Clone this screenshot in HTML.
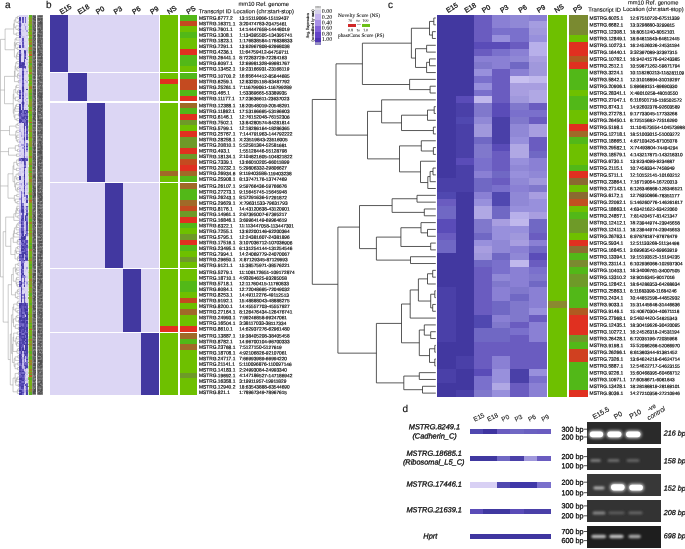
<!DOCTYPE html>
<html><head><meta charset="utf-8"><title>Figure</title>
<style>html,body{margin:0;padding:0;background:#fff;}svg{display:block;}</style></head>
<body><svg width="685" height="549" viewBox="0 0 685 549"><rect width="685" height="549" fill="#ffffff"/><text x="5.00" y="7.90" transform="rotate(0.1,5.00,7.90)" font-size="10.0" font-family="Liberation Sans, Arial, sans-serif" text-anchor="start" fill="#111111" stroke="#111111" stroke-width="0.15" >a</text>
<text x="46.10" y="7.90" transform="rotate(0.1,46.10,7.90)" font-size="10.0" font-family="Liberation Sans, Arial, sans-serif" text-anchor="start" fill="#111111" stroke="#111111" stroke-width="0.15" >b</text>
<text x="387.90" y="8.00" transform="rotate(0.1,387.90,8.00)" font-size="10.0" font-family="Liberation Sans, Arial, sans-serif" text-anchor="start" fill="#111111" stroke="#111111" stroke-width="0.15" >c</text>
<text x="402.40" y="411.90" transform="rotate(0.1,402.40,411.90)" font-size="10.0" font-family="Liberation Sans, Arial, sans-serif" text-anchor="start" fill="#111111" stroke="#111111" stroke-width="0.15" >d</text>
<rect x="50.30" y="15.10" width="108.60" height="56.52" fill="#dcd6f4" shape-rendering="crispEdges" />
<rect x="50.30" y="15.10" width="18.10" height="56.52" fill="#4238a0" shape-rendering="crispEdges" />
<rect x="160.30" y="15.10" width="17.70" height="5.70" fill="#6ec000" shape-rendering="crispEdges" />
<rect x="179.90" y="15.10" width="17.40" height="5.70" fill="#52b818" shape-rendering="crispEdges" />
<text x="199.00" y="19.68" transform="rotate(0.1,199.00,19.68)" font-size="4.85" font-family="Liberation Sans, Arial, sans-serif" text-anchor="start" fill="#111111" stroke="#111111" stroke-width="0.2" >MSTRG.6777.2</text>
<text x="239.20" y="19.68" transform="rotate(0.1,239.20,19.68)" font-size="4.75" font-family="Liberation Sans, Arial, sans-serif" text-anchor="start" fill="#111111" stroke="#111111" stroke-width="0.2" >13:15119066-15119437</text>
<rect x="160.30" y="20.75" width="17.70" height="5.70" fill="#6ec000" shape-rendering="crispEdges" />
<rect x="179.90" y="20.75" width="17.40" height="5.70" fill="#c44a20" shape-rendering="crispEdges" />
<text x="199.00" y="25.33" transform="rotate(0.1,199.00,25.33)" font-size="4.85" font-family="Liberation Sans, Arial, sans-serif" text-anchor="start" fill="#111111" stroke="#111111" stroke-width="0.2" >MSTRG.16371.1</text>
<text x="239.20" y="25.33" transform="rotate(0.1,239.20,25.33)" font-size="4.75" font-family="Liberation Sans, Arial, sans-serif" text-anchor="start" fill="#111111" stroke="#111111" stroke-width="0.2" >3:20474783-20475461</text>
<rect x="160.30" y="26.40" width="17.70" height="5.70" fill="#6ec000" shape-rendering="crispEdges" />
<rect x="179.90" y="26.40" width="17.40" height="5.70" fill="#6ec000" shape-rendering="crispEdges" />
<text x="199.00" y="30.98" transform="rotate(0.1,199.00,30.98)" font-size="4.85" font-family="Liberation Sans, Arial, sans-serif" text-anchor="start" fill="#111111" stroke="#111111" stroke-width="0.2" >MSTRG.7601.1</text>
<text x="239.20" y="30.98" transform="rotate(0.1,239.20,30.98)" font-size="4.75" font-family="Liberation Sans, Arial, sans-serif" text-anchor="start" fill="#111111" stroke="#111111" stroke-width="0.2" >14:14447658-14448019</text>
<rect x="160.30" y="32.06" width="17.70" height="5.70" fill="#6ec000" shape-rendering="crispEdges" />
<rect x="179.90" y="32.06" width="17.40" height="5.70" fill="#52b818" shape-rendering="crispEdges" />
<text x="199.00" y="36.63" transform="rotate(0.1,199.00,36.63)" font-size="4.85" font-family="Liberation Sans, Arial, sans-serif" text-anchor="start" fill="#111111" stroke="#111111" stroke-width="0.2" >MSTRG.1308.1</text>
<text x="239.20" y="36.63" transform="rotate(0.1,239.20,36.63)" font-size="4.75" font-family="Liberation Sans, Arial, sans-serif" text-anchor="start" fill="#111111" stroke="#111111" stroke-width="0.2" >1:134395505-134395741</text>
<rect x="160.30" y="37.71" width="17.70" height="5.70" fill="#6ec000" shape-rendering="crispEdges" />
<rect x="179.90" y="37.71" width="17.40" height="5.70" fill="#6ec000" shape-rendering="crispEdges" />
<text x="199.00" y="42.28" transform="rotate(0.1,199.00,42.28)" font-size="4.85" font-family="Liberation Sans, Arial, sans-serif" text-anchor="start" fill="#111111" stroke="#111111" stroke-width="0.2" >MSTRG.1823.1</text>
<text x="239.20" y="42.28" transform="rotate(0.1,239.20,42.28)" font-size="4.75" font-family="Liberation Sans, Arial, sans-serif" text-anchor="start" fill="#111111" stroke="#111111" stroke-width="0.2" >1:176838584-176838833</text>
<rect x="160.30" y="43.36" width="17.70" height="5.70" fill="#6ec000" shape-rendering="crispEdges" />
<rect x="179.90" y="43.36" width="17.40" height="5.70" fill="#6ec000" shape-rendering="crispEdges" />
<text x="199.00" y="47.94" transform="rotate(0.1,199.00,47.94)" font-size="4.85" font-family="Liberation Sans, Arial, sans-serif" text-anchor="start" fill="#111111" stroke="#111111" stroke-width="0.2" >MSTRG.7291.1</text>
<text x="239.20" y="47.94" transform="rotate(0.1,239.20,47.94)" font-size="4.75" font-family="Liberation Sans, Arial, sans-serif" text-anchor="start" fill="#111111" stroke="#111111" stroke-width="0.2" >13:62967808-62968038</text>
<rect x="160.30" y="49.01" width="17.70" height="5.70" fill="#6ec000" shape-rendering="crispEdges" />
<rect x="179.90" y="49.01" width="17.40" height="5.70" fill="#e03020" shape-rendering="crispEdges" />
<text x="199.00" y="53.59" transform="rotate(0.1,199.00,53.59)" font-size="4.85" font-family="Liberation Sans, Arial, sans-serif" text-anchor="start" fill="#111111" stroke="#111111" stroke-width="0.2" >MSTRG.4236.1</text>
<text x="239.20" y="53.59" transform="rotate(0.1,239.20,53.59)" font-size="4.75" font-family="Liberation Sans, Arial, sans-serif" text-anchor="start" fill="#111111" stroke="#111111" stroke-width="0.2" >11:64759412-64759711</text>
<rect x="160.30" y="54.66" width="17.70" height="5.70" fill="#6ec000" shape-rendering="crispEdges" />
<rect x="179.90" y="54.66" width="17.40" height="5.70" fill="#52b818" shape-rendering="crispEdges" />
<text x="199.00" y="59.24" transform="rotate(0.1,199.00,59.24)" font-size="4.85" font-family="Liberation Sans, Arial, sans-serif" text-anchor="start" fill="#111111" stroke="#111111" stroke-width="0.2" >MSTRG.26441.1</text>
<text x="239.20" y="59.24" transform="rotate(0.1,239.20,59.24)" font-size="4.75" font-family="Liberation Sans, Arial, sans-serif" text-anchor="start" fill="#111111" stroke="#111111" stroke-width="0.2" >8:72283729-72284163</text>
<rect x="160.30" y="60.32" width="17.70" height="5.70" fill="#6ec000" shape-rendering="crispEdges" />
<rect x="179.90" y="60.32" width="17.40" height="5.70" fill="#52b818" shape-rendering="crispEdges" />
<text x="199.00" y="64.89" transform="rotate(0.1,199.00,64.89)" font-size="4.85" font-family="Liberation Sans, Arial, sans-serif" text-anchor="start" fill="#111111" stroke="#111111" stroke-width="0.2" >MSTRG.6097.1</text>
<text x="239.20" y="64.89" transform="rotate(0.1,239.20,64.89)" font-size="4.75" font-family="Liberation Sans, Arial, sans-serif" text-anchor="start" fill="#111111" stroke="#111111" stroke-width="0.2" >12:69981328-69981767</text>
<rect x="160.30" y="65.97" width="17.70" height="5.70" fill="#6ec000" shape-rendering="crispEdges" />
<rect x="179.90" y="65.97" width="17.40" height="5.70" fill="#6ec000" shape-rendering="crispEdges" />
<text x="199.00" y="70.54" transform="rotate(0.1,199.00,70.54)" font-size="4.85" font-family="Liberation Sans, Arial, sans-serif" text-anchor="start" fill="#111111" stroke="#111111" stroke-width="0.2" >MSTRG.13452.1</text>
<text x="239.20" y="70.54" transform="rotate(0.1,239.20,70.54)" font-size="4.75" font-family="Liberation Sans, Arial, sans-serif" text-anchor="start" fill="#111111" stroke="#111111" stroke-width="0.2" >19:23166931-23168119</text>
<rect x="50.30" y="73.02" width="108.60" height="28.26" fill="#dcd6f4" shape-rendering="crispEdges" />
<rect x="68.40" y="73.02" width="18.10" height="28.26" fill="#4238a0" shape-rendering="crispEdges" />
<rect x="160.30" y="73.02" width="17.70" height="5.70" fill="#6ec000" shape-rendering="crispEdges" />
<rect x="179.90" y="73.02" width="17.40" height="5.70" fill="#52b818" shape-rendering="crispEdges" />
<text x="199.00" y="77.60" transform="rotate(0.1,199.00,77.60)" font-size="4.85" font-family="Liberation Sans, Arial, sans-serif" text-anchor="start" fill="#111111" stroke="#111111" stroke-width="0.2" >MSTRG.10700.2</text>
<text x="239.20" y="77.60" transform="rotate(0.1,239.20,77.60)" font-size="4.75" font-family="Liberation Sans, Arial, sans-serif" text-anchor="start" fill="#111111" stroke="#111111" stroke-width="0.2" >16:85644412-85644685</text>
<rect x="160.30" y="78.67" width="17.70" height="5.70" fill="#e03020" shape-rendering="crispEdges" />
<rect x="179.90" y="78.67" width="17.40" height="5.70" fill="#c44a20" shape-rendering="crispEdges" />
<text x="199.00" y="83.25" transform="rotate(0.1,199.00,83.25)" font-size="4.85" font-family="Liberation Sans, Arial, sans-serif" text-anchor="start" fill="#111111" stroke="#111111" stroke-width="0.2" >MSTRG.6259.1</text>
<text x="239.20" y="83.25" transform="rotate(0.1,239.20,83.25)" font-size="4.75" font-family="Liberation Sans, Arial, sans-serif" text-anchor="start" fill="#111111" stroke="#111111" stroke-width="0.2" >12:83205158-83487792</text>
<rect x="160.30" y="84.32" width="17.70" height="5.70" fill="#6ec000" shape-rendering="crispEdges" />
<rect x="179.90" y="84.32" width="17.40" height="5.70" fill="#c44a20" shape-rendering="crispEdges" />
<text x="199.00" y="88.90" transform="rotate(0.1,199.00,88.90)" font-size="4.85" font-family="Liberation Sans, Arial, sans-serif" text-anchor="start" fill="#111111" stroke="#111111" stroke-width="0.2" >MSTRG.25261.1</text>
<text x="239.20" y="88.90" transform="rotate(0.1,239.20,88.90)" font-size="4.75" font-family="Liberation Sans, Arial, sans-serif" text-anchor="start" fill="#111111" stroke="#111111" stroke-width="0.2" >7:116799061-116799289</text>
<rect x="160.30" y="89.98" width="17.70" height="5.70" fill="#6ec000" shape-rendering="crispEdges" />
<rect x="179.90" y="89.98" width="17.40" height="5.70" fill="#52b818" shape-rendering="crispEdges" />
<text x="199.00" y="94.55" transform="rotate(0.1,199.00,94.55)" font-size="4.85" font-family="Liberation Sans, Arial, sans-serif" text-anchor="start" fill="#111111" stroke="#111111" stroke-width="0.2" >MSTRG.465.1</text>
<text x="239.20" y="94.55" transform="rotate(0.1,239.20,94.55)" font-size="4.75" font-family="Liberation Sans, Arial, sans-serif" text-anchor="start" fill="#111111" stroke="#111111" stroke-width="0.2" >1:53389665-53389935</text>
<rect x="160.30" y="95.63" width="17.70" height="5.70" fill="#6ec000" shape-rendering="crispEdges" />
<rect x="179.90" y="95.63" width="17.40" height="5.70" fill="#e03020" shape-rendering="crispEdges" />
<text x="199.00" y="100.20" transform="rotate(0.1,199.00,100.20)" font-size="4.85" font-family="Liberation Sans, Arial, sans-serif" text-anchor="start" fill="#111111" stroke="#111111" stroke-width="0.2" >MSTRG.11177.1</text>
<text x="239.20" y="100.20" transform="rotate(0.1,239.20,100.20)" font-size="4.75" font-family="Liberation Sans, Arial, sans-serif" text-anchor="start" fill="#111111" stroke="#111111" stroke-width="0.2" >17:23636611-23637023</text>
<rect x="50.30" y="102.68" width="108.60" height="79.13" fill="#dcd6f4" shape-rendering="crispEdges" />
<rect x="86.50" y="102.68" width="18.10" height="79.13" fill="#4238a0" shape-rendering="crispEdges" />
<rect x="160.30" y="102.68" width="17.70" height="5.70" fill="#6ec000" shape-rendering="crispEdges" />
<rect x="179.90" y="102.68" width="17.40" height="5.70" fill="#a06a28" shape-rendering="crispEdges" />
<text x="199.00" y="107.26" transform="rotate(0.1,199.00,107.26)" font-size="4.85" font-family="Liberation Sans, Arial, sans-serif" text-anchor="start" fill="#111111" stroke="#111111" stroke-width="0.2" >MSTRG.12388.1</text>
<text x="239.20" y="107.26" transform="rotate(0.1,239.20,107.26)" font-size="4.75" font-family="Liberation Sans, Arial, sans-serif" text-anchor="start" fill="#111111" stroke="#111111" stroke-width="0.2" >18:20548019-20548291</text>
<rect x="160.30" y="108.33" width="17.70" height="5.70" fill="#6ec000" shape-rendering="crispEdges" />
<rect x="179.90" y="108.33" width="17.40" height="5.70" fill="#52b818" shape-rendering="crispEdges" />
<text x="199.00" y="112.91" transform="rotate(0.1,199.00,112.91)" font-size="4.85" font-family="Liberation Sans, Arial, sans-serif" text-anchor="start" fill="#111111" stroke="#111111" stroke-width="0.2" >MSTRG.11862.1</text>
<text x="239.20" y="112.91" transform="rotate(0.1,239.20,112.91)" font-size="4.75" font-family="Liberation Sans, Arial, sans-serif" text-anchor="start" fill="#111111" stroke="#111111" stroke-width="0.2" >17:53196695-53196903</text>
<rect x="160.30" y="113.98" width="17.70" height="5.70" fill="#6ec000" shape-rendering="crispEdges" />
<rect x="179.90" y="113.98" width="17.40" height="5.70" fill="#e03020" shape-rendering="crispEdges" />
<text x="199.00" y="118.56" transform="rotate(0.1,199.00,118.56)" font-size="4.85" font-family="Liberation Sans, Arial, sans-serif" text-anchor="start" fill="#111111" stroke="#111111" stroke-width="0.2" >MSTRG.6146.1</text>
<text x="239.20" y="118.56" transform="rotate(0.1,239.20,118.56)" font-size="4.75" font-family="Liberation Sans, Arial, sans-serif" text-anchor="start" fill="#111111" stroke="#111111" stroke-width="0.2" >12:76152048-76152306</text>
<rect x="160.30" y="119.64" width="17.70" height="5.70" fill="#6ec000" shape-rendering="crispEdges" />
<rect x="179.90" y="119.64" width="17.40" height="5.70" fill="#6e9a28" shape-rendering="crispEdges" />
<text x="199.00" y="124.21" transform="rotate(0.1,199.00,124.21)" font-size="4.85" font-family="Liberation Sans, Arial, sans-serif" text-anchor="start" fill="#111111" stroke="#111111" stroke-width="0.2" >MSTRG.7502.1</text>
<text x="239.20" y="124.21" transform="rotate(0.1,239.20,124.21)" font-size="4.75" font-family="Liberation Sans, Arial, sans-serif" text-anchor="start" fill="#111111" stroke="#111111" stroke-width="0.2" >13:84280574-84281814</text>
<rect x="160.30" y="125.29" width="17.70" height="5.70" fill="#6ec000" shape-rendering="crispEdges" />
<rect x="179.90" y="125.29" width="17.40" height="5.70" fill="#6ec000" shape-rendering="crispEdges" />
<text x="199.00" y="129.86" transform="rotate(0.1,199.00,129.86)" font-size="4.85" font-family="Liberation Sans, Arial, sans-serif" text-anchor="start" fill="#111111" stroke="#111111" stroke-width="0.2" >MSTRG.5799.1</text>
<text x="239.20" y="129.86" transform="rotate(0.1,239.20,129.86)" font-size="4.75" font-family="Liberation Sans, Arial, sans-serif" text-anchor="start" fill="#111111" stroke="#111111" stroke-width="0.2" >12:18286164-18286365</text>
<rect x="160.30" y="130.94" width="17.70" height="5.70" fill="#6ec000" shape-rendering="crispEdges" />
<rect x="179.90" y="130.94" width="17.40" height="5.70" fill="#e03020" shape-rendering="crispEdges" />
<text x="199.00" y="135.52" transform="rotate(0.1,199.00,135.52)" font-size="4.85" font-family="Liberation Sans, Arial, sans-serif" text-anchor="start" fill="#111111" stroke="#111111" stroke-width="0.2" >MSTRG.25767.1</text>
<text x="239.20" y="135.52" transform="rotate(0.1,239.20,135.52)" font-size="4.75" font-family="Liberation Sans, Arial, sans-serif" text-anchor="start" fill="#111111" stroke="#111111" stroke-width="0.2" >7:144791963-144792222</text>
<rect x="160.30" y="136.59" width="17.70" height="5.70" fill="#6ec000" shape-rendering="crispEdges" />
<rect x="179.90" y="136.59" width="17.40" height="5.70" fill="#6e9a28" shape-rendering="crispEdges" />
<text x="199.00" y="141.17" transform="rotate(0.1,199.00,141.17)" font-size="4.85" font-family="Liberation Sans, Arial, sans-serif" text-anchor="start" fill="#111111" stroke="#111111" stroke-width="0.2" >MSTRG.28258.1</text>
<text x="239.20" y="141.17" transform="rotate(0.1,239.20,141.17)" font-size="4.75" font-family="Liberation Sans, Arial, sans-serif" text-anchor="start" fill="#111111" stroke="#111111" stroke-width="0.2" >X:23519843-23516005</text>
<rect x="160.30" y="142.24" width="17.70" height="5.70" fill="#6ec000" shape-rendering="crispEdges" />
<rect x="179.90" y="142.24" width="17.40" height="5.70" fill="#6e9a28" shape-rendering="crispEdges" />
<text x="199.00" y="146.82" transform="rotate(0.1,199.00,146.82)" font-size="4.85" font-family="Liberation Sans, Arial, sans-serif" text-anchor="start" fill="#111111" stroke="#111111" stroke-width="0.2" >MSTRG.20810.1</text>
<text x="239.20" y="146.82" transform="rotate(0.1,239.20,146.82)" font-size="4.75" font-family="Liberation Sans, Arial, sans-serif" text-anchor="start" fill="#111111" stroke="#111111" stroke-width="0.2" >5:52581384-52581681</text>
<rect x="160.30" y="147.90" width="17.70" height="5.70" fill="#6ec000" shape-rendering="crispEdges" />
<rect x="179.90" y="147.90" width="17.40" height="5.70" fill="#e03020" shape-rendering="crispEdges" />
<text x="199.00" y="152.47" transform="rotate(0.1,199.00,152.47)" font-size="4.85" font-family="Liberation Sans, Arial, sans-serif" text-anchor="start" fill="#111111" stroke="#111111" stroke-width="0.2" >MSTRG.493.1</text>
<text x="239.20" y="152.47" transform="rotate(0.1,239.20,152.47)" font-size="4.75" font-family="Liberation Sans, Arial, sans-serif" text-anchor="start" fill="#111111" stroke="#111111" stroke-width="0.2" >1:55128446-55128798</text>
<rect x="160.30" y="153.55" width="17.70" height="5.70" fill="#6ec000" shape-rendering="crispEdges" />
<rect x="179.90" y="153.55" width="17.40" height="5.70" fill="#6e9a28" shape-rendering="crispEdges" />
<text x="199.00" y="158.12" transform="rotate(0.1,199.00,158.12)" font-size="4.85" font-family="Liberation Sans, Arial, sans-serif" text-anchor="start" fill="#111111" stroke="#111111" stroke-width="0.2" >MSTRG.18134.1</text>
<text x="239.20" y="158.12" transform="rotate(0.1,239.20,158.12)" font-size="4.75" font-family="Liberation Sans, Arial, sans-serif" text-anchor="start" fill="#111111" stroke="#111111" stroke-width="0.2" >2:104821605-104821822</text>
<rect x="160.30" y="159.20" width="17.70" height="5.70" fill="#6ec000" shape-rendering="crispEdges" />
<rect x="179.90" y="159.20" width="17.40" height="5.70" fill="#c44a20" shape-rendering="crispEdges" />
<text x="199.00" y="163.78" transform="rotate(0.1,199.00,163.78)" font-size="4.85" font-family="Liberation Sans, Arial, sans-serif" text-anchor="start" fill="#111111" stroke="#111111" stroke-width="0.2" >MSTRG.7339.1</text>
<text x="239.20" y="163.78" transform="rotate(0.1,239.20,163.78)" font-size="4.75" font-family="Liberation Sans, Arial, sans-serif" text-anchor="start" fill="#111111" stroke="#111111" stroke-width="0.2" >13:66010205-66011899</text>
<rect x="160.30" y="164.85" width="17.70" height="5.70" fill="#6ec000" shape-rendering="crispEdges" />
<rect x="179.90" y="164.85" width="17.40" height="5.70" fill="#e03020" shape-rendering="crispEdges" />
<text x="199.00" y="169.43" transform="rotate(0.1,199.00,169.43)" font-size="4.85" font-family="Liberation Sans, Arial, sans-serif" text-anchor="start" fill="#111111" stroke="#111111" stroke-width="0.2" >MSTRG.20232.1</text>
<text x="239.20" y="169.43" transform="rotate(0.1,239.20,169.43)" font-size="4.75" font-family="Liberation Sans, Arial, sans-serif" text-anchor="start" fill="#111111" stroke="#111111" stroke-width="0.2" >5:29806332-29806627</text>
<rect x="160.30" y="170.50" width="17.70" height="5.70" fill="#a06a28" shape-rendering="crispEdges" />
<rect x="179.90" y="170.50" width="17.40" height="5.70" fill="#a06a28" shape-rendering="crispEdges" />
<text x="199.00" y="175.08" transform="rotate(0.1,199.00,175.08)" font-size="4.85" font-family="Liberation Sans, Arial, sans-serif" text-anchor="start" fill="#111111" stroke="#111111" stroke-width="0.2" >MSTRG.26934.6</text>
<text x="239.20" y="175.08" transform="rotate(0.1,239.20,175.08)" font-size="4.75" font-family="Liberation Sans, Arial, sans-serif" text-anchor="start" fill="#111111" stroke="#111111" stroke-width="0.2" >9:119403588-119403238</text>
<rect x="160.30" y="176.16" width="17.70" height="5.70" fill="#6ec000" shape-rendering="crispEdges" />
<rect x="179.90" y="176.16" width="17.40" height="5.70" fill="#52b818" shape-rendering="crispEdges" />
<text x="199.00" y="180.73" transform="rotate(0.1,199.00,180.73)" font-size="4.85" font-family="Liberation Sans, Arial, sans-serif" text-anchor="start" fill="#111111" stroke="#111111" stroke-width="0.2" >MSTRG.25908.1</text>
<text x="239.20" y="180.73" transform="rotate(0.1,239.20,180.73)" font-size="4.75" font-family="Liberation Sans, Arial, sans-serif" text-anchor="start" fill="#111111" stroke="#111111" stroke-width="0.2" >8:13747176-13747469</text>
<rect x="50.30" y="183.21" width="108.60" height="84.78" fill="#dcd6f4" shape-rendering="crispEdges" />
<rect x="104.60" y="183.21" width="18.10" height="84.78" fill="#4238a0" shape-rendering="crispEdges" />
<rect x="160.30" y="183.21" width="17.70" height="5.70" fill="#6ec000" shape-rendering="crispEdges" />
<rect x="179.90" y="183.21" width="17.40" height="5.70" fill="#a06a28" shape-rendering="crispEdges" />
<text x="199.00" y="187.78" transform="rotate(0.1,199.00,187.78)" font-size="4.85" font-family="Liberation Sans, Arial, sans-serif" text-anchor="start" fill="#111111" stroke="#111111" stroke-width="0.2" >MSTRG.26107.1</text>
<text x="239.20" y="187.78" transform="rotate(0.1,239.20,187.78)" font-size="4.75" font-family="Liberation Sans, Arial, sans-serif" text-anchor="start" fill="#111111" stroke="#111111" stroke-width="0.2" >9:59766436-59766676</text>
<rect x="160.30" y="188.86" width="17.70" height="5.70" fill="#6ec000" shape-rendering="crispEdges" />
<rect x="179.90" y="188.86" width="17.40" height="5.70" fill="#52b818" shape-rendering="crispEdges" />
<text x="199.00" y="193.44" transform="rotate(0.1,199.00,193.44)" font-size="4.85" font-family="Liberation Sans, Arial, sans-serif" text-anchor="start" fill="#111111" stroke="#111111" stroke-width="0.2" >MSTRG.27273.1</text>
<text x="239.20" y="193.44" transform="rotate(0.1,239.20,193.44)" font-size="4.75" font-family="Liberation Sans, Arial, sans-serif" text-anchor="start" fill="#111111" stroke="#111111" stroke-width="0.2" >9:15645745-15645948</text>
<rect x="160.30" y="194.51" width="17.70" height="5.70" fill="#6ec000" shape-rendering="crispEdges" />
<rect x="179.90" y="194.51" width="17.40" height="5.70" fill="#52b818" shape-rendering="crispEdges" />
<text x="199.00" y="199.09" transform="rotate(0.1,199.00,199.09)" font-size="4.85" font-family="Liberation Sans, Arial, sans-serif" text-anchor="start" fill="#111111" stroke="#111111" stroke-width="0.2" >MSTRG.26243.1</text>
<text x="239.20" y="199.09" transform="rotate(0.1,239.20,199.09)" font-size="4.75" font-family="Liberation Sans, Arial, sans-serif" text-anchor="start" fill="#111111" stroke="#111111" stroke-width="0.2" >8:57291636-57291872</text>
<rect x="160.30" y="200.16" width="17.70" height="5.70" fill="#6ec000" shape-rendering="crispEdges" />
<rect x="179.90" y="200.16" width="17.40" height="5.70" fill="#a06a28" shape-rendering="crispEdges" />
<text x="199.00" y="204.74" transform="rotate(0.1,199.00,204.74)" font-size="4.85" font-family="Liberation Sans, Arial, sans-serif" text-anchor="start" fill="#111111" stroke="#111111" stroke-width="0.2" >MSTRG.29629.1</text>
<text x="239.20" y="204.74" transform="rotate(0.1,239.20,204.74)" font-size="4.75" font-family="Liberation Sans, Arial, sans-serif" text-anchor="start" fill="#111111" stroke="#111111" stroke-width="0.2" >X:79631533-79631793</text>
<rect x="160.30" y="205.82" width="17.70" height="5.70" fill="#6ec000" shape-rendering="crispEdges" />
<rect x="179.90" y="205.82" width="17.40" height="5.70" fill="#c44a20" shape-rendering="crispEdges" />
<text x="199.00" y="210.39" transform="rotate(0.1,199.00,210.39)" font-size="4.85" font-family="Liberation Sans, Arial, sans-serif" text-anchor="start" fill="#111111" stroke="#111111" stroke-width="0.2" >MSTRG.8176.1</text>
<text x="239.20" y="210.39" transform="rotate(0.1,239.20,210.39)" font-size="4.75" font-family="Liberation Sans, Arial, sans-serif" text-anchor="start" fill="#111111" stroke="#111111" stroke-width="0.2" >14:43120638-43120901</text>
<rect x="160.30" y="211.47" width="17.70" height="5.70" fill="#6ec000" shape-rendering="crispEdges" />
<rect x="179.90" y="211.47" width="17.40" height="5.70" fill="#6e9a28" shape-rendering="crispEdges" />
<text x="199.00" y="216.04" transform="rotate(0.1,199.00,216.04)" font-size="4.85" font-family="Liberation Sans, Arial, sans-serif" text-anchor="start" fill="#111111" stroke="#111111" stroke-width="0.2" >MSTRG.14961.1</text>
<text x="239.20" y="216.04" transform="rotate(0.1,239.20,216.04)" font-size="4.75" font-family="Liberation Sans, Arial, sans-serif" text-anchor="start" fill="#111111" stroke="#111111" stroke-width="0.2" >2:67395007-67395217</text>
<rect x="160.30" y="217.12" width="17.70" height="5.70" fill="#6ec000" shape-rendering="crispEdges" />
<rect x="179.90" y="217.12" width="17.40" height="5.70" fill="#e03020" shape-rendering="crispEdges" />
<text x="199.00" y="221.70" transform="rotate(0.1,199.00,221.70)" font-size="4.85" font-family="Liberation Sans, Arial, sans-serif" text-anchor="start" fill="#111111" stroke="#111111" stroke-width="0.2" >MSTRG.16846.1</text>
<text x="239.20" y="221.70" transform="rotate(0.1,239.20,221.70)" font-size="4.75" font-family="Liberation Sans, Arial, sans-serif" text-anchor="start" fill="#111111" stroke="#111111" stroke-width="0.2" >3:69964149-69964619</text>
<rect x="160.30" y="222.77" width="17.70" height="5.70" fill="#6ec000" shape-rendering="crispEdges" />
<rect x="179.90" y="222.77" width="17.40" height="5.70" fill="#52b818" shape-rendering="crispEdges" />
<text x="199.00" y="227.35" transform="rotate(0.1,199.00,227.35)" font-size="4.85" font-family="Liberation Sans, Arial, sans-serif" text-anchor="start" fill="#111111" stroke="#111111" stroke-width="0.2" >MSTRG.6322.1</text>
<text x="239.20" y="227.35" transform="rotate(0.1,239.20,227.35)" font-size="4.75" font-family="Liberation Sans, Arial, sans-serif" text-anchor="start" fill="#111111" stroke="#111111" stroke-width="0.2" >11:113447058-113447301</text>
<rect x="160.30" y="228.42" width="17.70" height="5.70" fill="#6ec000" shape-rendering="crispEdges" />
<rect x="179.90" y="228.42" width="17.40" height="5.70" fill="#6ec000" shape-rendering="crispEdges" />
<text x="199.00" y="233.00" transform="rotate(0.1,199.00,233.00)" font-size="4.85" font-family="Liberation Sans, Arial, sans-serif" text-anchor="start" fill="#111111" stroke="#111111" stroke-width="0.2" >MSTRG.7255.1</text>
<text x="239.20" y="233.00" transform="rotate(0.1,239.20,233.00)" font-size="4.75" font-family="Liberation Sans, Arial, sans-serif" text-anchor="start" fill="#111111" stroke="#111111" stroke-width="0.2" >13:62200146-62200364</text>
<rect x="160.30" y="234.08" width="17.70" height="5.70" fill="#6ec000" shape-rendering="crispEdges" />
<rect x="179.90" y="234.08" width="17.40" height="5.70" fill="#6e9a28" shape-rendering="crispEdges" />
<text x="199.00" y="238.65" transform="rotate(0.1,199.00,238.65)" font-size="4.85" font-family="Liberation Sans, Arial, sans-serif" text-anchor="start" fill="#111111" stroke="#111111" stroke-width="0.2" >MSTRG.5795.1</text>
<text x="239.20" y="238.65" transform="rotate(0.1,239.20,238.65)" font-size="4.75" font-family="Liberation Sans, Arial, sans-serif" text-anchor="start" fill="#111111" stroke="#111111" stroke-width="0.2" >12:24381607-24381896</text>
<rect x="160.30" y="239.73" width="17.70" height="5.70" fill="#6ec000" shape-rendering="crispEdges" />
<rect x="179.90" y="239.73" width="17.40" height="5.70" fill="#e03020" shape-rendering="crispEdges" />
<text x="199.00" y="244.30" transform="rotate(0.1,199.00,244.30)" font-size="4.85" font-family="Liberation Sans, Arial, sans-serif" text-anchor="start" fill="#111111" stroke="#111111" stroke-width="0.2" >MSTRG.17516.1</text>
<text x="239.20" y="244.30" transform="rotate(0.1,239.20,244.30)" font-size="4.75" font-family="Liberation Sans, Arial, sans-serif" text-anchor="start" fill="#111111" stroke="#111111" stroke-width="0.2" >3:107036712-107036906</text>
<rect x="160.30" y="245.38" width="17.70" height="5.70" fill="#6ec000" shape-rendering="crispEdges" />
<rect x="179.90" y="245.38" width="17.40" height="5.70" fill="#52b818" shape-rendering="crispEdges" />
<text x="199.00" y="249.96" transform="rotate(0.1,199.00,249.96)" font-size="4.85" font-family="Liberation Sans, Arial, sans-serif" text-anchor="start" fill="#111111" stroke="#111111" stroke-width="0.2" >MSTRG.23495.1</text>
<text x="239.20" y="249.96" transform="rotate(0.1,239.20,249.96)" font-size="4.75" font-family="Liberation Sans, Arial, sans-serif" text-anchor="start" fill="#111111" stroke="#111111" stroke-width="0.2" >6:131254144-131254546</text>
<rect x="160.30" y="251.03" width="17.70" height="5.70" fill="#6ec000" shape-rendering="crispEdges" />
<rect x="179.90" y="251.03" width="17.40" height="5.70" fill="#6ec000" shape-rendering="crispEdges" />
<text x="199.00" y="255.61" transform="rotate(0.1,199.00,255.61)" font-size="4.85" font-family="Liberation Sans, Arial, sans-serif" text-anchor="start" fill="#111111" stroke="#111111" stroke-width="0.2" >MSTRG.7994.1</text>
<text x="239.20" y="255.61" transform="rotate(0.1,239.20,255.61)" font-size="4.75" font-family="Liberation Sans, Arial, sans-serif" text-anchor="start" fill="#111111" stroke="#111111" stroke-width="0.2" >14:24069779-24070067</text>
<rect x="160.30" y="256.68" width="17.70" height="5.70" fill="#6ec000" shape-rendering="crispEdges" />
<rect x="179.90" y="256.68" width="17.40" height="5.70" fill="#6e9a28" shape-rendering="crispEdges" />
<text x="199.00" y="261.26" transform="rotate(0.1,199.00,261.26)" font-size="4.85" font-family="Liberation Sans, Arial, sans-serif" text-anchor="start" fill="#111111" stroke="#111111" stroke-width="0.2" >MSTRG.29650.1</text>
<text x="239.20" y="261.26" transform="rotate(0.1,239.20,261.26)" font-size="4.75" font-family="Liberation Sans, Arial, sans-serif" text-anchor="start" fill="#111111" stroke="#111111" stroke-width="0.2" >X:87129345-87129693</text>
<rect x="160.30" y="262.34" width="17.70" height="5.70" fill="#6ec000" shape-rendering="crispEdges" />
<rect x="179.90" y="262.34" width="17.40" height="5.70" fill="#6ec000" shape-rendering="crispEdges" />
<text x="199.00" y="266.91" transform="rotate(0.1,199.00,266.91)" font-size="4.85" font-family="Liberation Sans, Arial, sans-serif" text-anchor="start" fill="#111111" stroke="#111111" stroke-width="0.2" >MSTRG.9121.1</text>
<text x="239.20" y="266.91" transform="rotate(0.1,239.20,266.91)" font-size="4.75" font-family="Liberation Sans, Arial, sans-serif" text-anchor="start" fill="#111111" stroke="#111111" stroke-width="0.2" >15:38575971-38576221</text>
<rect x="50.30" y="269.39" width="108.60" height="62.17" fill="#dcd6f4" shape-rendering="crispEdges" />
<rect x="122.70" y="269.39" width="18.10" height="62.17" fill="#4238a0" shape-rendering="crispEdges" />
<rect x="160.30" y="269.39" width="17.70" height="5.70" fill="#6ec000" shape-rendering="crispEdges" />
<rect x="179.90" y="269.39" width="17.40" height="5.70" fill="#6ec000" shape-rendering="crispEdges" />
<text x="199.00" y="273.96" transform="rotate(0.1,199.00,273.96)" font-size="4.85" font-family="Liberation Sans, Arial, sans-serif" text-anchor="start" fill="#111111" stroke="#111111" stroke-width="0.2" >MSTRG.5279.1</text>
<text x="239.20" y="273.96" transform="rotate(0.1,239.20,273.96)" font-size="4.75" font-family="Liberation Sans, Arial, sans-serif" text-anchor="start" fill="#111111" stroke="#111111" stroke-width="0.2" >11:109172651-109172874</text>
<rect x="160.30" y="275.04" width="17.70" height="5.70" fill="#6ec000" shape-rendering="crispEdges" />
<rect x="179.90" y="275.04" width="17.40" height="5.70" fill="#6ec000" shape-rendering="crispEdges" />
<text x="199.00" y="279.62" transform="rotate(0.1,199.00,279.62)" font-size="4.85" font-family="Liberation Sans, Arial, sans-serif" text-anchor="start" fill="#111111" stroke="#111111" stroke-width="0.2" >MSTRG.18710.1</text>
<text x="239.20" y="279.62" transform="rotate(0.1,239.20,279.62)" font-size="4.75" font-family="Liberation Sans, Arial, sans-serif" text-anchor="start" fill="#111111" stroke="#111111" stroke-width="0.2" >4:93284625-93285058</text>
<rect x="160.30" y="280.69" width="17.70" height="5.70" fill="#6ec000" shape-rendering="crispEdges" />
<rect x="179.90" y="280.69" width="17.40" height="5.70" fill="#52b818" shape-rendering="crispEdges" />
<text x="199.00" y="285.27" transform="rotate(0.1,199.00,285.27)" font-size="4.85" font-family="Liberation Sans, Arial, sans-serif" text-anchor="start" fill="#111111" stroke="#111111" stroke-width="0.2" >MSTRG.5718.1</text>
<text x="239.20" y="285.27" transform="rotate(0.1,239.20,285.27)" font-size="4.75" font-family="Liberation Sans, Arial, sans-serif" text-anchor="start" fill="#111111" stroke="#111111" stroke-width="0.2" >12:11760415-11760833</text>
<rect x="160.30" y="286.34" width="17.70" height="5.70" fill="#6ec000" shape-rendering="crispEdges" />
<rect x="179.90" y="286.34" width="17.40" height="5.70" fill="#52b818" shape-rendering="crispEdges" />
<text x="199.00" y="290.92" transform="rotate(0.1,199.00,290.92)" font-size="4.85" font-family="Liberation Sans, Arial, sans-serif" text-anchor="start" fill="#111111" stroke="#111111" stroke-width="0.2" >MSTRG.6084.1</text>
<text x="239.20" y="290.92" transform="rotate(0.1,239.20,290.92)" font-size="4.75" font-family="Liberation Sans, Arial, sans-serif" text-anchor="start" fill="#111111" stroke="#111111" stroke-width="0.2" >12:72048695-72049032</text>
<rect x="160.30" y="292.00" width="17.70" height="5.70" fill="#6ec000" shape-rendering="crispEdges" />
<rect x="179.90" y="292.00" width="17.40" height="5.70" fill="#6ec000" shape-rendering="crispEdges" />
<text x="199.00" y="296.57" transform="rotate(0.1,199.00,296.57)" font-size="4.85" font-family="Liberation Sans, Arial, sans-serif" text-anchor="start" fill="#111111" stroke="#111111" stroke-width="0.2" >MSTRG.8253.1</text>
<text x="239.20" y="296.57" transform="rotate(0.1,239.20,296.57)" font-size="4.75" font-family="Liberation Sans, Arial, sans-serif" text-anchor="start" fill="#111111" stroke="#111111" stroke-width="0.2" >14:49112276-49112513</text>
<rect x="160.30" y="297.65" width="17.70" height="5.70" fill="#6ec000" shape-rendering="crispEdges" />
<rect x="179.90" y="297.65" width="17.40" height="5.70" fill="#c44a20" shape-rendering="crispEdges" />
<text x="199.00" y="302.22" transform="rotate(0.1,199.00,302.22)" font-size="4.85" font-family="Liberation Sans, Arial, sans-serif" text-anchor="start" fill="#111111" stroke="#111111" stroke-width="0.2" >MSTRG.9192.1</text>
<text x="239.20" y="302.22" transform="rotate(0.1,239.20,302.22)" font-size="4.75" font-family="Liberation Sans, Arial, sans-serif" text-anchor="start" fill="#111111" stroke="#111111" stroke-width="0.2" >15:48888043-48888275</text>
<rect x="160.30" y="303.30" width="17.70" height="5.70" fill="#6ec000" shape-rendering="crispEdges" />
<rect x="179.90" y="303.30" width="17.40" height="5.70" fill="#6ec000" shape-rendering="crispEdges" />
<text x="199.00" y="307.88" transform="rotate(0.1,199.00,307.88)" font-size="4.85" font-family="Liberation Sans, Arial, sans-serif" text-anchor="start" fill="#111111" stroke="#111111" stroke-width="0.2" >MSTRG.8200.1</text>
<text x="239.20" y="307.88" transform="rotate(0.1,239.20,307.88)" font-size="4.75" font-family="Liberation Sans, Arial, sans-serif" text-anchor="start" fill="#111111" stroke="#111111" stroke-width="0.2" >14:45557703-45557927</text>
<rect x="160.30" y="308.95" width="17.70" height="5.70" fill="#6ec000" shape-rendering="crispEdges" />
<rect x="179.90" y="308.95" width="17.40" height="5.70" fill="#a06a28" shape-rendering="crispEdges" />
<text x="199.00" y="313.53" transform="rotate(0.1,199.00,313.53)" font-size="4.85" font-family="Liberation Sans, Arial, sans-serif" text-anchor="start" fill="#111111" stroke="#111111" stroke-width="0.2" >MSTRG.27164.1</text>
<text x="239.20" y="313.53" transform="rotate(0.1,239.20,313.53)" font-size="4.75" font-family="Liberation Sans, Arial, sans-serif" text-anchor="start" fill="#111111" stroke="#111111" stroke-width="0.2" >8:126476434-126476741</text>
<rect x="160.30" y="314.60" width="17.70" height="5.70" fill="#6ec000" shape-rendering="crispEdges" />
<rect x="179.90" y="314.60" width="17.40" height="5.70" fill="#6ec000" shape-rendering="crispEdges" />
<text x="199.00" y="319.18" transform="rotate(0.1,199.00,319.18)" font-size="4.85" font-family="Liberation Sans, Arial, sans-serif" text-anchor="start" fill="#111111" stroke="#111111" stroke-width="0.2" >MSTRG.24993.1</text>
<text x="239.20" y="319.18" transform="rotate(0.1,239.20,319.18)" font-size="4.75" font-family="Liberation Sans, Arial, sans-serif" text-anchor="start" fill="#111111" stroke="#111111" stroke-width="0.2" >7:99246858-99247061</text>
<rect x="160.30" y="320.26" width="17.70" height="5.70" fill="#6ec000" shape-rendering="crispEdges" />
<rect x="179.90" y="320.26" width="17.40" height="5.70" fill="#6ec000" shape-rendering="crispEdges" />
<text x="199.00" y="324.83" transform="rotate(0.1,199.00,324.83)" font-size="4.85" font-family="Liberation Sans, Arial, sans-serif" text-anchor="start" fill="#111111" stroke="#111111" stroke-width="0.2" >MSTRG.16504.1</text>
<text x="239.20" y="324.83" transform="rotate(0.1,239.20,324.83)" font-size="4.75" font-family="Liberation Sans, Arial, sans-serif" text-anchor="start" fill="#111111" stroke="#111111" stroke-width="0.2" >3:38117033-38117334</text>
<rect x="160.30" y="325.91" width="17.70" height="5.70" fill="#e03020" shape-rendering="crispEdges" />
<rect x="179.90" y="325.91" width="17.40" height="5.70" fill="#e03020" shape-rendering="crispEdges" />
<text x="199.00" y="330.48" transform="rotate(0.1,199.00,330.48)" font-size="4.85" font-family="Liberation Sans, Arial, sans-serif" text-anchor="start" fill="#111111" stroke="#111111" stroke-width="0.2" >MSTRG.8610.1</text>
<text x="239.20" y="330.48" transform="rotate(0.1,239.20,330.48)" font-size="4.75" font-family="Liberation Sans, Arial, sans-serif" text-anchor="start" fill="#111111" stroke="#111111" stroke-width="0.2" >14:62937276-62961480</text>
<rect x="50.30" y="332.96" width="108.60" height="62.17" fill="#dcd6f4" shape-rendering="crispEdges" />
<rect x="140.80" y="332.96" width="18.10" height="62.17" fill="#4238a0" shape-rendering="crispEdges" />
<rect x="160.30" y="332.96" width="17.70" height="5.70" fill="#6ec000" shape-rendering="crispEdges" />
<rect x="179.90" y="332.96" width="17.40" height="5.70" fill="#a06a28" shape-rendering="crispEdges" />
<text x="199.00" y="337.54" transform="rotate(0.1,199.00,337.54)" font-size="4.85" font-family="Liberation Sans, Arial, sans-serif" text-anchor="start" fill="#111111" stroke="#111111" stroke-width="0.2" >MSTRG.13887.1</text>
<text x="239.20" y="337.54" transform="rotate(0.1,239.20,337.54)" font-size="4.75" font-family="Liberation Sans, Arial, sans-serif" text-anchor="start" fill="#111111" stroke="#111111" stroke-width="0.2" >19:38405208-38405458</text>
<rect x="160.30" y="338.61" width="17.70" height="5.70" fill="#6ec000" shape-rendering="crispEdges" />
<rect x="179.90" y="338.61" width="17.40" height="5.70" fill="#52b818" shape-rendering="crispEdges" />
<text x="199.00" y="343.19" transform="rotate(0.1,199.00,343.19)" font-size="4.85" font-family="Liberation Sans, Arial, sans-serif" text-anchor="start" fill="#111111" stroke="#111111" stroke-width="0.2" >MSTRG.8782.1</text>
<text x="239.20" y="343.19" transform="rotate(0.1,239.20,343.19)" font-size="4.75" font-family="Liberation Sans, Arial, sans-serif" text-anchor="start" fill="#111111" stroke="#111111" stroke-width="0.2" >14:96700104-96700333</text>
<rect x="160.30" y="344.26" width="17.70" height="5.70" fill="#6ec000" shape-rendering="crispEdges" />
<rect x="179.90" y="344.26" width="17.40" height="5.70" fill="#a06a28" shape-rendering="crispEdges" />
<text x="199.00" y="348.84" transform="rotate(0.1,199.00,348.84)" font-size="4.85" font-family="Liberation Sans, Arial, sans-serif" text-anchor="start" fill="#111111" stroke="#111111" stroke-width="0.2" >MSTRG.23768.1</text>
<text x="239.20" y="348.84" transform="rotate(0.1,239.20,348.84)" font-size="4.75" font-family="Liberation Sans, Arial, sans-serif" text-anchor="start" fill="#111111" stroke="#111111" stroke-width="0.2" >7:5127150-5127619</text>
<rect x="160.30" y="349.92" width="17.70" height="5.70" fill="#6ec000" shape-rendering="crispEdges" />
<rect x="179.90" y="349.92" width="17.40" height="5.70" fill="#6ec000" shape-rendering="crispEdges" />
<text x="199.00" y="354.49" transform="rotate(0.1,199.00,354.49)" font-size="4.85" font-family="Liberation Sans, Arial, sans-serif" text-anchor="start" fill="#111111" stroke="#111111" stroke-width="0.2" >MSTRG.18708.1</text>
<text x="239.20" y="354.49" transform="rotate(0.1,239.20,354.49)" font-size="4.75" font-family="Liberation Sans, Arial, sans-serif" text-anchor="start" fill="#111111" stroke="#111111" stroke-width="0.2" >4:92106826-92107061</text>
<rect x="160.30" y="355.57" width="17.70" height="5.70" fill="#6ec000" shape-rendering="crispEdges" />
<rect x="179.90" y="355.57" width="17.40" height="5.70" fill="#6ec000" shape-rendering="crispEdges" />
<text x="199.00" y="360.14" transform="rotate(0.1,199.00,360.14)" font-size="4.85" font-family="Liberation Sans, Arial, sans-serif" text-anchor="start" fill="#111111" stroke="#111111" stroke-width="0.2" >MSTRG.24717.1</text>
<text x="239.20" y="360.14" transform="rotate(0.1,239.20,360.14)" font-size="4.75" font-family="Liberation Sans, Arial, sans-serif" text-anchor="start" fill="#111111" stroke="#111111" stroke-width="0.2" >7:66993989-66994220</text>
<rect x="160.30" y="361.22" width="17.70" height="5.70" fill="#6ec000" shape-rendering="crispEdges" />
<rect x="179.90" y="361.22" width="17.40" height="5.70" fill="#6ec000" shape-rendering="crispEdges" />
<text x="199.00" y="365.80" transform="rotate(0.1,199.00,365.80)" font-size="4.85" font-family="Liberation Sans, Arial, sans-serif" text-anchor="start" fill="#111111" stroke="#111111" stroke-width="0.2" >MSTRG.21141.1</text>
<text x="239.20" y="365.80" transform="rotate(0.1,239.20,365.80)" font-size="4.75" font-family="Liberation Sans, Arial, sans-serif" text-anchor="start" fill="#111111" stroke="#111111" stroke-width="0.2" >5:110096876-110097146</text>
<rect x="160.30" y="366.87" width="17.70" height="5.70" fill="#6ec000" shape-rendering="crispEdges" />
<rect x="179.90" y="366.87" width="17.40" height="5.70" fill="#6ec000" shape-rendering="crispEdges" />
<text x="199.00" y="371.45" transform="rotate(0.1,199.00,371.45)" font-size="4.85" font-family="Liberation Sans, Arial, sans-serif" text-anchor="start" fill="#111111" stroke="#111111" stroke-width="0.2" >MSTRG.14183.1</text>
<text x="239.20" y="371.45" transform="rotate(0.1,239.20,371.45)" font-size="4.75" font-family="Liberation Sans, Arial, sans-serif" text-anchor="start" fill="#111111" stroke="#111111" stroke-width="0.2" >2:24993084-24993340</text>
<rect x="160.30" y="372.52" width="17.70" height="5.70" fill="#6ec000" shape-rendering="crispEdges" />
<rect x="179.90" y="372.52" width="17.40" height="5.70" fill="#6e9a28" shape-rendering="crispEdges" />
<text x="199.00" y="377.10" transform="rotate(0.1,199.00,377.10)" font-size="4.85" font-family="Liberation Sans, Arial, sans-serif" text-anchor="start" fill="#111111" stroke="#111111" stroke-width="0.2" >MSTRG.19692.1</text>
<text x="239.20" y="377.10" transform="rotate(0.1,239.20,377.10)" font-size="4.75" font-family="Liberation Sans, Arial, sans-serif" text-anchor="start" fill="#111111" stroke="#111111" stroke-width="0.2" >4:147186527-147186942</text>
<rect x="160.30" y="378.18" width="17.70" height="5.70" fill="#6ec000" shape-rendering="crispEdges" />
<rect x="179.90" y="378.18" width="17.40" height="5.70" fill="#6ec000" shape-rendering="crispEdges" />
<text x="199.00" y="382.75" transform="rotate(0.1,199.00,382.75)" font-size="4.85" font-family="Liberation Sans, Arial, sans-serif" text-anchor="start" fill="#111111" stroke="#111111" stroke-width="0.2" >MSTRG.16358.1</text>
<text x="239.20" y="382.75" transform="rotate(0.1,239.20,382.75)" font-size="4.75" font-family="Liberation Sans, Arial, sans-serif" text-anchor="start" fill="#111111" stroke="#111111" stroke-width="0.2" >3:19911957-19911829</text>
<rect x="160.30" y="383.83" width="17.70" height="5.70" fill="#6ec000" shape-rendering="crispEdges" />
<rect x="179.90" y="383.83" width="17.40" height="5.70" fill="#6ec000" shape-rendering="crispEdges" />
<text x="199.00" y="388.40" transform="rotate(0.1,199.00,388.40)" font-size="4.85" font-family="Liberation Sans, Arial, sans-serif" text-anchor="start" fill="#111111" stroke="#111111" stroke-width="0.2" >MSTRG.12940.2</text>
<text x="239.20" y="388.40" transform="rotate(0.1,239.20,388.40)" font-size="4.75" font-family="Liberation Sans, Arial, sans-serif" text-anchor="start" fill="#111111" stroke="#111111" stroke-width="0.2" >18:63543888-63544690</text>
<rect x="160.30" y="389.48" width="17.70" height="5.70" fill="#6ec000" shape-rendering="crispEdges" />
<rect x="179.90" y="389.48" width="17.40" height="5.70" fill="#6ec000" shape-rendering="crispEdges" />
<text x="199.00" y="394.06" transform="rotate(0.1,199.00,394.06)" font-size="4.85" font-family="Liberation Sans, Arial, sans-serif" text-anchor="start" fill="#111111" stroke="#111111" stroke-width="0.2" >MSTRG.821.1</text>
<text x="239.20" y="394.06" transform="rotate(0.1,239.20,394.06)" font-size="4.75" font-family="Liberation Sans, Arial, sans-serif" text-anchor="start" fill="#111111" stroke="#111111" stroke-width="0.2" >1:78967349-78967615</text>
<text transform="translate(61.51,14.50) rotate(-32)" font-size="7.0" font-family="Liberation Sans, Arial, sans-serif" fill="#1a1a1a" stroke="#1a1a1a" stroke-width="0.3" >E15</text>
<text transform="translate(79.41,14.50) rotate(-32)" font-size="7.0" font-family="Liberation Sans, Arial, sans-serif" fill="#1a1a1a" stroke="#1a1a1a" stroke-width="0.3" >E18</text>
<text transform="translate(97.81,14.50) rotate(-32)" font-size="7.0" font-family="Liberation Sans, Arial, sans-serif" fill="#1a1a1a" stroke="#1a1a1a" stroke-width="0.3" >P0</text>
<text transform="translate(115.61,14.50) rotate(-32)" font-size="7.0" font-family="Liberation Sans, Arial, sans-serif" fill="#1a1a1a" stroke="#1a1a1a" stroke-width="0.3" >P3</text>
<text transform="translate(134.01,14.50) rotate(-32)" font-size="7.0" font-family="Liberation Sans, Arial, sans-serif" fill="#1a1a1a" stroke="#1a1a1a" stroke-width="0.3" >P6</text>
<text transform="translate(152.11,14.50) rotate(-32)" font-size="7.0" font-family="Liberation Sans, Arial, sans-serif" fill="#1a1a1a" stroke="#1a1a1a" stroke-width="0.3" >P9</text>
<text transform="translate(169.01,14.50) rotate(-32)" font-size="7.0" font-family="Liberation Sans, Arial, sans-serif" fill="#1a1a1a" stroke="#1a1a1a" stroke-width="0.3" >NS</text>
<text transform="translate(188.31,14.50) rotate(-32)" font-size="7.0" font-family="Liberation Sans, Arial, sans-serif" fill="#1a1a1a" stroke="#1a1a1a" stroke-width="0.3" >PS</text>
<text x="198.80" y="13.20" transform="rotate(0.1,198.80,13.20)" font-size="5.75" font-family="Liberation Sans, Arial, sans-serif" text-anchor="start" fill="#111111" stroke="#111111" stroke-width="0.12" >Transcript ID</text>
<text x="263.80" y="5.90" transform="rotate(0.1,263.80,5.90)" font-size="5.75" font-family="Liberation Sans, Arial, sans-serif" text-anchor="middle" fill="#111111" stroke="#111111" stroke-width="0.12" >mm10 Ref. genome</text>
<text x="263.60" y="13.20" transform="rotate(0.1,263.60,13.20)" font-size="5.75" font-family="Liberation Sans, Arial, sans-serif" text-anchor="middle" fill="#111111" stroke="#111111" stroke-width="0.12" >Location (chr:start-stop)</text>
<rect x="315.30" y="8.10" width="5.20" height="2.35" fill="#e2e2e4" shape-rendering="crispEdges" />
<rect x="315.30" y="10.40" width="5.20" height="4.05" fill="#d6d2ea" shape-rendering="crispEdges" />
<rect x="315.30" y="14.40" width="5.20" height="5.35" fill="#c4b4ee" shape-rendering="crispEdges" />
<rect x="315.30" y="19.70" width="5.20" height="5.95" fill="#a890e6" shape-rendering="crispEdges" />
<rect x="315.30" y="25.60" width="5.20" height="6.65" fill="#8262d8" shape-rendering="crispEdges" />
<rect x="315.30" y="32.20" width="5.20" height="5.85" fill="#6444c8" shape-rendering="crispEdges" />
<rect x="315.30" y="38.00" width="5.20" height="4.25" fill="#4e34b2" shape-rendering="crispEdges" />
<rect x="315.30" y="5.80" width="5.20" height="2.30" fill="#c4c4c4" shape-rendering="crispEdges" />
<text x="317.90" y="7.60" transform="rotate(0.1,317.90,7.60)" font-size="1.8" font-family="Liberation Sans, Arial, sans-serif" text-anchor="middle" fill="#888" >min</text>
<rect x="315.30" y="42.20" width="5.20" height="2.50" fill="#8a82c0" shape-rendering="crispEdges" />
<text x="317.90" y="44.20" transform="rotate(0.1,317.90,44.20)" font-size="1.8" font-family="Liberation Sans, Arial, sans-serif" text-anchor="middle" fill="#ccc" >max</text>
<text x="321.70" y="13.10" transform="rotate(0.1,321.70,13.10)" font-size="6.0" font-family="Liberation Serif, Times New Roman, serif" text-anchor="start" fill="#111111" stroke="#111111" stroke-width="0.06" >0.00</text>
<text x="321.70" y="18.90" transform="rotate(0.1,321.70,18.90)" font-size="6.0" font-family="Liberation Serif, Times New Roman, serif" text-anchor="start" fill="#111111" stroke="#111111" stroke-width="0.06" >0.20</text>
<text x="321.70" y="24.40" transform="rotate(0.1,321.70,24.40)" font-size="6.0" font-family="Liberation Serif, Times New Roman, serif" text-anchor="start" fill="#111111" stroke="#111111" stroke-width="0.06" >0.40</text>
<text x="321.70" y="29.80" transform="rotate(0.1,321.70,29.80)" font-size="6.0" font-family="Liberation Serif, Times New Roman, serif" text-anchor="start" fill="#111111" stroke="#111111" stroke-width="0.06" >0.60</text>
<text x="321.70" y="35.70" transform="rotate(0.1,321.70,35.70)" font-size="6.0" font-family="Liberation Serif, Times New Roman, serif" text-anchor="start" fill="#111111" stroke="#111111" stroke-width="0.06" >0.80</text>
<text x="321.70" y="40.90" transform="rotate(0.1,321.70,40.90)" font-size="6.0" font-family="Liberation Serif, Times New Roman, serif" text-anchor="start" fill="#111111" stroke="#111111" stroke-width="0.06" >1.00</text>
<text transform="translate(309.4,38.2) rotate(-90)" font-size="3.8" font-family="Liberation Serif, Times New Roman, serif" fill="#222" stroke="#222" stroke-width="0.15">Avg. Expression</text>
<text transform="translate(313.6,41.4) rotate(-90)" font-size="3.8" font-family="Liberation Serif, Times New Roman, serif" fill="#222" stroke="#222" stroke-width="0.15">(normalized by max)</text>
<text x="338.00" y="16.90" transform="rotate(0.1,338.00,16.90)" font-size="5.3" font-family="Liberation Serif, Times New Roman, serif" text-anchor="start" fill="#111111" stroke="#111111" stroke-width="0.08" >Novelty Score (NS)</text>
<text x="348.20" y="21.80" transform="rotate(0.1,348.20,21.80)" font-size="3.9" font-family="Liberation Serif, Times New Roman, serif" text-anchor="start" fill="#111111" stroke="#111111" stroke-width="0.05" >70</text>
<text x="356.60" y="21.80" transform="rotate(0.1,356.60,21.80)" font-size="3.9" font-family="Liberation Serif, Times New Roman, serif" text-anchor="start" fill="#111111" stroke="#111111" stroke-width="0.05" >to</text>
<text x="362.60" y="21.80" transform="rotate(0.1,362.60,21.80)" font-size="3.9" font-family="Liberation Serif, Times New Roman, serif" text-anchor="start" fill="#111111" stroke="#111111" stroke-width="0.05" >100</text>
<rect x="348.00" y="23.80" width="8.00" height="2.80" fill="#d02828" shape-rendering="crispEdges" />
<rect x="357.20" y="24.30" width="4.20" height="0.50" fill="#bbb" shape-rendering="crispEdges" />
<rect x="357.20" y="25.60" width="4.20" height="0.50" fill="#bbb" shape-rendering="crispEdges" />
<rect x="362.00" y="23.80" width="7.80" height="2.80" fill="#6cc018" shape-rendering="crispEdges" />
<text x="348.00" y="31.20" transform="rotate(0.1,348.00,31.20)" font-size="3.9" font-family="Liberation Serif, Times New Roman, serif" text-anchor="start" fill="#111111" stroke="#111111" stroke-width="0.05" >0.8</text>
<text x="356.80" y="31.20" transform="rotate(0.1,356.80,31.20)" font-size="3.9" font-family="Liberation Serif, Times New Roman, serif" text-anchor="start" fill="#111111" stroke="#111111" stroke-width="0.05" >to</text>
<text x="363.20" y="31.20" transform="rotate(0.1,363.20,31.20)" font-size="3.9" font-family="Liberation Serif, Times New Roman, serif" text-anchor="start" fill="#111111" stroke="#111111" stroke-width="0.05" >1.0</text>
<text x="338.00" y="36.90" transform="rotate(0.1,338.00,36.90)" font-size="5.3" font-family="Liberation Serif, Times New Roman, serif" text-anchor="start" fill="#111111" stroke="#111111" stroke-width="0.08" >phastCons Score (PS)</text>
<rect x="437.20" y="14.60" width="18.37" height="6.87" fill="#4238a0" shape-rendering="crispEdges" />
<rect x="455.52" y="14.60" width="18.37" height="6.87" fill="#4238a0" shape-rendering="crispEdges" />
<rect x="473.84" y="14.60" width="18.37" height="6.87" fill="#6a5cc0" shape-rendering="crispEdges" />
<rect x="492.16" y="14.60" width="18.37" height="6.87" fill="#8a80d4" shape-rendering="crispEdges" />
<rect x="510.48" y="14.60" width="18.37" height="6.87" fill="#9088d6" shape-rendering="crispEdges" />
<rect x="528.80" y="14.60" width="18.37" height="6.87" fill="#8a80d4" shape-rendering="crispEdges" />
<rect x="548.00" y="14.60" width="19.40" height="6.87" fill="#6ec000" shape-rendering="crispEdges" />
<rect x="569.00" y="14.60" width="19.20" height="6.87" fill="#7a8a30" shape-rendering="crispEdges" />
<text x="589.60" y="19.76" transform="rotate(0.1,589.60,19.76)" font-size="4.85" font-family="Liberation Sans, Arial, sans-serif" text-anchor="start" fill="#111111" stroke="#111111" stroke-width="0.2" >MSTRG.6025.1</text>
<text x="630.00" y="19.76" transform="rotate(0.1,630.00,19.76)" font-size="4.72" font-family="Liberation Sans, Arial, sans-serif" text-anchor="start" fill="#111111" stroke="#111111" stroke-width="0.2" >12:67510720-67511339</text>
<rect x="437.20" y="21.42" width="18.37" height="6.87" fill="#4238a0" shape-rendering="crispEdges" />
<rect x="455.52" y="21.42" width="18.37" height="6.87" fill="#4238a0" shape-rendering="crispEdges" />
<rect x="473.84" y="21.42" width="18.37" height="6.87" fill="#6a5cc0" shape-rendering="crispEdges" />
<rect x="492.16" y="21.42" width="18.37" height="6.87" fill="#8a80d4" shape-rendering="crispEdges" />
<rect x="510.48" y="21.42" width="18.37" height="6.87" fill="#9088d6" shape-rendering="crispEdges" />
<rect x="528.80" y="21.42" width="18.37" height="6.87" fill="#a59de0" shape-rendering="crispEdges" />
<rect x="548.00" y="21.42" width="19.40" height="6.87" fill="#6ec000" shape-rendering="crispEdges" />
<rect x="569.00" y="21.42" width="19.20" height="6.87" fill="#7a8a30" shape-rendering="crispEdges" />
<text x="589.60" y="26.58" transform="rotate(0.1,589.60,26.58)" font-size="4.85" font-family="Liberation Sans, Arial, sans-serif" text-anchor="start" fill="#111111" stroke="#111111" stroke-width="0.2" >MSTRG.6682.1</text>
<text x="630.00" y="26.58" transform="rotate(0.1,630.00,26.58)" font-size="4.72" font-family="Liberation Sans, Arial, sans-serif" text-anchor="start" fill="#111111" stroke="#111111" stroke-width="0.2" >13:3298880-3299815</text>
<rect x="437.20" y="28.24" width="18.37" height="6.87" fill="#4238a0" shape-rendering="crispEdges" />
<rect x="455.52" y="28.24" width="18.37" height="6.87" fill="#4238a0" shape-rendering="crispEdges" />
<rect x="473.84" y="28.24" width="18.37" height="6.87" fill="#6a5cc0" shape-rendering="crispEdges" />
<rect x="492.16" y="28.24" width="18.37" height="6.87" fill="#7a70cc" shape-rendering="crispEdges" />
<rect x="510.48" y="28.24" width="18.37" height="6.87" fill="#7a70cc" shape-rendering="crispEdges" />
<rect x="528.80" y="28.24" width="18.37" height="6.87" fill="#a098dc" shape-rendering="crispEdges" />
<rect x="548.00" y="28.24" width="19.40" height="6.87" fill="#6ec000" shape-rendering="crispEdges" />
<rect x="569.00" y="28.24" width="19.20" height="6.87" fill="#7a8a30" shape-rendering="crispEdges" />
<text x="589.60" y="33.40" transform="rotate(0.1,589.60,33.40)" font-size="4.85" font-family="Liberation Sans, Arial, sans-serif" text-anchor="start" fill="#111111" stroke="#111111" stroke-width="0.2" >MSTRG.12308.1</text>
<text x="630.00" y="33.40" transform="rotate(0.1,630.00,33.40)" font-size="4.72" font-family="Liberation Sans, Arial, sans-serif" text-anchor="start" fill="#111111" stroke="#111111" stroke-width="0.2" >18:8051240-8052101</text>
<rect x="437.20" y="35.06" width="18.37" height="6.87" fill="#4238a0" shape-rendering="crispEdges" />
<rect x="455.52" y="35.06" width="18.37" height="6.87" fill="#4238a0" shape-rendering="crispEdges" />
<rect x="473.84" y="35.06" width="18.37" height="6.87" fill="#6a5cc0" shape-rendering="crispEdges" />
<rect x="492.16" y="35.06" width="18.37" height="6.87" fill="#9890dc" shape-rendering="crispEdges" />
<rect x="510.48" y="35.06" width="18.37" height="6.87" fill="#7a70cc" shape-rendering="crispEdges" />
<rect x="528.80" y="35.06" width="18.37" height="6.87" fill="#9890dc" shape-rendering="crispEdges" />
<rect x="548.00" y="35.06" width="19.40" height="6.87" fill="#6ec000" shape-rendering="crispEdges" />
<rect x="569.00" y="35.06" width="19.20" height="6.87" fill="#6ec000" shape-rendering="crispEdges" />
<text x="589.60" y="40.22" transform="rotate(0.1,589.60,40.22)" font-size="4.85" font-family="Liberation Sans, Arial, sans-serif" text-anchor="start" fill="#111111" stroke="#111111" stroke-width="0.2" >MSTRG.12849.1</text>
<text x="630.00" y="40.22" transform="rotate(0.1,630.00,40.22)" font-size="4.72" font-family="Liberation Sans, Arial, sans-serif" text-anchor="start" fill="#111111" stroke="#111111" stroke-width="0.2" >18:64811843-64812445</text>
<rect x="437.20" y="41.88" width="18.37" height="6.87" fill="#4238a0" shape-rendering="crispEdges" />
<rect x="455.52" y="41.88" width="18.37" height="6.87" fill="#4238a0" shape-rendering="crispEdges" />
<rect x="473.84" y="41.88" width="18.37" height="6.87" fill="#5a4cb8" shape-rendering="crispEdges" />
<rect x="492.16" y="41.88" width="18.37" height="6.87" fill="#5a4cb8" shape-rendering="crispEdges" />
<rect x="510.48" y="41.88" width="18.37" height="6.87" fill="#6a5cc0" shape-rendering="crispEdges" />
<rect x="528.80" y="41.88" width="18.37" height="6.87" fill="#b8b0ea" shape-rendering="crispEdges" />
<rect x="548.00" y="41.88" width="19.40" height="6.87" fill="#6ec000" shape-rendering="crispEdges" />
<rect x="569.00" y="41.88" width="19.20" height="6.87" fill="#e03020" shape-rendering="crispEdges" />
<text x="589.60" y="47.04" transform="rotate(0.1,589.60,47.04)" font-size="4.85" font-family="Liberation Sans, Arial, sans-serif" text-anchor="start" fill="#111111" stroke="#111111" stroke-width="0.2" >MSTRG.10273.1</text>
<text x="630.00" y="47.04" transform="rotate(0.1,630.00,47.04)" font-size="4.72" font-family="Liberation Sans, Arial, sans-serif" text-anchor="start" fill="#111111" stroke="#111111" stroke-width="0.2" >16:24526026-24531194</text>
<rect x="437.20" y="48.70" width="18.37" height="6.87" fill="#4238a0" shape-rendering="crispEdges" />
<rect x="455.52" y="48.70" width="18.37" height="6.87" fill="#4238a0" shape-rendering="crispEdges" />
<rect x="473.84" y="48.70" width="18.37" height="6.87" fill="#6a5cc0" shape-rendering="crispEdges" />
<rect x="492.16" y="48.70" width="18.37" height="6.87" fill="#7a70cc" shape-rendering="crispEdges" />
<rect x="510.48" y="48.70" width="18.37" height="6.87" fill="#8a80d4" shape-rendering="crispEdges" />
<rect x="528.80" y="48.70" width="18.37" height="6.87" fill="#b8b0ea" shape-rendering="crispEdges" />
<rect x="548.00" y="48.70" width="19.40" height="6.87" fill="#6ec000" shape-rendering="crispEdges" />
<rect x="569.00" y="48.70" width="19.20" height="6.87" fill="#e03020" shape-rendering="crispEdges" />
<text x="589.60" y="53.86" transform="rotate(0.1,589.60,53.86)" font-size="4.85" font-family="Liberation Sans, Arial, sans-serif" text-anchor="start" fill="#111111" stroke="#111111" stroke-width="0.2" >MSTRG.16440.1</text>
<text x="630.00" y="53.86" transform="rotate(0.1,630.00,53.86)" font-size="4.72" font-family="Liberation Sans, Arial, sans-serif" text-anchor="start" fill="#111111" stroke="#111111" stroke-width="0.2" >3:32397089-32397315</text>
<rect x="437.20" y="55.52" width="18.37" height="6.87" fill="#4238a0" shape-rendering="crispEdges" />
<rect x="455.52" y="55.52" width="18.37" height="6.87" fill="#4238a0" shape-rendering="crispEdges" />
<rect x="473.84" y="55.52" width="18.37" height="6.87" fill="#8a80d4" shape-rendering="crispEdges" />
<rect x="492.16" y="55.52" width="18.37" height="6.87" fill="#8a80d4" shape-rendering="crispEdges" />
<rect x="510.48" y="55.52" width="18.37" height="6.87" fill="#9088d6" shape-rendering="crispEdges" />
<rect x="528.80" y="55.52" width="18.37" height="6.87" fill="#a89ee0" shape-rendering="crispEdges" />
<rect x="548.00" y="55.52" width="19.40" height="6.87" fill="#6ec000" shape-rendering="crispEdges" />
<rect x="569.00" y="55.52" width="19.20" height="6.87" fill="#b05a20" shape-rendering="crispEdges" />
<text x="589.60" y="60.68" transform="rotate(0.1,589.60,60.68)" font-size="4.85" font-family="Liberation Sans, Arial, sans-serif" text-anchor="start" fill="#111111" stroke="#111111" stroke-width="0.2" >MSTRG.10762.1</text>
<text x="630.00" y="60.68" transform="rotate(0.1,630.00,60.68)" font-size="4.72" font-family="Liberation Sans, Arial, sans-serif" text-anchor="start" fill="#111111" stroke="#111111" stroke-width="0.2" >16:94241576-94243385</text>
<rect x="437.20" y="62.34" width="18.37" height="6.87" fill="#4238a0" shape-rendering="crispEdges" />
<rect x="455.52" y="62.34" width="18.37" height="6.87" fill="#4238a0" shape-rendering="crispEdges" />
<rect x="473.84" y="62.34" width="18.37" height="6.87" fill="#8078cc" shape-rendering="crispEdges" />
<rect x="492.16" y="62.34" width="18.37" height="6.87" fill="#8a80d4" shape-rendering="crispEdges" />
<rect x="510.48" y="62.34" width="18.37" height="6.87" fill="#7068c4" shape-rendering="crispEdges" />
<rect x="528.80" y="62.34" width="18.37" height="6.87" fill="#a098dc" shape-rendering="crispEdges" />
<rect x="548.00" y="62.34" width="19.40" height="6.87" fill="#6ec000" shape-rendering="crispEdges" />
<rect x="569.00" y="62.34" width="19.20" height="6.87" fill="#e03020" shape-rendering="crispEdges" />
<text x="589.60" y="67.50" transform="rotate(0.1,589.60,67.50)" font-size="4.85" font-family="Liberation Sans, Arial, sans-serif" text-anchor="start" fill="#111111" stroke="#111111" stroke-width="0.2" >MSTRG.2512.1</text>
<text x="630.00" y="67.50" transform="rotate(0.1,630.00,67.50)" font-size="4.72" font-family="Liberation Sans, Arial, sans-serif" text-anchor="start" fill="#111111" stroke="#111111" stroke-width="0.2" >10:59871262-59871794</text>
<rect x="437.20" y="69.16" width="18.37" height="6.87" fill="#4238a0" shape-rendering="crispEdges" />
<rect x="455.52" y="69.16" width="18.37" height="6.87" fill="#4238a0" shape-rendering="crispEdges" />
<rect x="473.84" y="69.16" width="18.37" height="6.87" fill="#9890dc" shape-rendering="crispEdges" />
<rect x="492.16" y="69.16" width="18.37" height="6.87" fill="#6a5cc0" shape-rendering="crispEdges" />
<rect x="510.48" y="69.16" width="18.37" height="6.87" fill="#8a80d4" shape-rendering="crispEdges" />
<rect x="528.80" y="69.16" width="18.37" height="6.87" fill="#a098dc" shape-rendering="crispEdges" />
<rect x="548.00" y="69.16" width="19.40" height="6.87" fill="#6ec000" shape-rendering="crispEdges" />
<rect x="569.00" y="69.16" width="19.20" height="6.87" fill="#52b818" shape-rendering="crispEdges" />
<text x="589.60" y="74.32" transform="rotate(0.1,589.60,74.32)" font-size="4.85" font-family="Liberation Sans, Arial, sans-serif" text-anchor="start" fill="#111111" stroke="#111111" stroke-width="0.2" >MSTRG.3224.1</text>
<text x="630.00" y="74.32" transform="rotate(0.1,630.00,74.32)" font-size="4.72" font-family="Liberation Sans, Arial, sans-serif" text-anchor="start" fill="#111111" stroke="#111111" stroke-width="0.2" >10:118280213-118281109</text>
<rect x="437.20" y="75.98" width="18.37" height="6.87" fill="#4238a0" shape-rendering="crispEdges" />
<rect x="455.52" y="75.98" width="18.37" height="6.87" fill="#4238a0" shape-rendering="crispEdges" />
<rect x="473.84" y="75.98" width="18.37" height="6.87" fill="#7a70cc" shape-rendering="crispEdges" />
<rect x="492.16" y="75.98" width="18.37" height="6.87" fill="#6a5cc0" shape-rendering="crispEdges" />
<rect x="510.48" y="75.98" width="18.37" height="6.87" fill="#c8c0f0" shape-rendering="crispEdges" />
<rect x="528.80" y="75.98" width="18.37" height="6.87" fill="#c0b8ec" shape-rendering="crispEdges" />
<rect x="548.00" y="75.98" width="19.40" height="6.87" fill="#6ec000" shape-rendering="crispEdges" />
<rect x="569.00" y="75.98" width="19.20" height="6.87" fill="#52b818" shape-rendering="crispEdges" />
<text x="589.60" y="81.14" transform="rotate(0.1,589.60,81.14)" font-size="4.85" font-family="Liberation Sans, Arial, sans-serif" text-anchor="start" fill="#111111" stroke="#111111" stroke-width="0.2" >MSTRG.5842.1</text>
<text x="630.00" y="81.14" transform="rotate(0.1,630.00,81.14)" font-size="4.72" font-family="Liberation Sans, Arial, sans-serif" text-anchor="start" fill="#111111" stroke="#111111" stroke-width="0.2" >12:31018894-31019297</text>
<rect x="437.20" y="82.80" width="18.37" height="6.87" fill="#4238a0" shape-rendering="crispEdges" />
<rect x="455.52" y="82.80" width="18.37" height="6.87" fill="#4238a0" shape-rendering="crispEdges" />
<rect x="473.84" y="82.80" width="18.37" height="6.87" fill="#9890dc" shape-rendering="crispEdges" />
<rect x="492.16" y="82.80" width="18.37" height="6.87" fill="#6a5cc0" shape-rendering="crispEdges" />
<rect x="510.48" y="82.80" width="18.37" height="6.87" fill="#a89ee0" shape-rendering="crispEdges" />
<rect x="528.80" y="82.80" width="18.37" height="6.87" fill="#a89ee0" shape-rendering="crispEdges" />
<rect x="548.00" y="82.80" width="19.40" height="6.87" fill="#6ec000" shape-rendering="crispEdges" />
<rect x="569.00" y="82.80" width="19.20" height="6.87" fill="#52b818" shape-rendering="crispEdges" />
<text x="589.60" y="87.96" transform="rotate(0.1,589.60,87.96)" font-size="4.85" font-family="Liberation Sans, Arial, sans-serif" text-anchor="start" fill="#111111" stroke="#111111" stroke-width="0.2" >MSTRG.20906.1</text>
<text x="630.00" y="87.96" transform="rotate(0.1,630.00,87.96)" font-size="4.72" font-family="Liberation Sans, Arial, sans-serif" text-anchor="start" fill="#111111" stroke="#111111" stroke-width="0.2" >5:89689151-89690330</text>
<rect x="437.20" y="89.62" width="18.37" height="6.87" fill="#4238a0" shape-rendering="crispEdges" />
<rect x="455.52" y="89.62" width="18.37" height="6.87" fill="#4238a0" shape-rendering="crispEdges" />
<rect x="473.84" y="89.62" width="18.37" height="6.87" fill="#7a70cc" shape-rendering="crispEdges" />
<rect x="492.16" y="89.62" width="18.37" height="6.87" fill="#6a5cc0" shape-rendering="crispEdges" />
<rect x="510.48" y="89.62" width="18.37" height="6.87" fill="#a89ee0" shape-rendering="crispEdges" />
<rect x="528.80" y="89.62" width="18.37" height="6.87" fill="#b0a8e4" shape-rendering="crispEdges" />
<rect x="548.00" y="89.62" width="19.40" height="6.87" fill="#6ec000" shape-rendering="crispEdges" />
<rect x="569.00" y="89.62" width="19.20" height="6.87" fill="#6ec000" shape-rendering="crispEdges" />
<text x="589.60" y="94.78" transform="rotate(0.1,589.60,94.78)" font-size="4.85" font-family="Liberation Sans, Arial, sans-serif" text-anchor="start" fill="#111111" stroke="#111111" stroke-width="0.2" >MSTRG.28341.1</text>
<text x="630.00" y="94.78" transform="rotate(0.1,630.00,94.78)" font-size="4.72" font-family="Liberation Sans, Arial, sans-serif" text-anchor="start" fill="#111111" stroke="#111111" stroke-width="0.2" >X:48010258-48010550</text>
<rect x="437.20" y="96.44" width="18.37" height="6.87" fill="#4238a0" shape-rendering="crispEdges" />
<rect x="455.52" y="96.44" width="18.37" height="6.87" fill="#5a4cb8" shape-rendering="crispEdges" />
<rect x="473.84" y="96.44" width="18.37" height="6.87" fill="#c0b8ec" shape-rendering="crispEdges" />
<rect x="492.16" y="96.44" width="18.37" height="6.87" fill="#6a5cc0" shape-rendering="crispEdges" />
<rect x="510.48" y="96.44" width="18.37" height="6.87" fill="#a098dc" shape-rendering="crispEdges" />
<rect x="528.80" y="96.44" width="18.37" height="6.87" fill="#b0a8e4" shape-rendering="crispEdges" />
<rect x="548.00" y="96.44" width="19.40" height="6.87" fill="#6ec000" shape-rendering="crispEdges" />
<rect x="569.00" y="96.44" width="19.20" height="6.87" fill="#52b818" shape-rendering="crispEdges" />
<text x="589.60" y="101.60" transform="rotate(0.1,589.60,101.60)" font-size="4.85" font-family="Liberation Sans, Arial, sans-serif" text-anchor="start" fill="#111111" stroke="#111111" stroke-width="0.2" >MSTRG.27047.1</text>
<text x="630.00" y="101.60" transform="rotate(0.1,630.00,101.60)" font-size="4.72" font-family="Liberation Sans, Arial, sans-serif" text-anchor="start" fill="#111111" stroke="#111111" stroke-width="0.2" >6:116501716-116502572</text>
<rect x="437.20" y="103.26" width="18.37" height="6.87" fill="#4238a0" shape-rendering="crispEdges" />
<rect x="455.52" y="103.26" width="18.37" height="6.87" fill="#4a40a8" shape-rendering="crispEdges" />
<rect x="473.84" y="103.26" width="18.37" height="6.87" fill="#8078cc" shape-rendering="crispEdges" />
<rect x="492.16" y="103.26" width="18.37" height="6.87" fill="#5a4cb8" shape-rendering="crispEdges" />
<rect x="510.48" y="103.26" width="18.37" height="6.87" fill="#8078cc" shape-rendering="crispEdges" />
<rect x="528.80" y="103.26" width="18.37" height="6.87" fill="#6a5cc0" shape-rendering="crispEdges" />
<rect x="548.00" y="103.26" width="19.40" height="6.87" fill="#6ec000" shape-rendering="crispEdges" />
<rect x="569.00" y="103.26" width="19.20" height="6.87" fill="#52b818" shape-rendering="crispEdges" />
<text x="589.60" y="108.42" transform="rotate(0.1,589.60,108.42)" font-size="4.85" font-family="Liberation Sans, Arial, sans-serif" text-anchor="start" fill="#111111" stroke="#111111" stroke-width="0.2" >MSTRG.8743.1</text>
<text x="630.00" y="108.42" transform="rotate(0.1,630.00,108.42)" font-size="4.72" font-family="Liberation Sans, Arial, sans-serif" text-anchor="start" fill="#111111" stroke="#111111" stroke-width="0.2" >14:92602378-92603589</text>
<rect x="437.20" y="110.08" width="18.37" height="6.87" fill="#4238a0" shape-rendering="crispEdges" />
<rect x="455.52" y="110.08" width="18.37" height="6.87" fill="#4a40a8" shape-rendering="crispEdges" />
<rect x="473.84" y="110.08" width="18.37" height="6.87" fill="#8078cc" shape-rendering="crispEdges" />
<rect x="492.16" y="110.08" width="18.37" height="6.87" fill="#5a4cb8" shape-rendering="crispEdges" />
<rect x="510.48" y="110.08" width="18.37" height="6.87" fill="#7a70cc" shape-rendering="crispEdges" />
<rect x="528.80" y="110.08" width="18.37" height="6.87" fill="#7a70cc" shape-rendering="crispEdges" />
<rect x="548.00" y="110.08" width="19.40" height="6.87" fill="#6ec000" shape-rendering="crispEdges" />
<rect x="569.00" y="110.08" width="19.20" height="6.87" fill="#6ec000" shape-rendering="crispEdges" />
<text x="589.60" y="115.24" transform="rotate(0.1,589.60,115.24)" font-size="4.85" font-family="Liberation Sans, Arial, sans-serif" text-anchor="start" fill="#111111" stroke="#111111" stroke-width="0.2" >MSTRG.27278.1</text>
<text x="630.00" y="115.24" transform="rotate(0.1,630.00,115.24)" font-size="4.72" font-family="Liberation Sans, Arial, sans-serif" text-anchor="start" fill="#111111" stroke="#111111" stroke-width="0.2" >9:17733045-17733268</text>
<rect x="437.20" y="116.90" width="18.37" height="6.87" fill="#4238a0" shape-rendering="crispEdges" />
<rect x="455.52" y="116.90" width="18.37" height="6.87" fill="#5048b0" shape-rendering="crispEdges" />
<rect x="473.84" y="116.90" width="18.37" height="6.87" fill="#9088d6" shape-rendering="crispEdges" />
<rect x="492.16" y="116.90" width="18.37" height="6.87" fill="#4a40a8" shape-rendering="crispEdges" />
<rect x="510.48" y="116.90" width="18.37" height="6.87" fill="#8078cc" shape-rendering="crispEdges" />
<rect x="528.80" y="116.90" width="18.37" height="6.87" fill="#6a5cc0" shape-rendering="crispEdges" />
<rect x="548.00" y="116.90" width="19.40" height="6.87" fill="#6ec000" shape-rendering="crispEdges" />
<rect x="569.00" y="116.90" width="19.20" height="6.87" fill="#6ec000" shape-rendering="crispEdges" />
<text x="589.60" y="122.06" transform="rotate(0.1,589.60,122.06)" font-size="4.85" font-family="Liberation Sans, Arial, sans-serif" text-anchor="start" fill="#111111" stroke="#111111" stroke-width="0.2" >MSTRG.26450.1</text>
<text x="630.00" y="122.06" transform="rotate(0.1,630.00,122.06)" font-size="4.72" font-family="Liberation Sans, Arial, sans-serif" text-anchor="start" fill="#111111" stroke="#111111" stroke-width="0.2" >8:72515682-72516290</text>
<rect x="437.20" y="123.72" width="18.37" height="6.87" fill="#4238a0" shape-rendering="crispEdges" />
<rect x="455.52" y="123.72" width="18.37" height="6.87" fill="#4a40a8" shape-rendering="crispEdges" />
<rect x="473.84" y="123.72" width="18.37" height="6.87" fill="#a098dc" shape-rendering="crispEdges" />
<rect x="492.16" y="123.72" width="18.37" height="6.87" fill="#4a40a8" shape-rendering="crispEdges" />
<rect x="510.48" y="123.72" width="18.37" height="6.87" fill="#9088d6" shape-rendering="crispEdges" />
<rect x="528.80" y="123.72" width="18.37" height="6.87" fill="#a89ee0" shape-rendering="crispEdges" />
<rect x="548.00" y="123.72" width="19.40" height="6.87" fill="#6ec000" shape-rendering="crispEdges" />
<rect x="569.00" y="123.72" width="19.20" height="6.87" fill="#e03020" shape-rendering="crispEdges" />
<text x="589.60" y="128.88" transform="rotate(0.1,589.60,128.88)" font-size="4.85" font-family="Liberation Sans, Arial, sans-serif" text-anchor="start" fill="#111111" stroke="#111111" stroke-width="0.2" >MSTRG.5198.1</text>
<text x="630.00" y="128.88" transform="rotate(0.1,630.00,128.88)" font-size="4.72" font-family="Liberation Sans, Arial, sans-serif" text-anchor="start" fill="#111111" stroke="#111111" stroke-width="0.2" >11:104573554-104573988</text>
<rect x="437.20" y="130.54" width="18.37" height="6.87" fill="#4238a0" shape-rendering="crispEdges" />
<rect x="455.52" y="130.54" width="18.37" height="6.87" fill="#4a40a8" shape-rendering="crispEdges" />
<rect x="473.84" y="130.54" width="18.37" height="6.87" fill="#a098dc" shape-rendering="crispEdges" />
<rect x="492.16" y="130.54" width="18.37" height="6.87" fill="#4a40a8" shape-rendering="crispEdges" />
<rect x="510.48" y="130.54" width="18.37" height="6.87" fill="#9088d6" shape-rendering="crispEdges" />
<rect x="528.80" y="130.54" width="18.37" height="6.87" fill="#a89ee0" shape-rendering="crispEdges" />
<rect x="548.00" y="130.54" width="19.40" height="6.87" fill="#6ec000" shape-rendering="crispEdges" />
<rect x="569.00" y="130.54" width="19.20" height="6.87" fill="#a06a28" shape-rendering="crispEdges" />
<text x="589.60" y="135.70" transform="rotate(0.1,589.60,135.70)" font-size="4.85" font-family="Liberation Sans, Arial, sans-serif" text-anchor="start" fill="#111111" stroke="#111111" stroke-width="0.2" >MSTRG.12718.1</text>
<text x="630.00" y="135.70" transform="rotate(0.1,630.00,135.70)" font-size="4.72" font-family="Liberation Sans, Arial, sans-serif" text-anchor="start" fill="#111111" stroke="#111111" stroke-width="0.2" >18:51003015-51003272</text>
<rect x="437.20" y="137.36" width="18.37" height="6.87" fill="#4238a0" shape-rendering="crispEdges" />
<rect x="455.52" y="137.36" width="18.37" height="6.87" fill="#4a40a8" shape-rendering="crispEdges" />
<rect x="473.84" y="137.36" width="18.37" height="6.87" fill="#7068c4" shape-rendering="crispEdges" />
<rect x="492.16" y="137.36" width="18.37" height="6.87" fill="#4a40a8" shape-rendering="crispEdges" />
<rect x="510.48" y="137.36" width="18.37" height="6.87" fill="#9890dc" shape-rendering="crispEdges" />
<rect x="528.80" y="137.36" width="18.37" height="6.87" fill="#6a5cc0" shape-rendering="crispEdges" />
<rect x="548.00" y="137.36" width="19.40" height="6.87" fill="#6ec000" shape-rendering="crispEdges" />
<rect x="569.00" y="137.36" width="19.20" height="6.87" fill="#52b818" shape-rendering="crispEdges" />
<text x="589.60" y="142.52" transform="rotate(0.1,589.60,142.52)" font-size="4.85" font-family="Liberation Sans, Arial, sans-serif" text-anchor="start" fill="#111111" stroke="#111111" stroke-width="0.2" >MSTRG.18665.1</text>
<text x="630.00" y="142.52" transform="rotate(0.1,630.00,142.52)" font-size="4.72" font-family="Liberation Sans, Arial, sans-serif" text-anchor="start" fill="#111111" stroke="#111111" stroke-width="0.2" >4:87103426-87105078</text>
<rect x="437.20" y="144.18" width="18.37" height="6.87" fill="#4238a0" shape-rendering="crispEdges" />
<rect x="455.52" y="144.18" width="18.37" height="6.87" fill="#4a40a8" shape-rendering="crispEdges" />
<rect x="473.84" y="144.18" width="18.37" height="6.87" fill="#8078cc" shape-rendering="crispEdges" />
<rect x="492.16" y="144.18" width="18.37" height="6.87" fill="#5a4cb8" shape-rendering="crispEdges" />
<rect x="510.48" y="144.18" width="18.37" height="6.87" fill="#b0a8e4" shape-rendering="crispEdges" />
<rect x="528.80" y="144.18" width="18.37" height="6.87" fill="#6a5cc0" shape-rendering="crispEdges" />
<rect x="548.00" y="144.18" width="19.40" height="6.87" fill="#6ec000" shape-rendering="crispEdges" />
<rect x="569.00" y="144.18" width="19.20" height="6.87" fill="#6ec000" shape-rendering="crispEdges" />
<text x="589.60" y="149.34" transform="rotate(0.1,589.60,149.34)" font-size="4.85" font-family="Liberation Sans, Arial, sans-serif" text-anchor="start" fill="#111111" stroke="#111111" stroke-width="0.2" >MSTRG.29582.1</text>
<text x="630.00" y="149.34" transform="rotate(0.1,630.00,149.34)" font-size="4.72" font-family="Liberation Sans, Arial, sans-serif" text-anchor="start" fill="#111111" stroke="#111111" stroke-width="0.2" >X:74493804-74494294</text>
<rect x="437.20" y="151.00" width="18.37" height="6.87" fill="#4238a0" shape-rendering="crispEdges" />
<rect x="455.52" y="151.00" width="18.37" height="6.87" fill="#4a40a8" shape-rendering="crispEdges" />
<rect x="473.84" y="151.00" width="18.37" height="6.87" fill="#8078cc" shape-rendering="crispEdges" />
<rect x="492.16" y="151.00" width="18.37" height="6.87" fill="#6a5cc0" shape-rendering="crispEdges" />
<rect x="510.48" y="151.00" width="18.37" height="6.87" fill="#b0a8e4" shape-rendering="crispEdges" />
<rect x="528.80" y="151.00" width="18.37" height="6.87" fill="#7068c4" shape-rendering="crispEdges" />
<rect x="548.00" y="151.00" width="19.40" height="6.87" fill="#6ec000" shape-rendering="crispEdges" />
<rect x="569.00" y="151.00" width="19.20" height="6.87" fill="#6ec000" shape-rendering="crispEdges" />
<text x="589.60" y="156.16" transform="rotate(0.1,589.60,156.16)" font-size="4.85" font-family="Liberation Sans, Arial, sans-serif" text-anchor="start" fill="#111111" stroke="#111111" stroke-width="0.2" >MSTRG.18579.1</text>
<text x="630.00" y="156.16" transform="rotate(0.1,630.00,156.16)" font-size="4.72" font-family="Liberation Sans, Arial, sans-serif" text-anchor="start" fill="#111111" stroke="#111111" stroke-width="0.2" >4:143217871-143218310</text>
<rect x="437.20" y="157.82" width="18.37" height="6.87" fill="#4238a0" shape-rendering="crispEdges" />
<rect x="455.52" y="157.82" width="18.37" height="6.87" fill="#5a4cb8" shape-rendering="crispEdges" />
<rect x="473.84" y="157.82" width="18.37" height="6.87" fill="#7a70cc" shape-rendering="crispEdges" />
<rect x="492.16" y="157.82" width="18.37" height="6.87" fill="#6a5cc0" shape-rendering="crispEdges" />
<rect x="510.48" y="157.82" width="18.37" height="6.87" fill="#9890dc" shape-rendering="crispEdges" />
<rect x="528.80" y="157.82" width="18.37" height="6.87" fill="#8a80d4" shape-rendering="crispEdges" />
<rect x="548.00" y="157.82" width="19.40" height="6.87" fill="#6ec000" shape-rendering="crispEdges" />
<rect x="569.00" y="157.82" width="19.20" height="6.87" fill="#6ec000" shape-rendering="crispEdges" />
<text x="589.60" y="162.98" transform="rotate(0.1,589.60,162.98)" font-size="4.85" font-family="Liberation Sans, Arial, sans-serif" text-anchor="start" fill="#111111" stroke="#111111" stroke-width="0.2" >MSTRG.6730.1</text>
<text x="630.00" y="162.98" transform="rotate(0.1,630.00,162.98)" font-size="4.72" font-family="Liberation Sans, Arial, sans-serif" text-anchor="start" fill="#111111" stroke="#111111" stroke-width="0.2" >13:9234099-9234887</text>
<rect x="437.20" y="164.64" width="18.37" height="6.87" fill="#4238a0" shape-rendering="crispEdges" />
<rect x="455.52" y="164.64" width="18.37" height="6.87" fill="#4a40a8" shape-rendering="crispEdges" />
<rect x="473.84" y="164.64" width="18.37" height="6.87" fill="#7a70cc" shape-rendering="crispEdges" />
<rect x="492.16" y="164.64" width="18.37" height="6.87" fill="#6a5cc0" shape-rendering="crispEdges" />
<rect x="510.48" y="164.64" width="18.37" height="6.87" fill="#9088d6" shape-rendering="crispEdges" />
<rect x="528.80" y="164.64" width="18.37" height="6.87" fill="#8a80d4" shape-rendering="crispEdges" />
<rect x="548.00" y="164.64" width="19.40" height="6.87" fill="#6ec000" shape-rendering="crispEdges" />
<rect x="569.00" y="164.64" width="19.20" height="6.87" fill="#52b818" shape-rendering="crispEdges" />
<text x="589.60" y="169.80" transform="rotate(0.1,589.60,169.80)" font-size="4.85" font-family="Liberation Sans, Arial, sans-serif" text-anchor="start" fill="#111111" stroke="#111111" stroke-width="0.2" >MSTRG.2115.1</text>
<text x="630.00" y="169.80" transform="rotate(0.1,630.00,169.80)" font-size="4.72" font-family="Liberation Sans, Arial, sans-serif" text-anchor="start" fill="#111111" stroke="#111111" stroke-width="0.2" >10:7458334-7458949</text>
<rect x="437.20" y="171.46" width="18.37" height="6.87" fill="#4238a0" shape-rendering="crispEdges" />
<rect x="455.52" y="171.46" width="18.37" height="6.87" fill="#4a40a8" shape-rendering="crispEdges" />
<rect x="473.84" y="171.46" width="18.37" height="6.87" fill="#8a80d4" shape-rendering="crispEdges" />
<rect x="492.16" y="171.46" width="18.37" height="6.87" fill="#7068c4" shape-rendering="crispEdges" />
<rect x="510.48" y="171.46" width="18.37" height="6.87" fill="#9890dc" shape-rendering="crispEdges" />
<rect x="528.80" y="171.46" width="18.37" height="6.87" fill="#9088d6" shape-rendering="crispEdges" />
<rect x="548.00" y="171.46" width="19.40" height="6.87" fill="#6ec000" shape-rendering="crispEdges" />
<rect x="569.00" y="171.46" width="19.20" height="6.87" fill="#e03020" shape-rendering="crispEdges" />
<text x="589.60" y="176.62" transform="rotate(0.1,589.60,176.62)" font-size="4.85" font-family="Liberation Sans, Arial, sans-serif" text-anchor="start" fill="#111111" stroke="#111111" stroke-width="0.2" >MSTRG.5711.1</text>
<text x="630.00" y="176.62" transform="rotate(0.1,630.00,176.62)" font-size="4.72" font-family="Liberation Sans, Arial, sans-serif" text-anchor="start" fill="#111111" stroke="#111111" stroke-width="0.2" >12:10152141-10160212</text>
<rect x="437.20" y="178.28" width="18.37" height="6.87" fill="#4a40a8" shape-rendering="crispEdges" />
<rect x="455.52" y="178.28" width="18.37" height="6.87" fill="#4a40a8" shape-rendering="crispEdges" />
<rect x="473.84" y="178.28" width="18.37" height="6.87" fill="#7068c4" shape-rendering="crispEdges" />
<rect x="492.16" y="178.28" width="18.37" height="6.87" fill="#6a5cc0" shape-rendering="crispEdges" />
<rect x="510.48" y="178.28" width="18.37" height="6.87" fill="#9088d6" shape-rendering="crispEdges" />
<rect x="528.80" y="178.28" width="18.37" height="6.87" fill="#a098dc" shape-rendering="crispEdges" />
<rect x="548.00" y="178.28" width="19.40" height="6.87" fill="#6ec000" shape-rendering="crispEdges" />
<rect x="569.00" y="178.28" width="19.20" height="6.87" fill="#8a6a30" shape-rendering="crispEdges" />
<text x="589.60" y="183.44" transform="rotate(0.1,589.60,183.44)" font-size="4.85" font-family="Liberation Sans, Arial, sans-serif" text-anchor="start" fill="#111111" stroke="#111111" stroke-width="0.2" >MSTRG.23864.1</text>
<text x="630.00" y="183.44" transform="rotate(0.1,630.00,183.44)" font-size="4.72" font-family="Liberation Sans, Arial, sans-serif" text-anchor="start" fill="#111111" stroke="#111111" stroke-width="0.2" >7:16719064-16720013</text>
<rect x="437.20" y="185.10" width="18.37" height="6.87" fill="#4a40a8" shape-rendering="crispEdges" />
<rect x="455.52" y="185.10" width="18.37" height="6.87" fill="#4a40a8" shape-rendering="crispEdges" />
<rect x="473.84" y="185.10" width="18.37" height="6.87" fill="#7068c4" shape-rendering="crispEdges" />
<rect x="492.16" y="185.10" width="18.37" height="6.87" fill="#7a70cc" shape-rendering="crispEdges" />
<rect x="510.48" y="185.10" width="18.37" height="6.87" fill="#8a80d4" shape-rendering="crispEdges" />
<rect x="528.80" y="185.10" width="18.37" height="6.87" fill="#8078cc" shape-rendering="crispEdges" />
<rect x="548.00" y="185.10" width="19.40" height="6.87" fill="#6ec000" shape-rendering="crispEdges" />
<rect x="569.00" y="185.10" width="19.20" height="6.87" fill="#6ec000" shape-rendering="crispEdges" />
<text x="589.60" y="190.26" transform="rotate(0.1,589.60,190.26)" font-size="4.85" font-family="Liberation Sans, Arial, sans-serif" text-anchor="start" fill="#111111" stroke="#111111" stroke-width="0.2" >MSTRG.27143.1</text>
<text x="630.00" y="190.26" transform="rotate(0.1,630.00,190.26)" font-size="4.72" font-family="Liberation Sans, Arial, sans-serif" text-anchor="start" fill="#111111" stroke="#111111" stroke-width="0.2" >8:126346868-126346521</text>
<rect x="437.20" y="191.92" width="18.37" height="6.87" fill="#5048b0" shape-rendering="crispEdges" />
<rect x="455.52" y="191.92" width="18.37" height="6.87" fill="#4238a0" shape-rendering="crispEdges" />
<rect x="473.84" y="191.92" width="18.37" height="6.87" fill="#8a80d4" shape-rendering="crispEdges" />
<rect x="492.16" y="191.92" width="18.37" height="6.87" fill="#5048b0" shape-rendering="crispEdges" />
<rect x="510.48" y="191.92" width="18.37" height="6.87" fill="#9088d6" shape-rendering="crispEdges" />
<rect x="528.80" y="191.92" width="18.37" height="6.87" fill="#a89ee0" shape-rendering="crispEdges" />
<rect x="548.00" y="191.92" width="19.40" height="6.87" fill="#6ec000" shape-rendering="crispEdges" />
<rect x="569.00" y="191.92" width="19.20" height="6.87" fill="#8a6a30" shape-rendering="crispEdges" />
<text x="589.60" y="197.08" transform="rotate(0.1,589.60,197.08)" font-size="4.85" font-family="Liberation Sans, Arial, sans-serif" text-anchor="start" fill="#111111" stroke="#111111" stroke-width="0.2" >MSTRG.6172.1</text>
<text x="630.00" y="197.08" transform="rotate(0.1,630.00,197.08)" font-size="4.72" font-family="Liberation Sans, Arial, sans-serif" text-anchor="start" fill="#111111" stroke="#111111" stroke-width="0.2" >12:78350866-78351177</text>
<rect x="437.20" y="198.74" width="18.37" height="6.87" fill="#6a5cc0" shape-rendering="crispEdges" />
<rect x="455.52" y="198.74" width="18.37" height="6.87" fill="#4238a0" shape-rendering="crispEdges" />
<rect x="473.84" y="198.74" width="18.37" height="6.87" fill="#9890dc" shape-rendering="crispEdges" />
<rect x="492.16" y="198.74" width="18.37" height="6.87" fill="#5048b0" shape-rendering="crispEdges" />
<rect x="510.48" y="198.74" width="18.37" height="6.87" fill="#9088d6" shape-rendering="crispEdges" />
<rect x="528.80" y="198.74" width="18.37" height="6.87" fill="#9890dc" shape-rendering="crispEdges" />
<rect x="548.00" y="198.74" width="19.40" height="6.87" fill="#6ec000" shape-rendering="crispEdges" />
<rect x="569.00" y="198.74" width="19.20" height="6.87" fill="#c05020" shape-rendering="crispEdges" />
<text x="589.60" y="203.90" transform="rotate(0.1,589.60,203.90)" font-size="4.85" font-family="Liberation Sans, Arial, sans-serif" text-anchor="start" fill="#111111" stroke="#111111" stroke-width="0.2" >MSTRG.22062.1</text>
<text x="630.00" y="203.90" transform="rotate(0.1,630.00,203.90)" font-size="4.72" font-family="Liberation Sans, Arial, sans-serif" text-anchor="start" fill="#111111" stroke="#111111" stroke-width="0.2" >5:146260776-146261617</text>
<rect x="437.20" y="205.56" width="18.37" height="6.87" fill="#7068c4" shape-rendering="crispEdges" />
<rect x="455.52" y="205.56" width="18.37" height="6.87" fill="#4238a0" shape-rendering="crispEdges" />
<rect x="473.84" y="205.56" width="18.37" height="6.87" fill="#b0a8e4" shape-rendering="crispEdges" />
<rect x="492.16" y="205.56" width="18.37" height="6.87" fill="#7068c4" shape-rendering="crispEdges" />
<rect x="510.48" y="205.56" width="18.37" height="6.87" fill="#9890dc" shape-rendering="crispEdges" />
<rect x="528.80" y="205.56" width="18.37" height="6.87" fill="#9890dc" shape-rendering="crispEdges" />
<rect x="548.00" y="205.56" width="19.40" height="6.87" fill="#6ec000" shape-rendering="crispEdges" />
<rect x="569.00" y="205.56" width="19.20" height="6.87" fill="#6ec000" shape-rendering="crispEdges" />
<text x="589.60" y="210.72" transform="rotate(0.1,589.60,210.72)" font-size="4.85" font-family="Liberation Sans, Arial, sans-serif" text-anchor="start" fill="#111111" stroke="#111111" stroke-width="0.2" >MSTRG.18663.1</text>
<text x="630.00" y="210.72" transform="rotate(0.1,630.00,210.72)" font-size="4.72" font-family="Liberation Sans, Arial, sans-serif" text-anchor="start" fill="#111111" stroke="#111111" stroke-width="0.2" >4:63421622-63422060</text>
<rect x="437.20" y="212.38" width="18.37" height="6.87" fill="#7068c4" shape-rendering="crispEdges" />
<rect x="455.52" y="212.38" width="18.37" height="6.87" fill="#4238a0" shape-rendering="crispEdges" />
<rect x="473.84" y="212.38" width="18.37" height="6.87" fill="#b0a8e4" shape-rendering="crispEdges" />
<rect x="492.16" y="212.38" width="18.37" height="6.87" fill="#7068c4" shape-rendering="crispEdges" />
<rect x="510.48" y="212.38" width="18.37" height="6.87" fill="#b8b0ea" shape-rendering="crispEdges" />
<rect x="528.80" y="212.38" width="18.37" height="6.87" fill="#a89ee0" shape-rendering="crispEdges" />
<rect x="548.00" y="212.38" width="19.40" height="6.87" fill="#6ec000" shape-rendering="crispEdges" />
<rect x="569.00" y="212.38" width="19.20" height="6.87" fill="#52b818" shape-rendering="crispEdges" />
<text x="589.60" y="217.54" transform="rotate(0.1,589.60,217.54)" font-size="4.85" font-family="Liberation Sans, Arial, sans-serif" text-anchor="start" fill="#111111" stroke="#111111" stroke-width="0.2" >MSTRG.24857.1</text>
<text x="630.00" y="217.54" transform="rotate(0.1,630.00,217.54)" font-size="4.72" font-family="Liberation Sans, Arial, sans-serif" text-anchor="start" fill="#111111" stroke="#111111" stroke-width="0.2" >7:81420457-81421347</text>
<rect x="437.20" y="219.20" width="18.37" height="6.87" fill="#5a4cb8" shape-rendering="crispEdges" />
<rect x="455.52" y="219.20" width="18.37" height="6.87" fill="#4238a0" shape-rendering="crispEdges" />
<rect x="473.84" y="219.20" width="18.37" height="6.87" fill="#8078cc" shape-rendering="crispEdges" />
<rect x="492.16" y="219.20" width="18.37" height="6.87" fill="#a89ee0" shape-rendering="crispEdges" />
<rect x="510.48" y="219.20" width="18.37" height="6.87" fill="#c0b8ec" shape-rendering="crispEdges" />
<rect x="528.80" y="219.20" width="18.37" height="6.87" fill="#7068c4" shape-rendering="crispEdges" />
<rect x="548.00" y="219.20" width="19.40" height="6.87" fill="#6ec000" shape-rendering="crispEdges" />
<rect x="569.00" y="219.20" width="19.20" height="6.87" fill="#6e9a28" shape-rendering="crispEdges" />
<text x="589.60" y="224.36" transform="rotate(0.1,589.60,224.36)" font-size="4.85" font-family="Liberation Sans, Arial, sans-serif" text-anchor="start" fill="#111111" stroke="#111111" stroke-width="0.2" >MSTRG.12412.1</text>
<text x="630.00" y="224.36" transform="rotate(0.1,630.00,224.36)" font-size="4.72" font-family="Liberation Sans, Arial, sans-serif" text-anchor="start" fill="#111111" stroke="#111111" stroke-width="0.2" >18:23944974-23945658</text>
<rect x="437.20" y="226.02" width="18.37" height="6.87" fill="#5a4cb8" shape-rendering="crispEdges" />
<rect x="455.52" y="226.02" width="18.37" height="6.87" fill="#4238a0" shape-rendering="crispEdges" />
<rect x="473.84" y="226.02" width="18.37" height="6.87" fill="#8078cc" shape-rendering="crispEdges" />
<rect x="492.16" y="226.02" width="18.37" height="6.87" fill="#9890dc" shape-rendering="crispEdges" />
<rect x="510.48" y="226.02" width="18.37" height="6.87" fill="#9890dc" shape-rendering="crispEdges" />
<rect x="528.80" y="226.02" width="18.37" height="6.87" fill="#7068c4" shape-rendering="crispEdges" />
<rect x="548.00" y="226.02" width="19.40" height="6.87" fill="#6ec000" shape-rendering="crispEdges" />
<rect x="569.00" y="226.02" width="19.20" height="6.87" fill="#6e9a28" shape-rendering="crispEdges" />
<text x="589.60" y="231.18" transform="rotate(0.1,589.60,231.18)" font-size="4.85" font-family="Liberation Sans, Arial, sans-serif" text-anchor="start" fill="#111111" stroke="#111111" stroke-width="0.2" >MSTRG.12411.1</text>
<text x="630.00" y="231.18" transform="rotate(0.1,630.00,231.18)" font-size="4.72" font-family="Liberation Sans, Arial, sans-serif" text-anchor="start" fill="#111111" stroke="#111111" stroke-width="0.2" >18:23944974-23945653</text>
<rect x="437.20" y="232.84" width="18.37" height="6.87" fill="#6a5cc0" shape-rendering="crispEdges" />
<rect x="455.52" y="232.84" width="18.37" height="6.87" fill="#4238a0" shape-rendering="crispEdges" />
<rect x="473.84" y="232.84" width="18.37" height="6.87" fill="#7068c4" shape-rendering="crispEdges" />
<rect x="492.16" y="232.84" width="18.37" height="6.87" fill="#9890dc" shape-rendering="crispEdges" />
<rect x="510.48" y="232.84" width="18.37" height="6.87" fill="#a098dc" shape-rendering="crispEdges" />
<rect x="528.80" y="232.84" width="18.37" height="6.87" fill="#6a5cc0" shape-rendering="crispEdges" />
<rect x="548.00" y="232.84" width="19.40" height="6.87" fill="#6ec000" shape-rendering="crispEdges" />
<rect x="569.00" y="232.84" width="19.20" height="6.87" fill="#6ec000" shape-rendering="crispEdges" />
<text x="589.60" y="238.00" transform="rotate(0.1,589.60,238.00)" font-size="4.85" font-family="Liberation Sans, Arial, sans-serif" text-anchor="start" fill="#111111" stroke="#111111" stroke-width="0.2" >MSTRG.26763.1</text>
<text x="630.00" y="238.00" transform="rotate(0.1,630.00,238.00)" font-size="4.72" font-family="Liberation Sans, Arial, sans-serif" text-anchor="start" fill="#111111" stroke="#111111" stroke-width="0.2" >8:97878187-97878479</text>
<rect x="437.20" y="239.66" width="18.37" height="6.87" fill="#7068c4" shape-rendering="crispEdges" />
<rect x="455.52" y="239.66" width="18.37" height="6.87" fill="#4238a0" shape-rendering="crispEdges" />
<rect x="473.84" y="239.66" width="18.37" height="6.87" fill="#9890dc" shape-rendering="crispEdges" />
<rect x="492.16" y="239.66" width="18.37" height="6.87" fill="#9088d6" shape-rendering="crispEdges" />
<rect x="510.48" y="239.66" width="18.37" height="6.87" fill="#a89ee0" shape-rendering="crispEdges" />
<rect x="528.80" y="239.66" width="18.37" height="6.87" fill="#8a80d4" shape-rendering="crispEdges" />
<rect x="548.00" y="239.66" width="19.40" height="6.87" fill="#6ec000" shape-rendering="crispEdges" />
<rect x="569.00" y="239.66" width="19.20" height="6.87" fill="#e03020" shape-rendering="crispEdges" />
<text x="589.60" y="244.82" transform="rotate(0.1,589.60,244.82)" font-size="4.85" font-family="Liberation Sans, Arial, sans-serif" text-anchor="start" fill="#111111" stroke="#111111" stroke-width="0.2" >MSTRG.5934.1</text>
<text x="630.00" y="244.82" transform="rotate(0.1,630.00,244.82)" font-size="4.72" font-family="Liberation Sans, Arial, sans-serif" text-anchor="start" fill="#111111" stroke="#111111" stroke-width="0.2" >12:51133268-51134498</text>
<rect x="437.20" y="246.48" width="18.37" height="6.87" fill="#7068c4" shape-rendering="crispEdges" />
<rect x="455.52" y="246.48" width="18.37" height="6.87" fill="#4238a0" shape-rendering="crispEdges" />
<rect x="473.84" y="246.48" width="18.37" height="6.87" fill="#a89ee0" shape-rendering="crispEdges" />
<rect x="492.16" y="246.48" width="18.37" height="6.87" fill="#9088d6" shape-rendering="crispEdges" />
<rect x="510.48" y="246.48" width="18.37" height="6.87" fill="#8a80d4" shape-rendering="crispEdges" />
<rect x="528.80" y="246.48" width="18.37" height="6.87" fill="#7068c4" shape-rendering="crispEdges" />
<rect x="548.00" y="246.48" width="19.40" height="6.87" fill="#6ec000" shape-rendering="crispEdges" />
<rect x="569.00" y="246.48" width="19.20" height="6.87" fill="#8a7030" shape-rendering="crispEdges" />
<text x="589.60" y="251.64" transform="rotate(0.1,589.60,251.64)" font-size="4.85" font-family="Liberation Sans, Arial, sans-serif" text-anchor="start" fill="#111111" stroke="#111111" stroke-width="0.2" >MSTRG.16845.1</text>
<text x="630.00" y="251.64" transform="rotate(0.1,630.00,251.64)" font-size="4.72" font-family="Liberation Sans, Arial, sans-serif" text-anchor="start" fill="#111111" stroke="#111111" stroke-width="0.2" >3:69963542-69963919</text>
<rect x="437.20" y="253.30" width="18.37" height="6.87" fill="#4238a0" shape-rendering="crispEdges" />
<rect x="455.52" y="253.30" width="18.37" height="6.87" fill="#4238a0" shape-rendering="crispEdges" />
<rect x="473.84" y="253.30" width="18.37" height="6.87" fill="#a098dc" shape-rendering="crispEdges" />
<rect x="492.16" y="253.30" width="18.37" height="6.87" fill="#7068c4" shape-rendering="crispEdges" />
<rect x="510.48" y="253.30" width="18.37" height="6.87" fill="#9088d6" shape-rendering="crispEdges" />
<rect x="528.80" y="253.30" width="18.37" height="6.87" fill="#5a4cb8" shape-rendering="crispEdges" />
<rect x="548.00" y="253.30" width="19.40" height="6.87" fill="#6ec000" shape-rendering="crispEdges" />
<rect x="569.00" y="253.30" width="19.20" height="6.87" fill="#52b818" shape-rendering="crispEdges" />
<text x="589.60" y="258.46" transform="rotate(0.1,589.60,258.46)" font-size="4.85" font-family="Liberation Sans, Arial, sans-serif" text-anchor="start" fill="#111111" stroke="#111111" stroke-width="0.2" >MSTRG.13394.1</text>
<text x="630.00" y="258.46" transform="rotate(0.1,630.00,258.46)" font-size="4.72" font-family="Liberation Sans, Arial, sans-serif" text-anchor="start" fill="#111111" stroke="#111111" stroke-width="0.2" >19:15193525-15194235</text>
<rect x="437.20" y="260.12" width="18.37" height="6.87" fill="#4238a0" shape-rendering="crispEdges" />
<rect x="455.52" y="260.12" width="18.37" height="6.87" fill="#4238a0" shape-rendering="crispEdges" />
<rect x="473.84" y="260.12" width="18.37" height="6.87" fill="#7068c4" shape-rendering="crispEdges" />
<rect x="492.16" y="260.12" width="18.37" height="6.87" fill="#7a70cc" shape-rendering="crispEdges" />
<rect x="510.48" y="260.12" width="18.37" height="6.87" fill="#c0b8ec" shape-rendering="crispEdges" />
<rect x="528.80" y="260.12" width="18.37" height="6.87" fill="#6a5cc0" shape-rendering="crispEdges" />
<rect x="548.00" y="260.12" width="19.40" height="6.87" fill="#6ec000" shape-rendering="crispEdges" />
<rect x="569.00" y="260.12" width="19.20" height="6.87" fill="#7a8a30" shape-rendering="crispEdges" />
<text x="589.60" y="265.28" transform="rotate(0.1,589.60,265.28)" font-size="4.85" font-family="Liberation Sans, Arial, sans-serif" text-anchor="start" fill="#111111" stroke="#111111" stroke-width="0.2" >MSTRG.23114.1</text>
<text x="630.00" y="265.28" transform="rotate(0.1,630.00,265.28)" font-size="4.72" font-family="Liberation Sans, Arial, sans-serif" text-anchor="start" fill="#111111" stroke="#111111" stroke-width="0.2" >6:102936068-102937304</text>
<rect x="437.20" y="266.94" width="18.37" height="6.87" fill="#4238a0" shape-rendering="crispEdges" />
<rect x="455.52" y="266.94" width="18.37" height="6.87" fill="#4238a0" shape-rendering="crispEdges" />
<rect x="473.84" y="266.94" width="18.37" height="6.87" fill="#6a5cc0" shape-rendering="crispEdges" />
<rect x="492.16" y="266.94" width="18.37" height="6.87" fill="#7a70cc" shape-rendering="crispEdges" />
<rect x="510.48" y="266.94" width="18.37" height="6.87" fill="#8a80d4" shape-rendering="crispEdges" />
<rect x="528.80" y="266.94" width="18.37" height="6.87" fill="#7a70cc" shape-rendering="crispEdges" />
<rect x="548.00" y="266.94" width="19.40" height="6.87" fill="#6ec000" shape-rendering="crispEdges" />
<rect x="569.00" y="266.94" width="19.20" height="6.87" fill="#52b818" shape-rendering="crispEdges" />
<text x="589.60" y="272.10" transform="rotate(0.1,589.60,272.10)" font-size="4.85" font-family="Liberation Sans, Arial, sans-serif" text-anchor="start" fill="#111111" stroke="#111111" stroke-width="0.2" >MSTRG.10403.1</text>
<text x="630.00" y="272.10" transform="rotate(0.1,630.00,272.10)" font-size="4.72" font-family="Liberation Sans, Arial, sans-serif" text-anchor="start" fill="#111111" stroke="#111111" stroke-width="0.2" >16:34006761-34007505</text>
<rect x="437.20" y="273.76" width="18.37" height="6.87" fill="#4238a0" shape-rendering="crispEdges" />
<rect x="455.52" y="273.76" width="18.37" height="6.87" fill="#4238a0" shape-rendering="crispEdges" />
<rect x="473.84" y="273.76" width="18.37" height="6.87" fill="#6a5cc0" shape-rendering="crispEdges" />
<rect x="492.16" y="273.76" width="18.37" height="6.87" fill="#9088d6" shape-rendering="crispEdges" />
<rect x="510.48" y="273.76" width="18.37" height="6.87" fill="#8a80d4" shape-rendering="crispEdges" />
<rect x="528.80" y="273.76" width="18.37" height="6.87" fill="#8078cc" shape-rendering="crispEdges" />
<rect x="548.00" y="273.76" width="19.40" height="6.87" fill="#6ec000" shape-rendering="crispEdges" />
<rect x="569.00" y="273.76" width="19.20" height="6.87" fill="#6e9a28" shape-rendering="crispEdges" />
<text x="589.60" y="278.92" transform="rotate(0.1,589.60,278.92)" font-size="4.85" font-family="Liberation Sans, Arial, sans-serif" text-anchor="start" fill="#111111" stroke="#111111" stroke-width="0.2" >MSTRG.13310.2</text>
<text x="630.00" y="278.92" transform="rotate(0.1,630.00,278.92)" font-size="4.72" font-family="Liberation Sans, Arial, sans-serif" text-anchor="start" fill="#111111" stroke="#111111" stroke-width="0.2" >19:9016345-9017016</text>
<rect x="437.20" y="280.58" width="18.37" height="6.87" fill="#4238a0" shape-rendering="crispEdges" />
<rect x="455.52" y="280.58" width="18.37" height="6.87" fill="#4238a0" shape-rendering="crispEdges" />
<rect x="473.84" y="280.58" width="18.37" height="6.87" fill="#6a5cc0" shape-rendering="crispEdges" />
<rect x="492.16" y="280.58" width="18.37" height="6.87" fill="#8078cc" shape-rendering="crispEdges" />
<rect x="510.48" y="280.58" width="18.37" height="6.87" fill="#8a80d4" shape-rendering="crispEdges" />
<rect x="528.80" y="280.58" width="18.37" height="6.87" fill="#7068c4" shape-rendering="crispEdges" />
<rect x="548.00" y="280.58" width="19.40" height="6.87" fill="#6ec000" shape-rendering="crispEdges" />
<rect x="569.00" y="280.58" width="19.20" height="6.87" fill="#6e9a28" shape-rendering="crispEdges" />
<text x="589.60" y="285.74" transform="rotate(0.1,589.60,285.74)" font-size="4.85" font-family="Liberation Sans, Arial, sans-serif" text-anchor="start" fill="#111111" stroke="#111111" stroke-width="0.2" >MSTRG.12842.1</text>
<text x="630.00" y="285.74" transform="rotate(0.1,630.00,285.74)" font-size="4.72" font-family="Liberation Sans, Arial, sans-serif" text-anchor="start" fill="#111111" stroke="#111111" stroke-width="0.2" >18:64288353-64288834</text>
<rect x="437.20" y="287.40" width="18.37" height="6.87" fill="#4a40a8" shape-rendering="crispEdges" />
<rect x="455.52" y="287.40" width="18.37" height="6.87" fill="#4238a0" shape-rendering="crispEdges" />
<rect x="473.84" y="287.40" width="18.37" height="6.87" fill="#6a5cc0" shape-rendering="crispEdges" />
<rect x="492.16" y="287.40" width="18.37" height="6.87" fill="#8a80d4" shape-rendering="crispEdges" />
<rect x="510.48" y="287.40" width="18.37" height="6.87" fill="#8078cc" shape-rendering="crispEdges" />
<rect x="528.80" y="287.40" width="18.37" height="6.87" fill="#8a80d4" shape-rendering="crispEdges" />
<rect x="548.00" y="287.40" width="19.40" height="6.87" fill="#6ec000" shape-rendering="crispEdges" />
<rect x="569.00" y="287.40" width="19.20" height="6.87" fill="#52b818" shape-rendering="crispEdges" />
<text x="589.60" y="292.56" transform="rotate(0.1,589.60,292.56)" font-size="4.85" font-family="Liberation Sans, Arial, sans-serif" text-anchor="start" fill="#111111" stroke="#111111" stroke-width="0.2" >MSTRG.25863.1</text>
<text x="630.00" y="292.56" transform="rotate(0.1,630.00,292.56)" font-size="4.72" font-family="Liberation Sans, Arial, sans-serif" text-anchor="start" fill="#111111" stroke="#111111" stroke-width="0.2" >8:11683398-11684246</text>
<rect x="437.20" y="294.22" width="18.37" height="6.87" fill="#4a40a8" shape-rendering="crispEdges" />
<rect x="455.52" y="294.22" width="18.37" height="6.87" fill="#4238a0" shape-rendering="crispEdges" />
<rect x="473.84" y="294.22" width="18.37" height="6.87" fill="#6a5cc0" shape-rendering="crispEdges" />
<rect x="492.16" y="294.22" width="18.37" height="6.87" fill="#8a80d4" shape-rendering="crispEdges" />
<rect x="510.48" y="294.22" width="18.37" height="6.87" fill="#7068c4" shape-rendering="crispEdges" />
<rect x="528.80" y="294.22" width="18.37" height="6.87" fill="#8a80d4" shape-rendering="crispEdges" />
<rect x="548.00" y="294.22" width="19.40" height="6.87" fill="#6ec000" shape-rendering="crispEdges" />
<rect x="569.00" y="294.22" width="19.20" height="6.87" fill="#52b818" shape-rendering="crispEdges" />
<text x="589.60" y="299.38" transform="rotate(0.1,589.60,299.38)" font-size="4.85" font-family="Liberation Sans, Arial, sans-serif" text-anchor="start" fill="#111111" stroke="#111111" stroke-width="0.2" >MSTRG.2434.1</text>
<text x="630.00" y="299.38" transform="rotate(0.1,630.00,299.38)" font-size="4.72" font-family="Liberation Sans, Arial, sans-serif" text-anchor="start" fill="#111111" stroke="#111111" stroke-width="0.2" >10:44852598-44852932</text>
<rect x="437.20" y="301.04" width="18.37" height="6.87" fill="#4a40a8" shape-rendering="crispEdges" />
<rect x="455.52" y="301.04" width="18.37" height="6.87" fill="#4238a0" shape-rendering="crispEdges" />
<rect x="473.84" y="301.04" width="18.37" height="6.87" fill="#6a5cc0" shape-rendering="crispEdges" />
<rect x="492.16" y="301.04" width="18.37" height="6.87" fill="#7068c4" shape-rendering="crispEdges" />
<rect x="510.48" y="301.04" width="18.37" height="6.87" fill="#8078cc" shape-rendering="crispEdges" />
<rect x="528.80" y="301.04" width="18.37" height="6.87" fill="#8a80d4" shape-rendering="crispEdges" />
<rect x="548.00" y="301.04" width="19.40" height="6.87" fill="#8a8a30" shape-rendering="crispEdges" />
<rect x="569.00" y="301.04" width="19.20" height="6.87" fill="#52b818" shape-rendering="crispEdges" />
<text x="589.60" y="306.20" transform="rotate(0.1,589.60,306.20)" font-size="4.85" font-family="Liberation Sans, Arial, sans-serif" text-anchor="start" fill="#111111" stroke="#111111" stroke-width="0.2" >MSTRG.9033.1</text>
<text x="630.00" y="306.20" transform="rotate(0.1,630.00,306.20)" font-size="4.72" font-family="Liberation Sans, Arial, sans-serif" text-anchor="start" fill="#111111" stroke="#111111" stroke-width="0.2" >15:31445648-31446836</text>
<rect x="437.20" y="307.86" width="18.37" height="6.87" fill="#4a40a8" shape-rendering="crispEdges" />
<rect x="455.52" y="307.86" width="18.37" height="6.87" fill="#4238a0" shape-rendering="crispEdges" />
<rect x="473.84" y="307.86" width="18.37" height="6.87" fill="#6a5cc0" shape-rendering="crispEdges" />
<rect x="492.16" y="307.86" width="18.37" height="6.87" fill="#7068c4" shape-rendering="crispEdges" />
<rect x="510.48" y="307.86" width="18.37" height="6.87" fill="#8078cc" shape-rendering="crispEdges" />
<rect x="528.80" y="307.86" width="18.37" height="6.87" fill="#9890dc" shape-rendering="crispEdges" />
<rect x="548.00" y="307.86" width="19.40" height="6.87" fill="#6ec000" shape-rendering="crispEdges" />
<rect x="569.00" y="307.86" width="19.20" height="6.87" fill="#b05a20" shape-rendering="crispEdges" />
<text x="589.60" y="313.02" transform="rotate(0.1,589.60,313.02)" font-size="4.85" font-family="Liberation Sans, Arial, sans-serif" text-anchor="start" fill="#111111" stroke="#111111" stroke-width="0.2" >MSTRG.9146.1</text>
<text x="630.00" y="313.02" transform="rotate(0.1,630.00,313.02)" font-size="4.72" font-family="Liberation Sans, Arial, sans-serif" text-anchor="start" fill="#111111" stroke="#111111" stroke-width="0.2" >15:40670304-40671118</text>
<rect x="437.20" y="314.68" width="18.37" height="6.87" fill="#4a40a8" shape-rendering="crispEdges" />
<rect x="455.52" y="314.68" width="18.37" height="6.87" fill="#4238a0" shape-rendering="crispEdges" />
<rect x="473.84" y="314.68" width="18.37" height="6.87" fill="#5048b0" shape-rendering="crispEdges" />
<rect x="492.16" y="314.68" width="18.37" height="6.87" fill="#8a80d4" shape-rendering="crispEdges" />
<rect x="510.48" y="314.68" width="18.37" height="6.87" fill="#8078cc" shape-rendering="crispEdges" />
<rect x="528.80" y="314.68" width="18.37" height="6.87" fill="#6a5cc0" shape-rendering="crispEdges" />
<rect x="548.00" y="314.68" width="19.40" height="6.87" fill="#6ec000" shape-rendering="crispEdges" />
<rect x="569.00" y="314.68" width="19.20" height="6.87" fill="#e03020" shape-rendering="crispEdges" />
<text x="589.60" y="319.84" transform="rotate(0.1,589.60,319.84)" font-size="4.85" font-family="Liberation Sans, Arial, sans-serif" text-anchor="start" fill="#111111" stroke="#111111" stroke-width="0.2" >MSTRG.27968.1</text>
<text x="630.00" y="319.84" transform="rotate(0.1,630.00,319.84)" font-size="4.72" font-family="Liberation Sans, Arial, sans-serif" text-anchor="start" fill="#111111" stroke="#111111" stroke-width="0.2" >9:54824420-54825343</text>
<rect x="437.20" y="321.50" width="18.37" height="6.87" fill="#4a40a8" shape-rendering="crispEdges" />
<rect x="455.52" y="321.50" width="18.37" height="6.87" fill="#4238a0" shape-rendering="crispEdges" />
<rect x="473.84" y="321.50" width="18.37" height="6.87" fill="#5048b0" shape-rendering="crispEdges" />
<rect x="492.16" y="321.50" width="18.37" height="6.87" fill="#8078cc" shape-rendering="crispEdges" />
<rect x="510.48" y="321.50" width="18.37" height="6.87" fill="#6a5cc0" shape-rendering="crispEdges" />
<rect x="528.80" y="321.50" width="18.37" height="6.87" fill="#8a80d4" shape-rendering="crispEdges" />
<rect x="548.00" y="321.50" width="19.40" height="6.87" fill="#6ec000" shape-rendering="crispEdges" />
<rect x="569.00" y="321.50" width="19.20" height="6.87" fill="#e03020" shape-rendering="crispEdges" />
<text x="589.60" y="326.66" transform="rotate(0.1,589.60,326.66)" font-size="4.85" font-family="Liberation Sans, Arial, sans-serif" text-anchor="start" fill="#111111" stroke="#111111" stroke-width="0.2" >MSTRG.12435.1</text>
<text x="630.00" y="326.66" transform="rotate(0.1,630.00,326.66)" font-size="4.72" font-family="Liberation Sans, Arial, sans-serif" text-anchor="start" fill="#111111" stroke="#111111" stroke-width="0.2" >18:30419626-30420095</text>
<rect x="437.20" y="328.32" width="18.37" height="6.87" fill="#4a40a8" shape-rendering="crispEdges" />
<rect x="455.52" y="328.32" width="18.37" height="6.87" fill="#4238a0" shape-rendering="crispEdges" />
<rect x="473.84" y="328.32" width="18.37" height="6.87" fill="#7068c4" shape-rendering="crispEdges" />
<rect x="492.16" y="328.32" width="18.37" height="6.87" fill="#7068c4" shape-rendering="crispEdges" />
<rect x="510.48" y="328.32" width="18.37" height="6.87" fill="#7a70cc" shape-rendering="crispEdges" />
<rect x="528.80" y="328.32" width="18.37" height="6.87" fill="#8a80d4" shape-rendering="crispEdges" />
<rect x="548.00" y="328.32" width="19.40" height="6.87" fill="#6ec000" shape-rendering="crispEdges" />
<rect x="569.00" y="328.32" width="19.20" height="6.87" fill="#e03020" shape-rendering="crispEdges" />
<text x="589.60" y="333.48" transform="rotate(0.1,589.60,333.48)" font-size="4.85" font-family="Liberation Sans, Arial, sans-serif" text-anchor="start" fill="#111111" stroke="#111111" stroke-width="0.2" >MSTRG.10272.1</text>
<text x="630.00" y="333.48" transform="rotate(0.1,630.00,333.48)" font-size="4.72" font-family="Liberation Sans, Arial, sans-serif" text-anchor="start" fill="#111111" stroke="#111111" stroke-width="0.2" >16:24526318-24531194</text>
<rect x="437.20" y="335.14" width="18.37" height="6.87" fill="#4a40a8" shape-rendering="crispEdges" />
<rect x="455.52" y="335.14" width="18.37" height="6.87" fill="#4238a0" shape-rendering="crispEdges" />
<rect x="473.84" y="335.14" width="18.37" height="6.87" fill="#7068c4" shape-rendering="crispEdges" />
<rect x="492.16" y="335.14" width="18.37" height="6.87" fill="#7068c4" shape-rendering="crispEdges" />
<rect x="510.48" y="335.14" width="18.37" height="6.87" fill="#6a5cc0" shape-rendering="crispEdges" />
<rect x="528.80" y="335.14" width="18.37" height="6.87" fill="#8a80d4" shape-rendering="crispEdges" />
<rect x="548.00" y="335.14" width="19.40" height="6.87" fill="#6ec000" shape-rendering="crispEdges" />
<rect x="569.00" y="335.14" width="19.20" height="6.87" fill="#6e9a28" shape-rendering="crispEdges" />
<text x="589.60" y="340.30" transform="rotate(0.1,589.60,340.30)" font-size="4.85" font-family="Liberation Sans, Arial, sans-serif" text-anchor="start" fill="#111111" stroke="#111111" stroke-width="0.2" >MSTRG.26428.1</text>
<text x="630.00" y="340.30" transform="rotate(0.1,630.00,340.30)" font-size="4.72" font-family="Liberation Sans, Arial, sans-serif" text-anchor="start" fill="#111111" stroke="#111111" stroke-width="0.2" >8:72035196-72035968</text>
<rect x="437.20" y="341.96" width="18.37" height="6.87" fill="#4238a0" shape-rendering="crispEdges" />
<rect x="455.52" y="341.96" width="18.37" height="6.87" fill="#4238a0" shape-rendering="crispEdges" />
<rect x="473.84" y="341.96" width="18.37" height="6.87" fill="#6a5cc0" shape-rendering="crispEdges" />
<rect x="492.16" y="341.96" width="18.37" height="6.87" fill="#6a5cc0" shape-rendering="crispEdges" />
<rect x="510.48" y="341.96" width="18.37" height="6.87" fill="#6a5cc0" shape-rendering="crispEdges" />
<rect x="528.80" y="341.96" width="18.37" height="6.87" fill="#6a5cc0" shape-rendering="crispEdges" />
<rect x="548.00" y="341.96" width="19.40" height="6.87" fill="#6ec000" shape-rendering="crispEdges" />
<rect x="569.00" y="341.96" width="19.20" height="6.87" fill="#52b818" shape-rendering="crispEdges" />
<text x="589.60" y="347.12" transform="rotate(0.1,589.60,347.12)" font-size="4.85" font-family="Liberation Sans, Arial, sans-serif" text-anchor="start" fill="#111111" stroke="#111111" stroke-width="0.2" >MSTRG.9198.1</text>
<text x="630.00" y="347.12" transform="rotate(0.1,630.00,347.12)" font-size="4.72" font-family="Liberation Sans, Arial, sans-serif" text-anchor="start" fill="#111111" stroke="#111111" stroke-width="0.2" >15:52086268-52086970</text>
<rect x="437.20" y="348.78" width="18.37" height="6.87" fill="#4238a0" shape-rendering="crispEdges" />
<rect x="455.52" y="348.78" width="18.37" height="6.87" fill="#4238a0" shape-rendering="crispEdges" />
<rect x="473.84" y="348.78" width="18.37" height="6.87" fill="#6a5cc0" shape-rendering="crispEdges" />
<rect x="492.16" y="348.78" width="18.37" height="6.87" fill="#6a5cc0" shape-rendering="crispEdges" />
<rect x="510.48" y="348.78" width="18.37" height="6.87" fill="#6a5cc0" shape-rendering="crispEdges" />
<rect x="528.80" y="348.78" width="18.37" height="6.87" fill="#6a5cc0" shape-rendering="crispEdges" />
<rect x="548.00" y="348.78" width="19.40" height="6.87" fill="#6ec000" shape-rendering="crispEdges" />
<rect x="569.00" y="348.78" width="19.20" height="6.87" fill="#d04020" shape-rendering="crispEdges" />
<text x="589.60" y="353.94" transform="rotate(0.1,589.60,353.94)" font-size="4.85" font-family="Liberation Sans, Arial, sans-serif" text-anchor="start" fill="#111111" stroke="#111111" stroke-width="0.2" >MSTRG.26266.1</text>
<text x="630.00" y="353.94" transform="rotate(0.1,630.00,353.94)" font-size="4.72" font-family="Liberation Sans, Arial, sans-serif" text-anchor="start" fill="#111111" stroke="#111111" stroke-width="0.2" >8:61380344-61381452</text>
<rect x="437.20" y="355.60" width="18.37" height="6.87" fill="#4238a0" shape-rendering="crispEdges" />
<rect x="455.52" y="355.60" width="18.37" height="6.87" fill="#4a40a8" shape-rendering="crispEdges" />
<rect x="473.84" y="355.60" width="18.37" height="6.87" fill="#6a5cc0" shape-rendering="crispEdges" />
<rect x="492.16" y="355.60" width="18.37" height="6.87" fill="#8a80d4" shape-rendering="crispEdges" />
<rect x="510.48" y="355.60" width="18.37" height="6.87" fill="#6a5cc0" shape-rendering="crispEdges" />
<rect x="528.80" y="355.60" width="18.37" height="6.87" fill="#6a5cc0" shape-rendering="crispEdges" />
<rect x="548.00" y="355.60" width="19.40" height="6.87" fill="#6ec000" shape-rendering="crispEdges" />
<rect x="569.00" y="355.60" width="19.20" height="6.87" fill="#d04020" shape-rendering="crispEdges" />
<text x="589.60" y="360.76" transform="rotate(0.1,589.60,360.76)" font-size="4.85" font-family="Liberation Sans, Arial, sans-serif" text-anchor="start" fill="#111111" stroke="#111111" stroke-width="0.2" >MSTRG.7326.1</text>
<text x="630.00" y="360.76" transform="rotate(0.1,630.00,360.76)" font-size="4.72" font-family="Liberation Sans, Arial, sans-serif" text-anchor="start" fill="#111111" stroke="#111111" stroke-width="0.2" >13:64624218-64624714</text>
<rect x="437.20" y="362.42" width="18.37" height="6.87" fill="#4238a0" shape-rendering="crispEdges" />
<rect x="455.52" y="362.42" width="18.37" height="6.87" fill="#4a40a8" shape-rendering="crispEdges" />
<rect x="473.84" y="362.42" width="18.37" height="6.87" fill="#6a5cc0" shape-rendering="crispEdges" />
<rect x="492.16" y="362.42" width="18.37" height="6.87" fill="#8a80d4" shape-rendering="crispEdges" />
<rect x="510.48" y="362.42" width="18.37" height="6.87" fill="#6a5cc0" shape-rendering="crispEdges" />
<rect x="528.80" y="362.42" width="18.37" height="6.87" fill="#6a5cc0" shape-rendering="crispEdges" />
<rect x="548.00" y="362.42" width="19.40" height="6.87" fill="#6ec000" shape-rendering="crispEdges" />
<rect x="569.00" y="362.42" width="19.20" height="6.87" fill="#52b818" shape-rendering="crispEdges" />
<text x="589.60" y="367.58" transform="rotate(0.1,589.60,367.58)" font-size="4.85" font-family="Liberation Sans, Arial, sans-serif" text-anchor="start" fill="#111111" stroke="#111111" stroke-width="0.2" >MSTRG.5887.1</text>
<text x="630.00" y="367.58" transform="rotate(0.1,630.00,367.58)" font-size="4.72" font-family="Liberation Sans, Arial, sans-serif" text-anchor="start" fill="#111111" stroke="#111111" stroke-width="0.2" >12:54622717-54623155</text>
<rect x="437.20" y="369.24" width="18.37" height="6.87" fill="#4a40a8" shape-rendering="crispEdges" />
<rect x="455.52" y="369.24" width="18.37" height="6.87" fill="#4238a0" shape-rendering="crispEdges" />
<rect x="473.84" y="369.24" width="18.37" height="6.87" fill="#5a4cb8" shape-rendering="crispEdges" />
<rect x="492.16" y="369.24" width="18.37" height="6.87" fill="#9890dc" shape-rendering="crispEdges" />
<rect x="510.48" y="369.24" width="18.37" height="6.87" fill="#4a40a8" shape-rendering="crispEdges" />
<rect x="528.80" y="369.24" width="18.37" height="6.87" fill="#9890dc" shape-rendering="crispEdges" />
<rect x="548.00" y="369.24" width="19.40" height="6.87" fill="#6ec000" shape-rendering="crispEdges" />
<rect x="569.00" y="369.24" width="19.20" height="6.87" fill="#52b818" shape-rendering="crispEdges" />
<text x="589.60" y="374.40" transform="rotate(0.1,589.60,374.40)" font-size="4.85" font-family="Liberation Sans, Arial, sans-serif" text-anchor="start" fill="#111111" stroke="#111111" stroke-width="0.2" >MSTRG.9226.1</text>
<text x="630.00" y="374.40" transform="rotate(0.1,630.00,374.40)" font-size="4.72" font-family="Liberation Sans, Arial, sans-serif" text-anchor="start" fill="#111111" stroke="#111111" stroke-width="0.2" >15:60468395-60468712</text>
<rect x="437.20" y="376.06" width="18.37" height="6.87" fill="#4a40a8" shape-rendering="crispEdges" />
<rect x="455.52" y="376.06" width="18.37" height="6.87" fill="#4238a0" shape-rendering="crispEdges" />
<rect x="473.84" y="376.06" width="18.37" height="6.87" fill="#7a70cc" shape-rendering="crispEdges" />
<rect x="492.16" y="376.06" width="18.37" height="6.87" fill="#9890dc" shape-rendering="crispEdges" />
<rect x="510.48" y="376.06" width="18.37" height="6.87" fill="#4a40a8" shape-rendering="crispEdges" />
<rect x="528.80" y="376.06" width="18.37" height="6.87" fill="#7a70cc" shape-rendering="crispEdges" />
<rect x="548.00" y="376.06" width="19.40" height="6.87" fill="#6ec000" shape-rendering="crispEdges" />
<rect x="569.00" y="376.06" width="19.20" height="6.87" fill="#52b818" shape-rendering="crispEdges" />
<text x="589.60" y="381.22" transform="rotate(0.1,589.60,381.22)" font-size="4.85" font-family="Liberation Sans, Arial, sans-serif" text-anchor="start" fill="#111111" stroke="#111111" stroke-width="0.2" >MSTRG.10971.1</text>
<text x="630.00" y="381.22" transform="rotate(0.1,630.00,381.22)" font-size="4.72" font-family="Liberation Sans, Arial, sans-serif" text-anchor="start" fill="#111111" stroke="#111111" stroke-width="0.2" >17:6058671-6081843</text>
<rect x="437.20" y="382.88" width="18.37" height="6.87" fill="#4238a0" shape-rendering="crispEdges" />
<rect x="455.52" y="382.88" width="18.37" height="6.87" fill="#4238a0" shape-rendering="crispEdges" />
<rect x="473.84" y="382.88" width="18.37" height="6.87" fill="#7a70cc" shape-rendering="crispEdges" />
<rect x="492.16" y="382.88" width="18.37" height="6.87" fill="#b0a8e4" shape-rendering="crispEdges" />
<rect x="510.48" y="382.88" width="18.37" height="6.87" fill="#6a5cc0" shape-rendering="crispEdges" />
<rect x="528.80" y="382.88" width="18.37" height="6.87" fill="#8a80d4" shape-rendering="crispEdges" />
<rect x="548.00" y="382.88" width="19.40" height="6.87" fill="#6ec000" shape-rendering="crispEdges" />
<rect x="569.00" y="382.88" width="19.20" height="6.87" fill="#52b818" shape-rendering="crispEdges" />
<text x="589.60" y="388.04" transform="rotate(0.1,589.60,388.04)" font-size="4.85" font-family="Liberation Sans, Arial, sans-serif" text-anchor="start" fill="#111111" stroke="#111111" stroke-width="0.2" >MSTRG.13428.1</text>
<text x="630.00" y="388.04" transform="rotate(0.1,630.00,388.04)" font-size="4.72" font-family="Liberation Sans, Arial, sans-serif" text-anchor="start" fill="#111111" stroke="#111111" stroke-width="0.2" >18:28188819-28189101</text>
<rect x="437.20" y="389.70" width="18.37" height="6.87" fill="#4238a0" shape-rendering="crispEdges" />
<rect x="455.52" y="389.70" width="18.37" height="6.87" fill="#4a40a8" shape-rendering="crispEdges" />
<rect x="473.84" y="389.70" width="18.37" height="6.87" fill="#8078cc" shape-rendering="crispEdges" />
<rect x="492.16" y="389.70" width="18.37" height="6.87" fill="#9890dc" shape-rendering="crispEdges" />
<rect x="510.48" y="389.70" width="18.37" height="6.87" fill="#6a5cc0" shape-rendering="crispEdges" />
<rect x="528.80" y="389.70" width="18.37" height="6.87" fill="#8a80d4" shape-rendering="crispEdges" />
<rect x="548.00" y="389.70" width="19.40" height="6.87" fill="#6ec000" shape-rendering="crispEdges" />
<rect x="569.00" y="389.70" width="19.20" height="6.87" fill="#e03020" shape-rendering="crispEdges" />
<text x="589.60" y="394.86" transform="rotate(0.1,589.60,394.86)" font-size="4.85" font-family="Liberation Sans, Arial, sans-serif" text-anchor="start" fill="#111111" stroke="#111111" stroke-width="0.2" >MSTRG.8036.1</text>
<text x="630.00" y="394.86" transform="rotate(0.1,630.00,394.86)" font-size="4.72" font-family="Liberation Sans, Arial, sans-serif" text-anchor="start" fill="#111111" stroke="#111111" stroke-width="0.2" >14:27210358-27210946</text>
<text transform="translate(448.11,13.00) rotate(-32)" font-size="7.0" font-family="Liberation Sans, Arial, sans-serif" fill="#1a1a1a" stroke="#1a1a1a" stroke-width="0.3" >E15</text>
<text transform="translate(466.21,13.00) rotate(-32)" font-size="7.0" font-family="Liberation Sans, Arial, sans-serif" fill="#1a1a1a" stroke="#1a1a1a" stroke-width="0.3" >E18</text>
<text transform="translate(483.81,13.00) rotate(-32)" font-size="7.0" font-family="Liberation Sans, Arial, sans-serif" fill="#1a1a1a" stroke="#1a1a1a" stroke-width="0.3" >P0</text>
<text transform="translate(501.91,13.00) rotate(-32)" font-size="7.0" font-family="Liberation Sans, Arial, sans-serif" fill="#1a1a1a" stroke="#1a1a1a" stroke-width="0.3" >P3</text>
<text transform="translate(520.31,13.00) rotate(-32)" font-size="7.0" font-family="Liberation Sans, Arial, sans-serif" fill="#1a1a1a" stroke="#1a1a1a" stroke-width="0.3" >P6</text>
<text transform="translate(538.71,13.00) rotate(-32)" font-size="7.0" font-family="Liberation Sans, Arial, sans-serif" fill="#1a1a1a" stroke="#1a1a1a" stroke-width="0.3" >P9</text>
<text transform="translate(556.21,13.00) rotate(-32)" font-size="7.0" font-family="Liberation Sans, Arial, sans-serif" fill="#1a1a1a" stroke="#1a1a1a" stroke-width="0.3" >NS</text>
<text transform="translate(574.91,13.00) rotate(-32)" font-size="7.0" font-family="Liberation Sans, Arial, sans-serif" fill="#1a1a1a" stroke="#1a1a1a" stroke-width="0.3" >PS</text>
<text x="588.20" y="11.60" transform="rotate(0.1,588.20,11.60)" font-size="5.75" font-family="Liberation Sans, Arial, sans-serif" text-anchor="start" fill="#111111" stroke="#111111" stroke-width="0.12" >Transcript ID</text>
<text x="653.20" y="4.40" transform="rotate(0.1,653.20,4.40)" font-size="5.75" font-family="Liberation Sans, Arial, sans-serif" text-anchor="middle" fill="#111111" stroke="#111111" stroke-width="0.12" >mm10 Ref. genome</text>
<text x="653.30" y="11.10" transform="rotate(0.1,653.30,11.10)" font-size="5.75" font-family="Liberation Sans, Arial, sans-serif" text-anchor="middle" fill="#111111" stroke="#111111" stroke-width="0.12" >Location (chr:start-stop)</text>
<g fill="none" stroke="#2e2e2e" stroke-width="0.8">
<path d="M435.80,18.01H433.80V24.83H435.80" />
<path d="M435.80,31.65H432.40V38.47H435.80" />
<path d="M433.80,21.42H429.50V35.06H432.40" />
<path d="M435.80,45.29H426.60V52.11H435.80" />
<path d="M435.80,58.93H429.50V65.75H435.80" />
<path d="M429.50,62.34H426.60V72.57H435.80" />
<path d="M426.60,48.70H415.50V67.45H426.60" />
<path d="M429.50,28.24H411.40V58.08H415.50" />
<path d="M435.80,86.21H430.10V93.03H435.80" />
<path d="M435.80,79.39H409.60V89.62H430.10" />
<path d="M411.40,43.16H362.40V84.50H409.60" />
<path d="M435.80,106.67H434.20V113.49H435.80" />
<path d="M434.20,110.08H427.50V120.31H435.80" />
<path d="M435.80,127.13H433.40V133.95H435.80" />
<path d="M427.50,115.19H401.50V130.54H433.40" />
<path d="M435.80,99.85H381.60V122.87H401.50" />
<path d="M435.80,147.59H433.40V154.41H435.80" />
<path d="M435.80,140.77H421.30V151.00H433.40" />
<path d="M435.80,168.05H433.00V174.87H435.80" />
<path d="M433.00,171.46H430.10V181.69H435.80" />
<path d="M430.10,176.57H427.80V188.51H435.80" />
<path d="M435.80,161.23H420.50V182.54H427.80" />
<path d="M421.30,145.88H399.50V171.89H420.50" />
<path d="M381.60,111.36H367.50V158.89H399.50" />
<path d="M362.40,63.83H336.00V135.12H367.50" />
<path d="M435.80,195.33H417.00V202.15H435.80" />
<path d="M435.80,208.97H424.30V215.79H435.80" />
<path d="M417.00,198.74H392.10V212.38H424.30" />
<path d="M435.80,229.43H427.50V236.25H435.80" />
<path d="M435.80,222.61H421.00V232.84H427.50" />
<path d="M435.80,243.07H430.70V249.89H435.80" />
<path d="M421.00,227.73H400.90V246.48H430.70" />
<path d="M435.80,256.71H410.50V263.53H435.80" />
<path d="M400.90,237.10H376.40V260.12H410.50" />
<path d="M392.10,205.56H359.50V248.61H376.40" />
<path d="M435.80,270.35H432.70V277.17H435.80" />
<path d="M432.70,273.76H427.50V283.99H435.80" />
<path d="M435.80,290.81H434.80V297.63H435.80" />
<path d="M435.80,304.45H432.70V311.27H435.80" />
<path d="M434.80,294.22H430.70V307.86H432.70" />
<path d="M427.50,278.88H418.40V301.04H430.70" />
<path d="M418.40,289.96H410.20V318.09H435.80" />
<path d="M435.80,331.73H430.70V338.55H435.80" />
<path d="M435.80,324.91H424.30V335.14H430.70" />
<path d="M435.80,345.37H434.80V352.19H435.80" />
<path d="M435.80,359.01H434.80V365.83H435.80" />
<path d="M434.80,348.78H429.50V362.42H434.80" />
<path d="M424.30,330.02H419.30V355.60H429.50" />
<path d="M410.20,304.02H401.50V342.81H419.30" />
<path d="M435.80,372.65H419.30V379.47H435.80" />
<path d="M435.80,386.29H422.50V393.11H435.80" />
<path d="M419.30,376.06H403.80V389.70H422.50" />
<path d="M401.50,323.42H376.40V382.88H403.80" />
<path d="M359.50,227.09H337.90V353.15H376.40" />
<path d="M336.00,99.48H312.30V284.30H337.90" />
</g>
<defs><filter id="ab" x="-5%" y="-1%" width="110%" height="102%"><feGaussianBlur stdDeviation="0.35"/></filter></defs><g shape-rendering="crispEdges" filter="url(#ab)"><rect x="19.30" y="15.20" width="1.65" height="1.50" fill="#dcd6f4"/><rect x="19.30" y="16.70" width="1.65" height="1.50" fill="#4a40a8"/><rect x="19.30" y="18.20" width="1.65" height="1.50" fill="#4238a0"/><rect x="19.30" y="19.70" width="1.65" height="1.50" fill="#4a40a8"/><rect x="19.30" y="21.20" width="1.65" height="1.50" fill="#7a70cc"/><rect x="19.30" y="22.70" width="1.65" height="4.50" fill="#5448b4"/><rect x="19.30" y="27.20" width="1.65" height="1.50" fill="#7a70cc"/><rect x="19.30" y="28.70" width="1.65" height="1.50" fill="#4a40a8"/><rect x="19.30" y="30.20" width="1.65" height="1.50" fill="#6a5cc0"/><rect x="19.30" y="31.70" width="1.65" height="1.50" fill="#4238a0"/><rect x="19.30" y="33.20" width="1.65" height="1.50" fill="#4a40a8"/><rect x="19.30" y="34.71" width="1.65" height="1.50" fill="#7a70cc"/><rect x="19.30" y="36.21" width="1.65" height="1.50" fill="#5448b4"/><rect x="19.30" y="37.71" width="1.65" height="1.50" fill="#dcd6f4"/><rect x="19.30" y="39.21" width="1.65" height="1.50" fill="#d2caf0"/><rect x="19.30" y="40.71" width="1.65" height="1.50" fill="#dcd6f4"/><rect x="19.30" y="42.21" width="1.65" height="1.50" fill="#c4baec"/><rect x="19.30" y="43.71" width="1.65" height="1.50" fill="#d2caf0"/><rect x="19.30" y="45.21" width="1.65" height="1.50" fill="#5448b4"/><rect x="19.30" y="46.71" width="1.65" height="1.50" fill="#4238a0"/><rect x="19.30" y="48.21" width="1.65" height="1.50" fill="#dcd6f4"/><rect x="19.30" y="49.71" width="1.65" height="1.50" fill="#4238a0"/><rect x="19.30" y="51.21" width="1.65" height="1.50" fill="#6a5cc0"/><rect x="19.30" y="52.71" width="1.65" height="1.50" fill="#7a70cc"/><rect x="19.30" y="54.21" width="1.65" height="1.50" fill="#4238a0"/><rect x="19.30" y="55.71" width="1.65" height="4.50" fill="#4a40a8"/><rect x="19.30" y="60.21" width="1.65" height="3.00" fill="#4238a0"/><rect x="19.30" y="63.21" width="1.65" height="1.50" fill="#4a40a8"/><rect x="19.30" y="64.71" width="1.65" height="1.50" fill="#4238a0"/><rect x="19.30" y="66.21" width="1.65" height="1.50" fill="#4a40a8"/><rect x="19.30" y="67.71" width="1.65" height="7.50" fill="#dcd6f4"/><rect x="19.30" y="75.22" width="1.65" height="1.50" fill="#c4baec"/><rect x="19.30" y="76.72" width="1.65" height="1.50" fill="#dcd6f4"/><rect x="19.30" y="78.22" width="1.65" height="1.50" fill="#d2caf0"/><rect x="19.30" y="79.72" width="1.65" height="1.50" fill="#c4baec"/><rect x="19.30" y="81.22" width="1.65" height="1.50" fill="#d2caf0"/><rect x="19.30" y="82.72" width="1.65" height="3.00" fill="#e0daf6"/><rect x="19.30" y="85.72" width="1.65" height="4.50" fill="#dcd6f4"/><rect x="19.30" y="90.22" width="1.65" height="1.50" fill="#6a5cc0"/><rect x="19.30" y="91.72" width="1.65" height="1.50" fill="#5448b4"/><rect x="19.30" y="93.22" width="1.65" height="1.50" fill="#7a70cc"/><rect x="19.30" y="94.72" width="1.65" height="1.50" fill="#4238a0"/><rect x="19.30" y="96.22" width="1.65" height="1.50" fill="#6a5cc0"/><rect x="19.30" y="97.72" width="1.65" height="1.50" fill="#5448b4"/><rect x="19.30" y="99.22" width="1.65" height="1.50" fill="#dcd6f4"/><rect x="19.30" y="100.72" width="1.65" height="1.50" fill="#d2caf0"/><rect x="19.30" y="102.22" width="1.65" height="1.50" fill="#dcd6f4"/><rect x="19.30" y="103.72" width="1.65" height="1.50" fill="#4238a0"/><rect x="19.30" y="105.22" width="1.65" height="1.50" fill="#5448b4"/><rect x="19.30" y="106.72" width="1.65" height="3.00" fill="#4238a0"/><rect x="19.30" y="109.72" width="1.65" height="1.50" fill="#5448b4"/><rect x="19.30" y="111.23" width="1.65" height="1.50" fill="#4238a0"/><rect x="19.30" y="112.73" width="1.65" height="1.50" fill="#4a40a8"/><rect x="19.30" y="114.23" width="1.65" height="1.50" fill="#5448b4"/><rect x="19.30" y="115.73" width="1.65" height="1.50" fill="#6a5cc0"/><rect x="19.30" y="117.23" width="1.65" height="1.50" fill="#7a70cc"/><rect x="19.30" y="118.73" width="1.65" height="3.00" fill="#4a40a8"/><rect x="19.30" y="121.73" width="1.65" height="1.50" fill="#5448b4"/><rect x="19.30" y="123.23" width="1.65" height="1.50" fill="#d2caf0"/><rect x="19.30" y="124.73" width="1.65" height="1.50" fill="#dcd6f4"/><rect x="19.30" y="126.23" width="1.65" height="3.00" fill="#d2caf0"/><rect x="19.30" y="129.23" width="1.65" height="1.50" fill="#c4baec"/><rect x="19.30" y="130.73" width="1.65" height="1.50" fill="#a89ee0"/><rect x="19.30" y="132.23" width="1.65" height="1.50" fill="#e0daf6"/><rect x="19.30" y="133.73" width="1.65" height="1.50" fill="#dcd6f4"/><rect x="19.30" y="135.23" width="1.65" height="1.50" fill="#e0daf6"/><rect x="19.30" y="136.73" width="1.65" height="1.50" fill="#dcd6f4"/><rect x="19.30" y="138.23" width="1.65" height="1.50" fill="#e0daf6"/><rect x="19.30" y="139.73" width="1.65" height="1.50" fill="#dcd6f4"/><rect x="19.30" y="141.23" width="1.65" height="1.50" fill="#c4baec"/><rect x="19.30" y="142.73" width="1.65" height="3.00" fill="#e0daf6"/><rect x="19.30" y="145.73" width="1.65" height="1.50" fill="#c4baec"/><rect x="19.30" y="147.23" width="1.65" height="3.00" fill="#dcd6f4"/><rect x="19.30" y="150.24" width="1.65" height="1.50" fill="#c4baec"/><rect x="19.30" y="151.74" width="1.65" height="1.50" fill="#e0daf6"/><rect x="19.30" y="153.24" width="1.65" height="1.50" fill="#dcd6f4"/><rect x="19.30" y="154.74" width="1.65" height="1.50" fill="#c4baec"/><rect x="19.30" y="156.24" width="1.65" height="1.50" fill="#e0daf6"/><rect x="19.30" y="157.74" width="1.65" height="1.50" fill="#7a70cc"/><rect x="19.30" y="159.24" width="1.65" height="1.50" fill="#6a5cc0"/><rect x="19.30" y="160.74" width="1.65" height="1.50" fill="#dcd6f4"/><rect x="19.30" y="162.24" width="1.65" height="1.50" fill="#d2caf0"/><rect x="19.30" y="163.74" width="1.65" height="1.50" fill="#dcd6f4"/><rect x="19.30" y="165.24" width="1.65" height="1.50" fill="#e0daf6"/><rect x="19.30" y="166.74" width="1.65" height="1.50" fill="#dcd6f4"/><rect x="19.30" y="168.24" width="1.65" height="1.50" fill="#c4baec"/><rect x="19.30" y="169.74" width="1.65" height="1.50" fill="#dcd6f4"/><rect x="19.30" y="171.24" width="1.65" height="4.50" fill="#d2caf0"/><rect x="19.30" y="175.74" width="1.65" height="4.50" fill="#4a40a8"/><rect x="19.30" y="180.24" width="1.65" height="3.00" fill="#dcd6f4"/><rect x="19.30" y="183.24" width="1.65" height="1.50" fill="#c4baec"/><rect x="19.30" y="184.74" width="1.65" height="1.50" fill="#e0daf6"/><rect x="19.30" y="186.25" width="1.65" height="1.50" fill="#d2caf0"/><rect x="19.30" y="187.75" width="1.65" height="1.50" fill="#a89ee0"/><rect x="19.30" y="189.25" width="1.65" height="3.00" fill="#d2caf0"/><rect x="19.30" y="192.25" width="1.65" height="1.50" fill="#dcd6f4"/><rect x="19.30" y="193.75" width="1.65" height="3.00" fill="#e0daf6"/><rect x="19.30" y="196.75" width="1.65" height="1.50" fill="#dcd6f4"/><rect x="19.30" y="198.25" width="1.65" height="1.50" fill="#a89ee0"/><rect x="19.30" y="199.75" width="1.65" height="3.00" fill="#dcd6f4"/><rect x="19.30" y="202.75" width="1.65" height="1.50" fill="#d2caf0"/><rect x="19.30" y="204.25" width="1.65" height="1.50" fill="#dcd6f4"/><rect x="19.30" y="205.75" width="1.65" height="3.00" fill="#d2caf0"/><rect x="19.30" y="208.75" width="1.65" height="1.50" fill="#c4baec"/><rect x="19.30" y="210.25" width="1.65" height="3.00" fill="#b0a6e4"/><rect x="19.30" y="213.25" width="1.65" height="3.00" fill="#c4baec"/><rect x="19.30" y="216.25" width="1.65" height="1.50" fill="#d2caf0"/><rect x="19.30" y="217.75" width="1.65" height="3.00" fill="#c4baec"/><rect x="19.30" y="220.75" width="1.65" height="3.00" fill="#b0a6e4"/><rect x="19.30" y="223.75" width="1.65" height="1.50" fill="#dcd6f4"/><rect x="19.30" y="225.26" width="1.65" height="3.00" fill="#d2caf0"/><rect x="19.30" y="228.26" width="1.65" height="4.50" fill="#b0a6e4"/><rect x="19.30" y="232.76" width="1.65" height="1.50" fill="#c4baec"/><rect x="19.30" y="234.26" width="1.65" height="1.50" fill="#b0a6e4"/><rect x="19.30" y="235.76" width="1.65" height="1.50" fill="#c4baec"/><rect x="19.30" y="237.26" width="1.65" height="1.50" fill="#b0a6e4"/><rect x="19.30" y="238.76" width="1.65" height="1.50" fill="#5a4cb8"/><rect x="19.30" y="240.26" width="1.65" height="3.00" fill="#c4baec"/><rect x="19.30" y="243.26" width="1.65" height="1.50" fill="#b0a6e4"/><rect x="19.30" y="244.76" width="1.65" height="1.50" fill="#d2caf0"/><rect x="19.30" y="246.26" width="1.65" height="1.50" fill="#c4baec"/><rect x="19.30" y="247.76" width="1.65" height="1.50" fill="#dcd6f4"/><rect x="19.30" y="249.26" width="1.65" height="1.50" fill="#d2caf0"/><rect x="19.30" y="250.76" width="1.65" height="1.50" fill="#b0a6e4"/><rect x="19.30" y="252.26" width="1.65" height="1.50" fill="#c4baec"/><rect x="19.30" y="253.76" width="1.65" height="1.50" fill="#4a40a8"/><rect x="19.30" y="255.26" width="1.65" height="1.50" fill="#6a5cc0"/><rect x="19.30" y="256.76" width="1.65" height="1.50" fill="#5448b4"/><rect x="19.30" y="258.26" width="1.65" height="1.50" fill="#7a70cc"/><rect x="19.30" y="259.76" width="1.65" height="1.50" fill="#5448b4"/><rect x="19.30" y="261.26" width="1.65" height="3.00" fill="#dcd6f4"/><rect x="19.30" y="264.27" width="1.65" height="1.50" fill="#e0daf6"/><rect x="19.30" y="265.77" width="1.65" height="3.00" fill="#dcd6f4"/><rect x="19.30" y="268.77" width="1.65" height="1.50" fill="#d2caf0"/><rect x="19.30" y="270.27" width="1.65" height="3.00" fill="#dcd6f4"/><rect x="19.30" y="273.27" width="1.65" height="1.50" fill="#e0daf6"/><rect x="19.30" y="274.77" width="1.65" height="1.50" fill="#dcd6f4"/><rect x="19.30" y="276.27" width="1.65" height="4.50" fill="#e0daf6"/><rect x="19.30" y="280.77" width="1.65" height="1.50" fill="#4a40a8"/><rect x="19.30" y="282.27" width="1.65" height="1.50" fill="#7a70cc"/><rect x="19.30" y="283.77" width="1.65" height="1.50" fill="#4a40a8"/><rect x="19.30" y="285.27" width="1.65" height="1.50" fill="#5a4cb8"/><rect x="19.30" y="286.77" width="1.65" height="6.00" fill="#dcd6f4"/><rect x="19.30" y="292.77" width="1.65" height="1.50" fill="#c4baec"/><rect x="19.30" y="294.27" width="1.65" height="1.50" fill="#dcd6f4"/><rect x="19.30" y="295.77" width="1.65" height="1.50" fill="#d2caf0"/><rect x="19.30" y="297.27" width="1.65" height="6.00" fill="#dcd6f4"/><rect x="19.30" y="303.28" width="1.65" height="1.50" fill="#4a40a8"/><rect x="19.30" y="304.78" width="1.65" height="1.50" fill="#4238a0"/><rect x="19.30" y="306.28" width="1.65" height="1.50" fill="#4a40a8"/><rect x="19.30" y="307.78" width="1.65" height="1.50" fill="#6a5cc0"/><rect x="19.30" y="309.28" width="1.65" height="3.00" fill="#7a70cc"/><rect x="19.30" y="312.28" width="1.65" height="3.00" fill="#6a5cc0"/><rect x="19.30" y="315.28" width="1.65" height="1.50" fill="#7a70cc"/><rect x="19.30" y="316.78" width="1.65" height="1.50" fill="#4a40a8"/><rect x="19.30" y="318.28" width="1.65" height="1.50" fill="#4238a0"/><rect x="19.30" y="319.78" width="1.65" height="3.00" fill="#5448b4"/><rect x="19.30" y="322.78" width="1.65" height="3.00" fill="#6a5cc0"/><rect x="19.30" y="325.78" width="1.65" height="1.50" fill="#7a70cc"/><rect x="19.30" y="327.28" width="1.65" height="1.50" fill="#4238a0"/><rect x="19.30" y="328.78" width="1.65" height="1.50" fill="#4a40a8"/><rect x="19.30" y="330.28" width="1.65" height="1.50" fill="#4238a0"/><rect x="19.30" y="331.78" width="1.65" height="1.50" fill="#6a5cc0"/><rect x="19.30" y="333.28" width="1.65" height="1.50" fill="#4238a0"/><rect x="19.30" y="334.78" width="1.65" height="1.50" fill="#4a40a8"/><rect x="19.30" y="336.28" width="1.65" height="1.50" fill="#5448b4"/><rect x="19.30" y="337.78" width="1.65" height="3.00" fill="#6a5cc0"/><rect x="19.30" y="340.79" width="1.65" height="1.50" fill="#4a40a8"/><rect x="19.30" y="342.29" width="1.65" height="1.50" fill="#5448b4"/><rect x="19.30" y="343.79" width="1.65" height="3.00" fill="#4a40a8"/><rect x="19.30" y="346.79" width="1.65" height="4.50" fill="#4238a0"/><rect x="19.30" y="351.29" width="1.65" height="3.00" fill="#7a70cc"/><rect x="19.30" y="354.29" width="1.65" height="4.50" fill="#4a40a8"/><rect x="19.30" y="358.79" width="1.65" height="4.50" fill="#5448b4"/><rect x="19.30" y="363.29" width="1.65" height="3.00" fill="#7a70cc"/><rect x="19.30" y="366.29" width="1.65" height="3.00" fill="#4a40a8"/><rect x="19.30" y="369.29" width="1.65" height="1.50" fill="#5448b4"/><rect x="19.30" y="370.79" width="1.65" height="1.50" fill="#4238a0"/><rect x="19.30" y="372.29" width="1.65" height="1.50" fill="#6a5cc0"/><rect x="19.30" y="373.79" width="1.65" height="1.50" fill="#7a70cc"/><rect x="19.30" y="375.29" width="1.65" height="3.00" fill="#6a5cc0"/><rect x="19.30" y="378.30" width="1.65" height="1.50" fill="#4238a0"/><rect x="19.30" y="379.80" width="1.65" height="1.50" fill="#6a5cc0"/><rect x="19.30" y="381.30" width="1.65" height="1.50" fill="#4a40a8"/><rect x="19.30" y="382.80" width="1.65" height="1.50" fill="#6a5cc0"/><rect x="19.30" y="384.30" width="1.65" height="1.50" fill="#5448b4"/><rect x="19.30" y="385.80" width="1.65" height="1.50" fill="#6a5cc0"/><rect x="19.30" y="387.30" width="1.65" height="3.00" fill="#7a70cc"/><rect x="19.30" y="390.30" width="1.65" height="1.50" fill="#4238a0"/><rect x="19.30" y="391.80" width="1.65" height="1.50" fill="#7a70cc"/><rect x="19.30" y="393.30" width="1.65" height="1.50" fill="#4238a0"/><rect x="20.95" y="15.20" width="1.31" height="6.00" fill="#dcd6f4"/><rect x="20.95" y="21.20" width="1.31" height="1.50" fill="#e0daf6"/><rect x="20.95" y="22.70" width="1.31" height="1.50" fill="#d2caf0"/><rect x="20.95" y="24.20" width="1.31" height="1.50" fill="#c4baec"/><rect x="20.95" y="25.70" width="1.31" height="1.50" fill="#dcd6f4"/><rect x="20.95" y="27.20" width="1.31" height="1.50" fill="#e0daf6"/><rect x="20.95" y="28.70" width="1.31" height="1.50" fill="#c4baec"/><rect x="20.95" y="30.20" width="1.31" height="3.00" fill="#dcd6f4"/><rect x="20.95" y="33.20" width="1.31" height="1.50" fill="#d2caf0"/><rect x="20.95" y="34.71" width="1.31" height="1.50" fill="#c4baec"/><rect x="20.95" y="36.21" width="1.31" height="1.50" fill="#dcd6f4"/><rect x="20.95" y="37.71" width="1.31" height="3.00" fill="#d2caf0"/><rect x="20.95" y="40.71" width="1.31" height="1.50" fill="#c4baec"/><rect x="20.95" y="42.21" width="1.31" height="3.00" fill="#e0daf6"/><rect x="20.95" y="45.21" width="1.31" height="7.50" fill="#dcd6f4"/><rect x="20.95" y="52.71" width="1.31" height="3.00" fill="#c4baec"/><rect x="20.95" y="55.71" width="1.31" height="6.00" fill="#dcd6f4"/><rect x="20.95" y="61.71" width="1.31" height="1.50" fill="#6a5cc0"/><rect x="20.95" y="63.21" width="1.31" height="1.50" fill="#5448b4"/><rect x="20.95" y="64.71" width="1.31" height="1.50" fill="#4238a0"/><rect x="20.95" y="66.21" width="1.31" height="1.50" fill="#5448b4"/><rect x="20.95" y="67.71" width="1.31" height="9.00" fill="#dcd6f4"/><rect x="20.95" y="76.72" width="1.31" height="1.50" fill="#e0daf6"/><rect x="20.95" y="78.22" width="1.31" height="9.00" fill="#dcd6f4"/><rect x="20.95" y="87.22" width="1.31" height="1.50" fill="#d2caf0"/><rect x="20.95" y="88.72" width="1.31" height="3.00" fill="#dcd6f4"/><rect x="20.95" y="91.72" width="1.31" height="1.50" fill="#c4baec"/><rect x="20.95" y="93.22" width="1.31" height="1.50" fill="#dcd6f4"/><rect x="20.95" y="94.72" width="1.31" height="1.50" fill="#d2caf0"/><rect x="20.95" y="96.22" width="1.31" height="1.50" fill="#dcd6f4"/><rect x="20.95" y="97.72" width="1.31" height="1.50" fill="#e0daf6"/><rect x="20.95" y="99.22" width="1.31" height="3.00" fill="#dcd6f4"/><rect x="20.95" y="102.22" width="1.31" height="1.50" fill="#a89ee0"/><rect x="20.95" y="103.72" width="1.31" height="1.50" fill="#e0daf6"/><rect x="20.95" y="105.22" width="1.31" height="3.00" fill="#dcd6f4"/><rect x="20.95" y="108.22" width="1.31" height="1.50" fill="#e0daf6"/><rect x="20.95" y="109.72" width="1.31" height="3.00" fill="#4a40a8"/><rect x="20.95" y="112.73" width="1.31" height="1.50" fill="#8a80d4"/><rect x="20.95" y="114.23" width="1.31" height="1.50" fill="#6a5cc0"/><rect x="20.95" y="115.73" width="1.31" height="3.00" fill="#5a4cb8"/><rect x="20.95" y="118.73" width="1.31" height="1.50" fill="#6a5cc0"/><rect x="20.95" y="120.23" width="1.31" height="1.50" fill="#4a40a8"/><rect x="20.95" y="121.73" width="1.31" height="1.50" fill="#8a80d4"/><rect x="20.95" y="123.23" width="1.31" height="4.50" fill="#dcd6f4"/><rect x="20.95" y="127.73" width="1.31" height="3.00" fill="#e0daf6"/><rect x="20.95" y="130.73" width="1.31" height="1.50" fill="#dcd6f4"/><rect x="20.95" y="132.23" width="1.31" height="3.00" fill="#c4baec"/><rect x="20.95" y="135.23" width="1.31" height="1.50" fill="#a89ee0"/><rect x="20.95" y="136.73" width="1.31" height="1.50" fill="#e0daf6"/><rect x="20.95" y="138.23" width="1.31" height="1.50" fill="#dcd6f4"/><rect x="20.95" y="139.73" width="1.31" height="3.00" fill="#e0daf6"/><rect x="20.95" y="142.73" width="1.31" height="1.50" fill="#d2caf0"/><rect x="20.95" y="144.23" width="1.31" height="1.50" fill="#a89ee0"/><rect x="20.95" y="145.73" width="1.31" height="7.50" fill="#dcd6f4"/><rect x="20.95" y="153.24" width="1.31" height="1.50" fill="#d2caf0"/><rect x="20.95" y="154.74" width="1.31" height="1.50" fill="#e0daf6"/><rect x="20.95" y="156.24" width="1.31" height="1.50" fill="#dcd6f4"/><rect x="20.95" y="157.74" width="1.31" height="1.50" fill="#4238a0"/><rect x="20.95" y="159.24" width="1.31" height="1.50" fill="#7a70cc"/><rect x="20.95" y="160.74" width="1.31" height="1.50" fill="#a89ee0"/><rect x="20.95" y="162.24" width="1.31" height="1.50" fill="#c4baec"/><rect x="20.95" y="163.74" width="1.31" height="3.00" fill="#dcd6f4"/><rect x="20.95" y="166.74" width="1.31" height="1.50" fill="#d2caf0"/><rect x="20.95" y="168.24" width="1.31" height="1.50" fill="#dcd6f4"/><rect x="20.95" y="169.74" width="1.31" height="1.50" fill="#e0daf6"/><rect x="20.95" y="171.24" width="1.31" height="4.50" fill="#dcd6f4"/><rect x="20.95" y="175.74" width="1.31" height="1.50" fill="#e0daf6"/><rect x="20.95" y="177.24" width="1.31" height="4.50" fill="#dcd6f4"/><rect x="20.95" y="181.74" width="1.31" height="1.50" fill="#e0daf6"/><rect x="20.95" y="183.24" width="1.31" height="1.50" fill="#a89ee0"/><rect x="20.95" y="184.74" width="1.31" height="1.50" fill="#c4baec"/><rect x="20.95" y="186.25" width="1.31" height="4.50" fill="#dcd6f4"/><rect x="20.95" y="190.75" width="1.31" height="1.50" fill="#8a80d4"/><rect x="20.95" y="192.25" width="1.31" height="1.50" fill="#7a70cc"/><rect x="20.95" y="193.75" width="1.31" height="1.50" fill="#8a80d4"/><rect x="20.95" y="195.25" width="1.31" height="1.50" fill="#7a70cc"/><rect x="20.95" y="196.75" width="1.31" height="6.00" fill="#6a5cc0"/><rect x="20.95" y="202.75" width="1.31" height="1.50" fill="#5448b4"/><rect x="20.95" y="204.25" width="1.31" height="3.00" fill="#4a40a8"/><rect x="20.95" y="207.25" width="1.31" height="3.00" fill="#5448b4"/><rect x="20.95" y="210.25" width="1.31" height="1.50" fill="#4a40a8"/><rect x="20.95" y="211.75" width="1.31" height="1.50" fill="#6a5cc0"/><rect x="20.95" y="213.25" width="1.31" height="1.50" fill="#d2caf0"/><rect x="20.95" y="214.75" width="1.31" height="1.50" fill="#7a70cc"/><rect x="20.95" y="216.25" width="1.31" height="3.00" fill="#6a5cc0"/><rect x="20.95" y="219.25" width="1.31" height="1.50" fill="#4238a0"/><rect x="20.95" y="220.75" width="1.31" height="1.50" fill="#6a5cc0"/><rect x="20.95" y="222.25" width="1.31" height="1.50" fill="#4238a0"/><rect x="20.95" y="223.75" width="1.31" height="1.50" fill="#6a5cc0"/><rect x="20.95" y="225.26" width="1.31" height="1.50" fill="#4a40a8"/><rect x="20.95" y="226.76" width="1.31" height="1.50" fill="#7a70cc"/><rect x="20.95" y="228.26" width="1.31" height="3.00" fill="#5448b4"/><rect x="20.95" y="231.26" width="1.31" height="1.50" fill="#4a40a8"/><rect x="20.95" y="232.76" width="1.31" height="1.50" fill="#6a5cc0"/><rect x="20.95" y="234.26" width="1.31" height="1.50" fill="#7a70cc"/><rect x="20.95" y="235.76" width="1.31" height="1.50" fill="#5448b4"/><rect x="20.95" y="237.26" width="1.31" height="1.50" fill="#4238a0"/><rect x="20.95" y="238.76" width="1.31" height="1.50" fill="#4a40a8"/><rect x="20.95" y="240.26" width="1.31" height="1.50" fill="#4238a0"/><rect x="20.95" y="241.76" width="1.31" height="1.50" fill="#6a5cc0"/><rect x="20.95" y="243.26" width="1.31" height="1.50" fill="#7a70cc"/><rect x="20.95" y="244.76" width="1.31" height="1.50" fill="#4a40a8"/><rect x="20.95" y="246.26" width="1.31" height="3.00" fill="#5448b4"/><rect x="20.95" y="249.26" width="1.31" height="1.50" fill="#4238a0"/><rect x="20.95" y="250.76" width="1.31" height="1.50" fill="#6a5cc0"/><rect x="20.95" y="252.26" width="1.31" height="1.50" fill="#7a70cc"/><rect x="20.95" y="253.76" width="1.31" height="1.50" fill="#4a40a8"/><rect x="20.95" y="255.26" width="1.31" height="1.50" fill="#7a70cc"/><rect x="20.95" y="256.76" width="1.31" height="1.50" fill="#5448b4"/><rect x="20.95" y="258.26" width="1.31" height="1.50" fill="#6a5cc0"/><rect x="20.95" y="259.76" width="1.31" height="1.50" fill="#7a70cc"/><rect x="20.95" y="261.26" width="1.31" height="3.00" fill="#6a5cc0"/><rect x="20.95" y="264.27" width="1.31" height="1.50" fill="#4238a0"/><rect x="20.95" y="265.77" width="1.31" height="3.00" fill="#7a70cc"/><rect x="20.95" y="268.77" width="1.31" height="1.50" fill="#4238a0"/><rect x="20.95" y="270.27" width="1.31" height="1.50" fill="#4a40a8"/><rect x="20.95" y="271.77" width="1.31" height="1.50" fill="#4238a0"/><rect x="20.95" y="273.27" width="1.31" height="1.50" fill="#6a5cc0"/><rect x="20.95" y="274.77" width="1.31" height="3.00" fill="#4238a0"/><rect x="20.95" y="277.77" width="1.31" height="4.50" fill="#6a5cc0"/><rect x="20.95" y="282.27" width="1.31" height="3.00" fill="#4238a0"/><rect x="20.95" y="285.27" width="1.31" height="1.50" fill="#7a70cc"/><rect x="20.95" y="286.77" width="1.31" height="1.50" fill="#5448b4"/><rect x="20.95" y="288.27" width="1.31" height="1.50" fill="#4a40a8"/><rect x="20.95" y="289.77" width="1.31" height="1.50" fill="#4238a0"/><rect x="20.95" y="291.27" width="1.31" height="1.50" fill="#5448b4"/><rect x="20.95" y="292.77" width="1.31" height="1.50" fill="#6a5cc0"/><rect x="20.95" y="294.27" width="1.31" height="1.50" fill="#4a40a8"/><rect x="20.95" y="295.77" width="1.31" height="1.50" fill="#5448b4"/><rect x="20.95" y="297.27" width="1.31" height="1.50" fill="#4a40a8"/><rect x="20.95" y="298.77" width="1.31" height="1.50" fill="#5448b4"/><rect x="20.95" y="300.28" width="1.31" height="1.50" fill="#4238a0"/><rect x="20.95" y="301.78" width="1.31" height="1.50" fill="#7a70cc"/><rect x="20.95" y="303.28" width="1.31" height="1.50" fill="#4238a0"/><rect x="20.95" y="304.78" width="1.31" height="4.50" fill="#5448b4"/><rect x="20.95" y="309.28" width="1.31" height="1.50" fill="#4238a0"/><rect x="20.95" y="310.78" width="1.31" height="4.50" fill="#4a40a8"/><rect x="20.95" y="315.28" width="1.31" height="1.50" fill="#5448b4"/><rect x="20.95" y="316.78" width="1.31" height="1.50" fill="#4238a0"/><rect x="20.95" y="318.28" width="1.31" height="1.50" fill="#4a40a8"/><rect x="20.95" y="319.78" width="1.31" height="1.50" fill="#7a70cc"/><rect x="20.95" y="321.28" width="1.31" height="1.50" fill="#4a40a8"/><rect x="20.95" y="322.78" width="1.31" height="3.00" fill="#6a5cc0"/><rect x="20.95" y="325.78" width="1.31" height="1.50" fill="#4238a0"/><rect x="20.95" y="327.28" width="1.31" height="1.50" fill="#4a40a8"/><rect x="20.95" y="328.78" width="1.31" height="1.50" fill="#5448b4"/><rect x="20.95" y="330.28" width="1.31" height="4.50" fill="#6a5cc0"/><rect x="20.95" y="334.78" width="1.31" height="1.50" fill="#4a40a8"/><rect x="20.95" y="336.28" width="1.31" height="1.50" fill="#5448b4"/><rect x="20.95" y="337.78" width="1.31" height="1.50" fill="#4a40a8"/><rect x="20.95" y="339.29" width="1.31" height="1.50" fill="#6a5cc0"/><rect x="20.95" y="340.79" width="1.31" height="1.50" fill="#5448b4"/><rect x="20.95" y="342.29" width="1.31" height="1.50" fill="#6a5cc0"/><rect x="20.95" y="343.79" width="1.31" height="1.50" fill="#4a40a8"/><rect x="20.95" y="345.29" width="1.31" height="1.50" fill="#5448b4"/><rect x="20.95" y="346.79" width="1.31" height="1.50" fill="#7a70cc"/><rect x="20.95" y="348.29" width="1.31" height="3.00" fill="#6a5cc0"/><rect x="20.95" y="351.29" width="1.31" height="1.50" fill="#4238a0"/><rect x="20.95" y="352.79" width="1.31" height="1.50" fill="#4a40a8"/><rect x="20.95" y="354.29" width="1.31" height="1.50" fill="#6a5cc0"/><rect x="20.95" y="355.79" width="1.31" height="1.50" fill="#4a40a8"/><rect x="20.95" y="357.29" width="1.31" height="1.50" fill="#6a5cc0"/><rect x="20.95" y="358.79" width="1.31" height="3.00" fill="#4a40a8"/><rect x="20.95" y="361.79" width="1.31" height="1.50" fill="#4238a0"/><rect x="20.95" y="363.29" width="1.31" height="1.50" fill="#5448b4"/><rect x="20.95" y="364.79" width="1.31" height="1.50" fill="#7a70cc"/><rect x="20.95" y="366.29" width="1.31" height="1.50" fill="#6a5cc0"/><rect x="20.95" y="367.79" width="1.31" height="1.50" fill="#5448b4"/><rect x="20.95" y="369.29" width="1.31" height="1.50" fill="#6a5cc0"/><rect x="20.95" y="370.79" width="1.31" height="1.50" fill="#5448b4"/><rect x="20.95" y="372.29" width="1.31" height="1.50" fill="#6a5cc0"/><rect x="20.95" y="373.79" width="1.31" height="1.50" fill="#4238a0"/><rect x="20.95" y="375.29" width="1.31" height="1.50" fill="#6a5cc0"/><rect x="20.95" y="376.80" width="1.31" height="1.50" fill="#5448b4"/><rect x="20.95" y="378.30" width="1.31" height="1.50" fill="#4238a0"/><rect x="20.95" y="379.80" width="1.31" height="1.50" fill="#5448b4"/><rect x="20.95" y="381.30" width="1.31" height="1.50" fill="#6a5cc0"/><rect x="20.95" y="382.80" width="1.31" height="3.00" fill="#5448b4"/><rect x="20.95" y="385.80" width="1.31" height="1.50" fill="#4238a0"/><rect x="20.95" y="387.30" width="1.31" height="1.50" fill="#4a40a8"/><rect x="20.95" y="388.80" width="1.31" height="1.50" fill="#7a70cc"/><rect x="20.95" y="390.30" width="1.31" height="1.50" fill="#4a40a8"/><rect x="20.95" y="391.80" width="1.31" height="3.00" fill="#4238a0"/><rect x="22.26" y="15.20" width="1.31" height="1.50" fill="#dcd6f4"/><rect x="22.26" y="16.70" width="1.31" height="3.00" fill="#5a4cb8"/><rect x="22.26" y="19.70" width="1.31" height="3.00" fill="#6a5cc0"/><rect x="22.26" y="22.70" width="1.31" height="1.50" fill="#e0daf6"/><rect x="22.26" y="24.20" width="1.31" height="1.50" fill="#dcd6f4"/><rect x="22.26" y="25.70" width="1.31" height="1.50" fill="#e0daf6"/><rect x="22.26" y="27.20" width="1.31" height="3.00" fill="#dcd6f4"/><rect x="22.26" y="30.20" width="1.31" height="1.50" fill="#d2caf0"/><rect x="22.26" y="31.70" width="1.31" height="4.50" fill="#dcd6f4"/><rect x="22.26" y="36.21" width="1.31" height="1.50" fill="#c4baec"/><rect x="22.26" y="37.71" width="1.31" height="3.00" fill="#5a4cb8"/><rect x="22.26" y="40.71" width="1.31" height="1.50" fill="#7a70cc"/><rect x="22.26" y="42.21" width="1.31" height="1.50" fill="#5a4cb8"/><rect x="22.26" y="43.71" width="1.31" height="1.50" fill="#6a5cc0"/><rect x="22.26" y="45.21" width="1.31" height="1.50" fill="#5a4cb8"/><rect x="22.26" y="46.71" width="1.31" height="1.50" fill="#6a5cc0"/><rect x="22.26" y="48.21" width="1.31" height="3.00" fill="#dcd6f4"/><rect x="22.26" y="51.21" width="1.31" height="1.50" fill="#e0daf6"/><rect x="22.26" y="52.71" width="1.31" height="3.00" fill="#dcd6f4"/><rect x="22.26" y="55.71" width="1.31" height="1.50" fill="#e0daf6"/><rect x="22.26" y="57.21" width="1.31" height="3.00" fill="#dcd6f4"/><rect x="22.26" y="60.21" width="1.31" height="1.50" fill="#e0daf6"/><rect x="22.26" y="61.71" width="1.31" height="1.50" fill="#5448b4"/><rect x="22.26" y="63.21" width="1.31" height="1.50" fill="#4238a0"/><rect x="22.26" y="64.71" width="1.31" height="3.00" fill="#4a40a8"/><rect x="22.26" y="67.71" width="1.31" height="1.50" fill="#6a5cc0"/><rect x="22.26" y="69.21" width="1.31" height="1.50" fill="#7a70cc"/><rect x="22.26" y="70.71" width="1.31" height="1.50" fill="#4a40a8"/><rect x="22.26" y="72.22" width="1.31" height="1.50" fill="#5448b4"/><rect x="22.26" y="73.72" width="1.31" height="1.50" fill="#4238a0"/><rect x="22.26" y="75.22" width="1.31" height="1.50" fill="#5448b4"/><rect x="22.26" y="76.72" width="1.31" height="1.50" fill="#6a5cc0"/><rect x="22.26" y="78.22" width="1.31" height="1.50" fill="#4a40a8"/><rect x="22.26" y="79.72" width="1.31" height="3.00" fill="#6a5cc0"/><rect x="22.26" y="82.72" width="1.31" height="1.50" fill="#4a40a8"/><rect x="22.26" y="84.22" width="1.31" height="1.50" fill="#6a5cc0"/><rect x="22.26" y="85.72" width="1.31" height="1.50" fill="#5448b4"/><rect x="22.26" y="87.22" width="1.31" height="1.50" fill="#4238a0"/><rect x="22.26" y="88.72" width="1.31" height="3.00" fill="#4a40a8"/><rect x="22.26" y="91.72" width="1.31" height="3.00" fill="#6a5cc0"/><rect x="22.26" y="94.72" width="1.31" height="1.50" fill="#4238a0"/><rect x="22.26" y="96.22" width="1.31" height="1.50" fill="#6a5cc0"/><rect x="22.26" y="97.72" width="1.31" height="1.50" fill="#4a40a8"/><rect x="22.26" y="99.22" width="1.31" height="1.50" fill="#6a5cc0"/><rect x="22.26" y="100.72" width="1.31" height="1.50" fill="#5448b4"/><rect x="22.26" y="102.22" width="1.31" height="3.00" fill="#4238a0"/><rect x="22.26" y="105.22" width="1.31" height="1.50" fill="#5448b4"/><rect x="22.26" y="106.72" width="1.31" height="1.50" fill="#6a5cc0"/><rect x="22.26" y="108.22" width="1.31" height="1.50" fill="#5448b4"/><rect x="22.26" y="109.72" width="1.31" height="3.00" fill="#7a70cc"/><rect x="22.26" y="112.73" width="1.31" height="1.50" fill="#6a5cc0"/><rect x="22.26" y="114.23" width="1.31" height="1.50" fill="#7a70cc"/><rect x="22.26" y="115.73" width="1.31" height="1.50" fill="#6a5cc0"/><rect x="22.26" y="117.23" width="1.31" height="1.50" fill="#4a40a8"/><rect x="22.26" y="118.73" width="1.31" height="1.50" fill="#6a5cc0"/><rect x="22.26" y="120.23" width="1.31" height="1.50" fill="#7a70cc"/><rect x="22.26" y="121.73" width="1.31" height="1.50" fill="#4a40a8"/><rect x="22.26" y="123.23" width="1.31" height="1.50" fill="#e0daf6"/><rect x="22.26" y="124.73" width="1.31" height="1.50" fill="#dcd6f4"/><rect x="22.26" y="126.23" width="1.31" height="1.50" fill="#d2caf0"/><rect x="22.26" y="127.73" width="1.31" height="7.50" fill="#dcd6f4"/><rect x="22.26" y="135.23" width="1.31" height="1.50" fill="#d2caf0"/><rect x="22.26" y="136.73" width="1.31" height="1.50" fill="#dcd6f4"/><rect x="22.26" y="138.23" width="1.31" height="1.50" fill="#c4baec"/><rect x="22.26" y="139.73" width="1.31" height="4.50" fill="#dcd6f4"/><rect x="22.26" y="144.23" width="1.31" height="1.50" fill="#a89ee0"/><rect x="22.26" y="145.73" width="1.31" height="1.50" fill="#dcd6f4"/><rect x="22.26" y="147.23" width="1.31" height="1.50" fill="#a89ee0"/><rect x="22.26" y="148.74" width="1.31" height="1.50" fill="#e0daf6"/><rect x="22.26" y="150.24" width="1.31" height="4.50" fill="#dcd6f4"/><rect x="22.26" y="154.74" width="1.31" height="3.00" fill="#d2caf0"/><rect x="22.26" y="157.74" width="1.31" height="1.50" fill="#4a40a8"/><rect x="22.26" y="159.24" width="1.31" height="1.50" fill="#4238a0"/><rect x="22.26" y="160.74" width="1.31" height="1.50" fill="#c4baec"/><rect x="22.26" y="162.24" width="1.31" height="3.00" fill="#dcd6f4"/><rect x="22.26" y="165.24" width="1.31" height="1.50" fill="#e0daf6"/><rect x="22.26" y="166.74" width="1.31" height="1.50" fill="#c4baec"/><rect x="22.26" y="168.24" width="1.31" height="3.00" fill="#dcd6f4"/><rect x="22.26" y="171.24" width="1.31" height="1.50" fill="#d2caf0"/><rect x="22.26" y="172.74" width="1.31" height="3.00" fill="#e0daf6"/><rect x="22.26" y="175.74" width="1.31" height="1.50" fill="#c4baec"/><rect x="22.26" y="177.24" width="1.31" height="3.00" fill="#d2caf0"/><rect x="22.26" y="180.24" width="1.31" height="1.50" fill="#dcd6f4"/><rect x="22.26" y="181.74" width="1.31" height="1.50" fill="#d2caf0"/><rect x="22.26" y="183.24" width="1.31" height="4.50" fill="#dcd6f4"/><rect x="22.26" y="187.75" width="1.31" height="1.50" fill="#d2caf0"/><rect x="22.26" y="189.25" width="1.31" height="3.00" fill="#dcd6f4"/><rect x="22.26" y="192.25" width="1.31" height="1.50" fill="#c4baec"/><rect x="22.26" y="193.75" width="1.31" height="3.00" fill="#dcd6f4"/><rect x="22.26" y="196.75" width="1.31" height="1.50" fill="#d2caf0"/><rect x="22.26" y="198.25" width="1.31" height="4.50" fill="#dcd6f4"/><rect x="22.26" y="202.75" width="1.31" height="1.50" fill="#7a70cc"/><rect x="22.26" y="204.25" width="1.31" height="1.50" fill="#8a80d4"/><rect x="22.26" y="205.75" width="1.31" height="1.50" fill="#4a40a8"/><rect x="22.26" y="207.25" width="1.31" height="1.50" fill="#6a5cc0"/><rect x="22.26" y="208.75" width="1.31" height="1.50" fill="#4a40a8"/><rect x="22.26" y="210.25" width="1.31" height="1.50" fill="#4238a0"/><rect x="22.26" y="211.75" width="1.31" height="1.50" fill="#4a40a8"/><rect x="22.26" y="213.25" width="1.31" height="4.50" fill="#5448b4"/><rect x="22.26" y="217.75" width="1.31" height="1.50" fill="#4238a0"/><rect x="22.26" y="219.25" width="1.31" height="1.50" fill="#5448b4"/><rect x="22.26" y="220.75" width="1.31" height="1.50" fill="#7a70cc"/><rect x="22.26" y="222.25" width="1.31" height="1.50" fill="#6a5cc0"/><rect x="22.26" y="223.75" width="1.31" height="1.50" fill="#7a70cc"/><rect x="22.26" y="225.26" width="1.31" height="1.50" fill="#5448b4"/><rect x="22.26" y="226.76" width="1.31" height="1.50" fill="#7a70cc"/><rect x="22.26" y="228.26" width="1.31" height="3.00" fill="#6a5cc0"/><rect x="22.26" y="231.26" width="1.31" height="1.50" fill="#4238a0"/><rect x="22.26" y="232.76" width="1.31" height="1.50" fill="#5448b4"/><rect x="22.26" y="234.26" width="1.31" height="1.50" fill="#4238a0"/><rect x="22.26" y="235.76" width="1.31" height="1.50" fill="#6a5cc0"/><rect x="22.26" y="237.26" width="1.31" height="1.50" fill="#4238a0"/><rect x="22.26" y="238.76" width="1.31" height="1.50" fill="#4a40a8"/><rect x="22.26" y="240.26" width="1.31" height="1.50" fill="#6a5cc0"/><rect x="22.26" y="241.76" width="1.31" height="1.50" fill="#4238a0"/><rect x="22.26" y="243.26" width="1.31" height="1.50" fill="#6a5cc0"/><rect x="22.26" y="244.76" width="1.31" height="1.50" fill="#7a70cc"/><rect x="22.26" y="246.26" width="1.31" height="1.50" fill="#4238a0"/><rect x="22.26" y="247.76" width="1.31" height="1.50" fill="#6a5cc0"/><rect x="22.26" y="249.26" width="1.31" height="1.50" fill="#4a40a8"/><rect x="22.26" y="250.76" width="1.31" height="1.50" fill="#7a70cc"/><rect x="22.26" y="252.26" width="1.31" height="1.50" fill="#4a40a8"/><rect x="22.26" y="253.76" width="1.31" height="4.50" fill="#4238a0"/><rect x="22.26" y="258.26" width="1.31" height="3.00" fill="#6a5cc0"/><rect x="22.26" y="261.26" width="1.31" height="1.50" fill="#8a80d4"/><rect x="22.26" y="262.77" width="1.31" height="3.00" fill="#5a4cb8"/><rect x="22.26" y="265.77" width="1.31" height="3.00" fill="#4a40a8"/><rect x="22.26" y="268.77" width="1.31" height="1.50" fill="#8a80d4"/><rect x="22.26" y="270.27" width="1.31" height="1.50" fill="#6a5cc0"/><rect x="22.26" y="271.77" width="1.31" height="1.50" fill="#7a70cc"/><rect x="22.26" y="273.27" width="1.31" height="1.50" fill="#4a40a8"/><rect x="22.26" y="274.77" width="1.31" height="1.50" fill="#7a70cc"/><rect x="22.26" y="276.27" width="1.31" height="1.50" fill="#8a80d4"/><rect x="22.26" y="277.77" width="1.31" height="1.50" fill="#e0daf6"/><rect x="22.26" y="279.27" width="1.31" height="3.00" fill="#dcd6f4"/><rect x="22.26" y="282.27" width="1.31" height="1.50" fill="#a89ee0"/><rect x="22.26" y="283.77" width="1.31" height="1.50" fill="#dcd6f4"/><rect x="22.26" y="285.27" width="1.31" height="1.50" fill="#d2caf0"/><rect x="22.26" y="286.77" width="1.31" height="1.50" fill="#dcd6f4"/><rect x="22.26" y="288.27" width="1.31" height="1.50" fill="#c4baec"/><rect x="22.26" y="289.77" width="1.31" height="4.50" fill="#dcd6f4"/><rect x="22.26" y="294.27" width="1.31" height="1.50" fill="#8a80d4"/><rect x="22.26" y="295.77" width="1.31" height="1.50" fill="#dcd6f4"/><rect x="22.26" y="297.27" width="1.31" height="1.50" fill="#a89ee0"/><rect x="22.26" y="298.77" width="1.31" height="4.50" fill="#dcd6f4"/><rect x="22.26" y="303.28" width="1.31" height="3.00" fill="#5448b4"/><rect x="22.26" y="306.28" width="1.31" height="6.00" fill="#6a5cc0"/><rect x="22.26" y="312.28" width="1.31" height="1.50" fill="#7a70cc"/><rect x="22.26" y="313.78" width="1.31" height="1.50" fill="#4238a0"/><rect x="22.26" y="315.28" width="1.31" height="1.50" fill="#6a5cc0"/><rect x="22.26" y="316.78" width="1.31" height="1.50" fill="#7a70cc"/><rect x="22.26" y="318.28" width="1.31" height="1.50" fill="#4a40a8"/><rect x="22.26" y="319.78" width="1.31" height="1.50" fill="#5448b4"/><rect x="22.26" y="321.28" width="1.31" height="1.50" fill="#4238a0"/><rect x="22.26" y="322.78" width="1.31" height="1.50" fill="#6a5cc0"/><rect x="22.26" y="324.28" width="1.31" height="1.50" fill="#7a70cc"/><rect x="22.26" y="325.78" width="1.31" height="1.50" fill="#6a5cc0"/><rect x="22.26" y="327.28" width="1.31" height="1.50" fill="#4a40a8"/><rect x="22.26" y="328.78" width="1.31" height="1.50" fill="#6a5cc0"/><rect x="22.26" y="330.28" width="1.31" height="1.50" fill="#5448b4"/><rect x="22.26" y="331.78" width="1.31" height="1.50" fill="#4238a0"/><rect x="22.26" y="333.28" width="1.31" height="1.50" fill="#7a70cc"/><rect x="22.26" y="334.78" width="1.31" height="1.50" fill="#4238a0"/><rect x="22.26" y="336.28" width="1.31" height="1.50" fill="#6a5cc0"/><rect x="22.26" y="337.78" width="1.31" height="6.00" fill="#4a40a8"/><rect x="22.26" y="343.79" width="1.31" height="3.00" fill="#6a5cc0"/><rect x="22.26" y="346.79" width="1.31" height="1.50" fill="#5448b4"/><rect x="22.26" y="348.29" width="1.31" height="3.00" fill="#4238a0"/><rect x="22.26" y="351.29" width="1.31" height="1.50" fill="#c4baec"/><rect x="22.26" y="352.79" width="1.31" height="1.50" fill="#b0a6e4"/><rect x="22.26" y="354.29" width="1.31" height="1.50" fill="#d2caf0"/><rect x="22.26" y="355.79" width="1.31" height="1.50" fill="#dcd6f4"/><rect x="22.26" y="357.29" width="1.31" height="3.00" fill="#b0a6e4"/><rect x="22.26" y="360.29" width="1.31" height="1.50" fill="#c4baec"/><rect x="22.26" y="361.79" width="1.31" height="1.50" fill="#b0a6e4"/><rect x="22.26" y="363.29" width="1.31" height="4.50" fill="#c4baec"/><rect x="22.26" y="367.79" width="1.31" height="1.50" fill="#b0a6e4"/><rect x="22.26" y="369.29" width="1.31" height="1.50" fill="#6a5cc0"/><rect x="22.26" y="370.79" width="1.31" height="1.50" fill="#4238a0"/><rect x="22.26" y="372.29" width="1.31" height="1.50" fill="#7a70cc"/><rect x="22.26" y="373.79" width="1.31" height="1.50" fill="#4a40a8"/><rect x="22.26" y="375.29" width="1.31" height="1.50" fill="#5448b4"/><rect x="22.26" y="376.80" width="1.31" height="1.50" fill="#6a5cc0"/><rect x="22.26" y="378.30" width="1.31" height="1.50" fill="#5448b4"/><rect x="22.26" y="379.80" width="1.31" height="1.50" fill="#4238a0"/><rect x="22.26" y="381.30" width="1.31" height="1.50" fill="#7a70cc"/><rect x="22.26" y="382.80" width="1.31" height="1.50" fill="#4a40a8"/><rect x="22.26" y="384.30" width="1.31" height="1.50" fill="#5448b4"/><rect x="22.26" y="385.80" width="1.31" height="1.50" fill="#4238a0"/><rect x="22.26" y="387.30" width="1.31" height="1.50" fill="#5448b4"/><rect x="22.26" y="388.80" width="1.31" height="3.00" fill="#7a70cc"/><rect x="22.26" y="391.80" width="1.31" height="1.50" fill="#5448b4"/><rect x="22.26" y="393.30" width="1.31" height="1.50" fill="#7a70cc"/><rect x="23.57" y="15.20" width="1.31" height="9.00" fill="#dcd6f4"/><rect x="23.57" y="24.20" width="1.31" height="1.50" fill="#c4baec"/><rect x="23.57" y="25.70" width="1.31" height="10.50" fill="#dcd6f4"/><rect x="23.57" y="36.21" width="1.31" height="1.50" fill="#d2caf0"/><rect x="23.57" y="37.71" width="1.31" height="1.50" fill="#e0daf6"/><rect x="23.57" y="39.21" width="1.31" height="1.50" fill="#dcd6f4"/><rect x="23.57" y="40.71" width="1.31" height="1.50" fill="#d2caf0"/><rect x="23.57" y="42.21" width="1.31" height="3.00" fill="#dcd6f4"/><rect x="23.57" y="45.21" width="1.31" height="3.00" fill="#c4baec"/><rect x="23.57" y="48.21" width="1.31" height="1.50" fill="#dcd6f4"/><rect x="23.57" y="49.71" width="1.31" height="1.50" fill="#5a4cb8"/><rect x="23.57" y="51.21" width="1.31" height="1.50" fill="#4a40a8"/><rect x="23.57" y="52.71" width="1.31" height="1.50" fill="#6a5cc0"/><rect x="23.57" y="54.21" width="1.31" height="3.00" fill="#7a70cc"/><rect x="23.57" y="57.21" width="1.31" height="3.00" fill="#6a5cc0"/><rect x="23.57" y="60.21" width="1.31" height="1.50" fill="#4a40a8"/><rect x="23.57" y="61.71" width="1.31" height="1.50" fill="#6a5cc0"/><rect x="23.57" y="63.21" width="1.31" height="1.50" fill="#4a40a8"/><rect x="23.57" y="64.71" width="1.31" height="1.50" fill="#6a5cc0"/><rect x="23.57" y="66.21" width="1.31" height="1.50" fill="#5448b4"/><rect x="23.57" y="67.71" width="1.31" height="1.50" fill="#c4baec"/><rect x="23.57" y="69.21" width="1.31" height="1.50" fill="#dcd6f4"/><rect x="23.57" y="70.71" width="1.31" height="1.50" fill="#c4baec"/><rect x="23.57" y="72.22" width="1.31" height="1.50" fill="#dcd6f4"/><rect x="23.57" y="73.72" width="1.31" height="1.50" fill="#d2caf0"/><rect x="23.57" y="75.22" width="1.31" height="7.50" fill="#dcd6f4"/><rect x="23.57" y="82.72" width="1.31" height="1.50" fill="#c4baec"/><rect x="23.57" y="84.22" width="1.31" height="1.50" fill="#d2caf0"/><rect x="23.57" y="85.72" width="1.31" height="1.50" fill="#dcd6f4"/><rect x="23.57" y="87.22" width="1.31" height="1.50" fill="#d2caf0"/><rect x="23.57" y="88.72" width="1.31" height="1.50" fill="#c4baec"/><rect x="23.57" y="90.22" width="1.31" height="3.00" fill="#d2caf0"/><rect x="23.57" y="93.22" width="1.31" height="1.50" fill="#dcd6f4"/><rect x="23.57" y="94.72" width="1.31" height="1.50" fill="#e0daf6"/><rect x="23.57" y="96.22" width="1.31" height="1.50" fill="#d2caf0"/><rect x="23.57" y="97.72" width="1.31" height="4.50" fill="#dcd6f4"/><rect x="23.57" y="102.22" width="1.31" height="1.50" fill="#a89ee0"/><rect x="23.57" y="103.72" width="1.31" height="1.50" fill="#c4baec"/><rect x="23.57" y="105.22" width="1.31" height="1.50" fill="#d2caf0"/><rect x="23.57" y="106.72" width="1.31" height="3.00" fill="#dcd6f4"/><rect x="23.57" y="109.72" width="1.31" height="4.50" fill="#4a40a8"/><rect x="23.57" y="114.23" width="1.31" height="1.50" fill="#6a5cc0"/><rect x="23.57" y="115.73" width="1.31" height="1.50" fill="#4238a0"/><rect x="23.57" y="117.23" width="1.31" height="1.50" fill="#4a40a8"/><rect x="23.57" y="118.73" width="1.31" height="3.00" fill="#7a70cc"/><rect x="23.57" y="121.73" width="1.31" height="1.50" fill="#6a5cc0"/><rect x="23.57" y="123.23" width="1.31" height="1.50" fill="#4238a0"/><rect x="23.57" y="124.73" width="1.31" height="3.00" fill="#4a40a8"/><rect x="23.57" y="127.73" width="1.31" height="1.50" fill="#4238a0"/><rect x="23.57" y="129.23" width="1.31" height="1.50" fill="#6a5cc0"/><rect x="23.57" y="130.73" width="1.31" height="1.50" fill="#7a70cc"/><rect x="23.57" y="132.23" width="1.31" height="1.50" fill="#6a5cc0"/><rect x="23.57" y="133.73" width="1.31" height="3.00" fill="#7a70cc"/><rect x="23.57" y="136.73" width="1.31" height="1.50" fill="#4a40a8"/><rect x="23.57" y="138.23" width="1.31" height="1.50" fill="#4238a0"/><rect x="23.57" y="139.73" width="1.31" height="1.50" fill="#5a4cb8"/><rect x="23.57" y="141.23" width="1.31" height="1.50" fill="#7a70cc"/><rect x="23.57" y="142.73" width="1.31" height="3.00" fill="#8a80d4"/><rect x="23.57" y="145.73" width="1.31" height="1.50" fill="#4a40a8"/><rect x="23.57" y="147.23" width="1.31" height="1.50" fill="#7a70cc"/><rect x="23.57" y="148.74" width="1.31" height="1.50" fill="#5a4cb8"/><rect x="23.57" y="150.24" width="1.31" height="3.00" fill="#6a5cc0"/><rect x="23.57" y="153.24" width="1.31" height="1.50" fill="#7a70cc"/><rect x="23.57" y="154.74" width="1.31" height="1.50" fill="#8a80d4"/><rect x="23.57" y="156.24" width="1.31" height="1.50" fill="#6a5cc0"/><rect x="23.57" y="157.74" width="1.31" height="1.50" fill="#4a40a8"/><rect x="23.57" y="159.24" width="1.31" height="1.50" fill="#4238a0"/><rect x="23.57" y="160.74" width="1.31" height="3.00" fill="#4a40a8"/><rect x="23.57" y="163.74" width="1.31" height="1.50" fill="#5448b4"/><rect x="23.57" y="165.24" width="1.31" height="1.50" fill="#7a70cc"/><rect x="23.57" y="166.74" width="1.31" height="1.50" fill="#4a40a8"/><rect x="23.57" y="168.24" width="1.31" height="1.50" fill="#6a5cc0"/><rect x="23.57" y="169.74" width="1.31" height="1.50" fill="#4238a0"/><rect x="23.57" y="171.24" width="1.31" height="3.00" fill="#6a5cc0"/><rect x="23.57" y="174.24" width="1.31" height="3.00" fill="#4238a0"/><rect x="23.57" y="177.24" width="1.31" height="1.50" fill="#5448b4"/><rect x="23.57" y="178.74" width="1.31" height="1.50" fill="#6a5cc0"/><rect x="23.57" y="180.24" width="1.31" height="1.50" fill="#4238a0"/><rect x="23.57" y="181.74" width="1.31" height="1.50" fill="#4a40a8"/><rect x="23.57" y="183.24" width="1.31" height="1.50" fill="#4238a0"/><rect x="23.57" y="184.74" width="1.31" height="1.50" fill="#7a70cc"/><rect x="23.57" y="186.25" width="1.31" height="1.50" fill="#5448b4"/><rect x="23.57" y="187.75" width="1.31" height="1.50" fill="#4238a0"/><rect x="23.57" y="189.25" width="1.31" height="1.50" fill="#6a5cc0"/><rect x="23.57" y="190.75" width="1.31" height="1.50" fill="#7a70cc"/><rect x="23.57" y="192.25" width="1.31" height="1.50" fill="#4a40a8"/><rect x="23.57" y="193.75" width="1.31" height="3.00" fill="#7a70cc"/><rect x="23.57" y="196.75" width="1.31" height="1.50" fill="#e0daf6"/><rect x="23.57" y="198.25" width="1.31" height="1.50" fill="#d2caf0"/><rect x="23.57" y="199.75" width="1.31" height="1.50" fill="#c4baec"/><rect x="23.57" y="201.25" width="1.31" height="1.50" fill="#e0daf6"/><rect x="23.57" y="202.75" width="1.31" height="3.00" fill="#dcd6f4"/><rect x="23.57" y="205.75" width="1.31" height="1.50" fill="#d2caf0"/><rect x="23.57" y="207.25" width="1.31" height="1.50" fill="#c4baec"/><rect x="23.57" y="208.75" width="1.31" height="1.50" fill="#d2caf0"/><rect x="23.57" y="210.25" width="1.31" height="1.50" fill="#c4baec"/><rect x="23.57" y="211.75" width="1.31" height="1.50" fill="#b0a6e4"/><rect x="23.57" y="213.25" width="1.31" height="1.50" fill="#dcd6f4"/><rect x="23.57" y="214.75" width="1.31" height="3.00" fill="#d2caf0"/><rect x="23.57" y="217.75" width="1.31" height="1.50" fill="#dcd6f4"/><rect x="23.57" y="219.25" width="1.31" height="1.50" fill="#c4baec"/><rect x="23.57" y="220.75" width="1.31" height="1.50" fill="#b0a6e4"/><rect x="23.57" y="222.25" width="1.31" height="1.50" fill="#d2caf0"/><rect x="23.57" y="223.75" width="1.31" height="3.00" fill="#c4baec"/><rect x="23.57" y="226.76" width="1.31" height="1.50" fill="#dcd6f4"/><rect x="23.57" y="228.26" width="1.31" height="1.50" fill="#c4baec"/><rect x="23.57" y="229.76" width="1.31" height="1.50" fill="#b0a6e4"/><rect x="23.57" y="231.26" width="1.31" height="3.00" fill="#c4baec"/><rect x="23.57" y="234.26" width="1.31" height="1.50" fill="#d2caf0"/><rect x="23.57" y="235.76" width="1.31" height="4.50" fill="#4238a0"/><rect x="23.57" y="240.26" width="1.31" height="3.00" fill="#8a80d4"/><rect x="23.57" y="243.26" width="1.31" height="1.50" fill="#5a4cb8"/><rect x="23.57" y="244.76" width="1.31" height="1.50" fill="#6a5cc0"/><rect x="23.57" y="246.26" width="1.31" height="1.50" fill="#5a4cb8"/><rect x="23.57" y="247.76" width="1.31" height="1.50" fill="#4a40a8"/><rect x="23.57" y="249.26" width="1.31" height="1.50" fill="#6a5cc0"/><rect x="23.57" y="250.76" width="1.31" height="1.50" fill="#7a70cc"/><rect x="23.57" y="252.26" width="1.31" height="1.50" fill="#4a40a8"/><rect x="23.57" y="253.76" width="1.31" height="4.50" fill="#b0a6e4"/><rect x="23.57" y="258.26" width="1.31" height="1.50" fill="#c4baec"/><rect x="23.57" y="259.76" width="1.31" height="1.50" fill="#4238a0"/><rect x="23.57" y="261.26" width="1.31" height="1.50" fill="#a89ee0"/><rect x="23.57" y="262.77" width="1.31" height="1.50" fill="#e0daf6"/><rect x="23.57" y="264.27" width="1.31" height="10.50" fill="#dcd6f4"/><rect x="23.57" y="274.77" width="1.31" height="1.50" fill="#4a40a8"/><rect x="23.57" y="276.27" width="1.31" height="1.50" fill="#8a80d4"/><rect x="23.57" y="277.77" width="1.31" height="3.00" fill="#6a5cc0"/><rect x="23.57" y="280.77" width="1.31" height="1.50" fill="#4a40a8"/><rect x="23.57" y="282.27" width="1.31" height="1.50" fill="#7a70cc"/><rect x="23.57" y="283.77" width="1.31" height="1.50" fill="#8a80d4"/><rect x="23.57" y="285.27" width="1.31" height="1.50" fill="#4a40a8"/><rect x="23.57" y="286.77" width="1.31" height="1.50" fill="#dcd6f4"/><rect x="23.57" y="288.27" width="1.31" height="3.00" fill="#d2caf0"/><rect x="23.57" y="291.27" width="1.31" height="1.50" fill="#e0daf6"/><rect x="23.57" y="292.77" width="1.31" height="1.50" fill="#a89ee0"/><rect x="23.57" y="294.27" width="1.31" height="4.50" fill="#5a4cb8"/><rect x="23.57" y="298.77" width="1.31" height="3.00" fill="#6a5cc0"/><rect x="23.57" y="301.78" width="1.31" height="1.50" fill="#5a4cb8"/><rect x="23.57" y="303.28" width="1.31" height="1.50" fill="#5448b4"/><rect x="23.57" y="304.78" width="1.31" height="1.50" fill="#4a40a8"/><rect x="23.57" y="306.28" width="1.31" height="1.50" fill="#5448b4"/><rect x="23.57" y="307.78" width="1.31" height="1.50" fill="#4238a0"/><rect x="23.57" y="309.28" width="1.31" height="3.00" fill="#5448b4"/><rect x="23.57" y="312.28" width="1.31" height="3.00" fill="#7a70cc"/><rect x="23.57" y="315.28" width="1.31" height="3.00" fill="#6a5cc0"/><rect x="23.57" y="318.28" width="1.31" height="1.50" fill="#4238a0"/><rect x="23.57" y="319.78" width="1.31" height="1.50" fill="#4a40a8"/><rect x="23.57" y="321.28" width="1.31" height="1.50" fill="#4238a0"/><rect x="23.57" y="322.78" width="1.31" height="4.50" fill="#5448b4"/><rect x="23.57" y="327.28" width="1.31" height="1.50" fill="#4a40a8"/><rect x="23.57" y="328.78" width="1.31" height="1.50" fill="#4238a0"/><rect x="23.57" y="330.28" width="1.31" height="1.50" fill="#4a40a8"/><rect x="23.57" y="331.78" width="1.31" height="3.00" fill="#6a5cc0"/><rect x="23.57" y="334.78" width="1.31" height="3.00" fill="#4a40a8"/><rect x="23.57" y="337.78" width="1.31" height="3.00" fill="#4238a0"/><rect x="23.57" y="340.79" width="1.31" height="1.50" fill="#7a70cc"/><rect x="23.57" y="342.29" width="1.31" height="1.50" fill="#5448b4"/><rect x="23.57" y="343.79" width="1.31" height="1.50" fill="#4238a0"/><rect x="23.57" y="345.29" width="1.31" height="1.50" fill="#d2caf0"/><rect x="23.57" y="346.79" width="1.31" height="1.50" fill="#c4baec"/><rect x="23.57" y="348.29" width="1.31" height="1.50" fill="#b0a6e4"/><rect x="23.57" y="349.79" width="1.31" height="1.50" fill="#4238a0"/><rect x="23.57" y="351.29" width="1.31" height="1.50" fill="#5a4cb8"/><rect x="23.57" y="352.79" width="1.31" height="1.50" fill="#4a40a8"/><rect x="23.57" y="354.29" width="1.31" height="1.50" fill="#7a70cc"/><rect x="23.57" y="355.79" width="1.31" height="1.50" fill="#4a40a8"/><rect x="23.57" y="357.29" width="1.31" height="1.50" fill="#5a4cb8"/><rect x="23.57" y="358.79" width="1.31" height="1.50" fill="#8a80d4"/><rect x="23.57" y="360.29" width="1.31" height="1.50" fill="#7a70cc"/><rect x="23.57" y="361.79" width="1.31" height="1.50" fill="#8a80d4"/><rect x="23.57" y="363.29" width="1.31" height="1.50" fill="#6a5cc0"/><rect x="23.57" y="364.79" width="1.31" height="1.50" fill="#5a4cb8"/><rect x="23.57" y="366.29" width="1.31" height="3.00" fill="#b0a6e4"/><rect x="23.57" y="369.29" width="1.31" height="1.50" fill="#d2caf0"/><rect x="23.57" y="370.79" width="1.31" height="1.50" fill="#8a80d4"/><rect x="23.57" y="372.29" width="1.31" height="1.50" fill="#6a5cc0"/><rect x="23.57" y="373.79" width="1.31" height="1.50" fill="#4a40a8"/><rect x="23.57" y="375.29" width="1.31" height="3.00" fill="#7a70cc"/><rect x="23.57" y="378.30" width="1.31" height="1.50" fill="#6a5cc0"/><rect x="23.57" y="379.80" width="1.31" height="1.50" fill="#7a70cc"/><rect x="23.57" y="381.30" width="1.31" height="1.50" fill="#6a5cc0"/><rect x="23.57" y="382.80" width="1.31" height="1.50" fill="#5a4cb8"/><rect x="23.57" y="384.30" width="1.31" height="1.50" fill="#b0a6e4"/><rect x="23.57" y="385.80" width="1.31" height="3.00" fill="#d2caf0"/><rect x="23.57" y="388.80" width="1.31" height="1.50" fill="#c4baec"/><rect x="23.57" y="390.30" width="1.31" height="3.00" fill="#b0a6e4"/><rect x="23.57" y="393.30" width="1.31" height="1.50" fill="#dcd6f4"/><rect x="24.88" y="15.20" width="1.31" height="1.50" fill="#dcd6f4"/><rect x="24.88" y="16.70" width="1.31" height="1.50" fill="#6a5cc0"/><rect x="24.88" y="18.20" width="1.31" height="4.50" fill="#7a70cc"/><rect x="24.88" y="22.70" width="1.31" height="1.50" fill="#d2caf0"/><rect x="24.88" y="24.20" width="1.31" height="1.50" fill="#dcd6f4"/><rect x="24.88" y="25.70" width="1.31" height="4.50" fill="#a89ee0"/><rect x="24.88" y="30.20" width="1.31" height="10.50" fill="#dcd6f4"/><rect x="24.88" y="40.71" width="1.31" height="1.50" fill="#d2caf0"/><rect x="24.88" y="42.21" width="1.31" height="1.50" fill="#e0daf6"/><rect x="24.88" y="43.71" width="1.31" height="1.50" fill="#dcd6f4"/><rect x="24.88" y="45.21" width="1.31" height="1.50" fill="#e0daf6"/><rect x="24.88" y="46.71" width="1.31" height="1.50" fill="#d2caf0"/><rect x="24.88" y="48.21" width="1.31" height="1.50" fill="#dcd6f4"/><rect x="24.88" y="49.71" width="1.31" height="1.50" fill="#7a70cc"/><rect x="24.88" y="51.21" width="1.31" height="3.00" fill="#4a40a8"/><rect x="24.88" y="54.21" width="1.31" height="1.50" fill="#5a4cb8"/><rect x="24.88" y="55.71" width="1.31" height="1.50" fill="#7a70cc"/><rect x="24.88" y="57.21" width="1.31" height="1.50" fill="#4a40a8"/><rect x="24.88" y="58.71" width="1.31" height="1.50" fill="#dcd6f4"/><rect x="24.88" y="60.21" width="1.31" height="1.50" fill="#d2caf0"/><rect x="24.88" y="61.71" width="1.31" height="4.50" fill="#dcd6f4"/><rect x="24.88" y="66.21" width="1.31" height="1.50" fill="#5a4cb8"/><rect x="24.88" y="67.71" width="1.31" height="1.50" fill="#8a80d4"/><rect x="24.88" y="69.21" width="1.31" height="4.50" fill="#dcd6f4"/><rect x="24.88" y="73.72" width="1.31" height="1.50" fill="#d2caf0"/><rect x="24.88" y="75.22" width="1.31" height="1.50" fill="#e0daf6"/><rect x="24.88" y="76.72" width="1.31" height="3.00" fill="#dcd6f4"/><rect x="24.88" y="79.72" width="1.31" height="1.50" fill="#a89ee0"/><rect x="24.88" y="81.22" width="1.31" height="7.50" fill="#dcd6f4"/><rect x="24.88" y="88.72" width="1.31" height="1.50" fill="#e0daf6"/><rect x="24.88" y="90.22" width="1.31" height="3.00" fill="#dcd6f4"/><rect x="24.88" y="93.22" width="1.31" height="3.00" fill="#c4baec"/><rect x="24.88" y="96.22" width="1.31" height="1.50" fill="#d2caf0"/><rect x="24.88" y="97.72" width="1.31" height="1.50" fill="#e0daf6"/><rect x="24.88" y="99.22" width="1.31" height="1.50" fill="#c4baec"/><rect x="24.88" y="100.72" width="1.31" height="4.50" fill="#dcd6f4"/><rect x="24.88" y="105.22" width="1.31" height="1.50" fill="#d2caf0"/><rect x="24.88" y="106.72" width="1.31" height="1.50" fill="#e0daf6"/><rect x="24.88" y="108.22" width="1.31" height="1.50" fill="#c4baec"/><rect x="24.88" y="109.72" width="1.31" height="1.50" fill="#4238a0"/><rect x="24.88" y="111.23" width="1.31" height="1.50" fill="#7a70cc"/><rect x="24.88" y="112.73" width="1.31" height="1.50" fill="#4238a0"/><rect x="24.88" y="114.23" width="1.31" height="1.50" fill="#6a5cc0"/><rect x="24.88" y="115.73" width="1.31" height="1.50" fill="#5448b4"/><rect x="24.88" y="117.23" width="1.31" height="1.50" fill="#7a70cc"/><rect x="24.88" y="118.73" width="1.31" height="1.50" fill="#4a40a8"/><rect x="24.88" y="120.23" width="1.31" height="1.50" fill="#7a70cc"/><rect x="24.88" y="121.73" width="1.31" height="1.50" fill="#6a5cc0"/><rect x="24.88" y="123.23" width="1.31" height="1.50" fill="#7a70cc"/><rect x="24.88" y="124.73" width="1.31" height="1.50" fill="#6a5cc0"/><rect x="24.88" y="126.23" width="1.31" height="4.50" fill="#dcd6f4"/><rect x="24.88" y="130.73" width="1.31" height="1.50" fill="#e0daf6"/><rect x="24.88" y="132.23" width="1.31" height="1.50" fill="#c4baec"/><rect x="24.88" y="133.73" width="1.31" height="1.50" fill="#dcd6f4"/><rect x="24.88" y="135.23" width="1.31" height="1.50" fill="#d2caf0"/><rect x="24.88" y="136.73" width="1.31" height="1.50" fill="#dcd6f4"/><rect x="24.88" y="138.23" width="1.31" height="1.50" fill="#d2caf0"/><rect x="24.88" y="139.73" width="1.31" height="3.00" fill="#dcd6f4"/><rect x="24.88" y="142.73" width="1.31" height="1.50" fill="#d2caf0"/><rect x="24.88" y="144.23" width="1.31" height="3.00" fill="#dcd6f4"/><rect x="24.88" y="147.23" width="1.31" height="3.00" fill="#e0daf6"/><rect x="24.88" y="150.24" width="1.31" height="1.50" fill="#dcd6f4"/><rect x="24.88" y="151.74" width="1.31" height="1.50" fill="#e0daf6"/><rect x="24.88" y="153.24" width="1.31" height="1.50" fill="#dcd6f4"/><rect x="24.88" y="154.74" width="1.31" height="1.50" fill="#e0daf6"/><rect x="24.88" y="156.24" width="1.31" height="1.50" fill="#dcd6f4"/><rect x="24.88" y="157.74" width="1.31" height="1.50" fill="#5448b4"/><rect x="24.88" y="159.24" width="1.31" height="1.50" fill="#6a5cc0"/><rect x="24.88" y="160.74" width="1.31" height="1.50" fill="#7a70cc"/><rect x="24.88" y="162.24" width="1.31" height="1.50" fill="#6a5cc0"/><rect x="24.88" y="163.74" width="1.31" height="1.50" fill="#5a4cb8"/><rect x="24.88" y="165.24" width="1.31" height="1.50" fill="#7a70cc"/><rect x="24.88" y="166.74" width="1.31" height="1.50" fill="#5a4cb8"/><rect x="24.88" y="168.24" width="1.31" height="6.00" fill="#dcd6f4"/><rect x="24.88" y="174.24" width="1.31" height="1.50" fill="#e0daf6"/><rect x="24.88" y="175.74" width="1.31" height="4.50" fill="#dcd6f4"/><rect x="24.88" y="180.24" width="1.31" height="1.50" fill="#e0daf6"/><rect x="24.88" y="181.74" width="1.31" height="3.00" fill="#dcd6f4"/><rect x="24.88" y="184.74" width="1.31" height="1.50" fill="#a89ee0"/><rect x="24.88" y="186.25" width="1.31" height="9.00" fill="#dcd6f4"/><rect x="24.88" y="195.25" width="1.31" height="1.50" fill="#a89ee0"/><rect x="24.88" y="196.75" width="1.31" height="1.50" fill="#dcd6f4"/><rect x="24.88" y="198.25" width="1.31" height="1.50" fill="#c4baec"/><rect x="24.88" y="199.75" width="1.31" height="1.50" fill="#dcd6f4"/><rect x="24.88" y="201.25" width="1.31" height="1.50" fill="#d2caf0"/><rect x="24.88" y="202.75" width="1.31" height="3.00" fill="#dcd6f4"/><rect x="24.88" y="205.75" width="1.31" height="1.50" fill="#c4baec"/><rect x="24.88" y="207.25" width="1.31" height="1.50" fill="#d2caf0"/><rect x="24.88" y="208.75" width="1.31" height="1.50" fill="#b0a6e4"/><rect x="24.88" y="210.25" width="1.31" height="1.50" fill="#dcd6f4"/><rect x="24.88" y="211.75" width="1.31" height="1.50" fill="#d2caf0"/><rect x="24.88" y="213.25" width="1.31" height="1.50" fill="#dcd6f4"/><rect x="24.88" y="214.75" width="1.31" height="1.50" fill="#6a5cc0"/><rect x="24.88" y="216.25" width="1.31" height="4.50" fill="#4a40a8"/><rect x="24.88" y="220.75" width="1.31" height="1.50" fill="#d2caf0"/><rect x="24.88" y="222.25" width="1.31" height="7.50" fill="#c4baec"/><rect x="24.88" y="229.76" width="1.31" height="3.00" fill="#b0a6e4"/><rect x="24.88" y="232.76" width="1.31" height="1.50" fill="#d2caf0"/><rect x="24.88" y="234.26" width="1.31" height="1.50" fill="#5448b4"/><rect x="24.88" y="235.76" width="1.31" height="1.50" fill="#4a40a8"/><rect x="24.88" y="237.26" width="1.31" height="1.50" fill="#5448b4"/><rect x="24.88" y="238.76" width="1.31" height="1.50" fill="#7a70cc"/><rect x="24.88" y="240.26" width="1.31" height="3.00" fill="#5a4cb8"/><rect x="24.88" y="243.26" width="1.31" height="1.50" fill="#4a40a8"/><rect x="24.88" y="244.76" width="1.31" height="1.50" fill="#6a5cc0"/><rect x="24.88" y="246.26" width="1.31" height="1.50" fill="#5a4cb8"/><rect x="24.88" y="247.76" width="1.31" height="1.50" fill="#6a5cc0"/><rect x="24.88" y="249.26" width="1.31" height="3.00" fill="#5a4cb8"/><rect x="24.88" y="252.26" width="1.31" height="1.50" fill="#4a40a8"/><rect x="24.88" y="253.76" width="1.31" height="1.50" fill="#4238a0"/><rect x="24.88" y="255.26" width="1.31" height="1.50" fill="#7a70cc"/><rect x="24.88" y="256.76" width="1.31" height="1.50" fill="#4a40a8"/><rect x="24.88" y="258.26" width="1.31" height="1.50" fill="#5448b4"/><rect x="24.88" y="259.76" width="1.31" height="1.50" fill="#7a70cc"/><rect x="24.88" y="261.26" width="1.31" height="1.50" fill="#dcd6f4"/><rect x="24.88" y="262.77" width="1.31" height="1.50" fill="#e0daf6"/><rect x="24.88" y="264.27" width="1.31" height="6.00" fill="#dcd6f4"/><rect x="24.88" y="270.27" width="1.31" height="1.50" fill="#d2caf0"/><rect x="24.88" y="271.77" width="1.31" height="3.00" fill="#dcd6f4"/><rect x="24.88" y="274.77" width="1.31" height="1.50" fill="#d2caf0"/><rect x="24.88" y="276.27" width="1.31" height="1.50" fill="#a89ee0"/><rect x="24.88" y="277.77" width="1.31" height="1.50" fill="#e0daf6"/><rect x="24.88" y="279.27" width="1.31" height="1.50" fill="#dcd6f4"/><rect x="24.88" y="280.77" width="1.31" height="1.50" fill="#c4baec"/><rect x="24.88" y="282.27" width="1.31" height="9.00" fill="#dcd6f4"/><rect x="24.88" y="291.27" width="1.31" height="1.50" fill="#d2caf0"/><rect x="24.88" y="292.77" width="1.31" height="1.50" fill="#dcd6f4"/><rect x="24.88" y="294.27" width="1.31" height="3.00" fill="#e0daf6"/><rect x="24.88" y="297.27" width="1.31" height="1.50" fill="#c4baec"/><rect x="24.88" y="298.77" width="1.31" height="1.50" fill="#dcd6f4"/><rect x="24.88" y="300.28" width="1.31" height="1.50" fill="#d2caf0"/><rect x="24.88" y="301.78" width="1.31" height="1.50" fill="#a89ee0"/><rect x="24.88" y="303.28" width="1.31" height="3.00" fill="#4238a0"/><rect x="24.88" y="306.28" width="1.31" height="1.50" fill="#6a5cc0"/><rect x="24.88" y="307.78" width="1.31" height="1.50" fill="#4a40a8"/><rect x="24.88" y="309.28" width="1.31" height="1.50" fill="#4238a0"/><rect x="24.88" y="310.78" width="1.31" height="1.50" fill="#4a40a8"/><rect x="24.88" y="312.28" width="1.31" height="1.50" fill="#4238a0"/><rect x="24.88" y="313.78" width="1.31" height="1.50" fill="#7a70cc"/><rect x="24.88" y="315.28" width="1.31" height="1.50" fill="#d2caf0"/><rect x="24.88" y="316.78" width="1.31" height="1.50" fill="#4a40a8"/><rect x="24.88" y="318.28" width="1.31" height="1.50" fill="#5448b4"/><rect x="24.88" y="319.78" width="1.31" height="3.00" fill="#6a5cc0"/><rect x="24.88" y="322.78" width="1.31" height="4.50" fill="#5448b4"/><rect x="24.88" y="327.28" width="1.31" height="1.50" fill="#6a5cc0"/><rect x="24.88" y="328.78" width="1.31" height="1.50" fill="#5448b4"/><rect x="24.88" y="330.28" width="1.31" height="1.50" fill="#7a70cc"/><rect x="24.88" y="331.78" width="1.31" height="1.50" fill="#6a5cc0"/><rect x="24.88" y="333.28" width="1.31" height="1.50" fill="#4a40a8"/><rect x="24.88" y="334.78" width="1.31" height="3.00" fill="#7a70cc"/><rect x="24.88" y="337.78" width="1.31" height="1.50" fill="#4238a0"/><rect x="24.88" y="339.29" width="1.31" height="1.50" fill="#7a70cc"/><rect x="24.88" y="340.79" width="1.31" height="1.50" fill="#4238a0"/><rect x="24.88" y="342.29" width="1.31" height="1.50" fill="#7a70cc"/><rect x="24.88" y="343.79" width="1.31" height="1.50" fill="#4a40a8"/><rect x="24.88" y="345.29" width="1.31" height="6.00" fill="#4238a0"/><rect x="24.88" y="351.29" width="1.31" height="1.50" fill="#6a5cc0"/><rect x="24.88" y="352.79" width="1.31" height="3.00" fill="#4a40a8"/><rect x="24.88" y="355.79" width="1.31" height="3.00" fill="#c4baec"/><rect x="24.88" y="358.79" width="1.31" height="3.00" fill="#dcd6f4"/><rect x="24.88" y="361.79" width="1.31" height="1.50" fill="#6a5cc0"/><rect x="24.88" y="363.29" width="1.31" height="1.50" fill="#7a70cc"/><rect x="24.88" y="364.79" width="1.31" height="1.50" fill="#4a40a8"/><rect x="24.88" y="366.29" width="1.31" height="3.00" fill="#5a4cb8"/><rect x="24.88" y="369.29" width="1.31" height="1.50" fill="#c4baec"/><rect x="24.88" y="370.79" width="1.31" height="1.50" fill="#d2caf0"/><rect x="24.88" y="372.29" width="1.31" height="1.50" fill="#b0a6e4"/><rect x="24.88" y="373.79" width="1.31" height="1.50" fill="#dcd6f4"/><rect x="24.88" y="375.29" width="1.31" height="1.50" fill="#c4baec"/><rect x="24.88" y="376.80" width="1.31" height="3.00" fill="#d2caf0"/><rect x="24.88" y="379.80" width="1.31" height="1.50" fill="#b0a6e4"/><rect x="24.88" y="381.30" width="1.31" height="3.00" fill="#dcd6f4"/><rect x="24.88" y="384.30" width="1.31" height="1.50" fill="#5448b4"/><rect x="24.88" y="385.80" width="1.31" height="1.50" fill="#c4baec"/><rect x="24.88" y="387.30" width="1.31" height="1.50" fill="#b0a6e4"/><rect x="24.88" y="388.80" width="1.31" height="1.50" fill="#c4baec"/><rect x="24.88" y="390.30" width="1.31" height="1.50" fill="#b0a6e4"/><rect x="24.88" y="391.80" width="1.31" height="1.50" fill="#c4baec"/><rect x="24.88" y="393.30" width="1.31" height="1.50" fill="#d2caf0"/><rect x="26.19" y="15.20" width="1.31" height="10.50" fill="#dcd6f4"/><rect x="26.19" y="25.70" width="1.31" height="1.50" fill="#d2caf0"/><rect x="26.19" y="27.20" width="1.31" height="3.00" fill="#dcd6f4"/><rect x="26.19" y="30.20" width="1.31" height="1.50" fill="#a89ee0"/><rect x="26.19" y="31.70" width="1.31" height="3.00" fill="#dcd6f4"/><rect x="26.19" y="34.71" width="1.31" height="1.50" fill="#c4baec"/><rect x="26.19" y="36.21" width="1.31" height="3.00" fill="#dcd6f4"/><rect x="26.19" y="39.21" width="1.31" height="1.50" fill="#e0daf6"/><rect x="26.19" y="40.71" width="1.31" height="7.50" fill="#dcd6f4"/><rect x="26.19" y="48.21" width="1.31" height="1.50" fill="#d2caf0"/><rect x="26.19" y="49.71" width="1.31" height="1.50" fill="#c4baec"/><rect x="26.19" y="51.21" width="1.31" height="1.50" fill="#d2caf0"/><rect x="26.19" y="52.71" width="1.31" height="1.50" fill="#dcd6f4"/><rect x="26.19" y="54.21" width="1.31" height="1.50" fill="#d2caf0"/><rect x="26.19" y="55.71" width="1.31" height="1.50" fill="#dcd6f4"/><rect x="26.19" y="57.21" width="1.31" height="1.50" fill="#d2caf0"/><rect x="26.19" y="58.71" width="1.31" height="1.50" fill="#a89ee0"/><rect x="26.19" y="60.21" width="1.31" height="1.50" fill="#e0daf6"/><rect x="26.19" y="61.71" width="1.31" height="3.00" fill="#d2caf0"/><rect x="26.19" y="64.71" width="1.31" height="1.50" fill="#e0daf6"/><rect x="26.19" y="66.21" width="1.31" height="1.50" fill="#dcd6f4"/><rect x="26.19" y="67.71" width="1.31" height="1.50" fill="#e0daf6"/><rect x="26.19" y="69.21" width="1.31" height="1.50" fill="#dcd6f4"/><rect x="26.19" y="70.71" width="1.31" height="1.50" fill="#a89ee0"/><rect x="26.19" y="72.22" width="1.31" height="1.50" fill="#d2caf0"/><rect x="26.19" y="73.72" width="1.31" height="1.50" fill="#dcd6f4"/><rect x="26.19" y="75.22" width="1.31" height="1.50" fill="#e0daf6"/><rect x="26.19" y="76.72" width="1.31" height="4.50" fill="#dcd6f4"/><rect x="26.19" y="81.22" width="1.31" height="1.50" fill="#c4baec"/><rect x="26.19" y="82.72" width="1.31" height="4.50" fill="#dcd6f4"/><rect x="26.19" y="87.22" width="1.31" height="1.50" fill="#d2caf0"/><rect x="26.19" y="88.72" width="1.31" height="1.50" fill="#4a40a8"/><rect x="26.19" y="90.22" width="1.31" height="3.00" fill="#dcd6f4"/><rect x="26.19" y="93.22" width="1.31" height="3.00" fill="#d2caf0"/><rect x="26.19" y="96.22" width="1.31" height="1.50" fill="#e0daf6"/><rect x="26.19" y="97.72" width="1.31" height="1.50" fill="#a89ee0"/><rect x="26.19" y="99.22" width="1.31" height="1.50" fill="#dcd6f4"/><rect x="26.19" y="100.72" width="1.31" height="1.50" fill="#c4baec"/><rect x="26.19" y="102.22" width="1.31" height="1.50" fill="#d2caf0"/><rect x="26.19" y="103.72" width="1.31" height="1.50" fill="#c4baec"/><rect x="26.19" y="105.22" width="1.31" height="4.50" fill="#dcd6f4"/><rect x="26.19" y="109.72" width="1.31" height="3.00" fill="#4a40a8"/><rect x="26.19" y="112.73" width="1.31" height="3.00" fill="#6a5cc0"/><rect x="26.19" y="115.73" width="1.31" height="1.50" fill="#4238a0"/><rect x="26.19" y="117.23" width="1.31" height="1.50" fill="#4a40a8"/><rect x="26.19" y="118.73" width="1.31" height="1.50" fill="#7a70cc"/><rect x="26.19" y="120.23" width="1.31" height="3.00" fill="#4238a0"/><rect x="26.19" y="123.23" width="1.31" height="1.50" fill="#4a40a8"/><rect x="26.19" y="124.73" width="1.31" height="1.50" fill="#5a4cb8"/><rect x="26.19" y="126.23" width="1.31" height="1.50" fill="#4a40a8"/><rect x="26.19" y="127.73" width="1.31" height="1.50" fill="#5a4cb8"/><rect x="26.19" y="129.23" width="1.31" height="1.50" fill="#6a5cc0"/><rect x="26.19" y="130.73" width="1.31" height="1.50" fill="#4a40a8"/><rect x="26.19" y="132.23" width="1.31" height="1.50" fill="#5a4cb8"/><rect x="26.19" y="133.73" width="1.31" height="1.50" fill="#7a70cc"/><rect x="26.19" y="135.23" width="1.31" height="1.50" fill="#6a5cc0"/><rect x="26.19" y="136.73" width="1.31" height="1.50" fill="#4a40a8"/><rect x="26.19" y="138.23" width="1.31" height="1.50" fill="#5a4cb8"/><rect x="26.19" y="139.73" width="1.31" height="3.00" fill="#dcd6f4"/><rect x="26.19" y="142.73" width="1.31" height="3.00" fill="#7a70cc"/><rect x="26.19" y="145.73" width="1.31" height="1.50" fill="#4a40a8"/><rect x="26.19" y="147.23" width="1.31" height="1.50" fill="#8a80d4"/><rect x="26.19" y="148.74" width="1.31" height="1.50" fill="#5a4cb8"/><rect x="26.19" y="150.24" width="1.31" height="1.50" fill="#a89ee0"/><rect x="26.19" y="151.74" width="1.31" height="4.50" fill="#dcd6f4"/><rect x="26.19" y="156.24" width="1.31" height="1.50" fill="#c4baec"/><rect x="26.19" y="157.74" width="1.31" height="1.50" fill="#7a70cc"/><rect x="26.19" y="159.24" width="1.31" height="1.50" fill="#5448b4"/><rect x="26.19" y="160.74" width="1.31" height="1.50" fill="#dcd6f4"/><rect x="26.19" y="162.24" width="1.31" height="1.50" fill="#e0daf6"/><rect x="26.19" y="163.74" width="1.31" height="3.00" fill="#dcd6f4"/><rect x="26.19" y="166.74" width="1.31" height="1.50" fill="#d2caf0"/><rect x="26.19" y="168.24" width="1.31" height="1.50" fill="#e0daf6"/><rect x="26.19" y="169.74" width="1.31" height="4.50" fill="#dcd6f4"/><rect x="26.19" y="174.24" width="1.31" height="1.50" fill="#e0daf6"/><rect x="26.19" y="175.74" width="1.31" height="1.50" fill="#dcd6f4"/><rect x="26.19" y="177.24" width="1.31" height="3.00" fill="#e0daf6"/><rect x="26.19" y="180.24" width="1.31" height="1.50" fill="#dcd6f4"/><rect x="26.19" y="181.74" width="1.31" height="1.50" fill="#d2caf0"/><rect x="26.19" y="183.24" width="1.31" height="1.50" fill="#a89ee0"/><rect x="26.19" y="184.74" width="1.31" height="3.00" fill="#d2caf0"/><rect x="26.19" y="187.75" width="1.31" height="1.50" fill="#c4baec"/><rect x="26.19" y="189.25" width="1.31" height="1.50" fill="#d2caf0"/><rect x="26.19" y="190.75" width="1.31" height="1.50" fill="#dcd6f4"/><rect x="26.19" y="192.25" width="1.31" height="1.50" fill="#d2caf0"/><rect x="26.19" y="193.75" width="1.31" height="1.50" fill="#dcd6f4"/><rect x="26.19" y="195.25" width="1.31" height="3.00" fill="#5a4cb8"/><rect x="26.19" y="198.25" width="1.31" height="1.50" fill="#8a80d4"/><rect x="26.19" y="199.75" width="1.31" height="3.00" fill="#4a40a8"/><rect x="26.19" y="202.75" width="1.31" height="1.50" fill="#dcd6f4"/><rect x="26.19" y="204.25" width="1.31" height="1.50" fill="#e0daf6"/><rect x="26.19" y="205.75" width="1.31" height="1.50" fill="#5a4cb8"/><rect x="26.19" y="207.25" width="1.31" height="3.00" fill="#8a80d4"/><rect x="26.19" y="210.25" width="1.31" height="1.50" fill="#6a5cc0"/><rect x="26.19" y="211.75" width="1.31" height="1.50" fill="#8a80d4"/><rect x="26.19" y="213.25" width="1.31" height="3.00" fill="#4a40a8"/><rect x="26.19" y="216.25" width="1.31" height="1.50" fill="#8a80d4"/><rect x="26.19" y="217.75" width="1.31" height="3.00" fill="#7a70cc"/><rect x="26.19" y="220.75" width="1.31" height="1.50" fill="#6a5cc0"/><rect x="26.19" y="222.25" width="1.31" height="3.00" fill="#4a40a8"/><rect x="26.19" y="225.26" width="1.31" height="4.50" fill="#5a4cb8"/><rect x="26.19" y="229.76" width="1.31" height="1.50" fill="#4a40a8"/><rect x="26.19" y="231.26" width="1.31" height="1.50" fill="#7a70cc"/><rect x="26.19" y="232.76" width="1.31" height="1.50" fill="#6a5cc0"/><rect x="26.19" y="234.26" width="1.31" height="1.50" fill="#7a70cc"/><rect x="26.19" y="235.76" width="1.31" height="1.50" fill="#c4baec"/><rect x="26.19" y="237.26" width="1.31" height="1.50" fill="#dcd6f4"/><rect x="26.19" y="238.76" width="1.31" height="1.50" fill="#d2caf0"/><rect x="26.19" y="240.26" width="1.31" height="3.00" fill="#5a4cb8"/><rect x="26.19" y="243.26" width="1.31" height="1.50" fill="#8a80d4"/><rect x="26.19" y="244.76" width="1.31" height="1.50" fill="#4a40a8"/><rect x="26.19" y="246.26" width="1.31" height="1.50" fill="#5a4cb8"/><rect x="26.19" y="247.76" width="1.31" height="3.00" fill="#7a70cc"/><rect x="26.19" y="250.76" width="1.31" height="1.50" fill="#5a4cb8"/><rect x="26.19" y="252.26" width="1.31" height="1.50" fill="#6a5cc0"/><rect x="26.19" y="253.76" width="1.31" height="1.50" fill="#5448b4"/><rect x="26.19" y="255.26" width="1.31" height="1.50" fill="#6a5cc0"/><rect x="26.19" y="256.76" width="1.31" height="1.50" fill="#5448b4"/><rect x="26.19" y="258.26" width="1.31" height="1.50" fill="#4238a0"/><rect x="26.19" y="259.76" width="1.31" height="1.50" fill="#6a5cc0"/><rect x="26.19" y="261.26" width="1.31" height="3.00" fill="#dcd6f4"/><rect x="26.19" y="264.27" width="1.31" height="1.50" fill="#e0daf6"/><rect x="26.19" y="265.77" width="1.31" height="1.50" fill="#dcd6f4"/><rect x="26.19" y="267.27" width="1.31" height="1.50" fill="#a89ee0"/><rect x="26.19" y="268.77" width="1.31" height="1.50" fill="#d2caf0"/><rect x="26.19" y="270.27" width="1.31" height="1.50" fill="#dcd6f4"/><rect x="26.19" y="271.77" width="1.31" height="3.00" fill="#e0daf6"/><rect x="26.19" y="274.77" width="1.31" height="1.50" fill="#dcd6f4"/><rect x="26.19" y="276.27" width="1.31" height="1.50" fill="#d2caf0"/><rect x="26.19" y="277.77" width="1.31" height="3.00" fill="#dcd6f4"/><rect x="26.19" y="280.77" width="1.31" height="1.50" fill="#c4baec"/><rect x="26.19" y="282.27" width="1.31" height="1.50" fill="#a89ee0"/><rect x="26.19" y="283.77" width="1.31" height="1.50" fill="#c4baec"/><rect x="26.19" y="285.27" width="1.31" height="1.50" fill="#d2caf0"/><rect x="26.19" y="286.77" width="1.31" height="1.50" fill="#e0daf6"/><rect x="26.19" y="288.27" width="1.31" height="15.00" fill="#dcd6f4"/><rect x="26.19" y="303.28" width="1.31" height="1.50" fill="#6a5cc0"/><rect x="26.19" y="304.78" width="1.31" height="4.50" fill="#5448b4"/><rect x="26.19" y="309.28" width="1.31" height="1.50" fill="#4238a0"/><rect x="26.19" y="310.78" width="1.31" height="1.50" fill="#6a5cc0"/><rect x="26.19" y="312.28" width="1.31" height="1.50" fill="#4a40a8"/><rect x="26.19" y="313.78" width="1.31" height="6.00" fill="#4238a0"/><rect x="26.19" y="319.78" width="1.31" height="1.50" fill="#7a70cc"/><rect x="26.19" y="321.28" width="1.31" height="1.50" fill="#4238a0"/><rect x="26.19" y="322.78" width="1.31" height="1.50" fill="#4a40a8"/><rect x="26.19" y="324.28" width="1.31" height="3.00" fill="#6a5cc0"/><rect x="26.19" y="327.28" width="1.31" height="3.00" fill="#4238a0"/><rect x="26.19" y="330.28" width="1.31" height="1.50" fill="#4a40a8"/><rect x="26.19" y="331.78" width="1.31" height="1.50" fill="#6a5cc0"/><rect x="26.19" y="333.28" width="1.31" height="4.50" fill="#4238a0"/><rect x="26.19" y="337.78" width="1.31" height="1.50" fill="#5448b4"/><rect x="26.19" y="339.29" width="1.31" height="1.50" fill="#4a40a8"/><rect x="26.19" y="340.79" width="1.31" height="1.50" fill="#4238a0"/><rect x="26.19" y="342.29" width="1.31" height="1.50" fill="#4a40a8"/><rect x="26.19" y="343.79" width="1.31" height="1.50" fill="#4238a0"/><rect x="26.19" y="345.29" width="1.31" height="1.50" fill="#4a40a8"/><rect x="26.19" y="346.79" width="1.31" height="1.50" fill="#4238a0"/><rect x="26.19" y="348.29" width="1.31" height="6.00" fill="#4a40a8"/><rect x="26.19" y="354.29" width="1.31" height="1.50" fill="#5a4cb8"/><rect x="26.19" y="355.79" width="1.31" height="1.50" fill="#6a5cc0"/><rect x="26.19" y="357.29" width="1.31" height="1.50" fill="#7a70cc"/><rect x="26.19" y="358.79" width="1.31" height="1.50" fill="#4a40a8"/><rect x="26.19" y="360.29" width="1.31" height="3.00" fill="#7a70cc"/><rect x="26.19" y="363.29" width="1.31" height="1.50" fill="#6a5cc0"/><rect x="26.19" y="364.79" width="1.31" height="1.50" fill="#5a4cb8"/><rect x="26.19" y="366.29" width="1.31" height="1.50" fill="#4a40a8"/><rect x="26.19" y="367.79" width="1.31" height="1.50" fill="#b0a6e4"/><rect x="26.19" y="369.29" width="1.31" height="1.50" fill="#dcd6f4"/><rect x="26.19" y="370.79" width="1.31" height="3.00" fill="#d2caf0"/><rect x="26.19" y="373.79" width="1.31" height="1.50" fill="#c4baec"/><rect x="26.19" y="375.29" width="1.31" height="3.00" fill="#dcd6f4"/><rect x="26.19" y="378.30" width="1.31" height="3.00" fill="#c4baec"/><rect x="26.19" y="381.30" width="1.31" height="1.50" fill="#d2caf0"/><rect x="26.19" y="382.80" width="1.31" height="1.50" fill="#7a70cc"/><rect x="26.19" y="384.30" width="1.31" height="1.50" fill="#6a5cc0"/><rect x="26.19" y="385.80" width="1.31" height="1.50" fill="#4a40a8"/><rect x="26.19" y="387.30" width="1.31" height="3.00" fill="#6a5cc0"/><rect x="26.19" y="390.30" width="1.31" height="1.50" fill="#5448b4"/><rect x="26.19" y="391.80" width="1.31" height="3.00" fill="#4a40a8"/><rect x="27.50" y="15.20" width="1.50" height="1.50" fill="#eef6e4"/><rect x="27.50" y="16.70" width="1.50" height="3.00" fill="#d4eeb8"/><rect x="27.50" y="19.70" width="1.50" height="1.50" fill="#eef6e4"/><rect x="27.50" y="21.20" width="1.50" height="3.00" fill="#d4eeb8"/><rect x="27.50" y="24.20" width="1.50" height="1.50" fill="#b8e290"/><rect x="27.50" y="25.70" width="1.50" height="1.50" fill="#eef6e4"/><rect x="27.50" y="27.20" width="1.50" height="1.50" fill="#d4eeb8"/><rect x="27.50" y="28.70" width="1.50" height="1.50" fill="#b8e290"/><rect x="27.50" y="30.20" width="1.50" height="1.50" fill="#d4eeb8"/><rect x="27.50" y="31.70" width="1.50" height="1.50" fill="#8cc450"/><rect x="27.50" y="33.20" width="1.50" height="3.00" fill="#b8e290"/><rect x="27.50" y="36.21" width="1.50" height="1.50" fill="#eef6e4"/><rect x="27.50" y="37.71" width="1.50" height="3.00" fill="#b8e290"/><rect x="27.50" y="40.71" width="1.50" height="4.50" fill="#d4eeb8"/><rect x="27.50" y="45.21" width="1.50" height="1.50" fill="#eef6e4"/><rect x="27.50" y="46.71" width="1.50" height="6.00" fill="#b8e290"/><rect x="27.50" y="52.71" width="1.50" height="1.50" fill="#d4eeb8"/><rect x="27.50" y="54.21" width="1.50" height="1.50" fill="#eef6e4"/><rect x="27.50" y="55.71" width="1.50" height="1.50" fill="#b8e290"/><rect x="27.50" y="57.21" width="1.50" height="1.50" fill="#eef6e4"/><rect x="27.50" y="58.71" width="1.50" height="3.00" fill="#d4eeb8"/><rect x="27.50" y="61.71" width="1.50" height="1.50" fill="#b8e290"/><rect x="27.50" y="63.21" width="1.50" height="1.50" fill="#d4eeb8"/><rect x="27.50" y="64.71" width="1.50" height="3.00" fill="#b8e290"/><rect x="27.50" y="67.71" width="1.50" height="4.50" fill="#d4eeb8"/><rect x="27.50" y="72.22" width="1.50" height="1.50" fill="#eef6e4"/><rect x="27.50" y="73.72" width="1.50" height="3.00" fill="#b8e290"/><rect x="27.50" y="76.72" width="1.50" height="3.00" fill="#d4eeb8"/><rect x="27.50" y="79.72" width="1.50" height="1.50" fill="#8cc450"/><rect x="27.50" y="81.22" width="1.50" height="1.50" fill="#eef6e4"/><rect x="27.50" y="82.72" width="1.50" height="1.50" fill="#d4eeb8"/><rect x="27.50" y="84.22" width="1.50" height="1.50" fill="#b8e290"/><rect x="27.50" y="85.72" width="1.50" height="4.50" fill="#d4eeb8"/><rect x="27.50" y="90.22" width="1.50" height="9.00" fill="#b8e290"/><rect x="27.50" y="99.22" width="1.50" height="4.50" fill="#d4eeb8"/><rect x="27.50" y="103.72" width="1.50" height="1.50" fill="#b8e290"/><rect x="27.50" y="105.22" width="1.50" height="1.50" fill="#8cc450"/><rect x="27.50" y="106.72" width="1.50" height="1.50" fill="#d4eeb8"/><rect x="27.50" y="108.22" width="1.50" height="1.50" fill="#b8e290"/><rect x="27.50" y="109.72" width="1.50" height="1.50" fill="#d4eeb8"/><rect x="27.50" y="111.23" width="1.50" height="1.50" fill="#8cc450"/><rect x="27.50" y="112.73" width="1.50" height="3.00" fill="#d4eeb8"/><rect x="27.50" y="115.73" width="1.50" height="1.50" fill="#b8e290"/><rect x="27.50" y="117.23" width="1.50" height="3.00" fill="#d4eeb8"/><rect x="27.50" y="120.23" width="1.50" height="1.50" fill="#b8e290"/><rect x="27.50" y="121.73" width="1.50" height="1.50" fill="#d4eeb8"/><rect x="27.50" y="123.23" width="1.50" height="1.50" fill="#eef6e4"/><rect x="27.50" y="124.73" width="1.50" height="1.50" fill="#d4eeb8"/><rect x="27.50" y="126.23" width="1.50" height="1.50" fill="#b8e290"/><rect x="27.50" y="127.73" width="1.50" height="1.50" fill="#d4eeb8"/><rect x="27.50" y="129.23" width="1.50" height="1.50" fill="#b8e290"/><rect x="27.50" y="130.73" width="1.50" height="1.50" fill="#d4eeb8"/><rect x="27.50" y="132.23" width="1.50" height="1.50" fill="#eef6e4"/><rect x="27.50" y="133.73" width="1.50" height="1.50" fill="#b8e290"/><rect x="27.50" y="135.23" width="1.50" height="1.50" fill="#d4eeb8"/><rect x="27.50" y="136.73" width="1.50" height="1.50" fill="#b8e290"/><rect x="27.50" y="138.23" width="1.50" height="3.00" fill="#d4eeb8"/><rect x="27.50" y="141.23" width="1.50" height="1.50" fill="#eef6e4"/><rect x="27.50" y="142.73" width="1.50" height="1.50" fill="#d4eeb8"/><rect x="27.50" y="144.23" width="1.50" height="1.50" fill="#b8e290"/><rect x="27.50" y="145.73" width="1.50" height="19.51" fill="#d4eeb8"/><rect x="27.50" y="165.24" width="1.50" height="1.50" fill="#eef6e4"/><rect x="27.50" y="166.74" width="1.50" height="6.00" fill="#b8e290"/><rect x="27.50" y="172.74" width="1.50" height="1.50" fill="#d4eeb8"/><rect x="27.50" y="174.24" width="1.50" height="1.50" fill="#b8e290"/><rect x="27.50" y="175.74" width="1.50" height="6.00" fill="#d4eeb8"/><rect x="27.50" y="181.74" width="1.50" height="3.00" fill="#b8e290"/><rect x="27.50" y="184.74" width="1.50" height="7.50" fill="#d4eeb8"/><rect x="27.50" y="192.25" width="1.50" height="1.50" fill="#b8e290"/><rect x="27.50" y="193.75" width="1.50" height="1.50" fill="#d4eeb8"/><rect x="27.50" y="195.25" width="1.50" height="3.00" fill="#eef6e4"/><rect x="27.50" y="198.25" width="1.50" height="3.00" fill="#d4eeb8"/><rect x="27.50" y="201.25" width="1.50" height="1.50" fill="#eef6e4"/><rect x="27.50" y="202.75" width="1.50" height="3.00" fill="#d4eeb8"/><rect x="27.50" y="205.75" width="1.50" height="1.50" fill="#b8e290"/><rect x="27.50" y="207.25" width="1.50" height="3.00" fill="#d4eeb8"/><rect x="27.50" y="210.25" width="1.50" height="1.50" fill="#eef6e4"/><rect x="27.50" y="211.75" width="1.50" height="1.50" fill="#d4eeb8"/><rect x="27.50" y="213.25" width="1.50" height="1.50" fill="#b8e290"/><rect x="27.50" y="214.75" width="1.50" height="9.00" fill="#d4eeb8"/><rect x="27.50" y="223.75" width="1.50" height="1.50" fill="#eef6e4"/><rect x="27.50" y="225.26" width="1.50" height="4.50" fill="#d4eeb8"/><rect x="27.50" y="229.76" width="1.50" height="1.50" fill="#b8e290"/><rect x="27.50" y="231.26" width="1.50" height="1.50" fill="#eef6e4"/><rect x="27.50" y="232.76" width="1.50" height="1.50" fill="#b8e290"/><rect x="27.50" y="234.26" width="1.50" height="1.50" fill="#d4eeb8"/><rect x="27.50" y="235.76" width="1.50" height="4.50" fill="#eef6e4"/><rect x="27.50" y="240.26" width="1.50" height="6.00" fill="#d4eeb8"/><rect x="27.50" y="246.26" width="1.50" height="1.50" fill="#b8e290"/><rect x="27.50" y="247.76" width="1.50" height="1.50" fill="#d4eeb8"/><rect x="27.50" y="249.26" width="1.50" height="1.50" fill="#eef6e4"/><rect x="27.50" y="250.76" width="1.50" height="9.00" fill="#d4eeb8"/><rect x="27.50" y="259.76" width="1.50" height="1.50" fill="#8cc450"/><rect x="27.50" y="261.26" width="1.50" height="7.50" fill="#d4eeb8"/><rect x="27.50" y="268.77" width="1.50" height="1.50" fill="#eef6e4"/><rect x="27.50" y="270.27" width="1.50" height="1.50" fill="#d4eeb8"/><rect x="27.50" y="271.77" width="1.50" height="1.50" fill="#b8e290"/><rect x="27.50" y="273.27" width="1.50" height="6.00" fill="#d4eeb8"/><rect x="27.50" y="279.27" width="1.50" height="1.50" fill="#eef6e4"/><rect x="27.50" y="280.77" width="1.50" height="1.50" fill="#b8e290"/><rect x="27.50" y="282.27" width="1.50" height="1.50" fill="#d4eeb8"/><rect x="27.50" y="283.77" width="1.50" height="1.50" fill="#b8e290"/><rect x="27.50" y="285.27" width="1.50" height="4.50" fill="#d4eeb8"/><rect x="27.50" y="289.77" width="1.50" height="1.50" fill="#eef6e4"/><rect x="27.50" y="291.27" width="1.50" height="1.50" fill="#b8e290"/><rect x="27.50" y="292.77" width="1.50" height="1.50" fill="#d4eeb8"/><rect x="27.50" y="294.27" width="1.50" height="1.50" fill="#b8e290"/><rect x="27.50" y="295.77" width="1.50" height="1.50" fill="#eef6e4"/><rect x="27.50" y="297.27" width="1.50" height="1.50" fill="#8cc450"/><rect x="27.50" y="298.77" width="1.50" height="7.50" fill="#d4eeb8"/><rect x="27.50" y="306.28" width="1.50" height="1.50" fill="#eef6e4"/><rect x="27.50" y="307.78" width="1.50" height="1.50" fill="#b8e290"/><rect x="27.50" y="309.28" width="1.50" height="1.50" fill="#eef6e4"/><rect x="27.50" y="310.78" width="1.50" height="1.50" fill="#d4eeb8"/><rect x="27.50" y="312.28" width="1.50" height="1.50" fill="#b8e290"/><rect x="27.50" y="313.78" width="1.50" height="1.50" fill="#8cc450"/><rect x="27.50" y="315.28" width="1.50" height="3.00" fill="#d4eeb8"/><rect x="27.50" y="318.28" width="1.50" height="1.50" fill="#b8e290"/><rect x="27.50" y="319.78" width="1.50" height="3.00" fill="#d4eeb8"/><rect x="27.50" y="322.78" width="1.50" height="1.50" fill="#b8e290"/><rect x="27.50" y="324.28" width="1.50" height="4.50" fill="#d4eeb8"/><rect x="27.50" y="328.78" width="1.50" height="1.50" fill="#eef6e4"/><rect x="27.50" y="330.28" width="1.50" height="1.50" fill="#d4eeb8"/><rect x="27.50" y="331.78" width="1.50" height="1.50" fill="#b8e290"/><rect x="27.50" y="333.28" width="1.50" height="1.50" fill="#d4eeb8"/><rect x="27.50" y="334.78" width="1.50" height="1.50" fill="#eef6e4"/><rect x="27.50" y="336.28" width="1.50" height="3.00" fill="#d4eeb8"/><rect x="27.50" y="339.29" width="1.50" height="3.00" fill="#b8e290"/><rect x="27.50" y="342.29" width="1.50" height="1.50" fill="#d4eeb8"/><rect x="27.50" y="343.79" width="1.50" height="1.50" fill="#8cc450"/><rect x="27.50" y="345.29" width="1.50" height="6.00" fill="#d4eeb8"/><rect x="27.50" y="351.29" width="1.50" height="1.50" fill="#b8e290"/><rect x="27.50" y="352.79" width="1.50" height="4.50" fill="#d4eeb8"/><rect x="27.50" y="357.29" width="1.50" height="3.00" fill="#b8e290"/><rect x="27.50" y="360.29" width="1.50" height="1.50" fill="#d4eeb8"/><rect x="27.50" y="361.79" width="1.50" height="1.50" fill="#8cc450"/><rect x="27.50" y="363.29" width="1.50" height="3.00" fill="#d4eeb8"/><rect x="27.50" y="366.29" width="1.50" height="3.00" fill="#b8e290"/><rect x="27.50" y="369.29" width="1.50" height="3.00" fill="#d4eeb8"/><rect x="27.50" y="372.29" width="1.50" height="1.50" fill="#b8e290"/><rect x="27.50" y="373.79" width="1.50" height="1.50" fill="#eef6e4"/><rect x="27.50" y="375.29" width="1.50" height="1.50" fill="#d4eeb8"/><rect x="27.50" y="376.80" width="1.50" height="3.00" fill="#8cc450"/><rect x="27.50" y="379.80" width="1.50" height="1.50" fill="#d4eeb8"/><rect x="27.50" y="381.30" width="1.50" height="3.00" fill="#b8e290"/><rect x="27.50" y="384.30" width="1.50" height="1.50" fill="#d4eeb8"/><rect x="27.50" y="385.80" width="1.50" height="1.50" fill="#8cc450"/><rect x="27.50" y="387.30" width="1.50" height="1.50" fill="#eef6e4"/><rect x="27.50" y="388.80" width="1.50" height="1.50" fill="#d4eeb8"/><rect x="27.50" y="390.30" width="1.50" height="1.50" fill="#b8e290"/><rect x="27.50" y="391.80" width="1.50" height="3.00" fill="#d4eeb8"/><rect x="29.00" y="15.20" width="3.30" height="1.50" fill="#5cb020"/><rect x="29.00" y="16.70" width="3.30" height="1.50" fill="#78b018"/><rect x="29.00" y="18.20" width="3.30" height="1.50" fill="#8a9a28"/><rect x="29.00" y="19.70" width="3.30" height="1.50" fill="#78b018"/><rect x="29.00" y="21.20" width="3.30" height="3.00" fill="#8a9a28"/><rect x="29.00" y="24.20" width="3.30" height="1.50" fill="#78b018"/><rect x="29.00" y="25.70" width="3.30" height="1.50" fill="#5cb020"/><rect x="29.00" y="27.20" width="3.30" height="1.50" fill="#78b018"/><rect x="29.00" y="28.70" width="3.30" height="1.50" fill="#5cb020"/><rect x="29.00" y="30.20" width="3.30" height="1.50" fill="#8a9a28"/><rect x="29.00" y="31.70" width="3.30" height="3.00" fill="#78b018"/><rect x="29.00" y="34.71" width="3.30" height="1.50" fill="#a08028"/><rect x="29.00" y="36.21" width="3.30" height="1.50" fill="#78b018"/><rect x="29.00" y="37.71" width="3.30" height="1.50" fill="#5cb020"/><rect x="29.00" y="39.21" width="3.30" height="1.50" fill="#a08028"/><rect x="29.00" y="40.71" width="3.30" height="1.50" fill="#78b018"/><rect x="29.00" y="42.21" width="3.30" height="3.00" fill="#a08028"/><rect x="29.00" y="45.21" width="3.30" height="1.50" fill="#5cb020"/><rect x="29.00" y="46.71" width="3.30" height="3.00" fill="#a08028"/><rect x="29.00" y="49.71" width="3.30" height="1.50" fill="#5cb020"/><rect x="29.00" y="51.21" width="3.30" height="1.50" fill="#a08028"/><rect x="29.00" y="52.71" width="3.30" height="1.50" fill="#8a9a28"/><rect x="29.00" y="54.21" width="3.30" height="1.50" fill="#c06020"/><rect x="29.00" y="55.71" width="3.30" height="1.50" fill="#5cb020"/><rect x="29.00" y="57.21" width="3.30" height="1.50" fill="#8a9a28"/><rect x="29.00" y="58.71" width="3.30" height="1.50" fill="#5cb020"/><rect x="29.00" y="60.21" width="3.30" height="1.50" fill="#8a9a28"/><rect x="29.00" y="61.71" width="3.30" height="1.50" fill="#a08028"/><rect x="29.00" y="63.21" width="3.30" height="1.50" fill="#5cb020"/><rect x="29.00" y="64.71" width="3.30" height="1.50" fill="#78b018"/><rect x="29.00" y="66.21" width="3.30" height="1.50" fill="#8a9a28"/><rect x="29.00" y="67.71" width="3.30" height="1.50" fill="#a08028"/><rect x="29.00" y="69.21" width="3.30" height="3.00" fill="#78b018"/><rect x="29.00" y="72.22" width="3.30" height="1.50" fill="#a08028"/><rect x="29.00" y="73.72" width="3.30" height="1.50" fill="#78b018"/><rect x="29.00" y="75.22" width="3.30" height="1.50" fill="#5cb020"/><rect x="29.00" y="76.72" width="3.30" height="1.50" fill="#78b018"/><rect x="29.00" y="78.22" width="3.30" height="1.50" fill="#5cb020"/><rect x="29.00" y="79.72" width="3.30" height="1.50" fill="#8a9a28"/><rect x="29.00" y="81.22" width="3.30" height="1.50" fill="#78b018"/><rect x="29.00" y="82.72" width="3.30" height="1.50" fill="#5cb020"/><rect x="29.00" y="84.22" width="3.30" height="1.50" fill="#78b018"/><rect x="29.00" y="85.72" width="3.30" height="3.00" fill="#a08028"/><rect x="29.00" y="88.72" width="3.30" height="3.00" fill="#78b018"/><rect x="29.00" y="91.72" width="3.30" height="1.50" fill="#8a9a28"/><rect x="29.00" y="93.22" width="3.30" height="1.50" fill="#5cb020"/><rect x="29.00" y="94.72" width="3.30" height="1.50" fill="#8a9a28"/><rect x="29.00" y="96.22" width="3.30" height="3.00" fill="#5cb020"/><rect x="29.00" y="99.22" width="3.30" height="1.50" fill="#78b018"/><rect x="29.00" y="100.72" width="3.30" height="6.00" fill="#8a9a28"/><rect x="29.00" y="106.72" width="3.30" height="1.50" fill="#5cb020"/><rect x="29.00" y="108.22" width="3.30" height="1.50" fill="#78b018"/><rect x="29.00" y="109.72" width="3.30" height="1.50" fill="#a08028"/><rect x="29.00" y="111.23" width="3.30" height="3.00" fill="#78b018"/><rect x="29.00" y="114.23" width="3.30" height="1.50" fill="#5cb020"/><rect x="29.00" y="115.73" width="3.30" height="3.00" fill="#78b018"/><rect x="29.00" y="118.73" width="3.30" height="1.50" fill="#8a9a28"/><rect x="29.00" y="120.23" width="3.30" height="1.50" fill="#78b018"/><rect x="29.00" y="121.73" width="3.30" height="1.50" fill="#c06020"/><rect x="29.00" y="123.23" width="3.30" height="1.50" fill="#5cb020"/><rect x="29.00" y="124.73" width="3.30" height="1.50" fill="#8a9a28"/><rect x="29.00" y="126.23" width="3.30" height="3.00" fill="#78b018"/><rect x="29.00" y="129.23" width="3.30" height="1.50" fill="#8a9a28"/><rect x="29.00" y="130.73" width="3.30" height="1.50" fill="#a08028"/><rect x="29.00" y="132.23" width="3.30" height="4.50" fill="#78b018"/><rect x="29.00" y="136.73" width="3.30" height="1.50" fill="#a08028"/><rect x="29.00" y="138.23" width="3.30" height="3.00" fill="#78b018"/><rect x="29.00" y="141.23" width="3.30" height="6.00" fill="#8a9a28"/><rect x="29.00" y="147.23" width="3.30" height="3.00" fill="#5cb020"/><rect x="29.00" y="150.24" width="3.30" height="3.00" fill="#8a9a28"/><rect x="29.00" y="153.24" width="3.30" height="3.00" fill="#78b018"/><rect x="29.00" y="156.24" width="3.30" height="1.50" fill="#a08028"/><rect x="29.00" y="157.74" width="3.30" height="4.50" fill="#78b018"/><rect x="29.00" y="162.24" width="3.30" height="1.50" fill="#8a9a28"/><rect x="29.00" y="163.74" width="3.30" height="1.50" fill="#a08028"/><rect x="29.00" y="165.24" width="3.30" height="1.50" fill="#5cb020"/><rect x="29.00" y="166.74" width="3.30" height="1.50" fill="#8a9a28"/><rect x="29.00" y="168.24" width="3.30" height="1.50" fill="#78b018"/><rect x="29.00" y="169.74" width="3.30" height="1.50" fill="#a08028"/><rect x="29.00" y="171.24" width="3.30" height="1.50" fill="#5cb020"/><rect x="29.00" y="172.74" width="3.30" height="1.50" fill="#a08028"/><rect x="29.00" y="174.24" width="3.30" height="1.50" fill="#8a9a28"/><rect x="29.00" y="175.74" width="3.30" height="1.50" fill="#a08028"/><rect x="29.00" y="177.24" width="3.30" height="1.50" fill="#78b018"/><rect x="29.00" y="178.74" width="3.30" height="3.00" fill="#a08028"/><rect x="29.00" y="181.74" width="3.30" height="3.00" fill="#8a9a28"/><rect x="29.00" y="184.74" width="3.30" height="3.00" fill="#78b018"/><rect x="29.00" y="187.75" width="3.30" height="1.50" fill="#8a9a28"/><rect x="29.00" y="189.25" width="3.30" height="1.50" fill="#78b018"/><rect x="29.00" y="190.75" width="3.30" height="1.50" fill="#5cb020"/><rect x="29.00" y="192.25" width="3.30" height="1.50" fill="#8a9a28"/><rect x="29.00" y="193.75" width="3.30" height="1.50" fill="#a08028"/><rect x="29.00" y="195.25" width="3.30" height="1.50" fill="#5cb020"/><rect x="29.00" y="196.75" width="3.30" height="1.50" fill="#78b018"/><rect x="29.00" y="198.25" width="3.30" height="1.50" fill="#8a9a28"/><rect x="29.00" y="199.75" width="3.30" height="1.50" fill="#c06020"/><rect x="29.00" y="201.25" width="3.30" height="1.50" fill="#a08028"/><rect x="29.00" y="202.75" width="3.30" height="6.00" fill="#78b018"/><rect x="29.00" y="208.75" width="3.30" height="1.50" fill="#8a9a28"/><rect x="29.00" y="210.25" width="3.30" height="1.50" fill="#78b018"/><rect x="29.00" y="211.75" width="3.30" height="1.50" fill="#8a9a28"/><rect x="29.00" y="213.25" width="3.30" height="3.00" fill="#78b018"/><rect x="29.00" y="216.25" width="3.30" height="1.50" fill="#8a9a28"/><rect x="29.00" y="217.75" width="3.30" height="1.50" fill="#78b018"/><rect x="29.00" y="219.25" width="3.30" height="1.50" fill="#5cb020"/><rect x="29.00" y="220.75" width="3.30" height="1.50" fill="#78b018"/><rect x="29.00" y="222.25" width="3.30" height="1.50" fill="#a08028"/><rect x="29.00" y="223.75" width="3.30" height="3.00" fill="#78b018"/><rect x="29.00" y="226.76" width="3.30" height="1.50" fill="#8a9a28"/><rect x="29.00" y="228.26" width="3.30" height="1.50" fill="#78b018"/><rect x="29.00" y="229.76" width="3.30" height="1.50" fill="#a08028"/><rect x="29.00" y="231.26" width="3.30" height="1.50" fill="#78b018"/><rect x="29.00" y="232.76" width="3.30" height="1.50" fill="#a08028"/><rect x="29.00" y="234.26" width="3.30" height="3.00" fill="#8a9a28"/><rect x="29.00" y="237.26" width="3.30" height="6.00" fill="#78b018"/><rect x="29.00" y="243.26" width="3.30" height="1.50" fill="#5cb020"/><rect x="29.00" y="244.76" width="3.30" height="1.50" fill="#78b018"/><rect x="29.00" y="246.26" width="3.30" height="3.00" fill="#5cb020"/><rect x="29.00" y="249.26" width="3.30" height="1.50" fill="#a08028"/><rect x="29.00" y="250.76" width="3.30" height="6.00" fill="#78b018"/><rect x="29.00" y="256.76" width="3.30" height="1.50" fill="#5cb020"/><rect x="29.00" y="258.26" width="3.30" height="1.50" fill="#8a9a28"/><rect x="29.00" y="259.76" width="3.30" height="1.50" fill="#a08028"/><rect x="29.00" y="261.26" width="3.30" height="3.00" fill="#78b018"/><rect x="29.00" y="264.27" width="3.30" height="1.50" fill="#5cb020"/><rect x="29.00" y="265.77" width="3.30" height="1.50" fill="#78b018"/><rect x="29.00" y="267.27" width="3.30" height="1.50" fill="#5cb020"/><rect x="29.00" y="268.77" width="3.30" height="3.00" fill="#8a9a28"/><rect x="29.00" y="271.77" width="3.30" height="1.50" fill="#78b018"/><rect x="29.00" y="273.27" width="3.30" height="3.00" fill="#8a9a28"/><rect x="29.00" y="276.27" width="3.30" height="1.50" fill="#78b018"/><rect x="29.00" y="277.77" width="3.30" height="1.50" fill="#8a9a28"/><rect x="29.00" y="279.27" width="3.30" height="1.50" fill="#a08028"/><rect x="29.00" y="280.77" width="3.30" height="4.50" fill="#8a9a28"/><rect x="29.00" y="285.27" width="3.30" height="1.50" fill="#78b018"/><rect x="29.00" y="286.77" width="3.30" height="1.50" fill="#a08028"/><rect x="29.00" y="288.27" width="3.30" height="1.50" fill="#78b018"/><rect x="29.00" y="289.77" width="3.30" height="3.00" fill="#8a9a28"/><rect x="29.00" y="292.77" width="3.30" height="3.00" fill="#5cb020"/><rect x="29.00" y="295.77" width="3.30" height="1.50" fill="#78b018"/><rect x="29.00" y="297.27" width="3.30" height="1.50" fill="#8a9a28"/><rect x="29.00" y="298.77" width="3.30" height="4.50" fill="#78b018"/><rect x="29.00" y="303.28" width="3.30" height="1.50" fill="#5cb020"/><rect x="29.00" y="304.78" width="3.30" height="1.50" fill="#78b018"/><rect x="29.00" y="306.28" width="3.30" height="1.50" fill="#8a9a28"/><rect x="29.00" y="307.78" width="3.30" height="6.00" fill="#78b018"/><rect x="29.00" y="313.78" width="3.30" height="1.50" fill="#8a9a28"/><rect x="29.00" y="315.28" width="3.30" height="1.50" fill="#78b018"/><rect x="29.00" y="316.78" width="3.30" height="6.00" fill="#8a9a28"/><rect x="29.00" y="322.78" width="3.30" height="1.50" fill="#5cb020"/><rect x="29.00" y="324.28" width="3.30" height="1.50" fill="#78b018"/><rect x="29.00" y="325.78" width="3.30" height="1.50" fill="#5cb020"/><rect x="29.00" y="327.28" width="3.30" height="1.50" fill="#78b018"/><rect x="29.00" y="328.78" width="3.30" height="1.50" fill="#c06020"/><rect x="29.00" y="330.28" width="3.30" height="4.50" fill="#78b018"/><rect x="29.00" y="334.78" width="3.30" height="1.50" fill="#8a9a28"/><rect x="29.00" y="336.28" width="3.30" height="1.50" fill="#5cb020"/><rect x="29.00" y="337.78" width="3.30" height="1.50" fill="#78b018"/><rect x="29.00" y="339.29" width="3.30" height="1.50" fill="#a08028"/><rect x="29.00" y="340.79" width="3.30" height="1.50" fill="#78b018"/><rect x="29.00" y="342.29" width="3.30" height="1.50" fill="#8a9a28"/><rect x="29.00" y="343.79" width="3.30" height="1.50" fill="#a08028"/><rect x="29.00" y="345.29" width="3.30" height="1.50" fill="#8a9a28"/><rect x="29.00" y="346.79" width="3.30" height="3.00" fill="#78b018"/><rect x="29.00" y="349.79" width="3.30" height="1.50" fill="#8a9a28"/><rect x="29.00" y="351.29" width="3.30" height="3.00" fill="#5cb020"/><rect x="29.00" y="354.29" width="3.30" height="1.50" fill="#8a9a28"/><rect x="29.00" y="355.79" width="3.30" height="3.00" fill="#5cb020"/><rect x="29.00" y="358.79" width="3.30" height="1.50" fill="#78b018"/><rect x="29.00" y="360.29" width="3.30" height="1.50" fill="#a08028"/><rect x="29.00" y="361.79" width="3.30" height="1.50" fill="#8a9a28"/><rect x="29.00" y="363.29" width="3.30" height="1.50" fill="#a08028"/><rect x="29.00" y="364.79" width="3.30" height="1.50" fill="#8a9a28"/><rect x="29.00" y="366.29" width="3.30" height="3.00" fill="#78b018"/><rect x="29.00" y="369.29" width="3.30" height="1.50" fill="#a08028"/><rect x="29.00" y="370.79" width="3.30" height="1.50" fill="#78b018"/><rect x="29.00" y="372.29" width="3.30" height="1.50" fill="#a08028"/><rect x="29.00" y="373.79" width="3.30" height="1.50" fill="#5cb020"/><rect x="29.00" y="375.29" width="3.30" height="1.50" fill="#c06020"/><rect x="29.00" y="376.80" width="3.30" height="1.50" fill="#78b018"/><rect x="29.00" y="378.30" width="3.30" height="1.50" fill="#5cb020"/><rect x="29.00" y="379.80" width="3.30" height="6.00" fill="#78b018"/><rect x="29.00" y="385.80" width="3.30" height="1.50" fill="#8a9a28"/><rect x="29.00" y="387.30" width="3.30" height="1.50" fill="#78b018"/><rect x="29.00" y="388.80" width="3.30" height="1.50" fill="#a08028"/><rect x="29.00" y="390.30" width="3.30" height="1.50" fill="#8a9a28"/><rect x="29.00" y="391.80" width="3.30" height="3.00" fill="#5cb020"/></g><g filter="url(#ab)"><rect x="32.3" y="15.2" width="3.70" height="379.60" fill="#505050"/><rect x="34.03" y="15.50" width="1.26" height="0.7" fill="#8a8a8a"/><rect x="35.29" y="15.50" width="0.71" height="0.7" fill="#9a9a9a"/><rect x="32.30" y="16.95" width="1.42" height="0.7" fill="#8a8a8a"/><rect x="32.30" y="18.40" width="0.83" height="0.7" fill="#7a7a7a"/><rect x="34.29" y="18.40" width="1.46" height="0.7" fill="#8a8a8a"/><rect x="32.30" y="19.85" width="1.49" height="0.7" fill="#aaaaaa"/><rect x="33.79" y="19.85" width="1.30" height="0.7" fill="#7a7a7a"/><rect x="32.30" y="21.30" width="0.59" height="0.7" fill="#8a8a8a"/><rect x="32.89" y="21.30" width="0.75" height="0.7" fill="#8a8a8a"/><rect x="33.65" y="21.30" width="0.52" height="0.7" fill="#7a7a7a"/><rect x="34.17" y="21.30" width="1.57" height="0.7" fill="#9a9a9a"/><rect x="32.30" y="22.75" width="0.58" height="0.7" fill="#9a9a9a"/><rect x="32.88" y="22.75" width="0.96" height="0.7" fill="#9a9a9a"/><rect x="34.71" y="22.75" width="0.79" height="0.7" fill="#7a7a7a"/><rect x="35.50" y="22.75" width="0.50" height="0.7" fill="#9a9a9a"/><rect x="32.94" y="24.20" width="0.86" height="0.7" fill="#8a8a8a"/><rect x="34.51" y="24.20" width="1.12" height="0.7" fill="#8a8a8a"/><rect x="35.63" y="24.20" width="0.37" height="0.7" fill="#9a9a9a"/><rect x="32.30" y="25.65" width="1.29" height="0.7" fill="#7a7a7a"/><rect x="33.59" y="25.65" width="1.38" height="0.7" fill="#bcbcbc"/><rect x="35.64" y="25.65" width="0.36" height="0.7" fill="#8a8a8a"/><rect x="33.48" y="27.10" width="1.02" height="0.7" fill="#7a7a7a"/><rect x="34.50" y="27.10" width="0.71" height="0.7" fill="#7a7a7a"/><rect x="35.22" y="27.10" width="0.78" height="0.7" fill="#9a9a9a"/><rect x="32.30" y="28.55" width="1.05" height="0.7" fill="#9a9a9a"/><rect x="33.35" y="28.55" width="1.30" height="0.7" fill="#7a7a7a"/><rect x="34.65" y="28.55" width="0.74" height="0.7" fill="#aaaaaa"/><rect x="32.30" y="30.00" width="0.73" height="0.7" fill="#9a9a9a"/><rect x="33.03" y="30.00" width="0.64" height="0.7" fill="#aaaaaa"/><rect x="32.30" y="31.45" width="1.37" height="0.7" fill="#9a9a9a"/><rect x="33.67" y="31.45" width="1.08" height="0.7" fill="#bcbcbc"/><rect x="34.75" y="31.45" width="0.85" height="0.7" fill="#9a9a9a"/><rect x="35.60" y="31.45" width="0.40" height="0.7" fill="#8a8a8a"/><rect x="32.30" y="32.90" width="1.01" height="0.7" fill="#7a7a7a"/><rect x="34.67" y="32.90" width="1.33" height="0.7" fill="#aaaaaa"/><rect x="33.38" y="34.35" width="0.62" height="0.7" fill="#aaaaaa"/><rect x="34.00" y="34.35" width="0.98" height="0.7" fill="#bcbcbc"/><rect x="34.98" y="34.35" width="0.74" height="0.7" fill="#aaaaaa"/><rect x="32.30" y="35.80" width="1.53" height="0.7" fill="#9a9a9a"/><rect x="34.92" y="35.80" width="1.08" height="0.7" fill="#7a7a7a"/><rect x="32.30" y="37.25" width="0.62" height="0.7" fill="#9a9a9a"/><rect x="33.56" y="37.25" width="1.54" height="0.7" fill="#7a7a7a"/><rect x="35.10" y="37.25" width="0.90" height="0.7" fill="#9a9a9a"/><rect x="33.52" y="38.70" width="1.23" height="0.7" fill="#bcbcbc"/><rect x="34.75" y="38.70" width="0.59" height="0.7" fill="#7a7a7a"/><rect x="32.84" y="40.15" width="1.24" height="0.7" fill="#7a7a7a"/><rect x="34.92" y="40.15" width="1.08" height="0.7" fill="#8a8a8a"/><rect x="32.99" y="41.60" width="0.97" height="0.7" fill="#7a7a7a"/><rect x="33.96" y="41.60" width="1.48" height="0.7" fill="#bcbcbc"/><rect x="35.44" y="41.60" width="0.56" height="0.7" fill="#aaaaaa"/><rect x="33.32" y="43.05" width="1.16" height="0.7" fill="#aaaaaa"/><rect x="34.48" y="43.05" width="0.93" height="0.7" fill="#8a8a8a"/><rect x="34.40" y="44.50" width="0.53" height="0.7" fill="#8a8a8a"/><rect x="34.93" y="44.50" width="1.07" height="0.7" fill="#9a9a9a"/><rect x="32.99" y="45.95" width="0.88" height="0.7" fill="#aaaaaa"/><rect x="33.87" y="45.95" width="0.56" height="0.7" fill="#8a8a8a"/><rect x="34.43" y="45.95" width="1.13" height="0.7" fill="#9a9a9a"/><rect x="32.30" y="47.40" width="1.55" height="0.7" fill="#9a9a9a"/><rect x="33.85" y="47.40" width="1.40" height="0.7" fill="#9a9a9a"/><rect x="35.25" y="47.40" width="0.75" height="0.7" fill="#aaaaaa"/><rect x="32.30" y="48.85" width="0.92" height="0.7" fill="#8a8a8a"/><rect x="33.22" y="48.85" width="0.51" height="0.7" fill="#bcbcbc"/><rect x="33.73" y="48.85" width="1.33" height="0.7" fill="#7a7a7a"/><rect x="33.63" y="50.30" width="0.78" height="0.7" fill="#aaaaaa"/><rect x="34.41" y="50.30" width="0.98" height="0.7" fill="#8a8a8a"/><rect x="35.39" y="50.30" width="0.61" height="0.7" fill="#7a7a7a"/><rect x="35.27" y="51.75" width="0.73" height="0.7" fill="#7a7a7a"/><rect x="35.25" y="53.20" width="0.75" height="0.7" fill="#8a8a8a"/><rect x="32.30" y="54.65" width="1.30" height="0.7" fill="#7a7a7a"/><rect x="33.60" y="54.65" width="0.61" height="0.7" fill="#7a7a7a"/><rect x="34.21" y="54.65" width="1.49" height="0.7" fill="#9a9a9a"/><rect x="32.30" y="56.10" width="0.58" height="0.7" fill="#7a7a7a"/><rect x="32.88" y="56.10" width="0.72" height="0.7" fill="#aaaaaa"/><rect x="33.60" y="56.10" width="0.84" height="0.7" fill="#aaaaaa"/><rect x="34.44" y="56.10" width="0.84" height="0.7" fill="#bcbcbc"/><rect x="32.30" y="57.55" width="1.31" height="0.7" fill="#9a9a9a"/><rect x="33.61" y="57.55" width="1.13" height="0.7" fill="#bcbcbc"/><rect x="32.30" y="59.00" width="0.58" height="0.7" fill="#7a7a7a"/><rect x="32.88" y="59.00" width="1.47" height="0.7" fill="#8a8a8a"/><rect x="34.34" y="59.00" width="0.73" height="0.7" fill="#7a7a7a"/><rect x="35.07" y="59.00" width="0.93" height="0.7" fill="#aaaaaa"/><rect x="32.30" y="60.45" width="1.15" height="0.7" fill="#8a8a8a"/><rect x="33.45" y="60.45" width="0.97" height="0.7" fill="#bcbcbc"/><rect x="34.42" y="60.45" width="0.82" height="0.7" fill="#9a9a9a"/><rect x="32.30" y="61.90" width="1.16" height="0.7" fill="#9a9a9a"/><rect x="34.94" y="61.90" width="0.98" height="0.7" fill="#7a7a7a"/><rect x="32.30" y="63.35" width="1.52" height="0.7" fill="#9a9a9a"/><rect x="33.82" y="63.35" width="1.59" height="0.7" fill="#8a8a8a"/><rect x="32.81" y="64.80" width="1.17" height="0.7" fill="#bcbcbc"/><rect x="33.98" y="64.80" width="1.49" height="0.7" fill="#7a7a7a"/><rect x="35.47" y="64.80" width="0.53" height="0.7" fill="#7a7a7a"/><rect x="32.30" y="66.25" width="1.46" height="0.7" fill="#7a7a7a"/><rect x="33.76" y="66.25" width="0.73" height="0.7" fill="#bcbcbc"/><rect x="32.30" y="67.70" width="1.28" height="0.7" fill="#aaaaaa"/><rect x="33.58" y="67.70" width="1.53" height="0.7" fill="#8a8a8a"/><rect x="35.11" y="67.70" width="0.67" height="0.7" fill="#7a7a7a"/><rect x="32.30" y="69.15" width="0.97" height="0.7" fill="#9a9a9a"/><rect x="33.27" y="69.15" width="1.16" height="0.7" fill="#8a8a8a"/><rect x="34.43" y="69.15" width="1.06" height="0.7" fill="#7a7a7a"/><rect x="32.30" y="70.60" width="1.49" height="0.7" fill="#8a8a8a"/><rect x="33.79" y="70.60" width="1.09" height="0.7" fill="#8a8a8a"/><rect x="34.89" y="70.60" width="0.76" height="0.7" fill="#8a8a8a"/><rect x="32.30" y="72.05" width="0.62" height="0.7" fill="#bcbcbc"/><rect x="32.92" y="72.05" width="1.28" height="0.7" fill="#aaaaaa"/><rect x="34.20" y="72.05" width="1.52" height="0.7" fill="#7a7a7a"/><rect x="32.30" y="73.50" width="0.99" height="0.7" fill="#7a7a7a"/><rect x="33.29" y="73.50" width="1.49" height="0.7" fill="#aaaaaa"/><rect x="34.77" y="73.50" width="0.66" height="0.7" fill="#8a8a8a"/><rect x="35.43" y="73.50" width="0.57" height="0.7" fill="#8a8a8a"/><rect x="32.30" y="74.95" width="1.60" height="0.7" fill="#aaaaaa"/><rect x="33.90" y="74.95" width="0.89" height="0.7" fill="#9a9a9a"/><rect x="34.79" y="74.95" width="0.68" height="0.7" fill="#7a7a7a"/><rect x="35.47" y="74.95" width="0.53" height="0.7" fill="#7a7a7a"/><rect x="32.30" y="76.40" width="1.06" height="0.7" fill="#aaaaaa"/><rect x="34.78" y="76.40" width="1.15" height="0.7" fill="#9a9a9a"/><rect x="32.30" y="77.85" width="1.02" height="0.7" fill="#bcbcbc"/><rect x="33.32" y="77.85" width="1.06" height="0.7" fill="#8a8a8a"/><rect x="34.96" y="77.85" width="1.04" height="0.7" fill="#9a9a9a"/><rect x="32.30" y="79.30" width="1.31" height="0.7" fill="#aaaaaa"/><rect x="33.61" y="79.30" width="1.21" height="0.7" fill="#bcbcbc"/><rect x="34.82" y="79.30" width="1.10" height="0.7" fill="#aaaaaa"/><rect x="32.30" y="80.75" width="0.89" height="0.7" fill="#aaaaaa"/><rect x="33.19" y="80.75" width="1.55" height="0.7" fill="#8a8a8a"/><rect x="34.74" y="80.75" width="1.11" height="0.7" fill="#7a7a7a"/><rect x="32.30" y="82.20" width="1.54" height="0.7" fill="#9a9a9a"/><rect x="33.84" y="82.20" width="1.25" height="0.7" fill="#9a9a9a"/><rect x="35.09" y="82.20" width="0.91" height="0.7" fill="#9a9a9a"/><rect x="32.30" y="83.65" width="1.38" height="0.7" fill="#bcbcbc"/><rect x="33.68" y="83.65" width="0.94" height="0.7" fill="#7a7a7a"/><rect x="35.27" y="83.65" width="0.73" height="0.7" fill="#aaaaaa"/><rect x="32.30" y="85.10" width="0.98" height="0.7" fill="#bcbcbc"/><rect x="33.28" y="85.10" width="1.48" height="0.7" fill="#bcbcbc"/><rect x="34.77" y="85.10" width="1.23" height="0.7" fill="#aaaaaa"/><rect x="32.30" y="86.55" width="0.63" height="0.7" fill="#bcbcbc"/><rect x="34.10" y="86.55" width="0.79" height="0.7" fill="#aaaaaa"/><rect x="35.46" y="86.55" width="0.54" height="0.7" fill="#9a9a9a"/><rect x="32.30" y="88.00" width="0.82" height="0.7" fill="#aaaaaa"/><rect x="33.12" y="88.00" width="0.52" height="0.7" fill="#7a7a7a"/><rect x="33.64" y="88.00" width="1.31" height="0.7" fill="#9a9a9a"/><rect x="34.95" y="88.00" width="0.75" height="0.7" fill="#9a9a9a"/><rect x="32.93" y="89.45" width="1.50" height="0.7" fill="#8a8a8a"/><rect x="32.30" y="90.90" width="0.98" height="0.7" fill="#aaaaaa"/><rect x="33.28" y="90.90" width="1.44" height="0.7" fill="#7a7a7a"/><rect x="32.30" y="92.35" width="0.70" height="0.7" fill="#9a9a9a"/><rect x="33.00" y="92.35" width="0.54" height="0.7" fill="#7a7a7a"/><rect x="33.54" y="92.35" width="0.54" height="0.7" fill="#8a8a8a"/><rect x="34.08" y="92.35" width="0.62" height="0.7" fill="#8a8a8a"/><rect x="34.71" y="92.35" width="0.72" height="0.7" fill="#8a8a8a"/><rect x="32.30" y="93.80" width="0.98" height="0.7" fill="#9a9a9a"/><rect x="33.28" y="93.80" width="0.99" height="0.7" fill="#7a7a7a"/><rect x="32.30" y="95.25" width="0.69" height="0.7" fill="#8a8a8a"/><rect x="32.99" y="95.25" width="1.37" height="0.7" fill="#7a7a7a"/><rect x="34.37" y="95.25" width="0.99" height="0.7" fill="#7a7a7a"/><rect x="35.36" y="95.25" width="0.64" height="0.7" fill="#bcbcbc"/><rect x="32.30" y="96.70" width="0.52" height="0.7" fill="#7a7a7a"/><rect x="32.82" y="96.70" width="1.16" height="0.7" fill="#aaaaaa"/><rect x="33.98" y="96.70" width="1.06" height="0.7" fill="#7a7a7a"/><rect x="35.04" y="96.70" width="0.96" height="0.7" fill="#8a8a8a"/><rect x="32.30" y="98.15" width="1.05" height="0.7" fill="#8a8a8a"/><rect x="33.35" y="98.15" width="1.26" height="0.7" fill="#bcbcbc"/><rect x="33.20" y="99.60" width="0.71" height="0.7" fill="#aaaaaa"/><rect x="33.91" y="99.60" width="0.87" height="0.7" fill="#bcbcbc"/><rect x="34.77" y="99.60" width="1.23" height="0.7" fill="#9a9a9a"/><rect x="32.30" y="101.05" width="1.48" height="0.7" fill="#8a8a8a"/><rect x="32.30" y="102.50" width="1.26" height="0.7" fill="#bcbcbc"/><rect x="33.56" y="102.50" width="0.79" height="0.7" fill="#8a8a8a"/><rect x="34.35" y="102.50" width="1.13" height="0.7" fill="#9a9a9a"/><rect x="33.34" y="103.95" width="0.55" height="0.7" fill="#7a7a7a"/><rect x="35.02" y="103.95" width="0.98" height="0.7" fill="#7a7a7a"/><rect x="32.90" y="105.40" width="0.61" height="0.7" fill="#7a7a7a"/><rect x="33.51" y="105.40" width="1.17" height="0.7" fill="#9a9a9a"/><rect x="34.68" y="105.40" width="0.59" height="0.7" fill="#9a9a9a"/><rect x="35.27" y="105.40" width="0.61" height="0.7" fill="#9a9a9a"/><rect x="32.30" y="106.85" width="0.74" height="0.7" fill="#9a9a9a"/><rect x="33.04" y="106.85" width="1.36" height="0.7" fill="#bcbcbc"/><rect x="32.30" y="108.30" width="0.97" height="0.7" fill="#9a9a9a"/><rect x="35.21" y="108.30" width="0.79" height="0.7" fill="#8a8a8a"/><rect x="32.30" y="109.75" width="1.39" height="0.7" fill="#bcbcbc"/><rect x="33.69" y="109.75" width="1.59" height="0.7" fill="#8a8a8a"/><rect x="32.30" y="111.20" width="1.44" height="0.7" fill="#bcbcbc"/><rect x="33.74" y="111.20" width="0.54" height="0.7" fill="#7a7a7a"/><rect x="34.87" y="111.20" width="1.13" height="0.7" fill="#bcbcbc"/><rect x="33.32" y="112.65" width="1.30" height="0.7" fill="#bcbcbc"/><rect x="34.62" y="112.65" width="0.70" height="0.7" fill="#7a7a7a"/><rect x="32.30" y="114.10" width="0.79" height="0.7" fill="#8a8a8a"/><rect x="32.30" y="115.55" width="1.35" height="0.7" fill="#bcbcbc"/><rect x="34.84" y="115.55" width="0.73" height="0.7" fill="#aaaaaa"/><rect x="35.57" y="115.55" width="0.43" height="0.7" fill="#aaaaaa"/><rect x="32.30" y="117.00" width="0.76" height="0.7" fill="#bcbcbc"/><rect x="34.61" y="117.00" width="0.68" height="0.7" fill="#bcbcbc"/><rect x="34.82" y="118.45" width="1.12" height="0.7" fill="#aaaaaa"/><rect x="32.30" y="119.90" width="1.34" height="0.7" fill="#8a8a8a"/><rect x="33.64" y="119.90" width="0.88" height="0.7" fill="#aaaaaa"/><rect x="32.30" y="121.35" width="0.65" height="0.7" fill="#9a9a9a"/><rect x="32.95" y="121.35" width="0.92" height="0.7" fill="#9a9a9a"/><rect x="33.88" y="121.35" width="1.35" height="0.7" fill="#aaaaaa"/><rect x="35.23" y="121.35" width="0.64" height="0.7" fill="#9a9a9a"/><rect x="33.42" y="122.80" width="1.25" height="0.7" fill="#8a8a8a"/><rect x="32.30" y="124.25" width="1.24" height="0.7" fill="#bcbcbc"/><rect x="33.54" y="124.25" width="0.71" height="0.7" fill="#8a8a8a"/><rect x="34.25" y="124.25" width="1.28" height="0.7" fill="#aaaaaa"/><rect x="35.53" y="124.25" width="0.47" height="0.7" fill="#8a8a8a"/><rect x="32.30" y="125.70" width="1.07" height="0.7" fill="#8a8a8a"/><rect x="33.37" y="125.70" width="1.24" height="0.7" fill="#7a7a7a"/><rect x="34.60" y="125.70" width="1.40" height="0.7" fill="#7a7a7a"/><rect x="33.09" y="127.15" width="0.60" height="0.7" fill="#bcbcbc"/><rect x="33.69" y="127.15" width="1.26" height="0.7" fill="#9a9a9a"/><rect x="34.95" y="127.15" width="1.05" height="0.7" fill="#8a8a8a"/><rect x="32.30" y="128.60" width="0.51" height="0.7" fill="#8a8a8a"/><rect x="32.81" y="128.60" width="1.50" height="0.7" fill="#8a8a8a"/><rect x="34.31" y="128.60" width="1.53" height="0.7" fill="#bcbcbc"/><rect x="32.30" y="130.05" width="1.55" height="0.7" fill="#aaaaaa"/><rect x="33.85" y="130.05" width="0.95" height="0.7" fill="#7a7a7a"/><rect x="34.80" y="130.05" width="1.16" height="0.7" fill="#aaaaaa"/><rect x="32.92" y="131.50" width="0.80" height="0.7" fill="#9a9a9a"/><rect x="33.72" y="131.50" width="1.46" height="0.7" fill="#7a7a7a"/><rect x="32.30" y="132.95" width="1.19" height="0.7" fill="#8a8a8a"/><rect x="33.49" y="132.95" width="0.91" height="0.7" fill="#8a8a8a"/><rect x="35.29" y="132.95" width="0.71" height="0.7" fill="#8a8a8a"/><rect x="32.30" y="134.40" width="0.67" height="0.7" fill="#7a7a7a"/><rect x="32.97" y="134.40" width="0.68" height="0.7" fill="#bcbcbc"/><rect x="33.64" y="134.40" width="0.61" height="0.7" fill="#aaaaaa"/><rect x="34.25" y="134.40" width="1.10" height="0.7" fill="#7a7a7a"/><rect x="35.35" y="134.40" width="0.65" height="0.7" fill="#7a7a7a"/><rect x="33.07" y="135.85" width="0.77" height="0.7" fill="#aaaaaa"/><rect x="33.83" y="135.85" width="1.15" height="0.7" fill="#aaaaaa"/><rect x="34.98" y="135.85" width="1.02" height="0.7" fill="#7a7a7a"/><rect x="32.30" y="137.30" width="1.00" height="0.7" fill="#7a7a7a"/><rect x="33.30" y="137.30" width="1.16" height="0.7" fill="#7a7a7a"/><rect x="35.25" y="137.30" width="0.75" height="0.7" fill="#7a7a7a"/><rect x="32.30" y="138.75" width="0.97" height="0.7" fill="#bcbcbc"/><rect x="33.27" y="138.75" width="1.36" height="0.7" fill="#8a8a8a"/><rect x="34.62" y="138.75" width="0.69" height="0.7" fill="#7a7a7a"/><rect x="35.31" y="138.75" width="0.69" height="0.7" fill="#8a8a8a"/><rect x="32.30" y="140.20" width="1.15" height="0.7" fill="#8a8a8a"/><rect x="34.85" y="140.20" width="0.81" height="0.7" fill="#7a7a7a"/><rect x="32.30" y="141.65" width="1.29" height="0.7" fill="#8a8a8a"/><rect x="33.59" y="141.65" width="0.75" height="0.7" fill="#9a9a9a"/><rect x="34.34" y="141.65" width="1.23" height="0.7" fill="#aaaaaa"/><rect x="35.57" y="141.65" width="0.43" height="0.7" fill="#aaaaaa"/><rect x="32.30" y="143.10" width="0.61" height="0.7" fill="#bcbcbc"/><rect x="34.17" y="143.10" width="0.87" height="0.7" fill="#9a9a9a"/><rect x="35.04" y="143.10" width="0.74" height="0.7" fill="#aaaaaa"/><rect x="32.30" y="144.55" width="0.58" height="0.7" fill="#7a7a7a"/><rect x="33.97" y="144.55" width="1.51" height="0.7" fill="#bcbcbc"/><rect x="35.49" y="144.55" width="0.51" height="0.7" fill="#7a7a7a"/><rect x="32.30" y="146.00" width="1.24" height="0.7" fill="#aaaaaa"/><rect x="34.36" y="146.00" width="1.40" height="0.7" fill="#8a8a8a"/><rect x="32.30" y="147.45" width="0.57" height="0.7" fill="#7a7a7a"/><rect x="32.87" y="147.45" width="1.27" height="0.7" fill="#7a7a7a"/><rect x="32.30" y="148.90" width="0.76" height="0.7" fill="#9a9a9a"/><rect x="33.06" y="148.90" width="0.88" height="0.7" fill="#9a9a9a"/><rect x="34.89" y="148.90" width="0.68" height="0.7" fill="#8a8a8a"/><rect x="35.57" y="148.90" width="0.43" height="0.7" fill="#aaaaaa"/><rect x="32.30" y="150.35" width="1.45" height="0.7" fill="#8a8a8a"/><rect x="33.75" y="150.35" width="1.22" height="0.7" fill="#7a7a7a"/><rect x="34.98" y="150.35" width="0.63" height="0.7" fill="#8a8a8a"/><rect x="35.60" y="150.35" width="0.40" height="0.7" fill="#9a9a9a"/><rect x="32.30" y="151.80" width="0.59" height="0.7" fill="#bcbcbc"/><rect x="33.51" y="153.25" width="1.12" height="0.7" fill="#bcbcbc"/><rect x="35.36" y="153.25" width="0.64" height="0.7" fill="#bcbcbc"/><rect x="32.30" y="154.70" width="1.15" height="0.7" fill="#9a9a9a"/><rect x="33.45" y="154.70" width="1.23" height="0.7" fill="#7a7a7a"/><rect x="34.67" y="154.70" width="0.96" height="0.7" fill="#8a8a8a"/><rect x="35.63" y="154.70" width="0.37" height="0.7" fill="#7a7a7a"/><rect x="33.65" y="156.15" width="1.36" height="0.7" fill="#8a8a8a"/><rect x="32.30" y="157.60" width="1.10" height="0.7" fill="#9a9a9a"/><rect x="34.34" y="157.60" width="1.40" height="0.7" fill="#8a8a8a"/><rect x="33.60" y="159.05" width="1.28" height="0.7" fill="#7a7a7a"/><rect x="32.30" y="160.50" width="0.73" height="0.7" fill="#aaaaaa"/><rect x="33.03" y="160.50" width="1.22" height="0.7" fill="#9a9a9a"/><rect x="34.25" y="160.50" width="1.26" height="0.7" fill="#7a7a7a"/><rect x="35.51" y="160.50" width="0.49" height="0.7" fill="#aaaaaa"/><rect x="32.30" y="161.95" width="1.56" height="0.7" fill="#9a9a9a"/><rect x="33.86" y="161.95" width="1.38" height="0.7" fill="#9a9a9a"/><rect x="32.30" y="163.40" width="1.31" height="0.7" fill="#7a7a7a"/><rect x="33.61" y="163.40" width="0.91" height="0.7" fill="#aaaaaa"/><rect x="34.52" y="163.40" width="0.55" height="0.7" fill="#9a9a9a"/><rect x="32.30" y="164.85" width="0.98" height="0.7" fill="#9a9a9a"/><rect x="33.28" y="164.85" width="0.67" height="0.7" fill="#8a8a8a"/><rect x="33.95" y="164.85" width="0.89" height="0.7" fill="#8a8a8a"/><rect x="32.30" y="166.30" width="1.48" height="0.7" fill="#8a8a8a"/><rect x="34.45" y="166.30" width="1.06" height="0.7" fill="#9a9a9a"/><rect x="35.51" y="166.30" width="0.49" height="0.7" fill="#bcbcbc"/><rect x="33.89" y="167.75" width="0.93" height="0.7" fill="#7a7a7a"/><rect x="34.82" y="167.75" width="1.18" height="0.7" fill="#9a9a9a"/><rect x="32.30" y="169.20" width="0.87" height="0.7" fill="#bcbcbc"/><rect x="33.17" y="169.20" width="1.29" height="0.7" fill="#bcbcbc"/><rect x="34.45" y="169.20" width="1.24" height="0.7" fill="#9a9a9a"/><rect x="32.30" y="170.65" width="1.43" height="0.7" fill="#aaaaaa"/><rect x="33.73" y="170.65" width="1.14" height="0.7" fill="#9a9a9a"/><rect x="34.88" y="170.65" width="0.63" height="0.7" fill="#bcbcbc"/><rect x="35.51" y="170.65" width="0.49" height="0.7" fill="#bcbcbc"/><rect x="32.30" y="172.10" width="1.01" height="0.7" fill="#aaaaaa"/><rect x="33.31" y="172.10" width="0.84" height="0.7" fill="#9a9a9a"/><rect x="34.15" y="172.10" width="0.52" height="0.7" fill="#9a9a9a"/><rect x="34.67" y="172.10" width="1.33" height="0.7" fill="#aaaaaa"/><rect x="32.30" y="173.55" width="0.77" height="0.7" fill="#aaaaaa"/><rect x="33.07" y="173.55" width="1.20" height="0.7" fill="#bcbcbc"/><rect x="34.26" y="173.55" width="1.39" height="0.7" fill="#aaaaaa"/><rect x="35.66" y="173.55" width="0.34" height="0.7" fill="#aaaaaa"/><rect x="32.30" y="175.00" width="1.01" height="0.7" fill="#8a8a8a"/><rect x="34.66" y="175.00" width="1.10" height="0.7" fill="#7a7a7a"/><rect x="35.20" y="176.45" width="0.80" height="0.7" fill="#8a8a8a"/><rect x="32.30" y="177.90" width="1.26" height="0.7" fill="#7a7a7a"/><rect x="33.56" y="177.90" width="0.70" height="0.7" fill="#aaaaaa"/><rect x="34.26" y="177.90" width="1.06" height="0.7" fill="#9a9a9a"/><rect x="32.30" y="179.35" width="0.69" height="0.7" fill="#aaaaaa"/><rect x="32.99" y="179.35" width="0.63" height="0.7" fill="#bcbcbc"/><rect x="34.34" y="179.35" width="0.89" height="0.7" fill="#bcbcbc"/><rect x="35.24" y="179.35" width="0.76" height="0.7" fill="#7a7a7a"/><rect x="33.48" y="180.80" width="1.43" height="0.7" fill="#bcbcbc"/><rect x="34.91" y="180.80" width="1.09" height="0.7" fill="#7a7a7a"/><rect x="32.30" y="182.25" width="0.87" height="0.7" fill="#9a9a9a"/><rect x="33.17" y="182.25" width="0.74" height="0.7" fill="#8a8a8a"/><rect x="33.92" y="182.25" width="1.23" height="0.7" fill="#aaaaaa"/><rect x="35.15" y="182.25" width="0.78" height="0.7" fill="#aaaaaa"/><rect x="32.98" y="183.70" width="1.40" height="0.7" fill="#aaaaaa"/><rect x="35.12" y="183.70" width="0.88" height="0.7" fill="#aaaaaa"/><rect x="33.40" y="185.15" width="1.10" height="0.7" fill="#8a8a8a"/><rect x="34.50" y="185.15" width="1.26" height="0.7" fill="#bcbcbc"/><rect x="32.30" y="186.60" width="0.65" height="0.7" fill="#8a8a8a"/><rect x="34.17" y="186.60" width="0.82" height="0.7" fill="#aaaaaa"/><rect x="34.99" y="186.60" width="1.01" height="0.7" fill="#9a9a9a"/><rect x="32.30" y="188.05" width="0.84" height="0.7" fill="#bcbcbc"/><rect x="33.54" y="189.50" width="0.85" height="0.7" fill="#9a9a9a"/><rect x="34.39" y="189.50" width="1.04" height="0.7" fill="#8a8a8a"/><rect x="35.43" y="189.50" width="0.57" height="0.7" fill="#7a7a7a"/><rect x="32.30" y="190.95" width="0.59" height="0.7" fill="#bcbcbc"/><rect x="34.42" y="190.95" width="1.30" height="0.7" fill="#7a7a7a"/><rect x="32.99" y="192.40" width="1.07" height="0.7" fill="#8a8a8a"/><rect x="35.05" y="192.40" width="0.95" height="0.7" fill="#8a8a8a"/><rect x="33.02" y="193.85" width="0.87" height="0.7" fill="#9a9a9a"/><rect x="32.30" y="195.30" width="1.24" height="0.7" fill="#7a7a7a"/><rect x="34.50" y="196.75" width="0.75" height="0.7" fill="#bcbcbc"/><rect x="35.25" y="196.75" width="0.75" height="0.7" fill="#8a8a8a"/><rect x="32.30" y="198.20" width="0.92" height="0.7" fill="#aaaaaa"/><rect x="33.22" y="198.20" width="1.36" height="0.7" fill="#8a8a8a"/><rect x="34.58" y="198.20" width="1.42" height="0.7" fill="#9a9a9a"/><rect x="33.62" y="199.65" width="0.77" height="0.7" fill="#aaaaaa"/><rect x="34.39" y="199.65" width="0.55" height="0.7" fill="#aaaaaa"/><rect x="34.94" y="199.65" width="1.06" height="0.7" fill="#bcbcbc"/><rect x="32.30" y="201.10" width="0.88" height="0.7" fill="#bcbcbc"/><rect x="34.51" y="201.10" width="1.46" height="0.7" fill="#8a8a8a"/><rect x="32.30" y="202.55" width="0.68" height="0.7" fill="#aaaaaa"/><rect x="33.65" y="202.55" width="0.97" height="0.7" fill="#bcbcbc"/><rect x="35.35" y="202.55" width="0.65" height="0.7" fill="#bcbcbc"/><rect x="32.30" y="204.00" width="1.39" height="0.7" fill="#9a9a9a"/><rect x="33.69" y="204.00" width="0.88" height="0.7" fill="#9a9a9a"/><rect x="34.58" y="204.00" width="0.91" height="0.7" fill="#8a8a8a"/><rect x="32.30" y="205.45" width="1.46" height="0.7" fill="#8a8a8a"/><rect x="33.76" y="205.45" width="1.11" height="0.7" fill="#8a8a8a"/><rect x="34.87" y="205.45" width="1.13" height="0.7" fill="#7a7a7a"/><rect x="32.30" y="206.90" width="1.37" height="0.7" fill="#aaaaaa"/><rect x="33.67" y="206.90" width="0.98" height="0.7" fill="#aaaaaa"/><rect x="34.65" y="206.90" width="0.71" height="0.7" fill="#aaaaaa"/><rect x="32.30" y="208.35" width="0.85" height="0.7" fill="#aaaaaa"/><rect x="33.15" y="208.35" width="0.93" height="0.7" fill="#8a8a8a"/><rect x="35.37" y="208.35" width="0.63" height="0.7" fill="#8a8a8a"/><rect x="32.30" y="209.80" width="0.98" height="0.7" fill="#7a7a7a"/><rect x="33.80" y="209.80" width="0.72" height="0.7" fill="#bcbcbc"/><rect x="34.52" y="209.80" width="0.61" height="0.7" fill="#9a9a9a"/><rect x="35.13" y="209.80" width="0.87" height="0.7" fill="#bcbcbc"/><rect x="32.30" y="211.25" width="0.69" height="0.7" fill="#7a7a7a"/><rect x="32.99" y="211.25" width="1.03" height="0.7" fill="#8a8a8a"/><rect x="34.02" y="211.25" width="1.26" height="0.7" fill="#bcbcbc"/><rect x="32.30" y="212.70" width="0.57" height="0.7" fill="#7a7a7a"/><rect x="32.87" y="212.70" width="0.72" height="0.7" fill="#9a9a9a"/><rect x="33.58" y="212.70" width="0.78" height="0.7" fill="#aaaaaa"/><rect x="34.36" y="212.70" width="0.70" height="0.7" fill="#aaaaaa"/><rect x="35.06" y="212.70" width="0.75" height="0.7" fill="#aaaaaa"/><rect x="32.30" y="214.15" width="0.63" height="0.7" fill="#7a7a7a"/><rect x="33.55" y="214.15" width="1.00" height="0.7" fill="#7a7a7a"/><rect x="34.55" y="214.15" width="1.45" height="0.7" fill="#7a7a7a"/><rect x="32.30" y="215.60" width="0.84" height="0.7" fill="#bcbcbc"/><rect x="33.14" y="215.60" width="0.93" height="0.7" fill="#7a7a7a"/><rect x="35.26" y="215.60" width="0.74" height="0.7" fill="#bcbcbc"/><rect x="33.65" y="217.05" width="1.02" height="0.7" fill="#aaaaaa"/><rect x="32.30" y="218.50" width="0.73" height="0.7" fill="#8a8a8a"/><rect x="33.03" y="218.50" width="1.01" height="0.7" fill="#8a8a8a"/><rect x="34.04" y="218.50" width="1.59" height="0.7" fill="#7a7a7a"/><rect x="35.63" y="218.50" width="0.37" height="0.7" fill="#aaaaaa"/><rect x="32.30" y="219.95" width="1.58" height="0.7" fill="#aaaaaa"/><rect x="35.07" y="219.95" width="0.93" height="0.7" fill="#9a9a9a"/><rect x="32.30" y="221.40" width="0.98" height="0.7" fill="#8a8a8a"/><rect x="33.28" y="221.40" width="0.66" height="0.7" fill="#7a7a7a"/><rect x="33.93" y="221.40" width="1.22" height="0.7" fill="#aaaaaa"/><rect x="35.16" y="221.40" width="0.84" height="0.7" fill="#8a8a8a"/><rect x="32.30" y="222.85" width="0.87" height="0.7" fill="#7a7a7a"/><rect x="33.99" y="222.85" width="0.84" height="0.7" fill="#8a8a8a"/><rect x="32.83" y="224.30" width="0.91" height="0.7" fill="#aaaaaa"/><rect x="34.93" y="224.30" width="1.07" height="0.7" fill="#aaaaaa"/><rect x="33.13" y="225.75" width="0.92" height="0.7" fill="#8a8a8a"/><rect x="34.05" y="225.75" width="0.92" height="0.7" fill="#aaaaaa"/><rect x="33.23" y="227.20" width="0.81" height="0.7" fill="#7a7a7a"/><rect x="34.04" y="227.20" width="1.22" height="0.7" fill="#8a8a8a"/><rect x="35.26" y="227.20" width="0.67" height="0.7" fill="#bcbcbc"/><rect x="32.30" y="228.65" width="0.80" height="0.7" fill="#bcbcbc"/><rect x="33.10" y="228.65" width="0.69" height="0.7" fill="#9a9a9a"/><rect x="33.79" y="228.65" width="1.49" height="0.7" fill="#bcbcbc"/><rect x="35.28" y="228.65" width="0.52" height="0.7" fill="#bcbcbc"/><rect x="33.29" y="230.10" width="0.83" height="0.7" fill="#7a7a7a"/><rect x="34.73" y="230.10" width="0.95" height="0.7" fill="#7a7a7a"/><rect x="35.68" y="230.10" width="0.32" height="0.7" fill="#aaaaaa"/><rect x="32.30" y="231.55" width="0.60" height="0.7" fill="#bcbcbc"/><rect x="32.90" y="231.55" width="0.74" height="0.7" fill="#7a7a7a"/><rect x="33.64" y="231.55" width="1.11" height="0.7" fill="#7a7a7a"/><rect x="35.40" y="231.55" width="0.60" height="0.7" fill="#8a8a8a"/><rect x="34.26" y="233.00" width="1.10" height="0.7" fill="#9a9a9a"/><rect x="32.30" y="234.45" width="0.61" height="0.7" fill="#8a8a8a"/><rect x="34.06" y="234.45" width="0.81" height="0.7" fill="#8a8a8a"/><rect x="34.86" y="234.45" width="1.13" height="0.7" fill="#aaaaaa"/><rect x="32.30" y="235.90" width="1.14" height="0.7" fill="#9a9a9a"/><rect x="33.44" y="235.90" width="1.20" height="0.7" fill="#7a7a7a"/><rect x="34.65" y="235.90" width="1.35" height="0.7" fill="#8a8a8a"/><rect x="32.30" y="237.35" width="0.91" height="0.7" fill="#bcbcbc"/><rect x="33.21" y="237.35" width="0.82" height="0.7" fill="#8a8a8a"/><rect x="33.78" y="238.80" width="1.54" height="0.7" fill="#bcbcbc"/><rect x="35.32" y="238.80" width="0.68" height="0.7" fill="#bcbcbc"/><rect x="33.51" y="240.25" width="1.11" height="0.7" fill="#8a8a8a"/><rect x="34.63" y="240.25" width="0.90" height="0.7" fill="#8a8a8a"/><rect x="35.52" y="240.25" width="0.48" height="0.7" fill="#7a7a7a"/><rect x="33.13" y="241.70" width="0.70" height="0.7" fill="#bcbcbc"/><rect x="33.83" y="241.70" width="1.26" height="0.7" fill="#8a8a8a"/><rect x="35.09" y="241.70" width="0.91" height="0.7" fill="#aaaaaa"/><rect x="32.30" y="243.15" width="0.72" height="0.7" fill="#bcbcbc"/><rect x="33.02" y="243.15" width="1.31" height="0.7" fill="#aaaaaa"/><rect x="34.33" y="243.15" width="1.22" height="0.7" fill="#aaaaaa"/><rect x="33.86" y="244.60" width="1.59" height="0.7" fill="#7a7a7a"/><rect x="32.30" y="247.50" width="1.02" height="0.7" fill="#9a9a9a"/><rect x="34.91" y="247.50" width="0.70" height="0.7" fill="#8a8a8a"/><rect x="35.61" y="247.50" width="0.39" height="0.7" fill="#bcbcbc"/><rect x="32.30" y="248.95" width="1.08" height="0.7" fill="#7a7a7a"/><rect x="33.38" y="248.95" width="1.08" height="0.7" fill="#bcbcbc"/><rect x="32.30" y="250.40" width="0.83" height="0.7" fill="#aaaaaa"/><rect x="34.64" y="250.40" width="0.74" height="0.7" fill="#aaaaaa"/><rect x="35.39" y="250.40" width="0.61" height="0.7" fill="#7a7a7a"/><rect x="32.90" y="251.85" width="0.94" height="0.7" fill="#bcbcbc"/><rect x="34.46" y="251.85" width="1.14" height="0.7" fill="#8a8a8a"/><rect x="35.60" y="251.85" width="0.40" height="0.7" fill="#7a7a7a"/><rect x="33.21" y="253.30" width="1.48" height="0.7" fill="#bcbcbc"/><rect x="35.21" y="253.30" width="0.79" height="0.7" fill="#bcbcbc"/><rect x="32.30" y="254.75" width="0.66" height="0.7" fill="#bcbcbc"/><rect x="32.96" y="254.75" width="1.01" height="0.7" fill="#8a8a8a"/><rect x="32.30" y="256.20" width="1.19" height="0.7" fill="#8a8a8a"/><rect x="33.49" y="256.20" width="1.39" height="0.7" fill="#9a9a9a"/><rect x="34.88" y="256.20" width="0.55" height="0.7" fill="#bcbcbc"/><rect x="35.44" y="256.20" width="0.56" height="0.7" fill="#9a9a9a"/><rect x="33.53" y="257.65" width="1.36" height="0.7" fill="#aaaaaa"/><rect x="34.88" y="257.65" width="1.01" height="0.7" fill="#7a7a7a"/><rect x="32.30" y="259.10" width="1.26" height="0.7" fill="#7a7a7a"/><rect x="33.56" y="259.10" width="0.77" height="0.7" fill="#8a8a8a"/><rect x="34.33" y="259.10" width="0.73" height="0.7" fill="#9a9a9a"/><rect x="35.06" y="259.10" width="0.71" height="0.7" fill="#aaaaaa"/><rect x="32.30" y="260.55" width="1.03" height="0.7" fill="#8a8a8a"/><rect x="33.33" y="260.55" width="1.39" height="0.7" fill="#aaaaaa"/><rect x="34.73" y="260.55" width="0.58" height="0.7" fill="#7a7a7a"/><rect x="32.30" y="262.00" width="1.05" height="0.7" fill="#8a8a8a"/><rect x="34.79" y="262.00" width="1.14" height="0.7" fill="#9a9a9a"/><rect x="32.30" y="263.45" width="1.19" height="0.7" fill="#7a7a7a"/><rect x="33.49" y="263.45" width="1.21" height="0.7" fill="#9a9a9a"/><rect x="35.24" y="263.45" width="0.76" height="0.7" fill="#7a7a7a"/><rect x="34.27" y="264.90" width="1.04" height="0.7" fill="#9a9a9a"/><rect x="35.31" y="264.90" width="0.69" height="0.7" fill="#bcbcbc"/><rect x="33.15" y="266.35" width="1.19" height="0.7" fill="#7a7a7a"/><rect x="34.34" y="266.35" width="1.05" height="0.7" fill="#7a7a7a"/><rect x="35.39" y="266.35" width="0.61" height="0.7" fill="#7a7a7a"/><rect x="32.30" y="267.80" width="1.05" height="0.7" fill="#bcbcbc"/><rect x="33.35" y="267.80" width="1.16" height="0.7" fill="#bcbcbc"/><rect x="35.52" y="267.80" width="0.48" height="0.7" fill="#bcbcbc"/><rect x="32.30" y="269.25" width="1.47" height="0.7" fill="#9a9a9a"/><rect x="33.77" y="269.25" width="1.24" height="0.7" fill="#aaaaaa"/><rect x="35.00" y="269.25" width="1.00" height="0.7" fill="#bcbcbc"/><rect x="32.30" y="270.70" width="1.02" height="0.7" fill="#bcbcbc"/><rect x="33.32" y="270.70" width="1.18" height="0.7" fill="#bcbcbc"/><rect x="32.30" y="272.15" width="1.38" height="0.7" fill="#aaaaaa"/><rect x="33.68" y="272.15" width="1.01" height="0.7" fill="#bcbcbc"/><rect x="34.68" y="272.15" width="1.32" height="0.7" fill="#aaaaaa"/><rect x="33.13" y="273.60" width="0.55" height="0.7" fill="#7a7a7a"/><rect x="32.30" y="275.05" width="0.68" height="0.7" fill="#aaaaaa"/><rect x="35.69" y="275.05" width="0.31" height="0.7" fill="#8a8a8a"/><rect x="33.85" y="276.50" width="1.55" height="0.7" fill="#bcbcbc"/><rect x="32.30" y="277.95" width="0.67" height="0.7" fill="#bcbcbc"/><rect x="32.97" y="277.95" width="1.56" height="0.7" fill="#9a9a9a"/><rect x="34.53" y="277.95" width="0.52" height="0.7" fill="#aaaaaa"/><rect x="35.05" y="277.95" width="0.56" height="0.7" fill="#7a7a7a"/><rect x="35.61" y="277.95" width="0.39" height="0.7" fill="#7a7a7a"/><rect x="32.30" y="279.40" width="0.86" height="0.7" fill="#aaaaaa"/><rect x="33.16" y="279.40" width="0.65" height="0.7" fill="#7a7a7a"/><rect x="33.81" y="279.40" width="1.14" height="0.7" fill="#aaaaaa"/><rect x="34.94" y="279.40" width="1.06" height="0.7" fill="#7a7a7a"/><rect x="33.04" y="280.85" width="1.39" height="0.7" fill="#7a7a7a"/><rect x="32.30" y="282.30" width="0.70" height="0.7" fill="#bcbcbc"/><rect x="35.28" y="282.30" width="0.72" height="0.7" fill="#aaaaaa"/><rect x="33.55" y="283.75" width="1.12" height="0.7" fill="#9a9a9a"/><rect x="34.68" y="283.75" width="1.17" height="0.7" fill="#bcbcbc"/><rect x="33.75" y="285.20" width="0.77" height="0.7" fill="#7a7a7a"/><rect x="34.51" y="285.20" width="0.72" height="0.7" fill="#7a7a7a"/><rect x="35.23" y="285.20" width="0.77" height="0.7" fill="#9a9a9a"/><rect x="32.30" y="286.65" width="1.51" height="0.7" fill="#bcbcbc"/><rect x="33.81" y="286.65" width="0.68" height="0.7" fill="#9a9a9a"/><rect x="34.49" y="286.65" width="0.94" height="0.7" fill="#8a8a8a"/><rect x="32.30" y="288.10" width="0.60" height="0.7" fill="#7a7a7a"/><rect x="32.90" y="288.10" width="0.64" height="0.7" fill="#7a7a7a"/><rect x="33.54" y="288.10" width="1.46" height="0.7" fill="#aaaaaa"/><rect x="35.00" y="288.10" width="0.63" height="0.7" fill="#8a8a8a"/><rect x="33.59" y="289.55" width="1.08" height="0.7" fill="#8a8a8a"/><rect x="34.67" y="289.55" width="1.33" height="0.7" fill="#aaaaaa"/><rect x="33.11" y="291.00" width="0.74" height="0.7" fill="#9a9a9a"/><rect x="34.55" y="291.00" width="1.37" height="0.7" fill="#bcbcbc"/><rect x="33.81" y="292.45" width="0.99" height="0.7" fill="#aaaaaa"/><rect x="34.81" y="292.45" width="0.78" height="0.7" fill="#7a7a7a"/><rect x="32.30" y="293.90" width="1.21" height="0.7" fill="#8a8a8a"/><rect x="33.51" y="293.90" width="1.59" height="0.7" fill="#aaaaaa"/><rect x="32.30" y="295.35" width="0.88" height="0.7" fill="#bcbcbc"/><rect x="34.38" y="295.35" width="1.52" height="0.7" fill="#9a9a9a"/><rect x="32.30" y="296.80" width="0.95" height="0.7" fill="#9a9a9a"/><rect x="33.25" y="296.80" width="0.99" height="0.7" fill="#bcbcbc"/><rect x="34.99" y="298.25" width="1.01" height="0.7" fill="#8a8a8a"/><rect x="32.30" y="299.70" width="0.97" height="0.7" fill="#aaaaaa"/><rect x="33.27" y="299.70" width="1.30" height="0.7" fill="#7a7a7a"/><rect x="35.17" y="299.70" width="0.74" height="0.7" fill="#aaaaaa"/><rect x="32.30" y="301.15" width="0.91" height="0.7" fill="#aaaaaa"/><rect x="33.21" y="301.15" width="1.20" height="0.7" fill="#7a7a7a"/><rect x="34.41" y="301.15" width="0.75" height="0.7" fill="#7a7a7a"/><rect x="35.15" y="301.15" width="0.85" height="0.7" fill="#aaaaaa"/><rect x="32.30" y="302.60" width="1.23" height="0.7" fill="#8a8a8a"/><rect x="33.53" y="302.60" width="0.76" height="0.7" fill="#bcbcbc"/><rect x="34.29" y="302.60" width="1.10" height="0.7" fill="#9a9a9a"/><rect x="32.30" y="304.05" width="1.30" height="0.7" fill="#aaaaaa"/><rect x="33.60" y="304.05" width="1.12" height="0.7" fill="#7a7a7a"/><rect x="34.72" y="304.05" width="1.28" height="0.7" fill="#9a9a9a"/><rect x="34.42" y="305.50" width="0.99" height="0.7" fill="#bcbcbc"/><rect x="32.30" y="306.95" width="0.69" height="0.7" fill="#7a7a7a"/><rect x="33.91" y="306.95" width="1.40" height="0.7" fill="#7a7a7a"/><rect x="35.31" y="306.95" width="0.66" height="0.7" fill="#aaaaaa"/><rect x="32.30" y="308.40" width="0.75" height="0.7" fill="#aaaaaa"/><rect x="32.30" y="309.85" width="0.79" height="0.7" fill="#8a8a8a"/><rect x="33.09" y="309.85" width="1.40" height="0.7" fill="#9a9a9a"/><rect x="34.49" y="309.85" width="1.33" height="0.7" fill="#aaaaaa"/><rect x="32.30" y="311.30" width="1.34" height="0.7" fill="#9a9a9a"/><rect x="33.64" y="311.30" width="1.57" height="0.7" fill="#bcbcbc"/><rect x="32.30" y="312.75" width="1.11" height="0.7" fill="#bcbcbc"/><rect x="33.41" y="312.75" width="1.43" height="0.7" fill="#aaaaaa"/><rect x="34.84" y="312.75" width="1.16" height="0.7" fill="#9a9a9a"/><rect x="32.30" y="314.20" width="0.83" height="0.7" fill="#8a8a8a"/><rect x="32.30" y="315.65" width="1.58" height="0.7" fill="#7a7a7a"/><rect x="35.02" y="315.65" width="0.98" height="0.7" fill="#9a9a9a"/><rect x="32.30" y="317.10" width="1.05" height="0.7" fill="#bcbcbc"/><rect x="33.35" y="317.10" width="1.16" height="0.7" fill="#7a7a7a"/><rect x="32.30" y="318.55" width="1.26" height="0.7" fill="#8a8a8a"/><rect x="33.56" y="318.55" width="1.20" height="0.7" fill="#bcbcbc"/><rect x="34.76" y="318.55" width="1.24" height="0.7" fill="#bcbcbc"/><rect x="32.30" y="320.00" width="1.04" height="0.7" fill="#8a8a8a"/><rect x="33.34" y="320.00" width="1.59" height="0.7" fill="#7a7a7a"/><rect x="34.93" y="320.00" width="0.61" height="0.7" fill="#8a8a8a"/><rect x="35.53" y="320.00" width="0.47" height="0.7" fill="#9a9a9a"/><rect x="32.93" y="321.45" width="0.66" height="0.7" fill="#9a9a9a"/><rect x="33.59" y="321.45" width="1.34" height="0.7" fill="#aaaaaa"/><rect x="34.93" y="321.45" width="1.07" height="0.7" fill="#bcbcbc"/><rect x="32.30" y="322.90" width="0.88" height="0.7" fill="#7a7a7a"/><rect x="33.18" y="322.90" width="0.74" height="0.7" fill="#8a8a8a"/><rect x="33.92" y="322.90" width="1.38" height="0.7" fill="#9a9a9a"/><rect x="32.30" y="324.35" width="0.84" height="0.7" fill="#9a9a9a"/><rect x="33.14" y="324.35" width="0.65" height="0.7" fill="#9a9a9a"/><rect x="33.79" y="324.35" width="0.88" height="0.7" fill="#aaaaaa"/><rect x="34.67" y="324.35" width="0.78" height="0.7" fill="#aaaaaa"/><rect x="35.44" y="324.35" width="0.56" height="0.7" fill="#bcbcbc"/><rect x="34.53" y="325.80" width="1.37" height="0.7" fill="#aaaaaa"/><rect x="33.35" y="327.25" width="0.77" height="0.7" fill="#7a7a7a"/><rect x="34.12" y="327.25" width="0.76" height="0.7" fill="#8a8a8a"/><rect x="35.41" y="327.25" width="0.59" height="0.7" fill="#aaaaaa"/><rect x="32.30" y="328.70" width="0.89" height="0.7" fill="#7a7a7a"/><rect x="33.19" y="328.70" width="0.71" height="0.7" fill="#aaaaaa"/><rect x="33.90" y="328.70" width="1.07" height="0.7" fill="#7a7a7a"/><rect x="34.97" y="328.70" width="1.03" height="0.7" fill="#9a9a9a"/><rect x="32.30" y="330.15" width="0.88" height="0.7" fill="#bcbcbc"/><rect x="33.18" y="330.15" width="1.08" height="0.7" fill="#7a7a7a"/><rect x="34.27" y="330.15" width="1.07" height="0.7" fill="#aaaaaa"/><rect x="35.33" y="330.15" width="0.64" height="0.7" fill="#9a9a9a"/><rect x="33.32" y="331.60" width="0.87" height="0.7" fill="#9a9a9a"/><rect x="34.19" y="331.60" width="0.52" height="0.7" fill="#aaaaaa"/><rect x="34.71" y="331.60" width="0.72" height="0.7" fill="#7a7a7a"/><rect x="35.43" y="331.60" width="0.57" height="0.7" fill="#8a8a8a"/><rect x="32.30" y="333.05" width="1.16" height="0.7" fill="#8a8a8a"/><rect x="34.07" y="333.05" width="1.30" height="0.7" fill="#7a7a7a"/><rect x="34.79" y="334.50" width="0.83" height="0.7" fill="#7a7a7a"/><rect x="35.62" y="334.50" width="0.38" height="0.7" fill="#8a8a8a"/><rect x="32.30" y="335.95" width="1.45" height="0.7" fill="#aaaaaa"/><rect x="34.45" y="335.95" width="0.57" height="0.7" fill="#bcbcbc"/><rect x="32.30" y="337.40" width="1.17" height="0.7" fill="#aaaaaa"/><rect x="33.47" y="337.40" width="0.98" height="0.7" fill="#9a9a9a"/><rect x="34.45" y="337.40" width="0.80" height="0.7" fill="#bcbcbc"/><rect x="35.25" y="337.40" width="0.75" height="0.7" fill="#8a8a8a"/><rect x="32.30" y="338.85" width="1.01" height="0.7" fill="#8a8a8a"/><rect x="33.31" y="338.85" width="0.77" height="0.7" fill="#bcbcbc"/><rect x="34.07" y="338.85" width="0.80" height="0.7" fill="#9a9a9a"/><rect x="34.87" y="338.85" width="1.13" height="0.7" fill="#aaaaaa"/><rect x="32.30" y="340.30" width="1.27" height="0.7" fill="#7a7a7a"/><rect x="33.57" y="340.30" width="1.05" height="0.7" fill="#7a7a7a"/><rect x="34.62" y="340.30" width="0.95" height="0.7" fill="#aaaaaa"/><rect x="34.30" y="341.75" width="0.81" height="0.7" fill="#7a7a7a"/><rect x="35.10" y="341.75" width="0.90" height="0.7" fill="#bcbcbc"/><rect x="32.91" y="343.20" width="1.09" height="0.7" fill="#bcbcbc"/><rect x="34.00" y="343.20" width="0.74" height="0.7" fill="#9a9a9a"/><rect x="34.73" y="343.20" width="0.75" height="0.7" fill="#7a7a7a"/><rect x="35.49" y="343.20" width="0.51" height="0.7" fill="#aaaaaa"/><rect x="34.60" y="344.65" width="1.33" height="0.7" fill="#8a8a8a"/><rect x="32.30" y="346.10" width="0.66" height="0.7" fill="#aaaaaa"/><rect x="32.96" y="346.10" width="1.35" height="0.7" fill="#9a9a9a"/><rect x="34.31" y="346.10" width="1.11" height="0.7" fill="#9a9a9a"/><rect x="35.42" y="346.10" width="0.58" height="0.7" fill="#8a8a8a"/><rect x="32.30" y="347.55" width="0.98" height="0.7" fill="#9a9a9a"/><rect x="34.50" y="347.55" width="1.07" height="0.7" fill="#7a7a7a"/><rect x="35.57" y="347.55" width="0.43" height="0.7" fill="#aaaaaa"/><rect x="32.30" y="349.00" width="1.14" height="0.7" fill="#7a7a7a"/><rect x="33.44" y="349.00" width="0.64" height="0.7" fill="#aaaaaa"/><rect x="34.08" y="349.00" width="0.57" height="0.7" fill="#bcbcbc"/><rect x="34.65" y="349.00" width="0.90" height="0.7" fill="#aaaaaa"/><rect x="35.55" y="349.00" width="0.45" height="0.7" fill="#bcbcbc"/><rect x="32.30" y="350.45" width="0.60" height="0.7" fill="#7a7a7a"/><rect x="32.90" y="350.45" width="0.93" height="0.7" fill="#bcbcbc"/><rect x="33.83" y="350.45" width="0.63" height="0.7" fill="#bcbcbc"/><rect x="34.98" y="350.45" width="1.02" height="0.7" fill="#aaaaaa"/><rect x="33.54" y="351.90" width="1.50" height="0.7" fill="#8a8a8a"/><rect x="33.76" y="353.35" width="0.99" height="0.7" fill="#8a8a8a"/><rect x="32.30" y="354.80" width="1.44" height="0.7" fill="#bcbcbc"/><rect x="32.30" y="356.25" width="1.56" height="0.7" fill="#8a8a8a"/><rect x="34.44" y="356.25" width="1.23" height="0.7" fill="#bcbcbc"/><rect x="35.67" y="356.25" width="0.33" height="0.7" fill="#7a7a7a"/><rect x="32.30" y="357.70" width="0.96" height="0.7" fill="#7a7a7a"/><rect x="33.26" y="357.70" width="1.15" height="0.7" fill="#8a8a8a"/><rect x="34.41" y="357.70" width="1.13" height="0.7" fill="#aaaaaa"/><rect x="32.30" y="359.15" width="1.30" height="0.7" fill="#7a7a7a"/><rect x="33.60" y="359.15" width="0.86" height="0.7" fill="#7a7a7a"/><rect x="35.24" y="359.15" width="0.69" height="0.7" fill="#7a7a7a"/><rect x="32.30" y="360.60" width="0.99" height="0.7" fill="#8a8a8a"/><rect x="33.29" y="360.60" width="0.69" height="0.7" fill="#bcbcbc"/><rect x="35.44" y="360.60" width="0.56" height="0.7" fill="#8a8a8a"/><rect x="33.12" y="362.05" width="0.73" height="0.7" fill="#bcbcbc"/><rect x="33.86" y="362.05" width="0.71" height="0.7" fill="#8a8a8a"/><rect x="34.57" y="362.05" width="1.30" height="0.7" fill="#9a9a9a"/><rect x="32.30" y="363.50" width="0.94" height="0.7" fill="#aaaaaa"/><rect x="33.24" y="363.50" width="0.67" height="0.7" fill="#7a7a7a"/><rect x="35.66" y="363.50" width="0.34" height="0.7" fill="#aaaaaa"/><rect x="32.30" y="366.40" width="1.06" height="0.7" fill="#8a8a8a"/><rect x="33.36" y="366.40" width="0.69" height="0.7" fill="#bcbcbc"/><rect x="34.06" y="366.40" width="0.79" height="0.7" fill="#aaaaaa"/><rect x="35.56" y="366.40" width="0.44" height="0.7" fill="#9a9a9a"/><rect x="32.30" y="367.85" width="1.11" height="0.7" fill="#8a8a8a"/><rect x="34.99" y="367.85" width="1.01" height="0.7" fill="#7a7a7a"/><rect x="33.57" y="369.30" width="1.22" height="0.7" fill="#7a7a7a"/><rect x="34.79" y="369.30" width="0.53" height="0.7" fill="#bcbcbc"/><rect x="35.31" y="369.30" width="0.59" height="0.7" fill="#aaaaaa"/><rect x="32.30" y="370.75" width="0.71" height="0.7" fill="#bcbcbc"/><rect x="33.01" y="370.75" width="1.33" height="0.7" fill="#7a7a7a"/><rect x="34.34" y="370.75" width="1.43" height="0.7" fill="#7a7a7a"/><rect x="33.24" y="372.20" width="1.36" height="0.7" fill="#7a7a7a"/><rect x="32.30" y="373.65" width="1.44" height="0.7" fill="#9a9a9a"/><rect x="33.74" y="373.65" width="0.81" height="0.7" fill="#7a7a7a"/><rect x="35.31" y="373.65" width="0.59" height="0.7" fill="#bcbcbc"/><rect x="32.30" y="375.10" width="0.71" height="0.7" fill="#9a9a9a"/><rect x="33.01" y="375.10" width="0.77" height="0.7" fill="#bcbcbc"/><rect x="33.78" y="375.10" width="1.06" height="0.7" fill="#7a7a7a"/><rect x="34.84" y="375.10" width="1.11" height="0.7" fill="#9a9a9a"/><rect x="32.30" y="376.55" width="1.07" height="0.7" fill="#bcbcbc"/><rect x="33.37" y="376.55" width="1.55" height="0.7" fill="#bcbcbc"/><rect x="34.91" y="376.55" width="1.02" height="0.7" fill="#7a7a7a"/><rect x="32.30" y="378.00" width="0.52" height="0.7" fill="#8a8a8a"/><rect x="32.82" y="378.00" width="0.53" height="0.7" fill="#8a8a8a"/><rect x="33.35" y="378.00" width="0.64" height="0.7" fill="#7a7a7a"/><rect x="33.99" y="378.00" width="1.06" height="0.7" fill="#aaaaaa"/><rect x="35.05" y="378.00" width="0.95" height="0.7" fill="#9a9a9a"/><rect x="32.30" y="379.45" width="0.85" height="0.7" fill="#8a8a8a"/><rect x="33.15" y="379.45" width="0.99" height="0.7" fill="#9a9a9a"/><rect x="34.14" y="379.45" width="0.92" height="0.7" fill="#bcbcbc"/><rect x="35.06" y="379.45" width="0.76" height="0.7" fill="#7a7a7a"/><rect x="32.30" y="380.90" width="1.08" height="0.7" fill="#aaaaaa"/><rect x="34.83" y="380.90" width="1.17" height="0.7" fill="#bcbcbc"/><rect x="32.30" y="382.35" width="1.45" height="0.7" fill="#bcbcbc"/><rect x="34.36" y="382.35" width="0.85" height="0.7" fill="#bcbcbc"/><rect x="35.22" y="382.35" width="0.61" height="0.7" fill="#aaaaaa"/><rect x="33.68" y="383.80" width="0.85" height="0.7" fill="#9a9a9a"/><rect x="34.52" y="383.80" width="1.26" height="0.7" fill="#9a9a9a"/><rect x="33.52" y="385.25" width="1.00" height="0.7" fill="#7a7a7a"/><rect x="34.52" y="385.25" width="0.87" height="0.7" fill="#bcbcbc"/><rect x="35.39" y="385.25" width="0.61" height="0.7" fill="#7a7a7a"/><rect x="32.30" y="386.70" width="0.89" height="0.7" fill="#aaaaaa"/><rect x="33.19" y="386.70" width="1.25" height="0.7" fill="#bcbcbc"/><rect x="34.44" y="386.70" width="1.11" height="0.7" fill="#9a9a9a"/><rect x="35.55" y="386.70" width="0.45" height="0.7" fill="#9a9a9a"/><rect x="32.30" y="388.15" width="1.19" height="0.7" fill="#aaaaaa"/><rect x="34.03" y="388.15" width="1.08" height="0.7" fill="#bcbcbc"/><rect x="32.30" y="389.60" width="1.09" height="0.7" fill="#8a8a8a"/><rect x="33.39" y="389.60" width="0.61" height="0.7" fill="#aaaaaa"/><rect x="32.30" y="391.05" width="0.56" height="0.7" fill="#8a8a8a"/><rect x="34.88" y="392.50" width="1.12" height="0.7" fill="#8a8a8a"/><rect x="32.30" y="393.95" width="1.25" height="0.7" fill="#aaaaaa"/><rect x="33.55" y="393.95" width="1.52" height="0.7" fill="#aaaaaa"/><rect x="35.07" y="393.95" width="0.93" height="0.7" fill="#aaaaaa"/><rect x="37.2" y="15.2" width="5.60" height="379.60" fill="#505050"/><rect x="37.20" y="15.50" width="0.64" height="0.7" fill="#bcbcbc"/><rect x="37.84" y="15.50" width="0.86" height="0.7" fill="#aaaaaa"/><rect x="38.71" y="15.50" width="1.11" height="0.7" fill="#7a7a7a"/><rect x="40.69" y="15.50" width="1.41" height="0.7" fill="#7a7a7a"/><rect x="42.09" y="15.50" width="0.71" height="0.7" fill="#7a7a7a"/><rect x="37.20" y="16.95" width="1.02" height="0.7" fill="#aaaaaa"/><rect x="38.22" y="16.95" width="0.85" height="0.7" fill="#aaaaaa"/><rect x="39.07" y="16.95" width="1.21" height="0.7" fill="#bcbcbc"/><rect x="40.28" y="16.95" width="1.42" height="0.7" fill="#aaaaaa"/><rect x="41.70" y="16.95" width="1.10" height="0.7" fill="#bcbcbc"/><rect x="39.63" y="18.40" width="1.41" height="0.7" fill="#7a7a7a"/><rect x="37.20" y="19.85" width="1.23" height="0.7" fill="#8a8a8a"/><rect x="38.43" y="19.85" width="0.74" height="0.7" fill="#7a7a7a"/><rect x="39.18" y="19.85" width="0.94" height="0.7" fill="#7a7a7a"/><rect x="40.12" y="19.85" width="1.08" height="0.7" fill="#bcbcbc"/><rect x="42.13" y="19.85" width="0.67" height="0.7" fill="#8a8a8a"/><rect x="37.20" y="21.30" width="1.02" height="0.7" fill="#9a9a9a"/><rect x="38.22" y="21.30" width="0.94" height="0.7" fill="#bcbcbc"/><rect x="39.16" y="21.30" width="0.85" height="0.7" fill="#bcbcbc"/><rect x="41.48" y="21.30" width="1.32" height="0.7" fill="#8a8a8a"/><rect x="37.20" y="22.75" width="0.75" height="0.7" fill="#bcbcbc"/><rect x="37.95" y="22.75" width="1.58" height="0.7" fill="#7a7a7a"/><rect x="38.06" y="24.20" width="1.40" height="0.7" fill="#7a7a7a"/><rect x="40.61" y="24.20" width="0.57" height="0.7" fill="#9a9a9a"/><rect x="37.20" y="25.65" width="0.61" height="0.7" fill="#aaaaaa"/><rect x="38.90" y="25.65" width="0.78" height="0.7" fill="#bcbcbc"/><rect x="39.68" y="25.65" width="0.79" height="0.7" fill="#9a9a9a"/><rect x="40.47" y="25.65" width="0.58" height="0.7" fill="#aaaaaa"/><rect x="41.05" y="25.65" width="1.46" height="0.7" fill="#7a7a7a"/><rect x="37.20" y="27.10" width="0.88" height="0.7" fill="#9a9a9a"/><rect x="38.08" y="27.10" width="0.78" height="0.7" fill="#bcbcbc"/><rect x="38.86" y="27.10" width="0.56" height="0.7" fill="#bcbcbc"/><rect x="39.43" y="27.10" width="1.22" height="0.7" fill="#9a9a9a"/><rect x="40.64" y="27.10" width="0.58" height="0.7" fill="#9a9a9a"/><rect x="37.20" y="28.55" width="1.43" height="0.7" fill="#8a8a8a"/><rect x="40.20" y="28.55" width="1.09" height="0.7" fill="#bcbcbc"/><rect x="37.20" y="30.00" width="0.78" height="0.7" fill="#bcbcbc"/><rect x="37.98" y="30.00" width="1.43" height="0.7" fill="#7a7a7a"/><rect x="41.07" y="30.00" width="1.41" height="0.7" fill="#aaaaaa"/><rect x="42.48" y="30.00" width="0.32" height="0.7" fill="#aaaaaa"/><rect x="37.20" y="31.45" width="0.71" height="0.7" fill="#bcbcbc"/><rect x="37.91" y="31.45" width="0.65" height="0.7" fill="#bcbcbc"/><rect x="40.00" y="31.45" width="0.69" height="0.7" fill="#7a7a7a"/><rect x="40.70" y="31.45" width="1.16" height="0.7" fill="#7a7a7a"/><rect x="41.86" y="31.45" width="0.57" height="0.7" fill="#8a8a8a"/><rect x="37.20" y="32.90" width="0.73" height="0.7" fill="#8a8a8a"/><rect x="37.93" y="32.90" width="0.62" height="0.7" fill="#aaaaaa"/><rect x="38.55" y="32.90" width="1.14" height="0.7" fill="#aaaaaa"/><rect x="39.69" y="32.90" width="0.85" height="0.7" fill="#8a8a8a"/><rect x="40.54" y="32.90" width="1.37" height="0.7" fill="#8a8a8a"/><rect x="37.20" y="34.35" width="0.70" height="0.7" fill="#7a7a7a"/><rect x="39.52" y="34.35" width="1.24" height="0.7" fill="#8a8a8a"/><rect x="40.75" y="34.35" width="0.59" height="0.7" fill="#aaaaaa"/><rect x="41.35" y="34.35" width="1.02" height="0.7" fill="#8a8a8a"/><rect x="42.37" y="34.35" width="0.43" height="0.7" fill="#8a8a8a"/><rect x="37.20" y="35.80" width="1.52" height="0.7" fill="#7a7a7a"/><rect x="40.21" y="35.80" width="1.11" height="0.7" fill="#8a8a8a"/><rect x="42.48" y="35.80" width="0.32" height="0.7" fill="#aaaaaa"/><rect x="37.20" y="37.25" width="1.05" height="0.7" fill="#bcbcbc"/><rect x="39.47" y="37.25" width="0.72" height="0.7" fill="#9a9a9a"/><rect x="40.20" y="37.25" width="0.57" height="0.7" fill="#aaaaaa"/><rect x="40.77" y="37.25" width="0.70" height="0.7" fill="#aaaaaa"/><rect x="41.47" y="37.25" width="0.50" height="0.7" fill="#7a7a7a"/><rect x="41.97" y="37.25" width="0.83" height="0.7" fill="#bcbcbc"/><rect x="37.20" y="38.70" width="1.53" height="0.7" fill="#9a9a9a"/><rect x="39.69" y="38.70" width="0.89" height="0.7" fill="#bcbcbc"/><rect x="40.58" y="38.70" width="1.53" height="0.7" fill="#7a7a7a"/><rect x="38.52" y="40.15" width="0.56" height="0.7" fill="#7a7a7a"/><rect x="40.87" y="40.15" width="0.93" height="0.7" fill="#aaaaaa"/><rect x="41.80" y="40.15" width="1.00" height="0.7" fill="#7a7a7a"/><rect x="38.71" y="41.60" width="1.27" height="0.7" fill="#7a7a7a"/><rect x="40.65" y="41.60" width="1.29" height="0.7" fill="#bcbcbc"/><rect x="37.20" y="43.05" width="1.09" height="0.7" fill="#9a9a9a"/><rect x="38.29" y="43.05" width="1.48" height="0.7" fill="#7a7a7a"/><rect x="41.26" y="43.05" width="0.50" height="0.7" fill="#7a7a7a"/><rect x="41.76" y="43.05" width="1.04" height="0.7" fill="#7a7a7a"/><rect x="37.20" y="44.50" width="1.37" height="0.7" fill="#7a7a7a"/><rect x="39.50" y="44.50" width="1.08" height="0.7" fill="#8a8a8a"/><rect x="40.58" y="44.50" width="0.94" height="0.7" fill="#9a9a9a"/><rect x="41.52" y="44.50" width="1.17" height="0.7" fill="#bcbcbc"/><rect x="38.16" y="45.95" width="1.38" height="0.7" fill="#bcbcbc"/><rect x="40.89" y="45.95" width="1.56" height="0.7" fill="#8a8a8a"/><rect x="42.45" y="45.95" width="0.35" height="0.7" fill="#9a9a9a"/><rect x="38.13" y="47.40" width="0.88" height="0.7" fill="#bcbcbc"/><rect x="39.01" y="47.40" width="1.60" height="0.7" fill="#9a9a9a"/><rect x="41.68" y="47.40" width="0.87" height="0.7" fill="#aaaaaa"/><rect x="39.31" y="48.85" width="1.31" height="0.7" fill="#aaaaaa"/><rect x="40.62" y="48.85" width="1.53" height="0.7" fill="#7a7a7a"/><rect x="42.15" y="48.85" width="0.61" height="0.7" fill="#7a7a7a"/><rect x="38.23" y="50.30" width="0.60" height="0.7" fill="#7a7a7a"/><rect x="39.56" y="50.30" width="1.41" height="0.7" fill="#8a8a8a"/><rect x="40.97" y="50.30" width="1.18" height="0.7" fill="#8a8a8a"/><rect x="42.15" y="50.30" width="0.65" height="0.7" fill="#9a9a9a"/><rect x="38.40" y="51.75" width="0.69" height="0.7" fill="#bcbcbc"/><rect x="40.10" y="51.75" width="0.74" height="0.7" fill="#9a9a9a"/><rect x="40.84" y="51.75" width="1.50" height="0.7" fill="#bcbcbc"/><rect x="37.20" y="53.20" width="0.90" height="0.7" fill="#bcbcbc"/><rect x="38.10" y="53.20" width="1.37" height="0.7" fill="#7a7a7a"/><rect x="42.27" y="53.20" width="0.53" height="0.7" fill="#bcbcbc"/><rect x="37.20" y="54.65" width="0.78" height="0.7" fill="#8a8a8a"/><rect x="40.27" y="54.65" width="0.65" height="0.7" fill="#9a9a9a"/><rect x="40.92" y="54.65" width="0.86" height="0.7" fill="#9a9a9a"/><rect x="41.78" y="54.65" width="1.02" height="0.7" fill="#7a7a7a"/><rect x="37.20" y="56.10" width="1.22" height="0.7" fill="#aaaaaa"/><rect x="38.42" y="56.10" width="1.00" height="0.7" fill="#aaaaaa"/><rect x="39.42" y="56.10" width="1.48" height="0.7" fill="#bcbcbc"/><rect x="41.90" y="56.10" width="0.51" height="0.7" fill="#bcbcbc"/><rect x="42.40" y="56.10" width="0.40" height="0.7" fill="#bcbcbc"/><rect x="37.20" y="57.55" width="1.39" height="0.7" fill="#7a7a7a"/><rect x="38.59" y="57.55" width="0.72" height="0.7" fill="#9a9a9a"/><rect x="39.89" y="57.55" width="0.69" height="0.7" fill="#8a8a8a"/><rect x="37.20" y="59.00" width="0.81" height="0.7" fill="#aaaaaa"/><rect x="38.01" y="59.00" width="1.13" height="0.7" fill="#8a8a8a"/><rect x="39.14" y="59.00" width="0.78" height="0.7" fill="#aaaaaa"/><rect x="39.92" y="59.00" width="1.38" height="0.7" fill="#8a8a8a"/><rect x="41.29" y="59.00" width="1.45" height="0.7" fill="#8a8a8a"/><rect x="38.28" y="60.45" width="1.33" height="0.7" fill="#bcbcbc"/><rect x="39.60" y="60.45" width="1.55" height="0.7" fill="#8a8a8a"/><rect x="41.15" y="60.45" width="0.66" height="0.7" fill="#9a9a9a"/><rect x="41.81" y="60.45" width="0.99" height="0.7" fill="#7a7a7a"/><rect x="37.20" y="61.90" width="1.58" height="0.7" fill="#bcbcbc"/><rect x="38.78" y="61.90" width="0.52" height="0.7" fill="#bcbcbc"/><rect x="39.29" y="61.90" width="1.12" height="0.7" fill="#7a7a7a"/><rect x="40.42" y="61.90" width="0.62" height="0.7" fill="#bcbcbc"/><rect x="37.20" y="63.35" width="1.12" height="0.7" fill="#8a8a8a"/><rect x="38.32" y="63.35" width="1.35" height="0.7" fill="#7a7a7a"/><rect x="41.24" y="63.35" width="0.74" height="0.7" fill="#aaaaaa"/><rect x="41.97" y="63.35" width="0.83" height="0.7" fill="#aaaaaa"/><rect x="37.94" y="64.80" width="1.04" height="0.7" fill="#9a9a9a"/><rect x="41.88" y="64.80" width="0.79" height="0.7" fill="#aaaaaa"/><rect x="37.20" y="66.25" width="1.27" height="0.7" fill="#aaaaaa"/><rect x="38.47" y="66.25" width="0.89" height="0.7" fill="#aaaaaa"/><rect x="40.04" y="66.25" width="0.83" height="0.7" fill="#7a7a7a"/><rect x="40.87" y="66.25" width="0.58" height="0.7" fill="#aaaaaa"/><rect x="41.45" y="66.25" width="1.35" height="0.7" fill="#9a9a9a"/><rect x="37.20" y="67.70" width="1.08" height="0.7" fill="#8a8a8a"/><rect x="38.28" y="67.70" width="1.00" height="0.7" fill="#7a7a7a"/><rect x="39.29" y="67.70" width="1.57" height="0.7" fill="#9a9a9a"/><rect x="40.85" y="67.70" width="1.36" height="0.7" fill="#aaaaaa"/><rect x="37.20" y="69.15" width="0.51" height="0.7" fill="#8a8a8a"/><rect x="37.71" y="69.15" width="1.50" height="0.7" fill="#9a9a9a"/><rect x="40.13" y="69.15" width="0.98" height="0.7" fill="#7a7a7a"/><rect x="41.11" y="69.15" width="1.21" height="0.7" fill="#8a8a8a"/><rect x="42.31" y="69.15" width="0.49" height="0.7" fill="#8a8a8a"/><rect x="37.20" y="70.60" width="1.09" height="0.7" fill="#7a7a7a"/><rect x="38.29" y="70.60" width="1.49" height="0.7" fill="#aaaaaa"/><rect x="39.78" y="70.60" width="1.21" height="0.7" fill="#bcbcbc"/><rect x="40.99" y="70.60" width="0.91" height="0.7" fill="#8a8a8a"/><rect x="41.89" y="70.60" width="0.74" height="0.7" fill="#aaaaaa"/><rect x="37.20" y="72.05" width="1.32" height="0.7" fill="#8a8a8a"/><rect x="39.53" y="72.05" width="1.59" height="0.7" fill="#9a9a9a"/><rect x="41.12" y="72.05" width="1.37" height="0.7" fill="#7a7a7a"/><rect x="38.22" y="73.50" width="1.03" height="0.7" fill="#8a8a8a"/><rect x="39.24" y="73.50" width="1.50" height="0.7" fill="#8a8a8a"/><rect x="40.75" y="73.50" width="1.27" height="0.7" fill="#aaaaaa"/><rect x="42.02" y="73.50" width="0.78" height="0.7" fill="#aaaaaa"/><rect x="37.20" y="74.95" width="0.79" height="0.7" fill="#aaaaaa"/><rect x="38.78" y="74.95" width="1.30" height="0.7" fill="#bcbcbc"/><rect x="40.08" y="74.95" width="0.81" height="0.7" fill="#9a9a9a"/><rect x="40.89" y="74.95" width="1.15" height="0.7" fill="#8a8a8a"/><rect x="42.05" y="74.95" width="0.75" height="0.7" fill="#bcbcbc"/><rect x="37.20" y="76.40" width="1.06" height="0.7" fill="#aaaaaa"/><rect x="38.26" y="76.40" width="0.65" height="0.7" fill="#8a8a8a"/><rect x="38.91" y="76.40" width="1.29" height="0.7" fill="#9a9a9a"/><rect x="41.01" y="76.40" width="0.56" height="0.7" fill="#aaaaaa"/><rect x="41.57" y="76.40" width="0.58" height="0.7" fill="#aaaaaa"/><rect x="37.20" y="77.85" width="1.46" height="0.7" fill="#8a8a8a"/><rect x="39.72" y="77.85" width="1.48" height="0.7" fill="#7a7a7a"/><rect x="41.20" y="77.85" width="0.85" height="0.7" fill="#aaaaaa"/><rect x="42.04" y="77.85" width="0.76" height="0.7" fill="#9a9a9a"/><rect x="37.20" y="79.30" width="1.55" height="0.7" fill="#bcbcbc"/><rect x="38.75" y="79.30" width="1.03" height="0.7" fill="#7a7a7a"/><rect x="41.49" y="79.30" width="0.75" height="0.7" fill="#7a7a7a"/><rect x="37.20" y="80.75" width="1.56" height="0.7" fill="#7a7a7a"/><rect x="38.76" y="80.75" width="1.29" height="0.7" fill="#bcbcbc"/><rect x="40.05" y="80.75" width="0.64" height="0.7" fill="#aaaaaa"/><rect x="40.69" y="80.75" width="1.14" height="0.7" fill="#9a9a9a"/><rect x="41.83" y="80.75" width="0.60" height="0.7" fill="#7a7a7a"/><rect x="42.43" y="80.75" width="0.37" height="0.7" fill="#7a7a7a"/><rect x="37.20" y="82.20" width="0.76" height="0.7" fill="#bcbcbc"/><rect x="39.52" y="82.20" width="1.45" height="0.7" fill="#aaaaaa"/><rect x="40.98" y="82.20" width="1.55" height="0.7" fill="#aaaaaa"/><rect x="37.20" y="83.65" width="0.63" height="0.7" fill="#8a8a8a"/><rect x="37.83" y="83.65" width="0.51" height="0.7" fill="#7a7a7a"/><rect x="38.34" y="83.65" width="1.55" height="0.7" fill="#8a8a8a"/><rect x="39.89" y="83.65" width="0.79" height="0.7" fill="#7a7a7a"/><rect x="40.68" y="83.65" width="0.60" height="0.7" fill="#8a8a8a"/><rect x="41.28" y="83.65" width="1.12" height="0.7" fill="#7a7a7a"/><rect x="42.40" y="83.65" width="0.40" height="0.7" fill="#aaaaaa"/><rect x="37.20" y="85.10" width="1.35" height="0.7" fill="#7a7a7a"/><rect x="38.55" y="85.10" width="0.61" height="0.7" fill="#7a7a7a"/><rect x="39.16" y="85.10" width="0.59" height="0.7" fill="#9a9a9a"/><rect x="39.75" y="85.10" width="1.31" height="0.7" fill="#aaaaaa"/><rect x="41.94" y="85.10" width="0.86" height="0.7" fill="#bcbcbc"/><rect x="37.20" y="86.55" width="1.00" height="0.7" fill="#aaaaaa"/><rect x="38.20" y="86.55" width="1.01" height="0.7" fill="#bcbcbc"/><rect x="39.21" y="86.55" width="1.20" height="0.7" fill="#bcbcbc"/><rect x="40.41" y="86.55" width="1.42" height="0.7" fill="#7a7a7a"/><rect x="41.83" y="86.55" width="0.97" height="0.7" fill="#bcbcbc"/><rect x="37.20" y="88.00" width="0.79" height="0.7" fill="#aaaaaa"/><rect x="37.99" y="88.00" width="1.40" height="0.7" fill="#7a7a7a"/><rect x="39.39" y="88.00" width="0.82" height="0.7" fill="#bcbcbc"/><rect x="41.66" y="88.00" width="0.76" height="0.7" fill="#8a8a8a"/><rect x="37.20" y="89.45" width="1.53" height="0.7" fill="#7a7a7a"/><rect x="38.73" y="89.45" width="1.15" height="0.7" fill="#7a7a7a"/><rect x="39.88" y="89.45" width="1.44" height="0.7" fill="#9a9a9a"/><rect x="41.32" y="89.45" width="1.18" height="0.7" fill="#9a9a9a"/><rect x="42.50" y="89.45" width="0.30" height="0.7" fill="#7a7a7a"/><rect x="37.20" y="90.90" width="1.25" height="0.7" fill="#7a7a7a"/><rect x="38.45" y="90.90" width="0.63" height="0.7" fill="#7a7a7a"/><rect x="39.08" y="90.90" width="0.83" height="0.7" fill="#aaaaaa"/><rect x="39.91" y="90.90" width="1.52" height="0.7" fill="#aaaaaa"/><rect x="41.43" y="90.90" width="1.02" height="0.7" fill="#9a9a9a"/><rect x="42.44" y="90.90" width="0.36" height="0.7" fill="#aaaaaa"/><rect x="37.20" y="92.35" width="0.93" height="0.7" fill="#8a8a8a"/><rect x="38.13" y="92.35" width="0.60" height="0.7" fill="#bcbcbc"/><rect x="39.75" y="92.35" width="1.34" height="0.7" fill="#7a7a7a"/><rect x="41.09" y="92.35" width="0.91" height="0.7" fill="#7a7a7a"/><rect x="42.00" y="92.35" width="0.80" height="0.7" fill="#7a7a7a"/><rect x="37.20" y="93.80" width="0.92" height="0.7" fill="#7a7a7a"/><rect x="38.12" y="93.80" width="1.16" height="0.7" fill="#7a7a7a"/><rect x="39.28" y="93.80" width="1.25" height="0.7" fill="#8a8a8a"/><rect x="39.55" y="95.25" width="0.95" height="0.7" fill="#8a8a8a"/><rect x="41.96" y="95.25" width="0.51" height="0.7" fill="#bcbcbc"/><rect x="38.18" y="96.70" width="1.17" height="0.7" fill="#9a9a9a"/><rect x="42.14" y="96.70" width="0.66" height="0.7" fill="#8a8a8a"/><rect x="37.20" y="98.15" width="1.34" height="0.7" fill="#bcbcbc"/><rect x="39.64" y="98.15" width="1.04" height="0.7" fill="#8a8a8a"/><rect x="42.05" y="98.15" width="0.75" height="0.7" fill="#bcbcbc"/><rect x="37.20" y="99.60" width="0.86" height="0.7" fill="#8a8a8a"/><rect x="38.06" y="99.60" width="1.01" height="0.7" fill="#aaaaaa"/><rect x="39.07" y="99.60" width="0.84" height="0.7" fill="#8a8a8a"/><rect x="39.90" y="99.60" width="0.67" height="0.7" fill="#aaaaaa"/><rect x="40.58" y="99.60" width="0.57" height="0.7" fill="#7a7a7a"/><rect x="41.94" y="99.60" width="0.84" height="0.7" fill="#aaaaaa"/><rect x="38.72" y="101.05" width="1.55" height="0.7" fill="#8a8a8a"/><rect x="40.26" y="101.05" width="1.07" height="0.7" fill="#aaaaaa"/><rect x="41.34" y="101.05" width="0.64" height="0.7" fill="#7a7a7a"/><rect x="41.98" y="101.05" width="0.82" height="0.7" fill="#aaaaaa"/><rect x="37.20" y="102.50" width="1.04" height="0.7" fill="#bcbcbc"/><rect x="38.24" y="102.50" width="1.22" height="0.7" fill="#aaaaaa"/><rect x="40.01" y="102.50" width="1.50" height="0.7" fill="#8a8a8a"/><rect x="41.51" y="102.50" width="1.04" height="0.7" fill="#aaaaaa"/><rect x="37.20" y="103.95" width="1.39" height="0.7" fill="#bcbcbc"/><rect x="38.59" y="103.95" width="1.58" height="0.7" fill="#9a9a9a"/><rect x="40.17" y="103.95" width="1.42" height="0.7" fill="#8a8a8a"/><rect x="41.59" y="103.95" width="0.78" height="0.7" fill="#9a9a9a"/><rect x="37.20" y="105.40" width="1.13" height="0.7" fill="#aaaaaa"/><rect x="39.43" y="105.40" width="0.58" height="0.7" fill="#8a8a8a"/><rect x="40.01" y="105.40" width="1.09" height="0.7" fill="#9a9a9a"/><rect x="37.20" y="106.85" width="0.57" height="0.7" fill="#bcbcbc"/><rect x="39.26" y="106.85" width="0.80" height="0.7" fill="#7a7a7a"/><rect x="40.06" y="106.85" width="0.61" height="0.7" fill="#bcbcbc"/><rect x="41.72" y="106.85" width="1.08" height="0.7" fill="#9a9a9a"/><rect x="38.64" y="108.30" width="1.29" height="0.7" fill="#8a8a8a"/><rect x="40.51" y="108.30" width="1.21" height="0.7" fill="#aaaaaa"/><rect x="41.72" y="108.30" width="0.84" height="0.7" fill="#9a9a9a"/><rect x="37.20" y="109.75" width="1.48" height="0.7" fill="#7a7a7a"/><rect x="38.68" y="109.75" width="1.37" height="0.7" fill="#bcbcbc"/><rect x="40.05" y="109.75" width="0.58" height="0.7" fill="#9a9a9a"/><rect x="41.68" y="109.75" width="0.52" height="0.7" fill="#8a8a8a"/><rect x="42.20" y="109.75" width="0.57" height="0.7" fill="#bcbcbc"/><rect x="40.81" y="111.20" width="1.29" height="0.7" fill="#bcbcbc"/><rect x="42.10" y="111.20" width="0.70" height="0.7" fill="#9a9a9a"/><rect x="38.23" y="112.65" width="0.72" height="0.7" fill="#bcbcbc"/><rect x="38.95" y="112.65" width="0.57" height="0.7" fill="#9a9a9a"/><rect x="39.51" y="112.65" width="1.30" height="0.7" fill="#8a8a8a"/><rect x="40.82" y="112.65" width="0.89" height="0.7" fill="#7a7a7a"/><rect x="41.71" y="112.65" width="1.09" height="0.7" fill="#aaaaaa"/><rect x="38.30" y="114.10" width="1.11" height="0.7" fill="#aaaaaa"/><rect x="39.41" y="114.10" width="1.60" height="0.7" fill="#bcbcbc"/><rect x="42.07" y="114.10" width="0.73" height="0.7" fill="#8a8a8a"/><rect x="38.64" y="115.55" width="1.57" height="0.7" fill="#9a9a9a"/><rect x="40.22" y="115.55" width="1.05" height="0.7" fill="#aaaaaa"/><rect x="41.27" y="115.55" width="0.98" height="0.7" fill="#aaaaaa"/><rect x="37.20" y="117.00" width="0.57" height="0.7" fill="#8a8a8a"/><rect x="39.13" y="117.00" width="0.71" height="0.7" fill="#9a9a9a"/><rect x="39.84" y="117.00" width="1.24" height="0.7" fill="#9a9a9a"/><rect x="41.08" y="117.00" width="1.51" height="0.7" fill="#bcbcbc"/><rect x="37.20" y="118.45" width="1.09" height="0.7" fill="#aaaaaa"/><rect x="39.24" y="118.45" width="0.82" height="0.7" fill="#bcbcbc"/><rect x="40.06" y="118.45" width="0.89" height="0.7" fill="#aaaaaa"/><rect x="40.95" y="118.45" width="0.96" height="0.7" fill="#aaaaaa"/><rect x="41.91" y="118.45" width="0.66" height="0.7" fill="#8a8a8a"/><rect x="37.20" y="121.35" width="0.59" height="0.7" fill="#aaaaaa"/><rect x="37.79" y="121.35" width="0.97" height="0.7" fill="#bcbcbc"/><rect x="38.76" y="121.35" width="0.99" height="0.7" fill="#9a9a9a"/><rect x="40.77" y="121.35" width="0.63" height="0.7" fill="#aaaaaa"/><rect x="37.20" y="122.80" width="0.91" height="0.7" fill="#bcbcbc"/><rect x="38.11" y="122.80" width="1.59" height="0.7" fill="#8a8a8a"/><rect x="40.27" y="122.80" width="0.76" height="0.7" fill="#aaaaaa"/><rect x="37.20" y="124.25" width="0.53" height="0.7" fill="#9a9a9a"/><rect x="37.73" y="124.25" width="1.46" height="0.7" fill="#bcbcbc"/><rect x="39.19" y="124.25" width="0.84" height="0.7" fill="#bcbcbc"/><rect x="40.03" y="124.25" width="0.66" height="0.7" fill="#9a9a9a"/><rect x="40.69" y="124.25" width="0.72" height="0.7" fill="#aaaaaa"/><rect x="37.20" y="125.70" width="0.82" height="0.7" fill="#9a9a9a"/><rect x="38.02" y="125.70" width="0.55" height="0.7" fill="#8a8a8a"/><rect x="38.57" y="125.70" width="1.11" height="0.7" fill="#7a7a7a"/><rect x="40.35" y="125.70" width="1.33" height="0.7" fill="#aaaaaa"/><rect x="41.69" y="125.70" width="0.70" height="0.7" fill="#7a7a7a"/><rect x="42.39" y="125.70" width="0.41" height="0.7" fill="#7a7a7a"/><rect x="38.26" y="127.15" width="1.10" height="0.7" fill="#bcbcbc"/><rect x="40.38" y="127.15" width="0.93" height="0.7" fill="#aaaaaa"/><rect x="41.31" y="127.15" width="1.26" height="0.7" fill="#aaaaaa"/><rect x="37.20" y="128.60" width="1.47" height="0.7" fill="#9a9a9a"/><rect x="39.22" y="128.60" width="1.35" height="0.7" fill="#aaaaaa"/><rect x="40.57" y="128.60" width="1.52" height="0.7" fill="#8a8a8a"/><rect x="42.09" y="128.60" width="0.71" height="0.7" fill="#8a8a8a"/><rect x="37.20" y="130.05" width="1.59" height="0.7" fill="#aaaaaa"/><rect x="38.79" y="130.05" width="0.52" height="0.7" fill="#bcbcbc"/><rect x="39.31" y="130.05" width="0.62" height="0.7" fill="#aaaaaa"/><rect x="39.94" y="130.05" width="1.07" height="0.7" fill="#aaaaaa"/><rect x="37.20" y="131.50" width="0.59" height="0.7" fill="#7a7a7a"/><rect x="37.79" y="131.50" width="1.14" height="0.7" fill="#7a7a7a"/><rect x="38.94" y="131.50" width="1.27" height="0.7" fill="#aaaaaa"/><rect x="41.39" y="131.50" width="1.41" height="0.7" fill="#7a7a7a"/><rect x="39.54" y="132.95" width="1.16" height="0.7" fill="#7a7a7a"/><rect x="38.45" y="134.40" width="1.38" height="0.7" fill="#aaaaaa"/><rect x="39.83" y="134.40" width="0.82" height="0.7" fill="#bcbcbc"/><rect x="40.65" y="134.40" width="1.18" height="0.7" fill="#7a7a7a"/><rect x="41.83" y="134.40" width="0.76" height="0.7" fill="#bcbcbc"/><rect x="37.20" y="135.85" width="1.43" height="0.7" fill="#bcbcbc"/><rect x="38.63" y="135.85" width="0.75" height="0.7" fill="#aaaaaa"/><rect x="39.37" y="135.85" width="1.37" height="0.7" fill="#9a9a9a"/><rect x="40.74" y="135.85" width="1.54" height="0.7" fill="#bcbcbc"/><rect x="42.29" y="135.85" width="0.51" height="0.7" fill="#8a8a8a"/><rect x="37.20" y="137.30" width="1.26" height="0.7" fill="#aaaaaa"/><rect x="39.98" y="137.30" width="1.10" height="0.7" fill="#7a7a7a"/><rect x="41.08" y="137.30" width="1.17" height="0.7" fill="#bcbcbc"/><rect x="37.20" y="138.75" width="1.39" height="0.7" fill="#aaaaaa"/><rect x="38.59" y="138.75" width="0.71" height="0.7" fill="#bcbcbc"/><rect x="39.29" y="138.75" width="1.58" height="0.7" fill="#aaaaaa"/><rect x="41.70" y="138.75" width="0.93" height="0.7" fill="#8a8a8a"/><rect x="37.20" y="140.20" width="1.46" height="0.7" fill="#aaaaaa"/><rect x="38.66" y="140.20" width="0.90" height="0.7" fill="#aaaaaa"/><rect x="39.56" y="140.20" width="1.35" height="0.7" fill="#9a9a9a"/><rect x="40.91" y="140.20" width="0.82" height="0.7" fill="#8a8a8a"/><rect x="41.73" y="140.20" width="0.73" height="0.7" fill="#8a8a8a"/><rect x="37.20" y="141.65" width="0.60" height="0.7" fill="#9a9a9a"/><rect x="37.80" y="141.65" width="1.51" height="0.7" fill="#9a9a9a"/><rect x="41.13" y="141.65" width="0.62" height="0.7" fill="#7a7a7a"/><rect x="41.75" y="141.65" width="1.05" height="0.7" fill="#bcbcbc"/><rect x="37.20" y="143.10" width="0.99" height="0.7" fill="#bcbcbc"/><rect x="38.89" y="143.10" width="1.08" height="0.7" fill="#7a7a7a"/><rect x="41.24" y="143.10" width="0.57" height="0.7" fill="#9a9a9a"/><rect x="38.26" y="144.55" width="0.52" height="0.7" fill="#7a7a7a"/><rect x="38.79" y="144.55" width="1.18" height="0.7" fill="#aaaaaa"/><rect x="40.55" y="144.55" width="0.67" height="0.7" fill="#8a8a8a"/><rect x="41.73" y="144.55" width="1.07" height="0.7" fill="#bcbcbc"/><rect x="37.74" y="146.00" width="0.72" height="0.7" fill="#7a7a7a"/><rect x="39.14" y="146.00" width="0.51" height="0.7" fill="#9a9a9a"/><rect x="39.65" y="146.00" width="0.85" height="0.7" fill="#8a8a8a"/><rect x="42.42" y="146.00" width="0.38" height="0.7" fill="#7a7a7a"/><rect x="37.20" y="147.45" width="1.48" height="0.7" fill="#bcbcbc"/><rect x="38.68" y="147.45" width="0.67" height="0.7" fill="#7a7a7a"/><rect x="39.36" y="147.45" width="0.74" height="0.7" fill="#bcbcbc"/><rect x="40.10" y="147.45" width="0.53" height="0.7" fill="#9a9a9a"/><rect x="42.35" y="147.45" width="0.45" height="0.7" fill="#8a8a8a"/><rect x="39.87" y="148.90" width="0.79" height="0.7" fill="#7a7a7a"/><rect x="41.32" y="148.90" width="0.79" height="0.7" fill="#7a7a7a"/><rect x="42.11" y="148.90" width="0.69" height="0.7" fill="#7a7a7a"/><rect x="37.20" y="150.35" width="1.59" height="0.7" fill="#bcbcbc"/><rect x="38.79" y="150.35" width="1.27" height="0.7" fill="#8a8a8a"/><rect x="41.72" y="150.35" width="1.08" height="0.7" fill="#bcbcbc"/><rect x="42.12" y="151.80" width="0.68" height="0.7" fill="#aaaaaa"/><rect x="37.78" y="153.25" width="1.47" height="0.7" fill="#7a7a7a"/><rect x="42.05" y="153.25" width="0.75" height="0.7" fill="#9a9a9a"/><rect x="38.33" y="154.70" width="1.24" height="0.7" fill="#aaaaaa"/><rect x="39.57" y="154.70" width="1.07" height="0.7" fill="#9a9a9a"/><rect x="40.64" y="154.70" width="1.05" height="0.7" fill="#9a9a9a"/><rect x="41.68" y="154.70" width="1.12" height="0.7" fill="#bcbcbc"/><rect x="37.20" y="156.15" width="1.20" height="0.7" fill="#bcbcbc"/><rect x="38.40" y="156.15" width="0.51" height="0.7" fill="#aaaaaa"/><rect x="38.91" y="156.15" width="0.73" height="0.7" fill="#7a7a7a"/><rect x="39.64" y="156.15" width="0.81" height="0.7" fill="#8a8a8a"/><rect x="37.20" y="157.60" width="0.91" height="0.7" fill="#bcbcbc"/><rect x="38.11" y="157.60" width="0.88" height="0.7" fill="#7a7a7a"/><rect x="38.99" y="157.60" width="0.51" height="0.7" fill="#7a7a7a"/><rect x="40.08" y="157.60" width="1.12" height="0.7" fill="#8a8a8a"/><rect x="38.62" y="159.05" width="1.30" height="0.7" fill="#7a7a7a"/><rect x="39.92" y="159.05" width="1.14" height="0.7" fill="#9a9a9a"/><rect x="41.81" y="159.05" width="0.99" height="0.7" fill="#8a8a8a"/><rect x="37.20" y="160.50" width="0.65" height="0.7" fill="#aaaaaa"/><rect x="37.85" y="160.50" width="0.59" height="0.7" fill="#7a7a7a"/><rect x="38.44" y="160.50" width="0.99" height="0.7" fill="#8a8a8a"/><rect x="41.75" y="160.50" width="1.05" height="0.7" fill="#bcbcbc"/><rect x="38.91" y="161.95" width="0.84" height="0.7" fill="#9a9a9a"/><rect x="41.32" y="161.95" width="1.34" height="0.7" fill="#bcbcbc"/><rect x="38.26" y="163.40" width="0.62" height="0.7" fill="#9a9a9a"/><rect x="38.87" y="163.40" width="1.24" height="0.7" fill="#aaaaaa"/><rect x="40.12" y="163.40" width="1.47" height="0.7" fill="#aaaaaa"/><rect x="41.58" y="163.40" width="0.86" height="0.7" fill="#bcbcbc"/><rect x="42.44" y="163.40" width="0.36" height="0.7" fill="#9a9a9a"/><rect x="37.20" y="164.85" width="0.80" height="0.7" fill="#7a7a7a"/><rect x="38.00" y="164.85" width="1.09" height="0.7" fill="#8a8a8a"/><rect x="39.10" y="164.85" width="0.64" height="0.7" fill="#bcbcbc"/><rect x="41.31" y="164.85" width="0.83" height="0.7" fill="#8a8a8a"/><rect x="39.48" y="166.30" width="1.41" height="0.7" fill="#7a7a7a"/><rect x="40.89" y="166.30" width="0.65" height="0.7" fill="#bcbcbc"/><rect x="42.08" y="166.30" width="0.72" height="0.7" fill="#9a9a9a"/><rect x="37.20" y="167.75" width="0.62" height="0.7" fill="#aaaaaa"/><rect x="39.12" y="167.75" width="1.33" height="0.7" fill="#7a7a7a"/><rect x="41.41" y="167.75" width="1.33" height="0.7" fill="#aaaaaa"/><rect x="37.20" y="169.20" width="0.75" height="0.7" fill="#8a8a8a"/><rect x="40.10" y="169.20" width="0.69" height="0.7" fill="#bcbcbc"/><rect x="40.79" y="169.20" width="1.36" height="0.7" fill="#bcbcbc"/><rect x="37.20" y="170.65" width="1.11" height="0.7" fill="#8a8a8a"/><rect x="38.31" y="170.65" width="1.07" height="0.7" fill="#7a7a7a"/><rect x="39.37" y="170.65" width="0.93" height="0.7" fill="#8a8a8a"/><rect x="40.31" y="170.65" width="0.73" height="0.7" fill="#bcbcbc"/><rect x="41.04" y="170.65" width="1.28" height="0.7" fill="#bcbcbc"/><rect x="42.32" y="170.65" width="0.48" height="0.7" fill="#7a7a7a"/><rect x="38.27" y="172.10" width="1.25" height="0.7" fill="#9a9a9a"/><rect x="39.52" y="172.10" width="0.95" height="0.7" fill="#8a8a8a"/><rect x="40.47" y="172.10" width="1.04" height="0.7" fill="#8a8a8a"/><rect x="41.51" y="172.10" width="1.29" height="0.7" fill="#bcbcbc"/><rect x="37.20" y="173.55" width="1.52" height="0.7" fill="#9a9a9a"/><rect x="38.72" y="173.55" width="1.55" height="0.7" fill="#7a7a7a"/><rect x="40.27" y="173.55" width="1.38" height="0.7" fill="#8a8a8a"/><rect x="41.66" y="173.55" width="1.02" height="0.7" fill="#aaaaaa"/><rect x="37.20" y="175.00" width="0.89" height="0.7" fill="#aaaaaa"/><rect x="39.57" y="175.00" width="1.34" height="0.7" fill="#9a9a9a"/><rect x="40.91" y="175.00" width="0.65" height="0.7" fill="#9a9a9a"/><rect x="41.57" y="175.00" width="0.87" height="0.7" fill="#aaaaaa"/><rect x="37.20" y="176.45" width="1.22" height="0.7" fill="#9a9a9a"/><rect x="38.42" y="176.45" width="1.25" height="0.7" fill="#7a7a7a"/><rect x="39.68" y="176.45" width="1.41" height="0.7" fill="#9a9a9a"/><rect x="41.09" y="176.45" width="1.49" height="0.7" fill="#aaaaaa"/><rect x="37.86" y="177.90" width="1.22" height="0.7" fill="#7a7a7a"/><rect x="40.87" y="177.90" width="1.18" height="0.7" fill="#8a8a8a"/><rect x="37.20" y="179.35" width="1.32" height="0.7" fill="#8a8a8a"/><rect x="39.11" y="179.35" width="1.30" height="0.7" fill="#8a8a8a"/><rect x="40.94" y="179.35" width="0.60" height="0.7" fill="#7a7a7a"/><rect x="41.54" y="179.35" width="0.68" height="0.7" fill="#aaaaaa"/><rect x="42.22" y="179.35" width="0.58" height="0.7" fill="#7a7a7a"/><rect x="38.30" y="180.80" width="0.87" height="0.7" fill="#7a7a7a"/><rect x="39.17" y="180.80" width="1.11" height="0.7" fill="#8a8a8a"/><rect x="40.27" y="180.80" width="0.91" height="0.7" fill="#7a7a7a"/><rect x="41.86" y="180.80" width="0.54" height="0.7" fill="#9a9a9a"/><rect x="42.40" y="180.80" width="0.40" height="0.7" fill="#7a7a7a"/><rect x="37.20" y="182.25" width="0.72" height="0.7" fill="#9a9a9a"/><rect x="37.92" y="182.25" width="1.26" height="0.7" fill="#bcbcbc"/><rect x="39.18" y="182.25" width="0.90" height="0.7" fill="#aaaaaa"/><rect x="40.08" y="182.25" width="1.52" height="0.7" fill="#bcbcbc"/><rect x="37.20" y="183.70" width="1.56" height="0.7" fill="#aaaaaa"/><rect x="38.76" y="183.70" width="0.96" height="0.7" fill="#aaaaaa"/><rect x="40.25" y="183.70" width="1.38" height="0.7" fill="#aaaaaa"/><rect x="41.63" y="183.70" width="0.75" height="0.7" fill="#7a7a7a"/><rect x="37.20" y="185.15" width="1.36" height="0.7" fill="#8a8a8a"/><rect x="40.07" y="185.15" width="1.05" height="0.7" fill="#7a7a7a"/><rect x="41.12" y="185.15" width="0.53" height="0.7" fill="#9a9a9a"/><rect x="38.97" y="186.60" width="1.14" height="0.7" fill="#8a8a8a"/><rect x="40.11" y="186.60" width="1.53" height="0.7" fill="#bcbcbc"/><rect x="41.64" y="186.60" width="0.78" height="0.7" fill="#9a9a9a"/><rect x="37.80" y="188.05" width="0.51" height="0.7" fill="#bcbcbc"/><rect x="38.31" y="188.05" width="1.49" height="0.7" fill="#7a7a7a"/><rect x="39.81" y="188.05" width="1.45" height="0.7" fill="#bcbcbc"/><rect x="37.20" y="189.50" width="1.10" height="0.7" fill="#8a8a8a"/><rect x="38.99" y="189.50" width="0.66" height="0.7" fill="#bcbcbc"/><rect x="39.65" y="189.50" width="0.70" height="0.7" fill="#7a7a7a"/><rect x="40.35" y="189.50" width="0.59" height="0.7" fill="#7a7a7a"/><rect x="41.58" y="189.50" width="0.63" height="0.7" fill="#bcbcbc"/><rect x="42.21" y="189.50" width="0.59" height="0.7" fill="#bcbcbc"/><rect x="37.20" y="190.95" width="0.62" height="0.7" fill="#aaaaaa"/><rect x="37.82" y="190.95" width="0.55" height="0.7" fill="#9a9a9a"/><rect x="39.74" y="190.95" width="1.16" height="0.7" fill="#bcbcbc"/><rect x="42.01" y="190.95" width="0.79" height="0.7" fill="#bcbcbc"/><rect x="38.27" y="192.40" width="0.78" height="0.7" fill="#aaaaaa"/><rect x="39.04" y="192.40" width="0.78" height="0.7" fill="#bcbcbc"/><rect x="39.83" y="192.40" width="1.11" height="0.7" fill="#aaaaaa"/><rect x="40.93" y="192.40" width="0.60" height="0.7" fill="#7a7a7a"/><rect x="41.53" y="192.40" width="0.94" height="0.7" fill="#9a9a9a"/><rect x="38.12" y="193.85" width="0.72" height="0.7" fill="#7a7a7a"/><rect x="41.43" y="193.85" width="1.37" height="0.7" fill="#9a9a9a"/><rect x="37.20" y="195.30" width="1.54" height="0.7" fill="#7a7a7a"/><rect x="38.74" y="195.30" width="1.53" height="0.7" fill="#7a7a7a"/><rect x="42.03" y="195.30" width="0.66" height="0.7" fill="#bcbcbc"/><rect x="37.20" y="196.75" width="0.94" height="0.7" fill="#aaaaaa"/><rect x="38.14" y="196.75" width="0.70" height="0.7" fill="#8a8a8a"/><rect x="39.61" y="196.75" width="1.56" height="0.7" fill="#aaaaaa"/><rect x="37.20" y="198.20" width="1.19" height="0.7" fill="#bcbcbc"/><rect x="38.39" y="198.20" width="0.81" height="0.7" fill="#aaaaaa"/><rect x="37.20" y="199.65" width="0.99" height="0.7" fill="#bcbcbc"/><rect x="38.19" y="199.65" width="1.48" height="0.7" fill="#7a7a7a"/><rect x="42.07" y="199.65" width="0.73" height="0.7" fill="#bcbcbc"/><rect x="37.20" y="201.10" width="1.55" height="0.7" fill="#bcbcbc"/><rect x="39.65" y="201.10" width="1.36" height="0.7" fill="#aaaaaa"/><rect x="41.01" y="201.10" width="1.19" height="0.7" fill="#bcbcbc"/><rect x="42.19" y="201.10" width="0.61" height="0.7" fill="#7a7a7a"/><rect x="39.32" y="202.55" width="1.44" height="0.7" fill="#bcbcbc"/><rect x="40.76" y="202.55" width="0.78" height="0.7" fill="#8a8a8a"/><rect x="37.71" y="204.00" width="1.14" height="0.7" fill="#aaaaaa"/><rect x="38.86" y="204.00" width="0.87" height="0.7" fill="#aaaaaa"/><rect x="39.72" y="204.00" width="1.08" height="0.7" fill="#9a9a9a"/><rect x="40.80" y="204.00" width="1.26" height="0.7" fill="#8a8a8a"/><rect x="42.06" y="204.00" width="0.74" height="0.7" fill="#aaaaaa"/><rect x="39.73" y="205.45" width="1.25" height="0.7" fill="#bcbcbc"/><rect x="40.98" y="205.45" width="1.52" height="0.7" fill="#aaaaaa"/><rect x="37.20" y="206.90" width="0.58" height="0.7" fill="#9a9a9a"/><rect x="37.78" y="206.90" width="1.07" height="0.7" fill="#7a7a7a"/><rect x="38.85" y="206.90" width="0.98" height="0.7" fill="#9a9a9a"/><rect x="39.83" y="206.90" width="1.60" height="0.7" fill="#9a9a9a"/><rect x="41.43" y="206.90" width="1.36" height="0.7" fill="#bcbcbc"/><rect x="37.20" y="208.35" width="1.52" height="0.7" fill="#8a8a8a"/><rect x="38.72" y="208.35" width="0.60" height="0.7" fill="#9a9a9a"/><rect x="39.32" y="208.35" width="0.61" height="0.7" fill="#8a8a8a"/><rect x="39.93" y="208.35" width="1.39" height="0.7" fill="#aaaaaa"/><rect x="41.32" y="208.35" width="0.96" height="0.7" fill="#aaaaaa"/><rect x="37.20" y="209.80" width="1.13" height="0.7" fill="#9a9a9a"/><rect x="40.53" y="209.80" width="0.53" height="0.7" fill="#aaaaaa"/><rect x="41.06" y="209.80" width="0.73" height="0.7" fill="#8a8a8a"/><rect x="41.78" y="209.80" width="0.83" height="0.7" fill="#bcbcbc"/><rect x="37.20" y="211.25" width="1.44" height="0.7" fill="#7a7a7a"/><rect x="38.64" y="211.25" width="0.85" height="0.7" fill="#7a7a7a"/><rect x="39.48" y="211.25" width="0.55" height="0.7" fill="#8a8a8a"/><rect x="40.04" y="211.25" width="1.18" height="0.7" fill="#7a7a7a"/><rect x="41.22" y="211.25" width="1.42" height="0.7" fill="#8a8a8a"/><rect x="37.20" y="212.70" width="1.14" height="0.7" fill="#9a9a9a"/><rect x="38.34" y="212.70" width="0.88" height="0.7" fill="#9a9a9a"/><rect x="39.79" y="212.70" width="1.53" height="0.7" fill="#bcbcbc"/><rect x="42.48" y="212.70" width="0.32" height="0.7" fill="#7a7a7a"/><rect x="37.20" y="214.15" width="1.12" height="0.7" fill="#aaaaaa"/><rect x="38.32" y="214.15" width="0.64" height="0.7" fill="#9a9a9a"/><rect x="38.96" y="214.15" width="1.00" height="0.7" fill="#9a9a9a"/><rect x="41.14" y="214.15" width="1.40" height="0.7" fill="#aaaaaa"/><rect x="37.20" y="215.60" width="1.28" height="0.7" fill="#9a9a9a"/><rect x="40.67" y="215.60" width="0.74" height="0.7" fill="#9a9a9a"/><rect x="41.40" y="215.60" width="1.35" height="0.7" fill="#7a7a7a"/><rect x="37.20" y="217.05" width="1.29" height="0.7" fill="#8a8a8a"/><rect x="38.49" y="217.05" width="1.04" height="0.7" fill="#9a9a9a"/><rect x="39.53" y="217.05" width="1.22" height="0.7" fill="#8a8a8a"/><rect x="40.75" y="217.05" width="1.08" height="0.7" fill="#7a7a7a"/><rect x="41.83" y="217.05" width="0.97" height="0.7" fill="#7a7a7a"/><rect x="38.14" y="218.50" width="0.52" height="0.7" fill="#7a7a7a"/><rect x="38.66" y="218.50" width="0.77" height="0.7" fill="#8a8a8a"/><rect x="39.43" y="218.50" width="0.75" height="0.7" fill="#7a7a7a"/><rect x="40.18" y="218.50" width="1.04" height="0.7" fill="#bcbcbc"/><rect x="41.22" y="218.50" width="1.47" height="0.7" fill="#bcbcbc"/><rect x="37.20" y="219.95" width="1.06" height="0.7" fill="#8a8a8a"/><rect x="42.36" y="219.95" width="0.44" height="0.7" fill="#bcbcbc"/><rect x="37.20" y="221.40" width="0.74" height="0.7" fill="#9a9a9a"/><rect x="37.94" y="221.40" width="1.09" height="0.7" fill="#9a9a9a"/><rect x="40.17" y="221.40" width="0.85" height="0.7" fill="#7a7a7a"/><rect x="41.02" y="221.40" width="0.91" height="0.7" fill="#aaaaaa"/><rect x="37.20" y="222.85" width="1.33" height="0.7" fill="#bcbcbc"/><rect x="38.53" y="222.85" width="1.22" height="0.7" fill="#8a8a8a"/><rect x="40.80" y="222.85" width="0.95" height="0.7" fill="#aaaaaa"/><rect x="37.20" y="224.30" width="0.82" height="0.7" fill="#aaaaaa"/><rect x="38.02" y="224.30" width="0.85" height="0.7" fill="#9a9a9a"/><rect x="38.87" y="224.30" width="1.54" height="0.7" fill="#8a8a8a"/><rect x="40.41" y="224.30" width="1.03" height="0.7" fill="#bcbcbc"/><rect x="41.44" y="224.30" width="0.85" height="0.7" fill="#8a8a8a"/><rect x="42.29" y="224.30" width="0.51" height="0.7" fill="#7a7a7a"/><rect x="38.16" y="225.75" width="1.09" height="0.7" fill="#aaaaaa"/><rect x="40.14" y="225.75" width="0.75" height="0.7" fill="#7a7a7a"/><rect x="40.89" y="225.75" width="1.05" height="0.7" fill="#bcbcbc"/><rect x="41.94" y="225.75" width="0.86" height="0.7" fill="#9a9a9a"/><rect x="37.20" y="227.20" width="0.62" height="0.7" fill="#8a8a8a"/><rect x="37.82" y="227.20" width="1.19" height="0.7" fill="#9a9a9a"/><rect x="39.01" y="227.20" width="0.93" height="0.7" fill="#aaaaaa"/><rect x="39.94" y="227.20" width="0.82" height="0.7" fill="#9a9a9a"/><rect x="40.76" y="227.20" width="1.15" height="0.7" fill="#aaaaaa"/><rect x="41.91" y="227.20" width="0.64" height="0.7" fill="#8a8a8a"/><rect x="38.25" y="228.65" width="1.14" height="0.7" fill="#7a7a7a"/><rect x="39.40" y="228.65" width="1.25" height="0.7" fill="#aaaaaa"/><rect x="40.64" y="228.65" width="0.84" height="0.7" fill="#aaaaaa"/><rect x="41.48" y="228.65" width="0.75" height="0.7" fill="#7a7a7a"/><rect x="42.24" y="228.65" width="0.56" height="0.7" fill="#8a8a8a"/><rect x="37.20" y="230.10" width="1.02" height="0.7" fill="#7a7a7a"/><rect x="38.22" y="230.10" width="1.47" height="0.7" fill="#8a8a8a"/><rect x="40.91" y="230.10" width="1.31" height="0.7" fill="#7a7a7a"/><rect x="37.20" y="231.55" width="0.85" height="0.7" fill="#7a7a7a"/><rect x="38.05" y="231.55" width="1.60" height="0.7" fill="#9a9a9a"/><rect x="39.65" y="231.55" width="1.15" height="0.7" fill="#aaaaaa"/><rect x="40.80" y="231.55" width="0.90" height="0.7" fill="#aaaaaa"/><rect x="41.70" y="231.55" width="1.10" height="0.7" fill="#8a8a8a"/><rect x="37.20" y="233.00" width="1.58" height="0.7" fill="#7a7a7a"/><rect x="38.78" y="233.00" width="0.94" height="0.7" fill="#9a9a9a"/><rect x="42.46" y="233.00" width="0.34" height="0.7" fill="#aaaaaa"/><rect x="37.20" y="234.45" width="0.70" height="0.7" fill="#9a9a9a"/><rect x="37.90" y="234.45" width="0.89" height="0.7" fill="#7a7a7a"/><rect x="39.63" y="234.45" width="0.52" height="0.7" fill="#7a7a7a"/><rect x="40.14" y="234.45" width="1.24" height="0.7" fill="#aaaaaa"/><rect x="41.39" y="234.45" width="1.38" height="0.7" fill="#bcbcbc"/><rect x="37.20" y="235.90" width="1.34" height="0.7" fill="#bcbcbc"/><rect x="38.54" y="235.90" width="0.68" height="0.7" fill="#9a9a9a"/><rect x="39.21" y="235.90" width="1.02" height="0.7" fill="#aaaaaa"/><rect x="41.11" y="235.90" width="0.91" height="0.7" fill="#aaaaaa"/><rect x="42.02" y="235.90" width="0.51" height="0.7" fill="#7a7a7a"/><rect x="37.20" y="237.35" width="0.92" height="0.7" fill="#aaaaaa"/><rect x="38.12" y="237.35" width="1.48" height="0.7" fill="#bcbcbc"/><rect x="39.60" y="237.35" width="0.81" height="0.7" fill="#bcbcbc"/><rect x="40.41" y="237.35" width="0.74" height="0.7" fill="#aaaaaa"/><rect x="42.44" y="237.35" width="0.36" height="0.7" fill="#bcbcbc"/><rect x="38.66" y="238.80" width="0.74" height="0.7" fill="#bcbcbc"/><rect x="40.98" y="238.80" width="1.39" height="0.7" fill="#aaaaaa"/><rect x="37.20" y="240.25" width="1.50" height="0.7" fill="#7a7a7a"/><rect x="38.70" y="240.25" width="0.92" height="0.7" fill="#bcbcbc"/><rect x="39.62" y="240.25" width="1.22" height="0.7" fill="#bcbcbc"/><rect x="40.83" y="240.25" width="1.25" height="0.7" fill="#aaaaaa"/><rect x="37.20" y="241.70" width="0.62" height="0.7" fill="#9a9a9a"/><rect x="37.82" y="241.70" width="1.49" height="0.7" fill="#8a8a8a"/><rect x="37.20" y="243.15" width="1.42" height="0.7" fill="#aaaaaa"/><rect x="39.43" y="243.15" width="0.67" height="0.7" fill="#7a7a7a"/><rect x="40.10" y="243.15" width="0.70" height="0.7" fill="#bcbcbc"/><rect x="40.80" y="243.15" width="1.06" height="0.7" fill="#8a8a8a"/><rect x="41.86" y="243.15" width="0.94" height="0.7" fill="#aaaaaa"/><rect x="38.57" y="244.60" width="0.64" height="0.7" fill="#bcbcbc"/><rect x="39.20" y="244.60" width="0.99" height="0.7" fill="#8a8a8a"/><rect x="41.77" y="244.60" width="1.03" height="0.7" fill="#7a7a7a"/><rect x="37.20" y="246.05" width="1.10" height="0.7" fill="#9a9a9a"/><rect x="39.46" y="246.05" width="1.54" height="0.7" fill="#aaaaaa"/><rect x="40.99" y="246.05" width="0.72" height="0.7" fill="#7a7a7a"/><rect x="41.71" y="246.05" width="1.09" height="0.7" fill="#bcbcbc"/><rect x="37.20" y="247.50" width="1.24" height="0.7" fill="#bcbcbc"/><rect x="38.44" y="247.50" width="1.57" height="0.7" fill="#aaaaaa"/><rect x="40.01" y="247.50" width="0.89" height="0.7" fill="#aaaaaa"/><rect x="40.90" y="247.50" width="1.16" height="0.7" fill="#bcbcbc"/><rect x="38.57" y="248.95" width="1.03" height="0.7" fill="#8a8a8a"/><rect x="39.60" y="248.95" width="0.78" height="0.7" fill="#7a7a7a"/><rect x="40.37" y="248.95" width="0.83" height="0.7" fill="#8a8a8a"/><rect x="41.21" y="248.95" width="1.00" height="0.7" fill="#7a7a7a"/><rect x="42.20" y="248.95" width="0.60" height="0.7" fill="#bcbcbc"/><rect x="37.20" y="250.40" width="0.67" height="0.7" fill="#bcbcbc"/><rect x="37.87" y="250.40" width="1.05" height="0.7" fill="#7a7a7a"/><rect x="38.91" y="250.40" width="0.85" height="0.7" fill="#9a9a9a"/><rect x="39.77" y="250.40" width="1.52" height="0.7" fill="#8a8a8a"/><rect x="37.20" y="251.85" width="1.47" height="0.7" fill="#aaaaaa"/><rect x="38.67" y="251.85" width="1.14" height="0.7" fill="#aaaaaa"/><rect x="37.20" y="253.30" width="1.12" height="0.7" fill="#9a9a9a"/><rect x="38.32" y="253.30" width="0.88" height="0.7" fill="#aaaaaa"/><rect x="39.20" y="253.30" width="1.49" height="0.7" fill="#8a8a8a"/><rect x="40.69" y="253.30" width="1.21" height="0.7" fill="#7a7a7a"/><rect x="37.20" y="254.75" width="0.63" height="0.7" fill="#8a8a8a"/><rect x="37.83" y="254.75" width="0.76" height="0.7" fill="#8a8a8a"/><rect x="38.59" y="254.75" width="1.03" height="0.7" fill="#9a9a9a"/><rect x="41.17" y="254.75" width="1.54" height="0.7" fill="#aaaaaa"/><rect x="38.49" y="256.20" width="1.19" height="0.7" fill="#aaaaaa"/><rect x="40.76" y="256.20" width="1.26" height="0.7" fill="#bcbcbc"/><rect x="42.03" y="256.20" width="0.56" height="0.7" fill="#bcbcbc"/><rect x="39.19" y="257.65" width="1.05" height="0.7" fill="#7a7a7a"/><rect x="38.71" y="259.10" width="1.47" height="0.7" fill="#bcbcbc"/><rect x="40.17" y="259.10" width="0.61" height="0.7" fill="#aaaaaa"/><rect x="40.78" y="259.10" width="1.33" height="0.7" fill="#7a7a7a"/><rect x="42.11" y="259.10" width="0.69" height="0.7" fill="#bcbcbc"/><rect x="37.20" y="260.55" width="1.45" height="0.7" fill="#7a7a7a"/><rect x="38.65" y="260.55" width="1.40" height="0.7" fill="#bcbcbc"/><rect x="40.05" y="260.55" width="0.56" height="0.7" fill="#7a7a7a"/><rect x="40.60" y="260.55" width="0.75" height="0.7" fill="#8a8a8a"/><rect x="41.36" y="260.55" width="0.60" height="0.7" fill="#bcbcbc"/><rect x="38.38" y="262.00" width="0.56" height="0.7" fill="#8a8a8a"/><rect x="38.95" y="262.00" width="1.25" height="0.7" fill="#7a7a7a"/><rect x="40.81" y="262.00" width="1.57" height="0.7" fill="#9a9a9a"/><rect x="42.39" y="262.00" width="0.41" height="0.7" fill="#bcbcbc"/><rect x="37.20" y="263.45" width="1.33" height="0.7" fill="#7a7a7a"/><rect x="40.58" y="263.45" width="1.39" height="0.7" fill="#bcbcbc"/><rect x="41.97" y="263.45" width="0.83" height="0.7" fill="#7a7a7a"/><rect x="40.62" y="264.90" width="1.58" height="0.7" fill="#bcbcbc"/><rect x="37.20" y="266.35" width="1.43" height="0.7" fill="#bcbcbc"/><rect x="38.63" y="266.35" width="1.04" height="0.7" fill="#7a7a7a"/><rect x="39.67" y="266.35" width="0.78" height="0.7" fill="#8a8a8a"/><rect x="41.52" y="266.35" width="0.69" height="0.7" fill="#8a8a8a"/><rect x="42.20" y="266.35" width="0.60" height="0.7" fill="#7a7a7a"/><rect x="37.20" y="267.80" width="1.32" height="0.7" fill="#8a8a8a"/><rect x="39.48" y="267.80" width="0.80" height="0.7" fill="#9a9a9a"/><rect x="40.86" y="267.80" width="1.15" height="0.7" fill="#aaaaaa"/><rect x="42.02" y="267.80" width="0.63" height="0.7" fill="#9a9a9a"/><rect x="38.74" y="269.25" width="0.91" height="0.7" fill="#aaaaaa"/><rect x="39.65" y="269.25" width="1.22" height="0.7" fill="#aaaaaa"/><rect x="40.87" y="269.25" width="1.34" height="0.7" fill="#7a7a7a"/><rect x="42.21" y="269.25" width="0.59" height="0.7" fill="#7a7a7a"/><rect x="37.20" y="270.70" width="0.85" height="0.7" fill="#8a8a8a"/><rect x="39.64" y="270.70" width="0.97" height="0.7" fill="#aaaaaa"/><rect x="40.61" y="270.70" width="1.52" height="0.7" fill="#9a9a9a"/><rect x="42.13" y="270.70" width="0.67" height="0.7" fill="#7a7a7a"/><rect x="37.20" y="272.15" width="1.57" height="0.7" fill="#7a7a7a"/><rect x="39.98" y="272.15" width="1.39" height="0.7" fill="#9a9a9a"/><rect x="42.01" y="272.15" width="0.79" height="0.7" fill="#8a8a8a"/><rect x="37.20" y="273.60" width="1.45" height="0.7" fill="#bcbcbc"/><rect x="38.65" y="273.60" width="0.81" height="0.7" fill="#bcbcbc"/><rect x="39.46" y="273.60" width="1.00" height="0.7" fill="#aaaaaa"/><rect x="37.20" y="275.05" width="1.10" height="0.7" fill="#8a8a8a"/><rect x="38.30" y="275.05" width="0.54" height="0.7" fill="#8a8a8a"/><rect x="38.84" y="275.05" width="1.21" height="0.7" fill="#aaaaaa"/><rect x="40.04" y="275.05" width="0.51" height="0.7" fill="#7a7a7a"/><rect x="40.56" y="275.05" width="0.99" height="0.7" fill="#bcbcbc"/><rect x="41.55" y="275.05" width="1.25" height="0.7" fill="#7a7a7a"/><rect x="39.41" y="276.50" width="1.00" height="0.7" fill="#8a8a8a"/><rect x="37.20" y="277.95" width="1.38" height="0.7" fill="#bcbcbc"/><rect x="38.58" y="277.95" width="1.53" height="0.7" fill="#7a7a7a"/><rect x="40.11" y="277.95" width="1.06" height="0.7" fill="#8a8a8a"/><rect x="41.17" y="277.95" width="0.90" height="0.7" fill="#aaaaaa"/><rect x="42.07" y="277.95" width="0.73" height="0.7" fill="#bcbcbc"/><rect x="38.54" y="279.40" width="0.62" height="0.7" fill="#8a8a8a"/><rect x="39.16" y="279.40" width="0.72" height="0.7" fill="#bcbcbc"/><rect x="40.81" y="279.40" width="1.18" height="0.7" fill="#bcbcbc"/><rect x="38.13" y="280.85" width="1.15" height="0.7" fill="#aaaaaa"/><rect x="42.05" y="280.85" width="0.75" height="0.7" fill="#aaaaaa"/><rect x="37.20" y="282.30" width="0.56" height="0.7" fill="#aaaaaa"/><rect x="37.76" y="282.30" width="1.34" height="0.7" fill="#9a9a9a"/><rect x="39.09" y="282.30" width="0.66" height="0.7" fill="#9a9a9a"/><rect x="41.88" y="282.30" width="0.92" height="0.7" fill="#7a7a7a"/><rect x="38.35" y="283.75" width="1.04" height="0.7" fill="#7a7a7a"/><rect x="40.56" y="283.75" width="0.80" height="0.7" fill="#bcbcbc"/><rect x="41.36" y="283.75" width="1.16" height="0.7" fill="#9a9a9a"/><rect x="37.20" y="285.20" width="0.58" height="0.7" fill="#9a9a9a"/><rect x="37.78" y="285.20" width="1.36" height="0.7" fill="#8a8a8a"/><rect x="40.65" y="285.20" width="0.78" height="0.7" fill="#bcbcbc"/><rect x="37.20" y="286.65" width="0.90" height="0.7" fill="#7a7a7a"/><rect x="39.19" y="286.65" width="0.61" height="0.7" fill="#9a9a9a"/><rect x="39.79" y="286.65" width="0.96" height="0.7" fill="#aaaaaa"/><rect x="40.75" y="286.65" width="0.96" height="0.7" fill="#bcbcbc"/><rect x="41.71" y="286.65" width="0.67" height="0.7" fill="#7a7a7a"/><rect x="42.39" y="286.65" width="0.41" height="0.7" fill="#9a9a9a"/><rect x="40.35" y="288.10" width="1.21" height="0.7" fill="#9a9a9a"/><rect x="41.55" y="288.10" width="1.00" height="0.7" fill="#aaaaaa"/><rect x="37.20" y="289.55" width="0.64" height="0.7" fill="#aaaaaa"/><rect x="37.84" y="289.55" width="1.07" height="0.7" fill="#8a8a8a"/><rect x="38.92" y="289.55" width="0.69" height="0.7" fill="#bcbcbc"/><rect x="39.61" y="289.55" width="1.42" height="0.7" fill="#bcbcbc"/><rect x="37.20" y="291.00" width="1.35" height="0.7" fill="#9a9a9a"/><rect x="38.55" y="291.00" width="0.65" height="0.7" fill="#aaaaaa"/><rect x="39.20" y="291.00" width="0.88" height="0.7" fill="#7a7a7a"/><rect x="37.20" y="292.45" width="1.34" height="0.7" fill="#9a9a9a"/><rect x="38.54" y="292.45" width="1.56" height="0.7" fill="#9a9a9a"/><rect x="40.71" y="292.45" width="1.24" height="0.7" fill="#aaaaaa"/><rect x="41.95" y="292.45" width="0.85" height="0.7" fill="#aaaaaa"/><rect x="38.19" y="293.90" width="1.46" height="0.7" fill="#7a7a7a"/><rect x="39.65" y="293.90" width="0.87" height="0.7" fill="#8a8a8a"/><rect x="40.52" y="293.90" width="1.40" height="0.7" fill="#8a8a8a"/><rect x="41.92" y="293.90" width="0.88" height="0.7" fill="#8a8a8a"/><rect x="37.20" y="295.35" width="1.16" height="0.7" fill="#7a7a7a"/><rect x="38.36" y="295.35" width="1.13" height="0.7" fill="#9a9a9a"/><rect x="39.49" y="295.35" width="1.01" height="0.7" fill="#bcbcbc"/><rect x="40.51" y="295.35" width="1.28" height="0.7" fill="#9a9a9a"/><rect x="37.20" y="296.80" width="1.34" height="0.7" fill="#bcbcbc"/><rect x="38.54" y="296.80" width="0.70" height="0.7" fill="#bcbcbc"/><rect x="39.79" y="296.80" width="1.02" height="0.7" fill="#7a7a7a"/><rect x="42.08" y="296.80" width="0.60" height="0.7" fill="#bcbcbc"/><rect x="38.64" y="298.25" width="1.39" height="0.7" fill="#7a7a7a"/><rect x="40.02" y="298.25" width="1.47" height="0.7" fill="#9a9a9a"/><rect x="41.49" y="298.25" width="0.93" height="0.7" fill="#bcbcbc"/><rect x="42.42" y="298.25" width="0.38" height="0.7" fill="#aaaaaa"/><rect x="37.20" y="299.70" width="0.88" height="0.7" fill="#aaaaaa"/><rect x="38.08" y="299.70" width="1.06" height="0.7" fill="#9a9a9a"/><rect x="39.14" y="299.70" width="1.02" height="0.7" fill="#aaaaaa"/><rect x="40.16" y="299.70" width="0.71" height="0.7" fill="#aaaaaa"/><rect x="42.15" y="299.70" width="0.65" height="0.7" fill="#8a8a8a"/><rect x="37.98" y="301.15" width="1.04" height="0.7" fill="#7a7a7a"/><rect x="39.02" y="301.15" width="1.53" height="0.7" fill="#aaaaaa"/><rect x="41.56" y="301.15" width="1.24" height="0.7" fill="#bcbcbc"/><rect x="37.20" y="302.60" width="0.50" height="0.7" fill="#bcbcbc"/><rect x="37.70" y="302.60" width="0.98" height="0.7" fill="#8a8a8a"/><rect x="38.69" y="302.60" width="0.66" height="0.7" fill="#9a9a9a"/><rect x="40.42" y="302.60" width="1.43" height="0.7" fill="#aaaaaa"/><rect x="41.85" y="302.60" width="0.95" height="0.7" fill="#7a7a7a"/><rect x="37.20" y="304.05" width="0.51" height="0.7" fill="#8a8a8a"/><rect x="37.71" y="304.05" width="0.51" height="0.7" fill="#aaaaaa"/><rect x="38.23" y="304.05" width="1.49" height="0.7" fill="#7a7a7a"/><rect x="39.72" y="304.05" width="1.13" height="0.7" fill="#9a9a9a"/><rect x="40.85" y="304.05" width="1.10" height="0.7" fill="#aaaaaa"/><rect x="37.20" y="305.50" width="1.03" height="0.7" fill="#9a9a9a"/><rect x="38.23" y="305.50" width="0.74" height="0.7" fill="#aaaaaa"/><rect x="38.97" y="305.50" width="1.30" height="0.7" fill="#8a8a8a"/><rect x="40.27" y="305.50" width="1.25" height="0.7" fill="#aaaaaa"/><rect x="41.53" y="305.50" width="1.24" height="0.7" fill="#7a7a7a"/><rect x="37.20" y="306.95" width="1.08" height="0.7" fill="#bcbcbc"/><rect x="38.28" y="306.95" width="0.95" height="0.7" fill="#8a8a8a"/><rect x="39.23" y="306.95" width="1.52" height="0.7" fill="#aaaaaa"/><rect x="40.75" y="306.95" width="0.87" height="0.7" fill="#9a9a9a"/><rect x="37.20" y="308.40" width="1.24" height="0.7" fill="#aaaaaa"/><rect x="38.44" y="308.40" width="1.10" height="0.7" fill="#9a9a9a"/><rect x="39.54" y="308.40" width="1.06" height="0.7" fill="#aaaaaa"/><rect x="40.60" y="308.40" width="0.88" height="0.7" fill="#8a8a8a"/><rect x="41.47" y="308.40" width="1.33" height="0.7" fill="#bcbcbc"/><rect x="37.20" y="309.85" width="0.65" height="0.7" fill="#7a7a7a"/><rect x="38.68" y="309.85" width="1.08" height="0.7" fill="#bcbcbc"/><rect x="39.76" y="309.85" width="1.35" height="0.7" fill="#7a7a7a"/><rect x="42.03" y="309.85" width="0.77" height="0.7" fill="#aaaaaa"/><rect x="37.20" y="311.30" width="1.16" height="0.7" fill="#9a9a9a"/><rect x="39.84" y="311.30" width="1.15" height="0.7" fill="#8a8a8a"/><rect x="40.99" y="311.30" width="0.52" height="0.7" fill="#9a9a9a"/><rect x="41.51" y="311.30" width="0.98" height="0.7" fill="#9a9a9a"/><rect x="37.20" y="312.75" width="0.95" height="0.7" fill="#7a7a7a"/><rect x="38.15" y="312.75" width="0.99" height="0.7" fill="#aaaaaa"/><rect x="39.96" y="312.75" width="1.29" height="0.7" fill="#7a7a7a"/><rect x="42.29" y="312.75" width="0.51" height="0.7" fill="#9a9a9a"/><rect x="38.40" y="314.20" width="0.60" height="0.7" fill="#7a7a7a"/><rect x="39.01" y="314.20" width="0.98" height="0.7" fill="#7a7a7a"/><rect x="39.99" y="314.20" width="1.24" height="0.7" fill="#aaaaaa"/><rect x="37.20" y="315.65" width="0.53" height="0.7" fill="#aaaaaa"/><rect x="37.73" y="315.65" width="1.20" height="0.7" fill="#aaaaaa"/><rect x="38.92" y="315.65" width="0.62" height="0.7" fill="#7a7a7a"/><rect x="39.54" y="315.65" width="0.89" height="0.7" fill="#aaaaaa"/><rect x="41.59" y="315.65" width="0.59" height="0.7" fill="#7a7a7a"/><rect x="42.18" y="315.65" width="0.51" height="0.7" fill="#aaaaaa"/><rect x="37.20" y="317.10" width="0.64" height="0.7" fill="#bcbcbc"/><rect x="37.84" y="317.10" width="0.97" height="0.7" fill="#8a8a8a"/><rect x="38.82" y="317.10" width="0.68" height="0.7" fill="#bcbcbc"/><rect x="39.50" y="317.10" width="0.82" height="0.7" fill="#bcbcbc"/><rect x="41.89" y="317.10" width="0.91" height="0.7" fill="#bcbcbc"/><rect x="38.12" y="318.55" width="1.27" height="0.7" fill="#aaaaaa"/><rect x="39.38" y="318.55" width="0.63" height="0.7" fill="#8a8a8a"/><rect x="40.01" y="318.55" width="1.31" height="0.7" fill="#8a8a8a"/><rect x="41.32" y="318.55" width="0.66" height="0.7" fill="#bcbcbc"/><rect x="41.98" y="318.55" width="0.82" height="0.7" fill="#7a7a7a"/><rect x="37.92" y="320.00" width="1.31" height="0.7" fill="#8a8a8a"/><rect x="39.23" y="320.00" width="0.74" height="0.7" fill="#7a7a7a"/><rect x="39.97" y="320.00" width="0.65" height="0.7" fill="#aaaaaa"/><rect x="37.20" y="321.45" width="1.06" height="0.7" fill="#7a7a7a"/><rect x="39.26" y="321.45" width="1.33" height="0.7" fill="#7a7a7a"/><rect x="41.58" y="321.45" width="0.91" height="0.7" fill="#9a9a9a"/><rect x="42.50" y="321.45" width="0.30" height="0.7" fill="#8a8a8a"/><rect x="37.20" y="322.90" width="1.21" height="0.7" fill="#aaaaaa"/><rect x="38.41" y="322.90" width="1.54" height="0.7" fill="#aaaaaa"/><rect x="39.95" y="322.90" width="1.57" height="0.7" fill="#9a9a9a"/><rect x="41.51" y="322.90" width="0.96" height="0.7" fill="#9a9a9a"/><rect x="42.48" y="322.90" width="0.32" height="0.7" fill="#aaaaaa"/><rect x="38.09" y="324.35" width="0.85" height="0.7" fill="#9a9a9a"/><rect x="38.95" y="324.35" width="1.52" height="0.7" fill="#7a7a7a"/><rect x="40.47" y="324.35" width="1.23" height="0.7" fill="#bcbcbc"/><rect x="41.70" y="324.35" width="1.10" height="0.7" fill="#8a8a8a"/><rect x="37.20" y="325.80" width="1.25" height="0.7" fill="#aaaaaa"/><rect x="39.21" y="325.80" width="0.95" height="0.7" fill="#8a8a8a"/><rect x="40.17" y="325.80" width="1.59" height="0.7" fill="#7a7a7a"/><rect x="41.76" y="325.80" width="1.04" height="0.7" fill="#8a8a8a"/><rect x="37.20" y="327.25" width="1.39" height="0.7" fill="#aaaaaa"/><rect x="38.59" y="327.25" width="1.34" height="0.7" fill="#aaaaaa"/><rect x="39.93" y="327.25" width="1.58" height="0.7" fill="#bcbcbc"/><rect x="41.51" y="327.25" width="1.09" height="0.7" fill="#9a9a9a"/><rect x="37.20" y="328.70" width="0.65" height="0.7" fill="#9a9a9a"/><rect x="37.85" y="328.70" width="1.41" height="0.7" fill="#bcbcbc"/><rect x="40.40" y="328.70" width="0.71" height="0.7" fill="#aaaaaa"/><rect x="41.11" y="328.70" width="0.86" height="0.7" fill="#aaaaaa"/><rect x="41.97" y="328.70" width="0.83" height="0.7" fill="#7a7a7a"/><rect x="37.20" y="330.15" width="0.57" height="0.7" fill="#bcbcbc"/><rect x="39.38" y="330.15" width="1.45" height="0.7" fill="#9a9a9a"/><rect x="40.82" y="330.15" width="1.08" height="0.7" fill="#8a8a8a"/><rect x="39.86" y="331.60" width="1.04" height="0.7" fill="#aaaaaa"/><rect x="41.90" y="331.60" width="0.90" height="0.7" fill="#bcbcbc"/><rect x="37.20" y="333.05" width="0.61" height="0.7" fill="#8a8a8a"/><rect x="37.81" y="333.05" width="1.34" height="0.7" fill="#9a9a9a"/><rect x="39.15" y="333.05" width="0.81" height="0.7" fill="#7a7a7a"/><rect x="39.96" y="333.05" width="0.52" height="0.7" fill="#bcbcbc"/><rect x="40.48" y="333.05" width="0.77" height="0.7" fill="#bcbcbc"/><rect x="41.25" y="333.05" width="0.70" height="0.7" fill="#aaaaaa"/><rect x="41.95" y="333.05" width="0.58" height="0.7" fill="#9a9a9a"/><rect x="38.14" y="334.50" width="1.30" height="0.7" fill="#bcbcbc"/><rect x="39.44" y="334.50" width="0.70" height="0.7" fill="#8a8a8a"/><rect x="40.15" y="334.50" width="1.21" height="0.7" fill="#8a8a8a"/><rect x="37.20" y="335.95" width="1.24" height="0.7" fill="#8a8a8a"/><rect x="38.44" y="335.95" width="1.18" height="0.7" fill="#bcbcbc"/><rect x="39.61" y="335.95" width="1.25" height="0.7" fill="#9a9a9a"/><rect x="41.84" y="335.95" width="0.96" height="0.7" fill="#8a8a8a"/><rect x="37.20" y="337.40" width="1.08" height="0.7" fill="#aaaaaa"/><rect x="38.28" y="337.40" width="0.66" height="0.7" fill="#7a7a7a"/><rect x="38.94" y="337.40" width="0.97" height="0.7" fill="#aaaaaa"/><rect x="39.92" y="337.40" width="0.78" height="0.7" fill="#8a8a8a"/><rect x="40.70" y="337.40" width="0.66" height="0.7" fill="#9a9a9a"/><rect x="41.36" y="337.40" width="0.90" height="0.7" fill="#aaaaaa"/><rect x="42.26" y="337.40" width="0.54" height="0.7" fill="#8a8a8a"/><rect x="37.78" y="338.85" width="1.26" height="0.7" fill="#aaaaaa"/><rect x="39.04" y="338.85" width="1.51" height="0.7" fill="#7a7a7a"/><rect x="40.55" y="338.85" width="0.75" height="0.7" fill="#bcbcbc"/><rect x="41.29" y="338.85" width="1.08" height="0.7" fill="#7a7a7a"/><rect x="42.38" y="338.85" width="0.42" height="0.7" fill="#aaaaaa"/><rect x="37.20" y="340.30" width="0.56" height="0.7" fill="#8a8a8a"/><rect x="38.46" y="340.30" width="1.34" height="0.7" fill="#aaaaaa"/><rect x="39.80" y="340.30" width="0.56" height="0.7" fill="#9a9a9a"/><rect x="40.36" y="340.30" width="1.27" height="0.7" fill="#bcbcbc"/><rect x="42.18" y="340.30" width="0.62" height="0.7" fill="#aaaaaa"/><rect x="37.20" y="341.75" width="0.98" height="0.7" fill="#8a8a8a"/><rect x="38.18" y="341.75" width="0.88" height="0.7" fill="#bcbcbc"/><rect x="39.06" y="341.75" width="1.01" height="0.7" fill="#8a8a8a"/><rect x="41.59" y="341.75" width="1.21" height="0.7" fill="#aaaaaa"/><rect x="37.20" y="343.20" width="0.87" height="0.7" fill="#8a8a8a"/><rect x="40.30" y="343.20" width="0.65" height="0.7" fill="#9a9a9a"/><rect x="40.95" y="343.20" width="0.79" height="0.7" fill="#bcbcbc"/><rect x="41.74" y="343.20" width="1.06" height="0.7" fill="#8a8a8a"/><rect x="38.16" y="344.65" width="0.78" height="0.7" fill="#aaaaaa"/><rect x="38.94" y="344.65" width="1.46" height="0.7" fill="#8a8a8a"/><rect x="41.43" y="344.65" width="1.26" height="0.7" fill="#bcbcbc"/><rect x="37.20" y="346.10" width="0.94" height="0.7" fill="#aaaaaa"/><rect x="38.14" y="346.10" width="1.51" height="0.7" fill="#bcbcbc"/><rect x="40.87" y="346.10" width="1.55" height="0.7" fill="#bcbcbc"/><rect x="37.20" y="347.55" width="1.58" height="0.7" fill="#8a8a8a"/><rect x="38.78" y="347.55" width="1.29" height="0.7" fill="#9a9a9a"/><rect x="40.07" y="347.55" width="1.47" height="0.7" fill="#aaaaaa"/><rect x="42.17" y="347.55" width="0.63" height="0.7" fill="#9a9a9a"/><rect x="37.20" y="349.00" width="1.11" height="0.7" fill="#8a8a8a"/><rect x="38.31" y="349.00" width="1.16" height="0.7" fill="#aaaaaa"/><rect x="39.47" y="349.00" width="1.48" height="0.7" fill="#9a9a9a"/><rect x="40.95" y="349.00" width="0.91" height="0.7" fill="#aaaaaa"/><rect x="41.86" y="349.00" width="0.94" height="0.7" fill="#8a8a8a"/><rect x="37.20" y="350.45" width="1.05" height="0.7" fill="#bcbcbc"/><rect x="38.97" y="350.45" width="1.12" height="0.7" fill="#bcbcbc"/><rect x="41.18" y="350.45" width="1.47" height="0.7" fill="#aaaaaa"/><rect x="37.20" y="351.90" width="0.66" height="0.7" fill="#aaaaaa"/><rect x="39.03" y="351.90" width="0.72" height="0.7" fill="#bcbcbc"/><rect x="39.75" y="351.90" width="1.37" height="0.7" fill="#bcbcbc"/><rect x="42.05" y="351.90" width="0.75" height="0.7" fill="#bcbcbc"/><rect x="38.10" y="353.35" width="1.04" height="0.7" fill="#7a7a7a"/><rect x="39.85" y="353.35" width="1.26" height="0.7" fill="#7a7a7a"/><rect x="41.11" y="353.35" width="0.60" height="0.7" fill="#bcbcbc"/><rect x="42.27" y="353.35" width="0.53" height="0.7" fill="#9a9a9a"/><rect x="37.20" y="354.80" width="1.45" height="0.7" fill="#8a8a8a"/><rect x="38.65" y="354.80" width="1.20" height="0.7" fill="#7a7a7a"/><rect x="41.29" y="354.80" width="0.56" height="0.7" fill="#aaaaaa"/><rect x="38.09" y="356.25" width="1.49" height="0.7" fill="#bcbcbc"/><rect x="39.58" y="356.25" width="1.51" height="0.7" fill="#aaaaaa"/><rect x="37.20" y="357.70" width="0.87" height="0.7" fill="#9a9a9a"/><rect x="39.66" y="357.70" width="1.38" height="0.7" fill="#9a9a9a"/><rect x="41.05" y="357.70" width="0.85" height="0.7" fill="#bcbcbc"/><rect x="37.20" y="359.15" width="1.56" height="0.7" fill="#aaaaaa"/><rect x="38.76" y="359.15" width="1.07" height="0.7" fill="#9a9a9a"/><rect x="39.83" y="359.15" width="1.40" height="0.7" fill="#9a9a9a"/><rect x="41.23" y="359.15" width="1.28" height="0.7" fill="#7a7a7a"/><rect x="37.20" y="360.60" width="0.79" height="0.7" fill="#bcbcbc"/><rect x="37.20" y="362.05" width="0.70" height="0.7" fill="#8a8a8a"/><rect x="37.90" y="362.05" width="1.02" height="0.7" fill="#bcbcbc"/><rect x="38.92" y="362.05" width="1.02" height="0.7" fill="#aaaaaa"/><rect x="37.20" y="363.50" width="0.90" height="0.7" fill="#aaaaaa"/><rect x="38.10" y="363.50" width="1.33" height="0.7" fill="#8a8a8a"/><rect x="41.86" y="363.50" width="0.94" height="0.7" fill="#bcbcbc"/><rect x="37.93" y="364.95" width="0.79" height="0.7" fill="#aaaaaa"/><rect x="40.28" y="364.95" width="1.12" height="0.7" fill="#9a9a9a"/><rect x="41.40" y="364.95" width="1.30" height="0.7" fill="#8a8a8a"/><rect x="38.12" y="366.40" width="0.89" height="0.7" fill="#7a7a7a"/><rect x="39.01" y="366.40" width="0.58" height="0.7" fill="#9a9a9a"/><rect x="39.59" y="366.40" width="0.81" height="0.7" fill="#9a9a9a"/><rect x="37.20" y="367.85" width="1.12" height="0.7" fill="#aaaaaa"/><rect x="38.32" y="367.85" width="1.40" height="0.7" fill="#bcbcbc"/><rect x="39.72" y="367.85" width="1.17" height="0.7" fill="#8a8a8a"/><rect x="40.88" y="367.85" width="0.65" height="0.7" fill="#7a7a7a"/><rect x="41.53" y="367.85" width="0.54" height="0.7" fill="#bcbcbc"/><rect x="42.07" y="367.85" width="0.73" height="0.7" fill="#bcbcbc"/><rect x="37.20" y="369.30" width="1.00" height="0.7" fill="#aaaaaa"/><rect x="38.20" y="369.30" width="1.54" height="0.7" fill="#bcbcbc"/><rect x="39.74" y="369.30" width="0.63" height="0.7" fill="#9a9a9a"/><rect x="40.37" y="369.30" width="0.65" height="0.7" fill="#8a8a8a"/><rect x="41.03" y="369.30" width="0.90" height="0.7" fill="#aaaaaa"/><rect x="41.93" y="369.30" width="0.63" height="0.7" fill="#aaaaaa"/><rect x="37.20" y="370.75" width="0.56" height="0.7" fill="#aaaaaa"/><rect x="37.76" y="370.75" width="0.85" height="0.7" fill="#8a8a8a"/><rect x="38.61" y="370.75" width="1.57" height="0.7" fill="#7a7a7a"/><rect x="40.18" y="370.75" width="0.75" height="0.7" fill="#bcbcbc"/><rect x="40.93" y="370.75" width="0.80" height="0.7" fill="#8a8a8a"/><rect x="41.72" y="370.75" width="0.61" height="0.7" fill="#bcbcbc"/><rect x="42.33" y="370.75" width="0.47" height="0.7" fill="#8a8a8a"/><rect x="37.20" y="372.20" width="0.56" height="0.7" fill="#bcbcbc"/><rect x="38.91" y="372.20" width="1.15" height="0.7" fill="#9a9a9a"/><rect x="40.06" y="372.20" width="0.82" height="0.7" fill="#bcbcbc"/><rect x="41.75" y="372.20" width="1.03" height="0.7" fill="#7a7a7a"/><rect x="37.20" y="373.65" width="1.19" height="0.7" fill="#bcbcbc"/><rect x="38.39" y="373.65" width="1.08" height="0.7" fill="#9a9a9a"/><rect x="39.47" y="373.65" width="1.03" height="0.7" fill="#bcbcbc"/><rect x="41.26" y="373.65" width="0.89" height="0.7" fill="#8a8a8a"/><rect x="42.15" y="373.65" width="0.65" height="0.7" fill="#8a8a8a"/><rect x="38.41" y="375.10" width="0.69" height="0.7" fill="#aaaaaa"/><rect x="39.10" y="375.10" width="1.12" height="0.7" fill="#8a8a8a"/><rect x="40.22" y="375.10" width="1.34" height="0.7" fill="#8a8a8a"/><rect x="41.56" y="375.10" width="1.02" height="0.7" fill="#aaaaaa"/><rect x="37.20" y="376.55" width="0.52" height="0.7" fill="#7a7a7a"/><rect x="38.37" y="376.55" width="1.12" height="0.7" fill="#bcbcbc"/><rect x="39.50" y="376.55" width="0.99" height="0.7" fill="#8a8a8a"/><rect x="40.49" y="376.55" width="1.08" height="0.7" fill="#bcbcbc"/><rect x="41.57" y="376.55" width="0.93" height="0.7" fill="#9a9a9a"/><rect x="42.50" y="376.55" width="0.30" height="0.7" fill="#7a7a7a"/><rect x="38.14" y="378.00" width="0.93" height="0.7" fill="#8a8a8a"/><rect x="39.07" y="378.00" width="0.93" height="0.7" fill="#8a8a8a"/><rect x="40.00" y="378.00" width="0.60" height="0.7" fill="#aaaaaa"/><rect x="40.59" y="378.00" width="1.48" height="0.7" fill="#7a7a7a"/><rect x="42.07" y="378.00" width="0.73" height="0.7" fill="#9a9a9a"/><rect x="37.20" y="379.45" width="0.70" height="0.7" fill="#bcbcbc"/><rect x="37.90" y="379.45" width="1.46" height="0.7" fill="#7a7a7a"/><rect x="39.36" y="379.45" width="0.70" height="0.7" fill="#aaaaaa"/><rect x="40.06" y="379.45" width="1.18" height="0.7" fill="#8a8a8a"/><rect x="41.24" y="379.45" width="1.45" height="0.7" fill="#9a9a9a"/><rect x="37.20" y="380.90" width="0.78" height="0.7" fill="#8a8a8a"/><rect x="37.98" y="380.90" width="0.51" height="0.7" fill="#7a7a7a"/><rect x="38.49" y="380.90" width="1.54" height="0.7" fill="#bcbcbc"/><rect x="40.03" y="380.90" width="0.72" height="0.7" fill="#aaaaaa"/><rect x="42.32" y="380.90" width="0.48" height="0.7" fill="#bcbcbc"/><rect x="37.20" y="382.35" width="1.50" height="0.7" fill="#9a9a9a"/><rect x="38.70" y="382.35" width="1.38" height="0.7" fill="#9a9a9a"/><rect x="42.34" y="382.35" width="0.46" height="0.7" fill="#9a9a9a"/><rect x="39.85" y="383.80" width="1.26" height="0.7" fill="#bcbcbc"/><rect x="41.11" y="383.80" width="1.06" height="0.7" fill="#9a9a9a"/><rect x="37.20" y="385.25" width="0.84" height="0.7" fill="#aaaaaa"/><rect x="41.03" y="385.25" width="0.71" height="0.7" fill="#7a7a7a"/><rect x="41.74" y="385.25" width="1.06" height="0.7" fill="#aaaaaa"/><rect x="38.50" y="386.70" width="1.06" height="0.7" fill="#bcbcbc"/><rect x="39.56" y="386.70" width="0.99" height="0.7" fill="#bcbcbc"/><rect x="40.56" y="386.70" width="1.50" height="0.7" fill="#7a7a7a"/><rect x="38.18" y="388.15" width="1.41" height="0.7" fill="#8a8a8a"/><rect x="39.59" y="388.15" width="1.56" height="0.7" fill="#aaaaaa"/><rect x="41.15" y="388.15" width="1.53" height="0.7" fill="#7a7a7a"/><rect x="38.64" y="389.60" width="1.32" height="0.7" fill="#8a8a8a"/><rect x="39.97" y="389.60" width="0.91" height="0.7" fill="#9a9a9a"/><rect x="38.38" y="391.05" width="1.26" height="0.7" fill="#bcbcbc"/><rect x="41.88" y="391.05" width="0.92" height="0.7" fill="#9a9a9a"/><rect x="37.20" y="392.50" width="1.25" height="0.7" fill="#aaaaaa"/><rect x="39.82" y="392.50" width="0.75" height="0.7" fill="#9a9a9a"/><rect x="40.57" y="392.50" width="0.92" height="0.7" fill="#7a7a7a"/><rect x="41.49" y="392.50" width="1.31" height="0.7" fill="#7a7a7a"/><rect x="37.20" y="393.95" width="0.93" height="0.7" fill="#aaaaaa"/><rect x="38.13" y="393.95" width="1.53" height="0.7" fill="#7a7a7a"/><rect x="40.98" y="393.95" width="1.23" height="0.7" fill="#8a8a8a"/></g>
<path fill="none" stroke="#8a8a8a" stroke-width="0.45" d="M19.10,16.39H17.38V18.76H19.10M19.10,21.13H18.05V23.50H19.10M17.38,17.57H15.81V22.32H18.05M19.10,28.25H18.09V30.62H19.10M19.10,25.88H15.85V29.44H18.09M15.81,19.95H14.30V27.66H15.85M19.10,32.99H16.25V35.37H19.10M14.30,23.80H13.70V34.18H16.25M19.10,37.74H16.19V40.11H19.10M19.10,42.48H16.73V44.86H19.10M19.10,47.23H17.26V49.60H19.10M16.73,43.67H15.60V48.41H17.26M16.19,38.92H15.00V46.04H15.60M19.10,51.97H17.74V54.35H19.10M17.74,53.16H17.02V56.72H19.10M17.02,54.94H16.42V59.09H19.10M15.00,42.48H14.40V57.02H16.42M13.70,28.99H5.10V49.75H14.40M19.10,61.46H16.84V63.84H19.10M19.10,66.21H18.18V68.58H19.10M18.18,67.39H16.97V70.95H19.10M16.84,62.65H15.68V69.17H16.97M19.10,73.33H18.03V75.70H19.10M18.03,74.51H17.43V78.07H19.10M15.68,65.91H15.08V76.29H17.43M19.10,80.44H18.33V82.82H19.10M15.08,71.10H14.48V81.63H18.33M19.10,85.19H16.36V87.56H19.10M19.10,89.93H18.04V92.31H19.10M18.04,91.12H17.44V94.68H19.10M16.36,86.38H15.71V92.90H17.44M19.10,99.42H18.06V101.80H19.10M19.10,97.05H15.37V100.61H18.06M15.71,89.64H13.85V98.83H15.37M19.10,104.17H16.43V106.54H19.10M16.43,105.36H15.46V108.91H19.10M15.46,107.13H14.86V111.29H19.10M19.10,113.66H18.48V116.03H19.10M19.10,118.40H16.88V120.78H19.10M18.48,114.84H14.91V119.59H16.88M14.86,109.21H13.99V117.22H14.91M13.85,94.23H13.25V113.21H13.99M14.48,76.37H4.50V103.72H13.25M19.10,123.15H17.69V125.52H19.10M17.69,124.34H16.07V127.89H19.10M19.10,130.27H16.77V132.64H19.10M19.10,135.01H16.95V137.38H19.10M19.10,139.76H17.55V142.13H19.10M16.95,136.20H16.35V140.94H17.55M16.77,131.45H15.75V138.57H16.35M16.07,126.11H9.50V135.01H15.75M19.10,144.50H18.45V146.87H19.10M19.10,149.25H17.53V151.62H19.10M18.45,145.69H15.29V150.43H17.53M19.10,153.99H16.59V156.36H19.10M15.29,148.06H8.50V155.18H16.59M19.10,158.74H18.43V161.11H19.10M19.10,163.48H17.60V165.85H19.10M18.43,159.92H16.66V164.67H17.60M19.10,168.23H16.40V170.60H19.10M16.66,162.29H13.83V169.41H16.40M19.10,172.97H18.13V175.34H19.10M19.10,177.72H16.85V180.09H19.10M18.13,174.16H16.09V178.90H16.85M19.10,182.46H16.70V184.83H19.10M19.10,187.21H17.77V189.58H19.10M17.77,188.39H17.17V191.95H19.10M16.70,183.65H15.57V190.17H17.17M16.09,176.53H14.66V186.91H15.57M13.83,165.85H13.03V181.72H14.66M19.10,194.32H16.80V196.70H19.10M19.10,201.44H17.04V203.81H19.10M19.10,199.07H15.27V202.63H17.04M16.80,195.51H14.33V200.85H15.27M13.03,173.79H8.00V198.18H14.33M19.10,208.56H17.53V210.93H19.10M19.10,206.19H16.93V209.75H17.53M16.93,207.97H16.33V213.30H19.10M19.10,215.68H17.83V218.05H19.10M16.33,210.63H15.73V216.86H17.83M15.73,213.75H13.86V220.42H19.10M19.10,222.79H18.05V225.17H19.10M18.05,223.98H16.90V227.54H19.10M16.90,225.76H16.17V229.91H19.10M19.10,232.28H16.99V234.66H19.10M16.17,227.84H14.44V233.47H16.99M14.44,230.65H13.84V237.03H19.10M19.10,239.40H17.89V241.77H19.10M17.89,240.59H17.29V244.15H19.10M13.84,233.84H13.24V242.37H17.29M19.10,246.52H17.55V248.89H19.10M19.10,251.26H16.50V253.64H19.10M17.55,247.70H15.90V252.45H16.50M19.10,256.01H18.11V258.38H19.10M18.11,257.20H17.51V260.75H19.10M15.90,250.08H15.06V258.97H17.51M13.24,238.10H10.80V254.53H15.06M13.86,217.08H5.70V246.31H10.80M19.10,263.13H17.95V265.50H19.10M19.10,267.87H16.70V270.24H19.10M19.10,272.62H17.34V274.99H19.10M16.70,269.06H15.99V273.80H17.34M17.95,264.31H15.39V271.43H15.99M19.10,277.36H16.65V279.73H19.10M19.10,284.48H17.35V286.85H19.10M19.10,282.11H16.75V285.66H17.35M16.65,278.55H16.05V283.89H16.75M15.39,267.87H13.24V281.22H16.05M19.10,289.22H17.87V291.60H19.10M17.87,290.41H17.27V293.97H19.10M19.10,296.34H17.18V298.71H19.10M17.27,292.19H15.42V297.53H17.18M13.24,274.54H11.50V294.86H15.42M19.10,301.09H17.86V303.46H19.10M17.86,302.27H17.14V305.83H19.10M19.10,310.58H17.23V312.95H19.10M19.10,308.20H15.79V311.76H17.23M17.14,304.05H13.70V309.98H15.79M19.10,315.32H16.91V317.69H19.10M19.10,320.07H18.50V322.44H19.10M16.91,316.51H15.90V321.25H18.50M19.10,327.18H18.24V329.56H19.10M19.10,324.81H15.31V328.37H18.24M15.90,318.88H13.50V326.59H15.31M13.70,307.02H12.82V322.74H13.50M19.10,331.93H17.24V334.30H19.10M19.10,336.67H16.49V339.05H19.10M19.10,341.42H17.66V343.79H19.10M17.66,342.61H16.64V346.16H19.10M16.49,337.86H15.83V344.38H16.64M17.24,333.12H13.65V341.12H15.83M19.10,348.54H17.79V350.91H19.10M17.79,349.72H17.06V353.28H19.10M13.65,337.12H13.05V351.50H17.06M19.10,355.65H17.86V358.03H19.10M17.86,356.84H15.15V360.40H19.10M19.10,362.77H17.82V365.14H19.10M19.10,367.52H17.62V369.89H19.10M17.82,363.96H15.05V368.70H17.62M15.15,358.62H14.13V366.33H15.05M13.05,344.31H12.45V362.47H14.13M12.82,314.88H11.43V353.39H12.45M19.10,372.26H18.39V374.63H19.10M19.10,377.01H17.23V379.38H19.10M17.23,378.19H16.63V381.75H19.10M19.10,384.12H18.26V386.50H19.10M16.63,379.97H15.76V385.31H18.26M18.39,373.45H15.16V382.64H15.76M19.10,388.87H17.99V391.24H19.10M17.99,390.05H17.39V393.61H19.10M15.16,378.04H13.03V391.83H17.39M11.43,334.13H10.30V384.94H13.03M11.50,284.70H8.20V359.54H10.30M5.70,231.70H3.20V322.12H8.20M0.5,39.37H5.10M0.5,90.04H4.50M0.5,130.56H9.50M0.5,151.62H8.50M0.5,185.98H8.00M0.5,276.91H3.20M0.5,39.37V276.91"/>
<text transform="translate(474.83,421.80) rotate(-27)" font-size="6.4" font-family="Liberation Sans, Arial, sans-serif" fill="#1a1a1a" stroke="#1a1a1a" stroke-width="0.12" >E15</text>
<text transform="translate(488.43,421.80) rotate(-27)" font-size="6.4" font-family="Liberation Sans, Arial, sans-serif" fill="#1a1a1a" stroke="#1a1a1a" stroke-width="0.12" >E18</text>
<text transform="translate(502.83,421.80) rotate(-27)" font-size="6.4" font-family="Liberation Sans, Arial, sans-serif" fill="#1a1a1a" stroke="#1a1a1a" stroke-width="0.12" >P0</text>
<text transform="translate(516.03,421.80) rotate(-27)" font-size="6.4" font-family="Liberation Sans, Arial, sans-serif" fill="#1a1a1a" stroke="#1a1a1a" stroke-width="0.12" >P3</text>
<text transform="translate(529.53,421.80) rotate(-27)" font-size="6.4" font-family="Liberation Sans, Arial, sans-serif" fill="#1a1a1a" stroke="#1a1a1a" stroke-width="0.12" >P6</text>
<text transform="translate(542.73,421.80) rotate(-27)" font-size="6.4" font-family="Liberation Sans, Arial, sans-serif" fill="#1a1a1a" stroke="#1a1a1a" stroke-width="0.12" >P9</text>
<rect x="469.90" y="429.30" width="13.53" height="4.90" fill="#5048b0" shape-rendering="crispEdges" />
<rect x="483.38" y="429.30" width="13.53" height="4.90" fill="#3f34a0" shape-rendering="crispEdges" />
<rect x="496.87" y="429.30" width="13.53" height="4.90" fill="#6a5cc0" shape-rendering="crispEdges" />
<rect x="510.35" y="429.30" width="13.53" height="4.90" fill="#7068c4" shape-rendering="crispEdges" />
<rect x="523.83" y="429.30" width="13.53" height="4.90" fill="#6a60c0" shape-rendering="crispEdges" />
<rect x="537.32" y="429.30" width="13.53" height="4.90" fill="#6a5cc0" shape-rendering="crispEdges" />
<rect x="469.90" y="456.30" width="13.53" height="4.60" fill="#4038a0" shape-rendering="crispEdges" />
<rect x="483.38" y="456.30" width="13.53" height="4.60" fill="#4038a0" shape-rendering="crispEdges" />
<rect x="496.87" y="456.30" width="13.53" height="4.60" fill="#7068c4" shape-rendering="crispEdges" />
<rect x="510.35" y="456.30" width="13.53" height="4.60" fill="#4a40a8" shape-rendering="crispEdges" />
<rect x="523.83" y="456.30" width="13.53" height="4.60" fill="#a098dc" shape-rendering="crispEdges" />
<rect x="537.32" y="456.30" width="13.53" height="4.60" fill="#6a5cc0" shape-rendering="crispEdges" />
<rect x="469.90" y="482.40" width="13.53" height="5.50" fill="#d8d0f4" shape-rendering="crispEdges" />
<rect x="483.38" y="482.40" width="13.53" height="5.50" fill="#d8d0f4" shape-rendering="crispEdges" />
<rect x="496.87" y="482.40" width="13.53" height="5.50" fill="#5048b0" shape-rendering="crispEdges" />
<rect x="510.35" y="482.40" width="13.53" height="5.50" fill="#4038a8" shape-rendering="crispEdges" />
<rect x="523.83" y="482.40" width="13.53" height="5.50" fill="#4038a8" shape-rendering="crispEdges" />
<rect x="537.32" y="482.40" width="13.53" height="5.50" fill="#7a70cc" shape-rendering="crispEdges" />
<rect x="469.90" y="509.00" width="13.53" height="5.20" fill="#5a4cb8" shape-rendering="crispEdges" />
<rect x="483.38" y="509.00" width="13.53" height="5.20" fill="#4038a0" shape-rendering="crispEdges" />
<rect x="496.87" y="509.00" width="13.53" height="5.20" fill="#4038a0" shape-rendering="crispEdges" />
<rect x="510.35" y="509.00" width="13.53" height="5.20" fill="#5a4cb8" shape-rendering="crispEdges" />
<rect x="523.83" y="509.00" width="13.53" height="5.20" fill="#4a40a8" shape-rendering="crispEdges" />
<rect x="537.32" y="509.00" width="13.53" height="5.20" fill="#4a40a8" shape-rendering="crispEdges" />
<rect x="469.90" y="534.00" width="13.53" height="4.70" fill="#3f36a0" shape-rendering="crispEdges" />
<rect x="483.38" y="534.00" width="13.53" height="4.70" fill="#3f36a0" shape-rendering="crispEdges" />
<rect x="496.87" y="534.00" width="13.53" height="4.70" fill="#3f36a0" shape-rendering="crispEdges" />
<rect x="510.35" y="534.00" width="13.53" height="4.70" fill="#3f36a0" shape-rendering="crispEdges" />
<rect x="523.83" y="534.00" width="13.53" height="4.70" fill="#3f36a0" shape-rendering="crispEdges" />
<rect x="537.32" y="534.00" width="13.53" height="4.70" fill="#3f36a0" shape-rendering="crispEdges" />
<text x="434.40" y="429.30" transform="rotate(0.1,434.40,429.30)" font-size="7.4" font-family="Liberation Sans, Arial, sans-serif" text-anchor="middle" fill="#111111" stroke="#111111" stroke-width="0.3" font-style="italic">MSTRG.8249.1</text>
<text x="434.60" y="438.50" transform="rotate(0.1,434.60,438.50)" font-size="7.4" font-family="Liberation Sans, Arial, sans-serif" text-anchor="middle" fill="#111111" stroke="#111111" stroke-width="0.3" font-style="italic">(Cadherin_C)</text>
<text x="434.20" y="455.80" transform="rotate(0.1,434.20,455.80)" font-size="7.4" font-family="Liberation Sans, Arial, sans-serif" text-anchor="middle" fill="#111111" stroke="#111111" stroke-width="0.3" font-style="italic">MSTRG.18685.1</text>
<text x="433.70" y="464.50" transform="rotate(0.1,433.70,464.50)" font-size="7.4" font-family="Liberation Sans, Arial, sans-serif" text-anchor="middle" fill="#111111" stroke="#111111" stroke-width="0.3" font-style="italic">(Ribosomal_L5_C)</text>
<text x="434.20" y="486.60" transform="rotate(0.1,434.20,486.60)" font-size="7.4" font-family="Liberation Sans, Arial, sans-serif" text-anchor="middle" fill="#111111" stroke="#111111" stroke-width="0.3" font-style="italic">MSTRG.17446.1</text>
<text x="434.20" y="512.20" transform="rotate(0.1,434.20,512.20)" font-size="7.4" font-family="Liberation Sans, Arial, sans-serif" text-anchor="middle" fill="#111111" stroke="#111111" stroke-width="0.3" font-style="italic">MSTRG.21639.1</text>
<text x="430.30" y="538.50" transform="rotate(0.1,430.30,538.50)" font-size="7.4" font-family="Liberation Sans, Arial, sans-serif" text-anchor="middle" fill="#111111" stroke="#111111" stroke-width="0.3" font-style="italic">Hprt</text>
<defs><filter id="bl" x="-50%" y="-100%" width="200%" height="300%"><feGaussianBlur stdDeviation="0.7"/></filter><filter id="bl2" x="-50%" y="-100%" width="200%" height="300%"><feGaussianBlur stdDeviation="1.4"/></filter><filter id="bl3" x="-50%" y="-150%" width="200%" height="400%"><feGaussianBlur stdDeviation="1.1"/></filter></defs>
<rect x="587.30" y="422.30" width="73.50" height="21.40" fill="#2a2a2a" shape-rendering="crispEdges" />
<text x="583.60" y="431.70" transform="rotate(0.1,583.60,431.70)" font-size="7.2" font-family="Liberation Sans, Arial, sans-serif" text-anchor="end" fill="#111111" stroke="#111111" stroke-width="0.3" >300 bp</text>
<line x1="583.9" y1="429.20" x2="587.5" y2="429.20" stroke="#1a1a1a" stroke-width="0.75"/>
<text x="583.60" y="439.50" transform="rotate(0.1,583.60,439.50)" font-size="7.2" font-family="Liberation Sans, Arial, sans-serif" text-anchor="end" fill="#111111" stroke="#111111" stroke-width="0.3" >200 bp</text>
<line x1="583.9" y1="437.00" x2="587.5" y2="437.00" stroke="#1a1a1a" stroke-width="0.75"/>
<text x="663.80" y="435.60" transform="rotate(0.1,663.80,435.60)" font-size="7.2" font-family="Liberation Sans, Arial, sans-serif" text-anchor="start" fill="#111111" stroke="#111111" stroke-width="0.28" font-style="italic">216 bp</text>
<rect x="588.80" y="430.50" width="15.30" height="7.70" rx="3.85" fill="#cfcfcf" filter="url(#bl2)"/>
<rect x="589.80" y="431.50" width="13.30" height="5.70" rx="2.85" fill="#ffffff" filter="url(#bl)"/>
<rect x="606.40" y="430.50" width="16.00" height="7.70" rx="3.85" fill="#cfcfcf" filter="url(#bl2)"/>
<rect x="607.40" y="431.50" width="14.00" height="5.70" rx="2.85" fill="#ffffff" filter="url(#bl)"/>
<rect x="625.10" y="430.50" width="16.30" height="7.70" rx="3.85" fill="#cfcfcf" filter="url(#bl2)"/>
<rect x="626.10" y="431.50" width="14.30" height="5.70" rx="2.85" fill="#ffffff" filter="url(#bl)"/>
<rect x="587.30" y="448.10" width="73.50" height="21.90" fill="#303030" shape-rendering="crispEdges" />
<text x="583.60" y="459.10" transform="rotate(0.1,583.60,459.10)" font-size="7.2" font-family="Liberation Sans, Arial, sans-serif" text-anchor="end" fill="#111111" stroke="#111111" stroke-width="0.3" >200 bp</text>
<line x1="583.9" y1="456.60" x2="587.5" y2="456.60" stroke="#1a1a1a" stroke-width="0.75"/>
<text x="583.60" y="468.20" transform="rotate(0.1,583.60,468.20)" font-size="7.2" font-family="Liberation Sans, Arial, sans-serif" text-anchor="end" fill="#111111" stroke="#111111" stroke-width="0.3" >100 bp</text>
<line x1="583.9" y1="465.70" x2="587.5" y2="465.70" stroke="#1a1a1a" stroke-width="0.75"/>
<text x="663.80" y="463.20" transform="rotate(0.1,663.80,463.20)" font-size="7.2" font-family="Liberation Sans, Arial, sans-serif" text-anchor="start" fill="#111111" stroke="#111111" stroke-width="0.28" font-style="italic">158 bp</text>
<rect x="590.20" y="459.10" width="10.70" height="3.00" rx="1.70" fill="#7a7a7a" filter="url(#bl3)"/>
<rect x="607.50" y="459.10" width="12.00" height="3.00" rx="1.70" fill="#6c6c6c" filter="url(#bl3)"/>
<rect x="626.50" y="459.10" width="13.00" height="3.00" rx="1.70" fill="#646464" filter="url(#bl3)"/>
<rect x="587.30" y="474.00" width="73.50" height="21.90" fill="#383838" shape-rendering="crispEdges" />
<text x="583.60" y="484.70" transform="rotate(0.1,583.60,484.70)" font-size="7.2" font-family="Liberation Sans, Arial, sans-serif" text-anchor="end" fill="#111111" stroke="#111111" stroke-width="0.3" >200 bp</text>
<line x1="583.9" y1="482.20" x2="587.5" y2="482.20" stroke="#1a1a1a" stroke-width="0.75"/>
<text x="583.60" y="495.20" transform="rotate(0.1,583.60,495.20)" font-size="7.2" font-family="Liberation Sans, Arial, sans-serif" text-anchor="end" fill="#111111" stroke="#111111" stroke-width="0.3" >100 bp</text>
<line x1="583.9" y1="492.70" x2="587.5" y2="492.70" stroke="#1a1a1a" stroke-width="0.75"/>
<text x="663.80" y="490.60" transform="rotate(0.1,663.80,490.60)" font-size="7.2" font-family="Liberation Sans, Arial, sans-serif" text-anchor="start" fill="#111111" stroke="#111111" stroke-width="0.28" font-style="italic">152 bp</text>
<rect x="593.40" y="486.60" width="11.20" height="2.80" rx="1.60" fill="#b4b4b4" filter="url(#bl3)"/>
<rect x="610.00" y="483.20" width="15.60" height="8.20" rx="4.10" fill="#cfcfcf" filter="url(#bl2)"/>
<rect x="611.00" y="484.20" width="13.60" height="6.20" rx="3.10" fill="#ffffff" filter="url(#bl)"/>
<rect x="628.30" y="483.75" width="15.60" height="7.70" rx="3.85" fill="#cfcfcf" filter="url(#bl2)"/>
<rect x="629.30" y="484.75" width="13.60" height="5.70" rx="2.85" fill="#ffffff" filter="url(#bl)"/>
<rect x="587.30" y="500.20" width="73.50" height="21.60" fill="#333333" shape-rendering="crispEdges" />
<text x="583.60" y="508.40" transform="rotate(0.1,583.60,508.40)" font-size="7.2" font-family="Liberation Sans, Arial, sans-serif" text-anchor="end" fill="#111111" stroke="#111111" stroke-width="0.3" >300 bp</text>
<line x1="583.9" y1="505.90" x2="587.5" y2="505.90" stroke="#1a1a1a" stroke-width="0.75"/>
<text x="583.60" y="518.30" transform="rotate(0.1,583.60,518.30)" font-size="7.2" font-family="Liberation Sans, Arial, sans-serif" text-anchor="end" fill="#111111" stroke="#111111" stroke-width="0.3" >200 bp</text>
<line x1="583.9" y1="515.80" x2="587.5" y2="515.80" stroke="#1a1a1a" stroke-width="0.75"/>
<text x="663.80" y="514.90" transform="rotate(0.1,663.80,514.90)" font-size="7.2" font-family="Liberation Sans, Arial, sans-serif" text-anchor="start" fill="#111111" stroke="#111111" stroke-width="0.28" font-style="italic">208 bp</text>
<rect x="592.50" y="511.40" width="13.00" height="3.00" rx="1.70" fill="#888888" filter="url(#bl3)"/>
<rect x="608.50" y="511.50" width="16.00" height="2.80" rx="1.60" fill="#5e5e5e" filter="url(#bl3)"/>
<rect x="628.50" y="511.50" width="14.00" height="2.80" rx="1.60" fill="#6a6a6a" filter="url(#bl3)"/>
<rect x="587.30" y="525.60" width="73.50" height="22.00" fill="#1e1e1e" shape-rendering="crispEdges" />
<text x="583.60" y="534.00" transform="rotate(0.1,583.60,534.00)" font-size="7.2" font-family="Liberation Sans, Arial, sans-serif" text-anchor="end" fill="#111111" stroke="#111111" stroke-width="0.3" >700 bp</text>
<line x1="583.9" y1="531.50" x2="587.5" y2="531.50" stroke="#1a1a1a" stroke-width="0.75"/>
<text x="583.60" y="543.10" transform="rotate(0.1,583.60,543.10)" font-size="7.2" font-family="Liberation Sans, Arial, sans-serif" text-anchor="end" fill="#111111" stroke="#111111" stroke-width="0.3" >600 bp</text>
<line x1="583.9" y1="540.60" x2="587.5" y2="540.60" stroke="#1a1a1a" stroke-width="0.75"/>
<text x="663.80" y="538.20" transform="rotate(0.1,663.80,538.20)" font-size="7.2" font-family="Liberation Sans, Arial, sans-serif" text-anchor="start" fill="#111111" stroke="#111111" stroke-width="0.28" font-style="italic">698 bp</text>
<rect x="591.30" y="534.70" width="14.80" height="3.60" rx="2.00" fill="#b8b8b8" filter="url(#bl3)"/>
<rect x="609.20" y="534.70" width="14.40" height="3.60" rx="2.00" fill="#c4c4c4" filter="url(#bl3)"/>
<rect x="628.40" y="534.70" width="12.50" height="3.60" rx="2.00" fill="#a8a8a8" filter="url(#bl3)"/>
<text transform="translate(594.32,419.50) rotate(-30)" font-size="6.9" font-family="Liberation Sans, Arial, sans-serif" fill="#1a1a1a" stroke="#1a1a1a" stroke-width="0.15" >E15.5</text>
<text transform="translate(615.42,419.40) rotate(-30)" font-size="6.9" font-family="Liberation Sans, Arial, sans-serif" fill="#1a1a1a" stroke="#1a1a1a" stroke-width="0.15" >P0</text>
<text transform="translate(631.12,419.10) rotate(-30)" font-size="6.9" font-family="Liberation Sans, Arial, sans-serif" fill="#1a1a1a" stroke="#1a1a1a" stroke-width="0.15" >P10</text>
<text transform="translate(648.94,411.60) rotate(-32)" font-size="6.3" font-family="Liberation Sans, Arial, sans-serif" fill="#1a1a1a" stroke="#1a1a1a" stroke-width="0.1" >-ve</text>
<text transform="translate(648.79,420.60) rotate(-32)" font-size="6.7" font-family="Liberation Sans, Arial, sans-serif" fill="#1a1a1a" stroke="#1a1a1a" stroke-width="0.1" font-style="italic">control</text></svg></body></html>
